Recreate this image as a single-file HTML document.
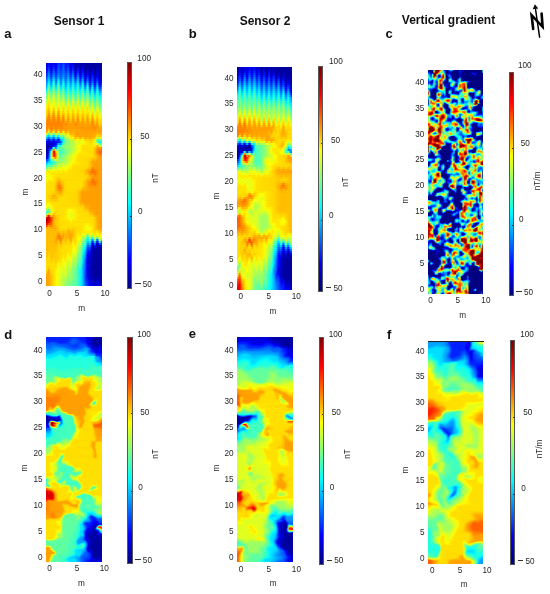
<!DOCTYPE html>
<html><head><meta charset="utf-8"><style>
html,body{margin:0;padding:0;background:#fff;}
body{width:550px;height:594px;position:relative;overflow:hidden;font-family:"Liberation Sans", Arial, sans-serif;}
.pn{position:absolute;overflow:hidden}
.pn i{display:block;width:100%;height:1px}
.cb{position:absolute;box-sizing:border-box;border:0.6px solid #555}
.tk{position:absolute;width:1.6px;height:1px;background:#333}
.mn{position:absolute;width:5.5px;height:1px;background:#333}
.t{position:absolute;white-space:nowrap;}
</style></head><body>
<div class="pn" style="left:46px;top:63px;width:56px;height:223px"><i style="height:2px;background:linear-gradient(90deg,#0000df,#0000e8 2px,#0011ff 3px,#0000df 4px,#0000df 6px,#0008ff 8px,#0000ec 9px,#0003ff 11px,#002bff 12px,#0037ff 13px,#0020ff 14px,#0020ff 16px,#0047ff 17px,#000aff 21px,#0030ff 22px,#0000fb 23px,#0000d0 26px,#0001ff 27px,#0000ba 28px,#0000a1 31px,#0000d7 32px,#00009f 33px,#0000ab 36px,#0000c4 37px,#00009f 38px,#00009f)"></i><i style="height:2px;background:linear-gradient(90deg,#0000df,#0000df 1px,#0002ff 2px,#002aff 3px,#0000e6 4px,#0000df 6px,#000cff 7px,#0021ff 8px,#0000ec 9px,#0003ff 11px,#0045ff 12px,#0050ff 13px,#0020ff 14px,#0020ff 16px,#0060ff 17px,#004cff 18px,#0020ff 19px,#0011ff 21px,#0044ff 22px,#0015ff 23px,#0000e7 24px,#0000e1 26px,#001aff 27px,#0000d1 28px,#0000ae 29px,#0000a3 30px,#0000ba 31px,#0000f0 32px,#0000ad 33px,#00009f 35px,#0000d9 37px,#0000a1 38px,#00009f)"></i><i style="height:2px;background:linear-gradient(90deg,#0000df,#0000df 1px,#001bff 2px,#0043ff 3px,#0000ff 4px,#0000df 5px,#0000e1 6px,#0025ff 7px,#003aff 8px,#0002ff 9px,#000fff 11px,#0053ff 12px,#005bff 13px,#002cff 14px,#0020ff 15px,#0036ff 16px,#0060ff 17px,#0060ff 18px,#0022ff 19px,#0016ff 20px,#002aff 21px,#0051ff 22px,#002eff 23px,#0000e7 24px,#0000dc 25px,#0000fa 26px,#0033ff 27px,#0000ea 28px,#0000ae 29px,#0000a3 30px,#000aff 32px,#00009f 34px,#00009f 35px,#0000dc 36px,#0000f2 37px,#0000b1 38px,#00009f 39px,#0000b5 42px,#00009f 43px,#00009f 45px,#0000b2 46px,#00009f 49px,#00009f 50px,#0000bc 51px,#0000a1 52px,#00009f)"></i><i style="height:2px;background:linear-gradient(90deg,#0000df,#0000f0 1px,#005cff 3px,#0019ff 4px,#0000df 5px,#0000fa 6px,#003eff 7px,#0052ff 8px,#001cff 9px,#0000f7 10px,#0059ff 12px,#005eff 13px,#0020ff 15px,#004fff 16px,#0060ff 18px,#0016ff 20px,#005eff 22px,#0041ff 23px,#0000f8 24px,#0000dc 25px,#0014ff 26px,#004eff 27px,#0004ff 28px,#0000b5 29px,#0000ad 30px,#0000ec 31px,#0025ff 32px,#0000df 33px,#00009f 34px,#0000b4 35px,#0000f5 36px,#000cff 37px,#0000c1 38px,#00009f 39px,#0000a7 40px,#0000c6 41px,#0000ce 42px,#00009f 43px,#00009f 45px,#0000cb 46px,#0000c4 47px,#00009f 48px,#00009f 50px,#0000d5 51px,#00009f 53px,#00009f)"></i><i style="height:2px;background:linear-gradient(90deg,#0000f9,#000aff 1px,#004dff 2px,#0075ff 3px,#0000ef 5px,#0014ff 6px,#0057ff 7px,#006bff 8px,#0000fd 10px,#0042ff 11px,#0061ff 12px,#005eff 14px,#0025ff 15px,#0060ff 16px,#006bff 17px,#0054ff 19px,#0025ff 20px,#0075ff 22px,#0053ff 23px,#0012ff 24px,#0000f5 25px,#002dff 26px,#0072ff 27px,#001dff 28px,#0000ce 29px,#0000c6 30px,#0007ff 31px,#004fff 32px,#0000f8 33px,#0000b6 34px,#0000cd 35px,#000fff 36px,#0025ff 37px,#0000d6 38px,#0000a5 39px,#0000ae 40px,#0000df 41px,#0000e7 42px,#0000a4 43px,#0000a1 45px,#0000e4 46px,#0000dd 47px,#00009f 48px,#0000ab 50px,#0000e4 51px,#0000d3 52px,#00009f 53px,#00009f 54px,#0000b5)"></i><i style="height:2px;background:linear-gradient(90deg,#0013ff,#0024ff 1px,#0066ff 2px,#008eff 3px,#0009ff 5px,#002eff 6px,#0070ff 7px,#0084ff 8px,#0017ff 10px,#007aff 12px,#007aff 13px,#003fff 15px,#0084ff 17px,#0060ff 19px,#003fff 20px,#0059ff 21px,#008eff 22px,#0066ff 23px,#002bff 24px,#0010ff 25px,#0047ff 26px,#0095ff 27px,#0036ff 28px,#0000e8 29px,#0000e0 30px,#0020ff 31px,#007aff 32px,#0012ff 33px,#0000cf 34px,#0000e6 35px,#0028ff 36px,#003eff 37px,#0000ef 38px,#0000b0 39px,#0000c1 40px,#0000f8 41px,#0001ff 42px,#0000be 43px,#00009f 44px,#0000ba 45px,#0000fd 46px,#0000f6 47px,#0000b4 48px,#00009f 49px,#0000eb 51px,#0000e1 52px,#0000aa 53px,#00009f 54px,#0000ce)"></i><i style="height:2px;background:linear-gradient(90deg,#002cff,#003dff 1px,#007fff 2px,#00a8ff 3px,#0022ff 5px,#0047ff 6px,#0089ff 7px,#009dff 8px,#005cff 9px,#0030ff 10px,#0093ff 12px,#0093ff 13px,#0060ff 14px,#0060ff 16px,#009dff 17px,#0089ff 18px,#0060ff 19px,#0056ff 20px,#0065ff 21px,#00a7ff 22px,#007fff 23px,#0041ff 24px,#0029ff 25px,#0063ff 26px,#00b1ff 27px,#0002ff 29px,#0000f9 30px,#009eff 32px,#0031ff 33px,#0000e8 34px,#0000ff 35px,#0042ff 36px,#005bff 37px,#000aff 38px,#0000bb 39px,#0000db 40px,#0013ff 41px,#001aff 42px,#0000d7 43px,#00009f 44px,#0000d4 45px,#0017ff 46px,#0010ff 47px,#00009f 49px,#0000dd 50px,#0000f4 51px,#0000c3 53px,#0000a5 54px,#0000df)"></i><i style="height:2px;background:linear-gradient(90deg,#0046ff,#0056ff 1px,#0098ff 2px,#00c4ff 3px,#003cff 5px,#0060ff 6px,#00a4ff 7px,#00ccff 8px,#0074ff 9px,#0043ff 10px,#006aff 11px,#00b9ff 12px,#00b9ff 13px,#006aff 14px,#0060ff 15px,#0074ff 16px,#00beff 17px,#00a3ff 18px,#0060ff 19px,#005aff 20px,#007eff 21px,#00c0ff 22px,#0098ff 23px,#0057ff 24px,#0042ff 25px,#00caff 27px,#0084ff 28px,#001bff 29px,#0013ff 30px,#007dff 31px,#00bfff 32px,#0003ff 34px,#001aff 35px,#008dff 37px,#0023ff 38px,#0000d4 39px,#0000f4 40px,#0032ff 41px,#0045ff 42px,#0000f0 43px,#0000ae 44px,#0000ed 45px,#0033ff 46px,#0029ff 47px,#0000e5 48px,#0000b5 49px,#0000ea 50px,#001fff 51px,#0000e7 52px,#0000bf 54px,#0000df)"></i><i style="height:2px;background:linear-gradient(90deg,#005fff,#006fff 1px,#00b1ff 2px,#00e0ff 3px,#0055ff 5px,#0079ff 6px,#00d2ff 7px,#00feff 8px,#008dff 9px,#0053ff 10px,#0083ff 11px,#00ebff 12px,#00ebff 13px,#0083ff 14px,#0060ff 15px,#008dff 16px,#00e1ff 17px,#00c1ff 18px,#0079ff 19px,#005eff 20px,#00d9ff 22px,#00b1ff 23px,#006fff 24px,#005cff 25px,#00e3ff 27px,#00a7ff 28px,#0039ff 29px,#0035ff 30px,#00a4ff 31px,#00dfff 32px,#001cff 34px,#0036ff 35px,#0089ff 36px,#00bfff 37px,#003cff 38px,#0000ee 39px,#000eff 40px,#0064ff 41px,#0074ff 42px,#000aff 43px,#0000c7 44px,#0007ff 45px,#0051ff 46px,#0043ff 47px,#0000fa 48px,#0000ce 49px,#0000f7 50px,#004aff 51px,#0016ff 52px,#0000df 53px,#0000df)"></i><i style="height:2px;background:linear-gradient(90deg,#0078ff,#0089ff 1px,#0bfff4 3px,#006eff 5px,#0093ff 6px,#01fffe 7px,#29ffd6 8px,#00adff 9px,#0065ff 10px,#009cff 11px,#1effe1 12px,#1effe1 13px,#009cff 14px,#0065ff 15px,#01fffe 17px,#00dfff 18px,#0093ff 19px,#006eff 20px,#00f2ff 22px,#00caff 23px,#0089ff 24px,#0076ff 25px,#00fcff 27px,#00c0ff 28px,#0066ff 29px,#0066ff 30px,#00c0ff 31px,#00f8ff 32px,#003cff 34px,#0053ff 35px,#00bbff 36px,#00e5ff 37px,#0063ff 38px,#0008ff 39px,#0027ff 40px,#0096ff 41px,#00a5ff 42px,#0026ff 43px,#0000e1 44px,#0020ff 45px,#0070ff 46px,#005cff 47px,#0010ff 48px,#0000e5 49px,#000eff 50px,#0078ff 51px,#0045ff 52px,#0000df 53px,#0000df 54px,#0008ff)"></i><i style="height:2px;background:linear-gradient(90deg,#0092ff,#00a2ff 1px,#00e8ff 2px,#3affc5 3px,#00d6ff 4px,#0088ff 5px,#00b4ff 6px,#26ffd9 7px,#42ffbd 8px,#00dfff 9px,#007eff 10px,#00ccff 11px,#38ffc7 12px,#38ffc7 13px,#00caff 14px,#007eff 15px,#00d1ff 16px,#1affe5 17px,#00faff 18px,#00acff 19px,#0088ff 20px,#0cfff3 22px,#00e3ff 23px,#00a2ff 24px,#0091ff 25px,#00d3ff 26px,#15ffea 27px,#00daff 28px,#0093ff 29px,#0098ff 30px,#00ddff 31px,#12ffed 32px,#00c8ff 33px,#005eff 34px,#0075ff 35px,#00e6ff 36px,#04fffb 37px,#0021ff 39px,#0050ff 40px,#00c6ff 41px,#00d7ff 42px,#0052ff 43px,#0000fa 44px,#0043ff 45px,#00a3ff 46px,#008aff 47px,#002cff 48px,#0000f5 49px,#0034ff 50px,#00aaff 51px,#0075ff 52px,#0000f1 53px,#0000df 54px,#003aff)"></i><i style="height:2px;background:linear-gradient(90deg,#00abff,#00bbff 1px,#1bffe4 2px,#64ff9b 3px,#00f8ff 4px,#00a2ff 5px,#00deff 6px,#43ffbc 7px,#5bffa4 8px,#13ffec 9px,#0097ff 10px,#00feff 11px,#51ffae 12px,#51ffae 13px,#00faff 14px,#0097ff 15px,#00f8ff 16px,#33ffcc 17px,#14ffeb 18px,#00c6ff 19px,#00a1ff 20px,#00e2ff 21px,#25ffda 22px,#00fcff 23px,#00bbff 24px,#00abff 25px,#00ecff 26px,#2effd1 27px,#00f3ff 28px,#00b1ff 29px,#00b5ff 30px,#00f6ff 31px,#2bffd4 32px,#00e9ff 33px,#0083ff 34px,#00a3ff 35px,#00ffff 36px,#21ffde 37px,#00c7ff 38px,#003bff 39px,#0083ff 40px,#00f6ff 41px,#0afff5 42px,#007dff 43px,#0015ff 44px,#0066ff 45px,#00d5ff 46px,#00bcff 47px,#0049ff 48px,#0007ff 49px,#005bff 50px,#00dcff 51px,#00a7ff 52px,#0025ff 53px,#0000e9 54px,#006dff)"></i><i style="height:2px;background:linear-gradient(90deg,#00c4ff,#00d4ff 1px,#4dffb2 2px,#7dff82 3px,#24ffdb 4px,#00c8ff 5px,#09fff6 6px,#60ff9f 7px,#74ff8b 8px,#33ffcc 9px,#00c2ff 10px,#29ffd6 11px,#6aff95 12px,#6aff95 13px,#23ffdc 14px,#00bdff 15px,#16ffe9 16px,#4cffb3 17px,#2dffd2 18px,#00dfff 19px,#00baff 20px,#00fcff 21px,#3effc1 22px,#17ffe8 23px,#00d4ff 24px,#00c4ff 25px,#06fff9 26px,#47ffb8 27px,#0dfff2 28px,#00cbff 29px,#00ceff 30px,#10ffef 31px,#44ffbb 32px,#03fffc 33px,#00adff 34px,#00d2ff 35px,#1affe5 36px,#3affc5 37px,#00eaff 38px,#006cff 39px,#00b5ff 40px,#24ffdb 41px,#2bffd4 42px,#00adff 43px,#0036ff 44px,#00f9ff 46px,#00e7ff 47px,#006bff 48px,#0026ff 49px,#00f6ff 51px,#00d9ff 52px,#0057ff 53px,#001dff 54px,#009fff)"></i><i style="height:2px;background:linear-gradient(90deg,#00deff,#00fcff 1px,#6fff90 2px,#96ff69 3px,#00edff 5px,#2bffd4 6px,#79ff86 7px,#8dff72 8px,#00f5ff 10px,#83ff7c 12px,#83ff7c 13px,#3cffc3 14px,#00e9ff 15px,#2fffd0 16px,#65ff9a 17px,#46ffb9 18px,#00f9ff 19px,#00d4ff 20px,#16ffe9 21px,#57ffa8 22px,#00eeff 24px,#00deff 25px,#1fffe0 26px,#60ff9f 27px,#26ffd9 28px,#00e4ff 29px,#00e7ff 30px,#29ffd6 31px,#5dffa2 32px,#1cffe3 33px,#00d7ff 34px,#00f1ff 35px,#33ffcc 36px,#53ffac 37px,#0dfff2 38px,#009fff 39px,#00e0ff 40px,#3dffc2 41px,#44ffbb 42px,#00dfff 43px,#005dff 44px,#00c2ff 45px,#13ffec 46px,#01fffe 47px,#0048ff 49px,#00beff 50px,#10ffef 51px,#00f5ff 52px,#008aff 53px,#004fff 54px,#00d1ff)"></i><i style="height:2px;background:linear-gradient(90deg,#10ffef,#30ffcf 1px,#88ff77 2px,#afff50 3px,#6fff90 4px,#14ffeb 5px,#92ff6d 7px,#a6ff59 8px,#24ffdb 10px,#9cff63 12px,#9cff63 13px,#13ffec 15px,#7eff81 17px,#5fffa0 18px,#13ffec 19px,#00edff 20px,#70ff8f 22px,#49ffb6 23px,#08fff7 24px,#00f7ff 25px,#79ff86 27px,#00fdff 29px,#02fffd 30px,#76ff89 32px,#00f4ff 34px,#0bfff4 35px,#4cffb3 36px,#6cff93 37px,#2cffd3 38px,#00cdff 39px,#0dfff2 40px,#56ffa9 41px,#5dffa2 42px,#11ffee 43px,#0085ff 44px,#00f5ff 45px,#2cffd3 46px,#1affe5 47px,#00d0ff 48px,#006fff 49px,#00e8ff 50px,#29ffd6 51px,#0ffff0 52px,#0082ff 54px,#00f1ff)"></i><i style="height:2px;background:linear-gradient(90deg,#42ffbd,#61ff9e 1px,#a2ff5d 2px,#c8ff37 3px,#3bffc4 5px,#abff54 7px,#bfff40 8px,#3effc1 10px,#b5ff4a 12px,#b5ff4a 13px,#2cffd3 15px,#97ff68 17px,#78ff87 18px,#2cffd3 19px,#07fff8 20px,#88ff77 22px,#62ff9d 23px,#21ffde 24px,#11ffee 25px,#92ff6d 27px,#18ffe7 29px,#1bffe4 30px,#8fff70 32px,#0efff1 34px,#25ffda 35px,#65ff9a 36px,#85ff7a 37px,#00f4ff 39px,#2effd1 40px,#6fff90 41px,#76ff89 42px,#2affd5 43px,#00b8ff 44px,#10ffef 45px,#45ffba 46px,#33ffcc 47px,#00f1ff 48px,#00a1ff 49px,#02fffd 50px,#42ffbd 51px,#28ffd7 52px,#00e7ff 53px,#00b5ff 54px,#0bfff4)"></i><i style="height:2px;background:linear-gradient(90deg,#6aff95,#7aff85 1px,#bbff44 2px,#e1ff1e 3px,#61ff9e 5px,#84ff7b 6px,#c4ff3b 7px,#d8ff27 8px,#57ffa8 10px,#ceff31 12px,#ceff31 13px,#46ffb9 15px,#b0ff4f 17px,#91ff6e 18px,#45ffba 19px,#21ffde 20px,#a1ff5e 22px,#7bff84 23px,#3bffc4 24px,#2affd5 25px,#abff54 27px,#31ffce 29px,#34ffcb 30px,#a8ff57 32px,#27ffd8 34px,#3effc1 35px,#7eff81 36px,#9eff61 37px,#1cffe3 39px,#47ffb8 40px,#88ff77 41px,#8fff70 42px,#43ffbc 43px,#00ebff 44px,#29ffd6 45px,#5effa1 46px,#4cffb3 47px,#0bfff4 48px,#00d4ff 49px,#1bffe4 50px,#5bffa4 51px,#42ffbd 52px,#01fffe 53px,#00e3ff 54px,#25ffda)"></i><i style="height:2px;background:linear-gradient(90deg,#84ff7b,#94ff6b 1px,#d4ff2b 2px,#f7ff08 3px,#7aff85 5px,#9dff62 6px,#ddff22 7px,#dfff20 8px,#70ff8f 10px,#dfff20 12px,#dfff20 13px,#5fffa0 15px,#c2ff3d 17px,#aaff55 18px,#5fffa0 19px,#3affc5 20px,#baff45 22px,#94ff6b 23px,#54ffab 24px,#44ffbb 25px,#c4ff3b 27px,#4affb5 29px,#4dffb2 30px,#c1ff3e 32px,#41ffbe 34px,#57ffa8 35px,#97ff68 36px,#b7ff48 37px,#37ffc8 39px,#61ff9e 40px,#a1ff5e 41px,#a8ff57 42px,#11ffee 44px,#77ff88 46px,#65ff9a 47px,#24ffdb 48px,#00f3ff 49px,#74ff8b 51px,#5bffa4 52px,#1affe5 53px,#00fdff 54px,#3effc1)"></i><i style="height:2px;background:linear-gradient(90deg,#9dff62,#adff52 1px,#edff12 2px,#fff100 3px,#d3ff2c 4px,#93ff6c 5px,#e3ff1c 7px,#caff35 9px,#8aff75 10px,#c0ff3f 11px,#dfff20 12px,#dfff20 13px,#baff45 14px,#79ff86 15px,#d2ff2d 17px,#bfff40 18px,#78ff87 19px,#54ffab 20px,#d3ff2c 22px,#adff52 23px,#6dff92 24px,#5dffa2 25px,#ddff22 27px,#63ff9c 29px,#67ff98 30px,#daff25 32px,#5affa5 34px,#70ff8f 35px,#b0ff4f 36px,#d0ff2f 37px,#50ffaf 39px,#7aff85 40px,#baff45 41px,#c1ff3e 42px,#2affd5 44px,#90ff6f 46px,#7eff81 47px,#0dfff2 49px,#8dff72 51px,#74ff8b 52px,#34ffcb 53px,#17ffe8 54px,#57ffa8)"></i><i style="height:2px;background:linear-gradient(90deg,#b6ff49,#c6ff39 1px,#fff800 2px,#ffe500 3px,#e8ff17 4px,#adff52 5px,#e7ff18 7px,#dfff20 9px,#a3ff5c 10px,#d9ff26 11px,#dfff20 13px,#d4ff2b 14px,#92ff6d 15px,#c4ff3b 16px,#e3ff1c 17px,#d3ff2c 18px,#91ff6e 19px,#6dff92 20px,#ecff13 22px,#c6ff39 23px,#86ff79 24px,#76ff89 25px,#f6ff09 27px,#7dff82 29px,#80ff7f 30px,#f3ff0c 32px,#73ff8c 34px,#8aff75 35px,#c9ff36 36px,#e9ff16 37px,#6aff95 39px,#93ff6c 40px,#d3ff2c 41px,#daff25 42px,#44ffbb 44px,#a9ff56 46px,#97ff68 47px,#27ffd8 49px,#a6ff59 51px,#8dff72 52px,#4dffb2 53px,#30ffcf 54px,#70ff8f)"></i><i style="height:2px;background:linear-gradient(90deg,#cfff30,#dfff20 1px,#ffdf00 2px,#ffe200 3px,#faff05 4px,#c6ff39 5px,#f1ff0e 7px,#fcff03 8px,#bcff43 10px,#f2ff0d 12px,#f2ff0d 13px,#dbff24 14px,#abff54 15px,#fcff03 17px,#e9ff16 18px,#aaff55 19px,#86ff79 20px,#fff900 22px,#dfff20 23px,#a0ff5f 24px,#90ff6f 25px,#ffef00 27px,#d6ff29 28px,#96ff69 29px,#99ff66 30px,#d9ff26 31px,#fff200 32px,#8dff72 34px,#a3ff5c 35px,#e2ff1d 36px,#fffc00 37px,#83ff7c 39px,#acff53 40px,#ecff13 41px,#f3ff0c 42px,#5dffa2 44px,#c2ff3d 46px,#b0ff4f 47px,#40ffbf 49px,#bfff40 51px,#a6ff59 52px,#66ff99 53px,#4affb5 54px,#89ff76)"></i><i style="height:2px;background:linear-gradient(90deg,#e9ff16,#f9ff06 1px,#ffdf00 2px,#ffdf00 3px,#fff300 4px,#dfff20 5px,#fff800 7px,#ffe900 8px,#dfff20 9px,#dfff20 11px,#fff300 12px,#fff300 13px,#c5ff3a 15px,#dbff24 16px,#ffe900 17px,#fffc00 18px,#c3ff3c 19px,#a0ff5f 20px,#dfff20 21px,#ffe000 22px,#f8ff07 23px,#b9ff46 24px,#a9ff56 25px,#e8ff17 26px,#ffdf00 27px,#efff10 28px,#afff50 29px,#b3ff4c 30px,#f2ff0d 31px,#ffdf00 32px,#e5ff1a 33px,#a6ff59 34px,#bcff43 35px,#fbff04 36px,#ffe300 37px,#dcff23 38px,#9cff63 39px,#fff900 41px,#fff200 42px,#76ff89 44px,#dbff24 46px,#c9ff36 47px,#59ffa6 49px,#d8ff27 51px,#bfff40 52px,#7fff80 53px,#63ff9c 54px,#a2ff5d)"></i><i style="height:2px;background:linear-gradient(90deg,#fffc00,#ffc700 3px,#ffeb00 4px,#ecff13 5px,#f4ff0b 6px,#ffd000 8px,#efff10 9px,#dfff20 10px,#e5ff1a 11px,#ffda00 12px,#ffda00 13px,#e5ff1a 14px,#d2ff2d 15px,#efff10 16px,#ffda00 17px,#ffe300 18px,#dcff23 19px,#b9ff46 20px,#f8ff07 21px,#ffdf00 22px,#ffed00 23px,#d2ff2d 24px,#c2ff3d 25px,#fffc00 26px,#ffdf00 27px,#fff600 28px,#c9ff36 29px,#ccff33 30px,#fff300 31px,#ffdf00 32px,#feff01 33px,#bfff40 34px,#d5ff2a 35px,#ffe900 36px,#ffdf00 37px,#f5ff0a 38px,#b6ff49 39px,#dfff20 40px,#ffe000 41px,#ffe400 42px,#daff25 43px,#90ff6f 44px,#f3ff0c 46px,#e2ff1d 47px,#73ff8c 49px,#f1ff0e 51px,#d8ff27 52px,#99ff66 53px,#7cff83 54px,#bbff44)"></i><i style="height:2px;background:linear-gradient(90deg,#ffe300,#ffd400 2px,#ffae00 3px,#ffe300 4px,#f9ff06 5px,#fffb00 6px,#ffca00 7px,#ffb700 8px,#fff600 9px,#dfff20 10px,#feff01 11px,#ffc100 12px,#ffc100 13px,#feff01 14px,#d9ff26 15px,#fff600 16px,#ffd000 17px,#ffdb00 18px,#f5ff0a 19px,#d2ff2d 20px,#ffed00 21px,#ffdf00 23px,#ebff14 24px,#dcff23 25px,#ffe300 26px,#ffdf00 28px,#e2ff1d 29px,#e5ff1a 30px,#ffdf00 31px,#ffe600 33px,#d9ff26 34px,#efff10 35px,#ffdf00 36px,#fff000 38px,#cfff30 39px,#f8ff07 40px,#ffdf00 41px,#ffe200 42px,#f4ff0b 43px,#a9ff56 44px,#fff700 46px,#fbff04 47px,#8cff73 49px,#fff400 51px,#f1ff0e 52px,#b2ff4d 53px,#96ff69 54px,#d5ff2a)"></i><i style="height:2px;background:linear-gradient(90deg,#ffdf00,#ffdf00 1px,#ff9a00 3px,#ffd400 4px,#fff800 5px,#ffea00 6px,#ffb100 7px,#ff9f00 8px,#ffdd00 9px,#e2ff1d 10px,#ffe600 11px,#ffa800 12px,#ffa800 13px,#ffe600 14px,#e2ff1d 15px,#ffde00 16px,#ffc600 17px,#fff000 19px,#ecff13 20px,#ffdf00 21px,#ffd200 22px,#f5ff0a 25px,#ffc700 27px,#fbff04 29px,#feff01 30px,#ffc800 32px,#f2ff0d 34px,#ffd800 37px,#ffdf00 38px,#e8ff17 39px,#ffed00 40px,#ffdf00 42px,#fff100 43px,#c3ff3c 44px,#f3ff0c 45px,#ffe300 46px,#ffea00 47px,#d5ff2a 48px,#a6ff59 49px,#e4ff1b 50px,#ffde00 51px,#fff400 52px,#cbff34 53px,#afff50 54px,#eeff11)"></i><i style="height:2px;background:linear-gradient(90deg,#ffdf00,#ffdf00 1px,#ffa100 2px,#ff8e00 3px,#ffec00 5px,#ffd700 6px,#ff9c00 7px,#ff9200 8px,#fcff03 10px,#ff9700 12px,#ff9700 13px,#fcff03 15px,#ffaa00 17px,#fff900 20px,#ffb300 22px,#ffdf00 23px,#fff000 25px,#ffdf00 26px,#ffa900 27px,#ffdf00 28px,#ffe600 30px,#ffdf00 31px,#ffa700 32px,#ffdf00 33px,#fff300 34px,#ffdf00 35px,#ffde00 36px,#ffbf00 37px,#fffc00 39px,#ffdf00 40px,#ffc800 42px,#ffea00 43px,#dcff23 44px,#fffa00 45px,#ffcb00 46px,#ffd200 47px,#eeff11 48px,#bfff40 49px,#feff01 50px,#ffd600 51px,#ffdf00 52px,#e4ff1b 53px,#c8ff37 54px,#fff700)"></i><i style="height:2px;background:linear-gradient(90deg,#ffd600,#ffc700 1px,#ff9400 2px,#ff8100 3px,#ffa100 4px,#ffdf00 5px,#ff8f00 7px,#ff8600 8px,#ffab00 9px,#ffe900 10px,#ff8a00 12px,#ff8a00 13px,#ffe900 15px,#ff8e00 17px,#ffa800 18px,#ffdf00 19px,#ffdf00 21px,#ff9400 22px,#ffc500 23px,#ffdf00 24px,#ffd700 26px,#ff9400 27px,#ffcd00 28px,#ffdf00 30px,#ffc700 31px,#ff8a00 32px,#ffda00 33px,#ffdf00 35px,#ffa600 37px,#ffdf00 38px,#ffdf00 40px,#ffbc00 41px,#ffaf00 42px,#ffe300 43px,#f5ff0a 44px,#ffea00 45px,#ffb200 46px,#ffb800 47px,#fff700 48px,#d8ff27 49px,#ffe700 50px,#ffcf00 51px,#ffdb00 52px,#feff01 53px,#e2ff1d 54px,#ffdf00)"></i><i style="height:2px;background:linear-gradient(90deg,#ffbd00,#ffae00 1px,#ff8700 2px,#ff8000 3px,#ff9400 4px,#ffc600 5px,#ff8300 7px,#ff8000 8px,#ff9800 9px,#ffd000 10px,#ff9d00 11px,#ff7f00 12px,#ff8000 13px,#ffd400 15px,#ff8300 17px,#ff8800 18px,#ffde00 19px,#ffdf00 20px,#ff9500 22px,#ffa800 23px,#ffdf00 24px,#ffdf00 25px,#ff9900 27px,#ffad00 28px,#ffdf00 29px,#ffdf00 30px,#ffa300 31px,#ff9300 32px,#ffdf00 34px,#ffdf00 35px,#ffac00 36px,#ff9f00 37px,#ffcb00 38px,#ffdf00 39px,#ffdf00 40px,#ffa300 41px,#ff9f00 42px,#ffd400 43px,#fff600 44px,#ffd700 45px,#ff9d00 46px,#ff9f00 47px,#ffde00 48px,#f2ff0d 49px,#ffbf00 51px,#fbff04 54px,#ffdf00)"></i><i style="height:2px;background:linear-gradient(90deg,#ff9f00,#ff8000 2px,#ff8700 4px,#ffa800 5px,#ff8000 7px,#ff8b00 9px,#ffb000 10px,#ff8000 12px,#ff8000 13px,#ff9300 14px,#ffbd00 15px,#ff9600 16px,#ff8600 18px,#ffbc00 19px,#ffdf00 20px,#ff9f00 21px,#ff9700 23px,#ffd000 24px,#ffdf00 25px,#ffa000 26px,#ff8e00 28px,#ffd700 29px,#ffd200 30px,#ff8400 31px,#ff9a00 32px,#ff9b00 33px,#ffdf00 34px,#ffcd00 35px,#ff9f00 36px,#ff9f00 37px,#ffb200 38px,#ffdf00 39px,#ff9f00 41px,#ff9e00 42px,#ffe800 44px,#ff9400 46px,#ff9500 47px,#ffed00 49px,#ffae00 51px,#ffdf00 53px,#ffdf00)"></i><i style="height:2px;background:linear-gradient(90deg,#ff9000,#ff8000 4px,#ff9400 5px,#ff8000 8px,#ff7f00 9px,#ff9800 10px,#ff8200 11px,#ff8300 14px,#ffa500 15px,#ff8000 16px,#ff8f00 18px,#ff9300 19px,#ffc000 20px,#ff8e00 21px,#ff9f00 22px,#ff9a00 23px,#ffc100 25px,#ff9a00 26px,#ff9300 28px,#ffaf00 29px,#ffa800 30px,#ff8e00 31px,#ff9f00 32px,#ff9300 33px,#ffbf00 34px,#ff9f00 36px,#ff9f00 38px,#ffcc00 39px,#ffaa00 40px,#ffa000 43px,#ffd300 44px,#ffa300 45px,#ff8c00 46px,#ff8a00 47px,#ffd400 49px,#ff9c00 51px,#ffdf00 53px,#ffd300)"></i><i style="height:2px;background:linear-gradient(90deg,#ff8200,#ff8000 14px,#ff8d00 15px,#ff8600 16px,#ff9800 18px,#ff8600 19px,#ff9e00 23px,#ff9a00 28px,#ff8200 30px,#ff9f00 32px,#ff9f00 38px,#ffad00 39px,#ff9d00 42px,#ff9c00 43px,#ffb400 44px,#ff8800 46px,#ff8000 47px,#ffbf00 49px,#ff9800 51px,#ffa100 52px,#ffd300 53px,#ffdf00 54px,#ffba00)"></i><i style="height:2px;background:linear-gradient(90deg,#ff8000,#ff9200 3px,#ff8000 5px,#ff8f00 8px,#ff8000 10px,#ff8c00 13px,#ff8100 15px,#ff9b00 18px,#ff8d00 20px,#ff9f00 22px,#ff9f00 28px,#ff9000 30px,#ff9f00 32px,#ff9d00 44px,#ff8b00 47px,#ff8f00 48px,#ffab00 49px,#ff9600 50px,#ff9c00 52px,#ffca00 54px,#ffa100)"></i><i style="height:2px;background:linear-gradient(90deg,#ff8000,#ff9b00 3px,#ff8000 5px,#ff9900 8px,#ff8000 10px,#ff9600 13px,#ff8600 15px,#ff9d00 18px,#ff9600 44px,#ff9600 47px,#ff8800 48px,#ff9e00 52px,#ffab00 54px,#ff9f00)"></i><i style="height:2px;background:linear-gradient(90deg,#ff8a00,#ff9c00 2px,#ffe600 3px,#ff9700 4px,#ff8800 5px,#ff9f00 7px,#ffcc00 8px,#ff9400 9px,#ff8600 10px,#ffaf00 12px,#ffaf00 13px,#ff9300 14px,#ff9900 16px,#ffbb00 17px,#ff9f00 18px,#ff9f00 21px,#ffb700 22px,#ff9f00 23px,#ffa900 27px,#ff9f00 37px,#ff9800 45px,#ff9f00 47px,#ff8f00 49px,#ffa600 51px,#ff9f00)"></i><i style="height:2px;background:linear-gradient(90deg,#ff9900,#ff9c00 1px,#f8ff07 2px,#a2ff5d 3px,#ffcd00 4px,#ff9700 5px,#ff9e00 6px,#e3ff1c 7px,#b8ff47 8px,#ffb700 9px,#ff9500 10px,#ffa200 11px,#dfff20 12px,#e3ff1c 13px,#ffa200 14px,#ff9800 15px,#ffb000 16px,#f6ff09 17px,#ffe600 18px,#ff9f00 19px,#ffb100 21px,#ffdd00 22px,#ff9f00 24px,#ffb400 27px,#ff9f00 30px,#ffa200 50px,#ffb400 51px,#ff9f00 54px,#ffa800)"></i><i style="height:2px;background:linear-gradient(90deg,#f8ff07,#dcff23 1px,#6fff90 2px,#2dffd2 3px,#fff600 5px,#ccff33 6px,#5effa1 7px,#3effc1 8px,#b1ff4e 9px,#ffe100 10px,#cbff34 11px,#6fff90 12px,#77ff88 13px,#dcff23 14px,#ffd300 15px,#e4ff1b 16px,#aaff55 17px,#ceff31 18px,#ffea00 19px,#ffc600 20px,#faff05 22px,#ffba00 24px,#ffb000 25px,#ffbf00 27px,#ffa000 30px,#ffa400 49px,#ffc400 52px,#ffaf00 54px,#ffc100)"></i><i style="height:2px;background:linear-gradient(90deg,#53ffac,#3cffc3 1px,#00deff 2px,#00b9ff 3px,#04fffb 4px,#61ff9e 5px,#2effd1 6px,#00d5ff 7px,#00c3ff 8px,#1dffe2 9px,#7eff81 10px,#00f6ff 12px,#02fffd 13px,#acff53 15px,#7bff84 16px,#5dffa2 17px,#82ff7d 18px,#c4ff3b 19px,#edff12 20px,#d3ff2c 22px,#f8ff07 23px,#ffca00 25px,#ffdd00 27px,#ffb900 28px,#ff9f00 31px,#ffb600 32px,#ff9f00 33px,#ffa100 36px,#ffaf00 37px,#ff9f00 39px,#ffad00 49px,#ffbd00 50px,#ffea00 51px,#ffca00 54px,#ffda00)"></i><i style="height:2px;background:linear-gradient(90deg,#00c7ff,#00b8ff 1px,#0079ff 2px,#0054ff 3px,#00d1ff 5px,#00aeff 6px,#0070ff 7px,#005eff 8px,#00f1ff 10px,#007fff 12px,#0085ff 13px,#00e7ff 14px,#3dffc2 15px,#23ffdc 16px,#1effe1 17px,#90ff6f 19px,#b0ff4f 20px,#adff52 22px,#fcff03 24px,#ffe800 25px,#efff10 27px,#ffe800 28px,#ffbd00 29px,#ffb300 30px,#ffe800 32px,#ffaa00 34px,#ffb500 35px,#ffd300 36px,#ffdd00 37px,#ffa400 39px,#ffbf00 42px,#ffa000 44px,#ffbe00 46px,#ffba00 49px,#fff700 50px,#b5ff4a 51px,#adff52 52px,#e6ff19 53px,#fff500 54px,#bbff44)"></i><i style="height:2px;background:linear-gradient(90deg,#0063ff,#0053ff 1px,#0015ff 2px,#0000ee 3px,#006cff 5px,#004aff 6px,#000bff 7px,#0000f8 8px,#0083ff 10px,#0008ff 12px,#000aff 13px,#00d9ff 15px,#00d1ff 16px,#00dfff 17px,#28ffd7 18px,#75ff8a 19px,#92ff6d 20px,#86ff79 22px,#e4ff1b 25px,#bdff42 27px,#fff000 29px,#ffe600 30px,#fdff02 31px,#e4ff1b 32px,#fffb00 33px,#ffdc00 34px,#f9ff06 36px,#f4ff0b 37px,#ffc800 39px,#ffd800 42px,#ffb900 44px,#ffd700 46px,#ffd600 47px,#fff500 49px,#baff45 50px,#55ffaa 51px,#3cffc3 52px,#8bff74 54px,#3dffc2)"></i><i style="height:2px;background:linear-gradient(90deg,#0000fd,#0000d3 2px,#0000cc 3px,#0000db 4px,#0007ff 5px,#0000e4 6px,#0000e3 9px,#0015ff 10px,#0000e3 11px,#0029ff 12px,#003bff 13px,#0008ff 14px,#0076ff 15px,#0098ff 16px,#07fff8 17px,#5affa5 19px,#75ff8a 20px,#9eff61 24px,#b2ff4d 25px,#baff45 27px,#e6ff19 30px,#e3ff1c 33px,#f0ff0f 34px,#e5ff1a 35px,#faff05 38px,#ffec00 39px,#ffdf00 43px,#ffd200 44px,#ffdf00 47px,#ecff13 48px,#cdff32 49px,#87ff78 50px,#94ff6b 51px,#4fffb0 52px,#00e9ff 53px,#0dfff2 54px,#07fff8)"></i><i style="height:2px;background:linear-gradient(90deg,#0000cd,#0000b6 3px,#0000d7 5px,#0000e4 8px,#0002ff 9px,#0000fc 10px,#0037ff 11px,#0098ff 12px,#00c5ff 13px,#0094ff 14px,#0083ff 15px,#00f7ff 16px,#4fffb0 17px,#73ff8c 19px,#97ff68 23px,#efff10 33px,#f2ff0d 35px,#ffee00 37px,#fff500 39px,#ffdf00 43px,#ffdf00 47px,#fffa00 48px,#cfff30 49px,#d5ff2a 50px,#fdff02 51px,#d3ff2c 52px,#6bff94 53px,#41ffbe 54px,#9eff61)"></i><i style="height:2px;background:linear-gradient(90deg,#0000b4,#0000a1 2px,#0000df 7px,#0033ff 8px,#001fff 9px,#0036ff 10px,#008bff 11px,#03fffc 12px,#3fffc0 13px,#00f9ff 15px,#56ffa9 16px,#82ff7d 17px,#92ff6d 18px,#8cff73 20px,#9fff60 23px,#aeff51 26px,#fbff04 33px,#fff700 35px,#ffe000 36px,#ffe300 40px,#ffe200 48px,#fffc00 49px,#ffae00 51px,#ffa700 52px,#fffc00 53px,#d8ff27 54px,#ffc900)"></i><i style="height:2px;background:linear-gradient(90deg,#00009f,#00009f 2px,#0000e1 3px,#0000fd 4px,#0000cb 5px,#002cff 6px,#09fff6 7px,#8eff71 8px,#00d3ff 9px,#006fff 10px,#00fdff 11px,#4fffb0 12px,#47ffb8 13px,#6fff90 15px,#69ff96 17px,#9eff61 20px,#8fff70 22px,#dcff23 30px,#fff500 34px,#ffdf00 37px,#ffdf00 47px,#ffb600 50px,#ff9100 52px,#ff9d00 54px,#ff8d00)"></i><i style="height:2px;background:linear-gradient(90deg,#00009f,#00009f 2px,#000eff 3px,#0069ff 4px,#0076ff 5px,#15ffea 6px,#ffcd00 7px,#ff1700 8px,#eaff15 9px,#40ffbf 10px,#8dff72 11px,#9bff64 12px,#50ffaf 13px,#3fffc0 14px,#58ffa7 15px,#50ffaf 17px,#89ff76 20px,#83ff7c 22px,#feff01 33px,#ffdf00 37px,#ffdf00 47px,#ffa900 50px,#ff7b00 52px,#ff8400 54px,#ff7400)"></i><i style="height:2px;background:linear-gradient(90deg,#00009f,#0000aa 2px,#0027ff 3px,#00c4ff 4px,#21ffde 5px,#feff01 6px,#ff4300 7px,#ba0000 8px,#ff1200 9px,#ffeb00 10px,#ffe100 11px,#c0ff3f 12px,#5fffa0 13px,#26ffd9 14px,#3fffc0 15px,#3effc1 16px,#59ffa6 17px,#61ff9e 19px,#79ff86 21px,#94ff6b 22px,#a3ff5c 25px,#d0ff2f 27px,#dcff23 30px,#fffd00 32px,#ffdf00 37px,#ffdf00 47px,#ff6300 53px,#ff6400)"></i><i style="height:2px;background:linear-gradient(90deg,#0000af,#0000c3 2px,#0039ff 3px,#00ceff 4px,#6fff90 5px,#ffec00 6px,#ff5400 7px,#d30000 8px,#ff2100 9px,#ffdb00 11px,#ccff33 12px,#74ff8b 13px,#3effc1 14px,#3cffc3 15px,#72ff8d 17px,#78ff87 20px,#adff52 22px,#b3ff4c 25px,#e9ff16 27px,#e2ff1d 29px,#fff900 31px,#ffeb00 32px,#ffe600 35px,#ffdf00 47px,#ffab00 50px,#ff9000 52px,#ff7500 53px,#ff6e00 54px,#ff7e00)"></i><i style="height:2px;background:linear-gradient(90deg,#0000c9,#0000dc 2px,#0052ff 3px,#00d8ff 4px,#70ff8f 5px,#fff400 6px,#ff6500 7px,#ff0600 8px,#ff3100 9px,#ffd900 11px,#d5ff2a 12px,#88ff77 13px,#57ffa8 14px,#55ffaa 15px,#89ff76 17px,#91ff6e 20px,#c0ff3f 22px,#ccff33 25px,#f9ff06 27px,#fff700 30px,#ffdf00 32px,#ffde00 47px,#ffa600 52px,#ff8700 54px,#ff9700)"></i><i style="height:2px;background:linear-gradient(90deg,#0000e7,#0000f2 1px,#0022ff 2px,#00d6ff 4px,#70ff8f 5px,#dfff20 6px,#fffd00 7px,#ff8c00 9px,#ff8700 10px,#fff900 11px,#b2ff4d 12px,#6fff90 14px,#6fff90 15px,#98ff67 18px,#fff900 28px,#ffdf00 32px,#ffd800 45px,#ffc600 47px,#ffc900 49px,#ffa400 52px,#ff9f00)"></i><i style="height:2px;background:linear-gradient(90deg,#0033ff,#003fff 1px,#00ceff 4px,#36ffc9 5px,#74ff8b 6px,#64ff9b 7px,#6dff92 8px,#d6ff29 9px,#fff200 10px,#b9ff46 11px,#8eff71 12px,#82ff7d 15px,#9dff62 18px,#fff900 28px,#ffdf00 32px,#ffd500 44px,#ffad00 47px,#ffba00 49px,#ffa100 52px,#ff9f00)"></i><i style="height:2px;background:linear-gradient(90deg,#007fff,#008aff 1px,#00e3ff 3px,#00ccff 4px,#00fbff 5px,#23ffdc 7px,#41ffbe 8px,#39ffc6 9px,#98ff67 10px,#6dff92 11px,#a2ff5d 13px,#94ff6b 15px,#afff50 17px,#9fff60 19px,#b7ff48 21px,#d2ff2d 22px,#e3ff1c 25px,#fff900 27px,#ffdf00 33px,#ffd900 42px,#ffa100 47px,#ffa900 49px,#ff9f00)"></i><i style="height:2px;background:linear-gradient(90deg,#00caff,#00d6ff 1px,#06fff9 2px,#2cffd3 3px,#00fbff 5px,#59ffa6 7px,#73ff8c 8px,#5fffa0 10px,#aeff51 12px,#beff41 13px,#a9ff56 15px,#c8ff37 17px,#b6ff49 20px,#ebff14 22px,#f0ff0f 25px,#ffea00 27px,#ffd900 42px,#ff9f00 48px,#ff9f00)"></i><i style="height:2px;background:linear-gradient(90deg,#17ffe8,#22ffdd 1px,#74ff8b 3px,#3bffc4 5px,#90ff6f 7px,#a5ff5a 8px,#88ff77 10px,#ceff31 12px,#d9ff26 13px,#c2ff3d 15px,#e1ff1e 17px,#cfff30 20px,#fffc00 22px,#fff600 25px,#ffdf00 27px,#ffd800 42px,#ff9f00 48px,#ff9f00)"></i><i style="height:2px;background:linear-gradient(90deg,#62ff9d,#6eff91 1px,#bdff42 3px,#7bff84 5px,#c6ff39 7px,#d7ff28 8px,#b1ff4e 10px,#eeff11 12px,#f5ff0a 13px,#dbff24 15px,#faff05 17px,#e8ff17 20px,#feff01 21px,#ffdf00 26px,#ffd900 40px,#ffbf00 42px,#ffc300 44px,#ff9200 46px,#ff8800 47px,#ff9f00 49px,#ff9f00)"></i><i style="height:2px;background:linear-gradient(90deg,#aeff51,#b9ff46 1px,#e8ff17 2px,#fff900 3px,#baff45 5px,#fcff03 7px,#fff600 8px,#daff25 10px,#fff000 12px,#f4ff0b 15px,#ffea00 17px,#fdff02 20px,#ffe300 22px,#ffd500 37px,#ffc700 40px,#ffa600 42px,#ffae00 44px,#ff7900 46px,#ff6f00 47px,#ff9100 49px,#ff9f00)"></i><i style="height:2px;background:linear-gradient(90deg,#f9ff06,#ffe600 2px,#ffed00 3px,#ffe000 4px,#f9ff06 5px,#ffdf00 8px,#ffe200 9px,#fffb00 10px,#ffdf00 12px,#fff000 15px,#ffdf00 17px,#ffec00 20px,#ffdf00 23px,#ffd600 37px,#ffa700 42px,#ff9100 43px,#ff9500 44px,#ff7b00 45px,#ff6e00 48px,#ff9f00 53px,#ff9f00)"></i><i style="height:2px;background:linear-gradient(90deg,#ffec00,#fbff04 3px,#ffe400 5px,#ffdb00 37px,#ffbf00 40px,#ffc000 42px,#ff8a00 44px,#ff9200 46px,#ff7b00 49px,#ff9c00 52px,#ff9f00)"></i><i style="height:2px;background:linear-gradient(90deg,#f9ff06,#e9ff16 3px,#fff100 5px,#ffdf00 11px,#ffda00 38px,#ffd100 40px,#ffd900 42px,#ffa300 44px,#ffab00 46px,#ff8c00 49px,#ff9f00 52px,#ff9f00)"></i><i style="height:2px;background:linear-gradient(90deg,#e0ff1f,#fffe00 3px,#fff300 6px,#ffdd00 9px,#ffca00 13px,#ffdf00 15px,#ffdf00 28px,#ffdb00 40px,#ffc100 42px,#ffbc00 44px,#ff8a00 47px,#ff9c00 49px,#ff9f00)"></i><i style="height:2px;background:linear-gradient(90deg,#f7ff08,#ffe800 3px,#fff500 5px,#ffcd00 11px,#ffb300 13px,#ffd100 15px,#ffd600 18px,#ffde00 36px,#ffc800 40px,#ffa700 42px,#ffb000 44px,#ff7b00 46px,#ff7100 47px,#ff9200 49px,#ff9f00)"></i><i style="height:2px;background:linear-gradient(90deg,#ffed00,#ffe000 4px,#ffde00 8px,#ffbf00 11px,#ff9c00 13px,#ffbe00 15px,#ffd100 18px,#ffdf00 21px,#ffde00 36px,#ffb600 40px,#ff9300 43px,#ff9700 44px,#ff7500 46px,#ff6f00 48px,#ff9f00 53px,#ff9f00)"></i><i style="height:2px;background:linear-gradient(90deg,#ffdf00,#ffdd00 8px,#ffb100 11px,#ff8500 13px,#ffac00 15px,#ffcc00 18px,#ffdf00 20px,#ffde00 36px,#ff8400 45px,#ff7a00 49px,#ff9b00 52px,#ff9f00)"></i><i style="height:2px;background:linear-gradient(90deg,#ffdf00,#ffdd00 8px,#ffa300 11px,#ff6e00 13px,#ff9a00 15px,#ffc700 18px,#ffdd00 19px,#ffde00 36px,#ff9f00 42px,#ff9400 45px,#ff9b00 47px,#ff8a00 49px,#ff9f00 52px,#ff9f00)"></i><i style="height:2px;background:linear-gradient(90deg,#ffdf00,#ffdd00 8px,#ff7f00 13px,#ff7000 14px,#ffdd00 19px,#ffdd00 35px,#ffbe00 37px,#ffaf00 40px,#ff9c00 44px,#ff9f00)"></i><i style="height:2px;background:linear-gradient(90deg,#ffdf00,#ffde00 8px,#ffaa00 11px,#ff8700 14px,#ff8f00 15px,#ffcf00 18px,#ffdf00 21px,#ffda00 31px,#ffc800 35px,#ffaa00 37px,#ffb300 39px,#ff9f00 43px,#ff9f00)"></i><i style="height:2px;background:linear-gradient(90deg,#ffdf00,#ffd200 9px,#ffb800 11px,#ffa100 15px,#ffd400 18px,#ffdf00 29px,#ffb300 35px,#ff9f00 36px,#ff9f00)"></i><i style="height:2px;background:linear-gradient(90deg,#ffdf00,#ffd500 6px,#ffbc00 8px,#ffc600 10px,#ffb400 15px,#ffd900 18px,#ffd700 31px,#ff9f00 36px,#ff9f00)"></i><i style="height:2px;background:linear-gradient(90deg,#ffdf00,#ffc400 6px,#ffa300 8px,#ffc000 10px,#ffd500 13px,#ffc600 15px,#ffde00 18px,#ffd700 31px,#ff9f00 36px,#ff9f00)"></i><i style="height:2px;background:linear-gradient(90deg,#ffdf00,#ffce00 4px,#ffb600 6px,#ffba00 10px,#ffdf00 14px,#ffd700 31px,#ff9f00 36px,#ff9f00)"></i><i style="height:2px;background:linear-gradient(90deg,#ffdf00,#ffd600 4px,#ffc700 6px,#ffcf00 8px,#ffc100 10px,#ffdd00 13px,#ffd700 31px,#ff9f00 36px,#ff9f00)"></i><i style="height:2px;background:linear-gradient(90deg,#ffdf00,#ffe900 3px,#ffd800 6px,#ffda00 9px,#ffd100 10px,#ffdf00 15px,#ffd700 31px,#ffa200 36px,#ff9f00)"></i><i style="height:2px;background:linear-gradient(90deg,#ffe700,#ffff00 3px,#ffe200 5px,#ffd700 32px,#ffb400 35px,#ffbc00 37px,#ffa100 39px,#ff9f00)"></i><i style="height:2px;background:linear-gradient(90deg,#feff01,#e9ff16 3px,#ffff00 4px,#ffdf00 8px,#ffd700 33px,#ffc900 35px,#ffd000 37px,#ffad00 39px,#ff9f00 47px,#ff9f00)"></i><i style="height:2px;background:linear-gradient(90deg,#e5ff1a,#e1ff1e 1px,#b7ff48 2px,#abff54 3px,#e3ff1c 4px,#fffc00 5px,#ffdf00 9px,#ffe200 21px,#ffe800 23px,#ffe600 26px,#ffe400 28px,#ffd700 37px,#ffb100 40px,#ffb100 42px,#ff9f00 44px,#ff9f00)"></i><i style="height:2px;background:linear-gradient(90deg,#a6ff59,#9aff65 1px,#6bff94 2px,#69ff96 3px,#e4ff1b 5px,#fffd00 7px,#ffdf00 8px,#ffe200 20px,#fffa00 23px,#fffa00 26px,#ffee00 28px,#ffdf00 34px,#ffd300 38px,#ffc400 40px,#ffc800 42px,#ffa700 44px,#ff9f00)"></i><i style="height:2px;background:linear-gradient(90deg,#5affa5,#4fffb0 1px,#20ffdf 2px,#8aff75 3px,#7aff85 4px,#bdff42 5px,#fbff04 7px,#ffd800 8px,#ffe600 20px,#f2ff0d 23px,#fff800 28px,#ffdf00 31px,#ffd600 40px,#ffda00 42px,#ffb500 44px,#ff9f00 50px,#ff9f00)"></i><i style="height:2px;background:linear-gradient(90deg,#53ffac,#76ff89 1px,#fffc00 2px,#ffaa00 3px,#eaff15 4px,#acff53 5px,#f5ff0a 6px,#ffc900 7px,#ffc000 8px,#ffde00 10px,#ffdf00 19px,#f2ff0d 23px,#e3ff1c 25px,#ffee00 29px,#ffdf00 34px,#ffdc00 42px,#ffc100 45px,#ffbd00 47px,#ffa100 49px,#ff9f00)"></i><i style="height:2px;background:linear-gradient(90deg,#ffc800,#ffa500 1px,#ff1900 2px,#e00000 3px,#ff6f00 4px,#ffd100 5px,#ff9000 7px,#ffcf00 10px,#ffe900 20px,#f2ff0d 23px,#e3ff1c 25px,#ffee00 29px,#ffdf00 34px,#ffd900 43px,#ffd000 45px,#ffd600 47px,#ffb100 49px,#ff9f00)"></i><i style="height:2px;background:linear-gradient(90deg,#e50000,#ab0000 2px,#f10000 4px,#ff4f00 5px,#ff4f00 6px,#ffaa00 8px,#ffdf00 14px,#ffe900 20px,#fbff04 23px,#e3ff1c 25px,#fff700 27px,#ffdf00 33px,#ffdf00 47px,#ff9f00 53px,#ff9f00)"></i><i style="height:2px;background:linear-gradient(90deg,#b10000,#c40000 2px,#eb0000 3px,#ff0800 4px,#ff2700 5px,#ffb600 8px,#ffc800 11px,#ffdf00 15px,#ffe800 22px,#f3ff0c 25px,#ffe800 27px,#ffdf00 47px,#ff9f00 53px,#ff9f00)"></i><i style="height:2px;background:linear-gradient(90deg,#ca0000,#dd0000 2px,#ff1300 3px,#ff1d00 4px,#ff3a00 5px,#ff9b00 7px,#ffbd00 8px,#ffdf00 15px,#ffe000 23px,#fff300 25px,#ffdf00 27px,#ffdf00 47px,#ff9f00 53px,#ff9f00)"></i><i style="height:2px;background:linear-gradient(90deg,#ed0000,#fb0000 1px,#ff5e00 3px,#ff4b00 4px,#ff4e00 5px,#ff9f00 7px,#ffcb00 10px,#ffdf00 17px,#ffe700 40px,#fffa00 42px,#ffdf00 44px,#ffe000 47px,#ff9f00 53px,#ff9f00)"></i><i style="height:2px;background:linear-gradient(90deg,#ff4600,#ff5400 1px,#ff8a00 2px,#ffaa00 3px,#ff8500 4px,#ff7600 5px,#ffa300 7px,#ffdf00 14px,#ffe000 36px,#fffa00 40px,#edff12 42px,#ffec00 44px,#ffe000 47px,#ff9f00 53px,#ff9f00)"></i><i style="height:2px;background:linear-gradient(90deg,#ff9e00,#ffbf00 2px,#ffb600 4px,#ff9d00 5px,#ffac00 9px,#ffdf00 15px,#ffdd00 21px,#ffd000 22px,#ffdf00 25px,#ffd200 27px,#ffdf00 33px,#ffe800 37px,#f1ff0e 41px,#f1ff0e 43px,#fff700 45px,#ffbf00 50px,#ffb100 52px,#ff9f00 54px,#ffa400)"></i><i style="height:2px;background:linear-gradient(90deg,#ffbf00,#ffb400 9px,#ffdb00 15px,#ffcc00 18px,#ffd900 20px,#ffbb00 22px,#ffd200 25px,#ffc200 27px,#ffde00 30px,#ffe300 37px,#fffe00 40px,#fff200 42px,#fffe00 44px,#ffcd00 49px,#ffc900 52px,#ffab00 54px,#ffbd00)"></i><i style="height:2px;background:linear-gradient(90deg,#ffbf00,#ffb900 13px,#ffd000 15px,#ffbb00 17px,#ffcc00 20px,#ffaa00 23px,#ffbd00 25px,#ffba00 27px,#ffdd00 30px,#ffdf00 36px,#ffef00 37px,#ffe300 38px,#fff100 39px,#ffea00 41px,#fffa00 42px,#ffe900 43px,#fff200 44px,#ffe500 45px,#ffe700 47px,#ffd400 49px,#ffeb00 51px,#ffc200 54px,#ffd700)"></i><i style="height:2px;background:linear-gradient(90deg,#ffbf00,#ffb800 11px,#ff9c00 12px,#ff9400 13px,#ffc500 15px,#ffab00 17px,#ffbf00 20px,#ffa700 25px,#ffec00 32px,#ffe100 35px,#fffb00 36px,#e3ff1c 37px,#fffe00 38px,#ffe400 39px,#fff300 40px,#b0ff4f 41px,#9cff63 42px,#f9ff06 43px,#ffe600 44px,#fffa00 45px,#d0ff2f 46px,#ffed00 48px,#ffdc00 49px,#efff10 51px,#fffe00 52px,#ffd900 54px,#fff000)"></i><i style="height:2px;background:linear-gradient(90deg,#ffbf00,#ffb900 10px,#ff6f00 13px,#ffb300 15px,#ff9c00 17px,#ffbe00 19px,#ffa300 25px,#fff400 32px,#ffeb00 34px,#fff500 35px,#e8ff17 36px,#b8ff47 37px,#cbff34 38px,#fbff04 39px,#beff41 40px,#4dffb2 41px,#34ffcb 42px,#a4ff5b 43px,#fffd00 44px,#8fff70 46px,#aaff55 47px,#e5ff1a 48px,#fff300 49px,#c9ff36 51px,#fffb00 53px,#ffef00 54px,#f5ff0a)"></i><i style="height:2px;background:linear-gradient(90deg,#ffbf00,#ffbe00 8px,#ffad00 10px,#ff9000 11px,#ff8600 13px,#ff7100 14px,#ff9b00 15px,#ff8c00 16px,#ffb300 17px,#ffba00 20px,#ffb600 21px,#ffc600 22px,#ffa300 24px,#ffb300 26px,#ffce00 27px,#ffd000 29px,#fffd00 32px,#f5ff0a 35px,#9cff63 37px,#97ff68 38px,#bfff40 39px,#1effe1 41px,#07fff8 42px,#4effb1 43px,#bcff43 44px,#7dff82 45px,#10ffef 46px,#22ffdd 47px,#b8ff47 48px,#e5ff1a 49px,#c1ff3e 50px,#00fdff 51px,#57ffa8 52px,#ebff14 53px,#f8ff07 54px,#c2ff3d)"></i><i style="height:2px;background:linear-gradient(90deg,#ffbf00,#ffbf00 8px,#ff9900 11px,#ffaf00 12px,#ffab00 13px,#ff8200 14px,#ff8200 15px,#ffcb00 17px,#ffba00 20px,#ffdb00 22px,#ffac00 24px,#ffa400 25px,#ffdf00 27px,#ffd100 29px,#f9ff06 32px,#f5ff0a 34px,#e1ff1e 35px,#81ff7e 37px,#83ff7c 39px,#03fffc 41px,#00dfff 42px,#10ffef 43px,#78ff87 44px,#1fffe0 45px,#0087ff 46px,#0083ff 47px,#41ffbe 48px,#c0ff3f 49px,#15ffea 50px,#0031ff 51px,#0089ff 52px,#80ff7f 53px,#e1ff1e 54px,#00f6ff)"></i><i style="height:2px;background:linear-gradient(90deg,#ffbf00,#ffba00 9px,#ffa300 10px,#ffc400 12px,#ffc500 13px,#ff8a00 15px,#ffbc00 16px,#ffd600 17px,#ffd100 19px,#ffc500 20px,#ffdf00 22px,#ffdf00 23px,#ffc200 24px,#ffb900 25px,#ffea00 27px,#ffd700 29px,#ffef00 31px,#deff21 32px,#e6ff19 34px,#cdff32 35px,#61ff9e 37px,#64ff9b 39px,#2cffd3 40px,#00dfff 41px,#00aeff 42px,#00d6ff 43px,#32ffcd 44px,#00b8ff 45px,#0029ff 46px,#000eff 47px,#00a7ff 48px,#4dffb2 49px,#0065ff 50px,#0000d9 51px,#0000e1 52px,#00c0ff 53px,#3bffc4 54px,#002cff)"></i><i style="height:2px;background:linear-gradient(90deg,#ffbf00,#ffc000 9px,#ffb000 10px,#ffd100 13px,#ffa600 15px,#ffd000 16px,#ffdd00 19px,#ffd200 20px,#ffdf00 23px,#ffcf00 25px,#fff600 27px,#ffdc00 29px,#ffdf00 30px,#f6ff09 31px,#c2ff3d 32px,#d7ff28 34px,#b9ff46 35px,#40ffbf 37px,#4effb1 39px,#14ffeb 40px,#00acff 41px,#0078ff 42px,#009eff 43px,#00e9ff 44px,#005eff 45px,#0000f2 46px,#0000d7 47px,#0013ff 48px,#00b7ff 49px,#0000ee 50px,#0000b6 51px,#0000c3 52px,#0001ff 53px,#0084ff 54px,#0000cf)"></i><i style="height:2px;background:linear-gradient(90deg,#ffbf00,#ffbc00 10px,#ffdc00 13px,#ffc100 15px,#ffdf00 17px,#ffdf00 25px,#fffc00 28px,#ffe700 29px,#ffea00 30px,#dcff23 31px,#b8ff47 32px,#c6ff39 34px,#a2ff5d 35px,#2bffd4 37px,#24ffdb 38px,#37ffc8 39px,#00e9ff 40px,#0079ff 41px,#0049ff 42px,#00a2ff 44px,#002dff 45px,#0000c4 46px,#0000a3 47px,#0000e6 48px,#0022ff 49px,#0000c9 50px,#00009f 51px,#0000a5 52px,#0000cb 53px,#0000dd 54px,#0000b6)"></i><i style="height:2px;background:linear-gradient(90deg,#ffbf00,#ffc200 10px,#ffda00 14px,#ffce00 15px,#ffdf00 17px,#ffe100 25px,#f9ff06 28px,#fdff02 30px,#cfff30 31px,#a2ff5d 33px,#b0ff4f 34px,#02fffd 38px,#15ffea 39px,#00c0ff 40px,#005fff 41px,#0030ff 42px,#003cff 43px,#006dff 44px,#0000fb 45px,#0000bf 46px,#0000a2 47px,#0000b9 48px,#0000ea 49px,#0000a5 50px,#00009f 52px,#0000c6 54px,#00009f)"></i><i style="height:2px;background:linear-gradient(90deg,#ffbf00,#ffc700 10px,#ffdf00 14px,#ffe200 25px,#fbff04 27px,#e6ff19 30px,#a2ff5d 33px,#96ff69 34px,#5affa5 36px,#20ffdf 37px,#00f6ff 38px,#00edff 39px,#0048ff 41px,#0019ff 42px,#0020ff 43px,#003aff 44px,#0000e1 45px,#0000a2 47px,#00009f 48px,#0000c0 49px,#00009f 50px,#00009f 53px,#0000ad 54px,#00009f)"></i><i style="height:2px;background:linear-gradient(90deg,#ffbf00,#ffcc00 3px,#ffbf00 6px,#ffdf00 17px,#ffdf00 21px,#ffee00 22px,#ffe300 25px,#ffee00 26px,#e2ff1d 27px,#f9ff06 28px,#cfff30 31px,#98ff67 32px,#a2ff5d 33px,#54ffab 36px,#06fff9 37px,#00cdff 39px,#008bff 40px,#0030ff 41px,#0002ff 42px,#000aff 44px,#0000b5 46px,#00009f 48px,#00009f)"></i><i style="height:2px;background:linear-gradient(90deg,#ffbf00,#ffd700 3px,#ffbf00 5px,#ffd100 11px,#ffdf00 19px,#ffe300 21px,#fffb00 22px,#ffdf00 24px,#ffe300 25px,#fdff02 26px,#c9ff36 27px,#eeff11 29px,#e3ff1c 30px,#7eff81 32px,#91ff6e 33px,#74ff8b 35px,#3bffc4 36px,#00ecff 37px,#00bfff 39px,#0078ff 40px,#0017ff 41px,#0000ea 42px,#0000fb 44px,#0000b0 46px,#00009f 48px,#00009f)"></i><i style="height:2px;background:linear-gradient(90deg,#ffc000,#ffdc00 3px,#ffbf00 5px,#ffe500 17px,#ffdf00 20px,#f6ff09 22px,#f9ff06 23px,#ffe500 25px,#e4ff1b 26px,#c5ff3a 27px,#c9ff36 28px,#e8ff17 29px,#daff25 30px,#9dff62 31px,#79ff86 32px,#78ff87 33px,#8bff74 34px,#65ff9a 35px,#22ffdd 36px,#00e0ff 37px,#00b2ff 39px,#0000fd 41px,#0000d9 42px,#0000ed 44px,#0000ac 46px,#00009f 52px,#00009f)"></i><i style="height:2px;background:linear-gradient(90deg,#ffcd00,#ffde00 3px,#ffc500 5px,#ffd100 8px,#ffcb00 10px,#ffdf00 16px,#fff500 17px,#ffdf00 19px,#fff400 21px,#eaff15 22px,#fffe00 25px,#d0ff2f 26px,#baff45 28px,#ceff31 29px,#c1ff3e 30px,#8fff70 31px,#62ff9d 33px,#72ff8d 34px,#1affe5 36px,#00e0ff 37px,#00aaff 38px,#009bff 39px,#0000fc 41px,#0000d9 42px,#0000df 44px,#0000bc 45px,#00009f 48px,#00009f)"></i><i style="height:2px;background:linear-gradient(90deg,#ffda00,#ffd900 4px,#ffcc00 6px,#ffdd00 8px,#ffcb00 10px,#ffe000 14px,#ffe700 16px,#faff05 17px,#f9ff06 18px,#ffe400 19px,#ffe700 20px,#f9ff06 21px,#deff21 22px,#e7ff18 25px,#bdff42 27px,#a8ff57 30px,#62ff9d 33px,#58ffa7 34px,#1affe5 36px,#00e0ff 37px,#00a7ff 38px,#0082ff 39px,#0036ff 40px,#0000fc 41px,#0000d9 42px,#0000d1 44px,#0000ac 46px,#00009f 52px,#00009f)"></i><i style="height:2px;background:linear-gradient(90deg,#ffdf00,#ffd400 6px,#ffdf00 8px,#ffcc00 10px,#ffec00 13px,#ffe000 15px,#efff10 17px,#eaff15 18px,#fffd00 19px,#fff000 20px,#d1ff2e 22px,#e4ff1b 24px,#d0ff2f 26px,#a4ff5b 27px,#baff45 28px,#8fff70 31px,#5affa5 32px,#62ff9d 33px,#16ffe9 36px,#00ccff 37px,#00a7ff 38px,#0000fb 41px,#0000d9 42px,#00009f 48px,#00009f)"></i><i style="height:2px;background:linear-gradient(90deg,#ffdf00,#ffe000 9px,#ffd400 10px,#fffc00 12px,#fbff04 13px,#ffe500 14px,#ffe600 15px,#fffe00 16px,#e6ff19 17px,#e8ff17 19px,#f9ff06 20px,#c4ff3b 22px,#e1ff1e 24px,#dcff23 25px,#bfff40 26px,#8bff74 27px,#aeff51 29px,#a3ff5c 30px,#40ffbf 32px,#53ffac 33px,#34ffcb 35px,#00fcff 36px,#00b8ff 37px,#00a2ff 38px,#0000f8 41px,#0000d9 42px,#00009f 48px,#00009f)"></i><i style="height:2px;background:linear-gradient(90deg,#ffdf00,#ffd300 3px,#ffdf00 7px,#ffdb00 10px,#f0ff0f 12px,#e5ff1a 13px,#fffa00 14px,#ffed00 15px,#dfff20 17px,#e4ff1b 20px,#beff41 22px,#bbff44 23px,#d6ff29 24px,#dbff24 25px,#a6ff59 26px,#85ff7a 27px,#8bff74 28px,#a9ff56 29px,#9cff63 30px,#5fffa0 31px,#39ffc6 32px,#4bffb4 34px,#27ffd8 35px,#00e4ff 36px,#00adff 37px,#006eff 39px,#0000f6 41px,#0000ce 43px,#00009f 48px,#00009f)"></i><i style="height:2px;background:linear-gradient(90deg,#ffdf00,#ffd100 2px,#ffbd00 3px,#ffdf00 4px,#ffe000 8px,#ffe400 10px,#f0ff0f 12px,#e5ff1a 13px,#fffa00 15px,#e4ff1b 16px,#dcff23 20px,#b3ff4c 23px,#c2ff3d 25px,#91ff6e 26px,#7aff85 28px,#90ff6f 29px,#83ff7c 30px,#50ffaf 31px,#22ffdd 33px,#33ffcc 34px,#0efff1 35px,#00adff 37px,#0067ff 39px,#002aff 40px,#0000f6 41px,#0000ce 43px,#00009f 48px,#00009f)"></i><i style="height:2px;background:linear-gradient(90deg,#ffdf00,#ffdf00 1px,#ffb800 2px,#ffa700 3px,#ffd000 4px,#ffde00 6px,#ffe000 8px,#f0ff0f 12px,#dfff20 14px,#f2ff0d 15px,#dfff20 16px,#d8ff27 20px,#a9ff56 25px,#7aff85 28px,#6aff95 30px,#22ffdd 33px,#00f4ff 35px,#00dbff 36px,#005bff 39px,#0024ff 40px,#0000f6 41px,#0000ce 43px,#00009f 48px,#00009f)"></i><i style="height:2px;background:linear-gradient(90deg,#ffd300,#ffc800 1px,#ff9f00 2px,#ffbe00 4px,#ffdc00 5px,#ffd500 7px,#fcff03 11px,#dfff20 15px,#daff25 18px,#d5ff2a 20px,#b2ff4d 22px,#9cff63 25px,#50ffaf 31px,#00f4ff 35px,#00dbff 36px,#0000f6 41px,#0000ce 43px,#00009f 48px,#00009f)"></i><i style="height:2px;background:linear-gradient(90deg,#ffba00,#ff9f00 2px,#ffb300 4px,#ffcf00 5px,#ffe000 8px,#f0ff0f 12px,#deff21 16px,#c3ff3c 17px,#c6ff39 18px,#dfff20 19px,#c4ff3b 21px,#a6ff59 22px,#9cff63 25px,#50ffaf 31px,#00f4ff 35px,#00dbff 36px,#0000f6 41px,#0000ce 43px,#00009f 48px,#00009f)"></i><i style="height:2px;background:linear-gradient(90deg,#ffa100,#ffa700 3px,#fcff03 11px,#ddff22 14px,#d3ff2c 16px,#b7ff48 17px,#b1ff4e 18px,#d0ff2f 19px,#d5ff2a 20px,#99ff66 22px,#a6ff59 24px,#7bff84 27px,#63ff9c 30px,#00f4ff 35px,#00dbff 36px,#0000f6 41px,#0000c3 44px,#00009f 48px,#00009f)"></i><i style="height:2px;background:linear-gradient(90deg,#ff9f00,#ffa700 3px,#fcff03 11px,#dcff23 15px,#acff53 18px,#c6ff39 20px,#8cff73 22px,#a3ff5c 24px,#8fff70 26px,#6cff93 27px,#77ff88 28px,#50ffaf 31px,#00f4ff 35px,#00b4ff 37px,#0024ff 40px,#0000f6 42px,#0000ce 43px,#0000b7 45px,#0000c7 46px,#00009f 48px,#00009f 50px,#0000c0 51px,#00009f 53px,#00009f)"></i><i style="height:2px;background:linear-gradient(90deg,#ff9f00,#ffa700 3px,#fcff03 11px,#a1ff5e 19px,#b1ff4e 20px,#7fff80 22px,#85ff7a 23px,#a0ff5f 24px,#9cff63 25px,#60ff9f 27px,#6eff91 29px,#22ffdd 33px,#00f4ff 35px,#00b9ff 37px,#0027ff 40px,#0010ff 42px,#0000c3 44px,#0000c2 45px,#0000e0 46px,#0000d0 47px,#0000a6 48px,#00009f 49px,#0000b0 50px,#0000d9 51px,#0000c9 52px,#00009f 53px,#00009f 54px,#0000b6)"></i><i style="height:2px;background:linear-gradient(90deg,#ff9f00,#ffa700 3px,#fcff03 11px,#90ff6f 21px,#74ff8b 23px,#8dff72 24px,#92ff6d 25px,#69ff96 26px,#63ff9c 28px,#62ff9d 30px,#00f4ff 35px,#00baff 37px,#0090ff 38px,#0053ff 39px,#0000f4 43px,#0000c3 44px,#0000ec 46px,#0000e0 47px,#0000a0 49px,#0000c9 50px,#0000df 51px,#0000df 52px,#0000b8 53px,#0000a6 54px,#0000cf)"></i><i style="height:2px;background:linear-gradient(90deg,#ff9f00,#ffa700 3px,#fcff03 11px,#73ff8c 23px,#7aff85 25px,#60ff9f 26px,#61ff9e 30px,#00f4ff 35px,#0097ff 38px,#0061ff 39px,#000eff 43px,#0000d8 44px,#0000f4 45px,#0000d8 48px,#0000b9 49px,#0000df 50px,#0000d2 53px,#0000bf 54px,#0000df)"></i><i style="background:linear-gradient(90deg,#ff9f00,#ffa700 3px,#fcff03 11px,#68ff97 24px,#60ff9f 30px,#00f4ff 35px,#0097ff 38px,#0031ff 41px,#000fff 43px,#0000eb 44px,#0000f7 45px,#0000cc 49px,#0000df 50px,#0000df 53px,#0000d2 54px,#0000df)"></i></div>
<div class="pn" style="left:237px;top:67px;width:55px;height:223px"><i style="height:2px;background:linear-gradient(90deg,#00009f,#0000a8 2px,#0000d2 3px,#0000b4 4px,#0000e1 8px,#0000df 11px,#0000fb 13px,#0000df 14px,#0000df 16px,#0007ff 17px,#0000c5 21px,#0000ea 22px,#0000b6 23px,#00009f 25px,#00009f 26px,#0000da 27px,#00009f 28px,#0000a1 31px,#0000d7 32px,#00009f 33px,#0000aa 36px,#0000be 37px,#00009f 38px,#00009f)"></i><i style="height:2px;background:linear-gradient(90deg,#00009f,#00009f 1px,#0000eb 3px,#0000b8 4px,#0000e2 8px,#0000df 11px,#000aff 12px,#0013ff 13px,#0000df 14px,#0000df 16px,#0020ff 17px,#000cff 18px,#0000dc 19px,#0000cc 21px,#0004ff 22px,#0000a2 24px,#00009f 25px,#0000b0 26px,#0000f3 27px,#0000b7 28px,#00009f 29px,#00009f 30px,#0000ba 31px,#0000f0 32px,#0000ad 33px,#00009f 35px,#0000d2 37px,#0000a1 38px,#00009f)"></i><i style="height:2px;background:linear-gradient(90deg,#00009f,#00009f 1px,#0000da 2px,#0008ff 3px,#0000c9 4px,#0000bf 5px,#0000e8 7px,#0014ff 8px,#0000e4 9px,#0000e6 11px,#0024ff 12px,#002dff 13px,#0000eb 14px,#0000df 15px,#0000f5 16px,#0039ff 17px,#0025ff 18px,#0000de 19px,#0000d1 20px,#0000e5 21px,#001dff 22px,#0000e9 23px,#0000a2 24px,#00009f 25px,#000dff 27px,#00009f 29px,#00009f 30px,#000aff 32px,#00009f 34px,#00009f 35px,#0000d5 36px,#0000eb 37px,#0000ae 38px,#0000a0 40px,#0000b5 42px,#00009f 43px,#00009f 45px,#0000b2 46px,#00009f 49px,#00009f)"></i><i style="height:2px;background:linear-gradient(90deg,#0000a0,#0000b0 1px,#0000f3 2px,#0024ff 3px,#0000db 4px,#0000bf 5px,#0000d3 6px,#0018ff 7px,#0045ff 8px,#0000ea 9px,#0000df 10px,#0000f5 11px,#0042ff 12px,#0047ff 13px,#0005ff 14px,#0000df 15px,#000fff 16px,#0052ff 17px,#003eff 18px,#0000f7 19px,#0000d1 20px,#0000fe 21px,#0036ff 22px,#0003ff 23px,#0000b3 24px,#0000a0 25px,#0000e2 26px,#0026ff 27px,#0000e9 28px,#0000a6 29px,#0000aa 30px,#0000ec 31px,#0023ff 32px,#0000df 33px,#00009f 34px,#0000b4 35px,#0000ee 36px,#0005ff 37px,#0000ba 38px,#00009f 39px,#0000a4 40px,#0000ce 42px,#00009f 43px,#00009f 45px,#0000cb 46px,#0000bf 47px,#00009f 48px,#00009f)"></i><i style="height:2px;background:linear-gradient(90deg,#0000b9,#0000ca 1px,#000dff 2px,#003eff 3px,#0000f7 4px,#0000c7 5px,#0000db 6px,#0047ff 7px,#006bff 8px,#0000fd 9px,#0000e1 10px,#0005ff 11px,#0061ff 12px,#0061ff 13px,#001eff 14px,#0000e5 15px,#0028ff 16px,#006bff 17px,#0057ff 18px,#0011ff 19px,#0000e0 20px,#0018ff 21px,#004fff 22px,#001cff 23px,#0000cc 24px,#0000b9 25px,#0000fc 26px,#003fff 27px,#0003ff 28px,#0000c0 29px,#0000c3 30px,#0007ff 31px,#003cff 32px,#0000f8 33px,#0000b6 34px,#0000cd 35px,#0008ff 36px,#0023ff 37px,#0000ce 38px,#0000a3 39px,#0000a7 40px,#0000da 41px,#0000ed 42px,#0000a4 43px,#0000a1 45px,#0000e4 46px,#0000d5 47px,#00009f 48px,#0000a3 50px,#0000b7 51px,#00009f 52px,#00009f)"></i><i style="height:2px;background:linear-gradient(90deg,#0000d2,#0000e3 1px,#0026ff 2px,#0057ff 3px,#001aff 4px,#0000d4 5px,#0000f6 6px,#0067ff 7px,#0084ff 8px,#002aff 9px,#0000ec 10px,#0027ff 11px,#007aff 12px,#007aff 13px,#0000fe 15px,#0084ff 17px,#0070ff 18px,#002bff 19px,#0000fa 20px,#0068ff 22px,#0035ff 23px,#0000e6 24px,#0000d2 25px,#0016ff 26px,#0058ff 27px,#001cff 28px,#0000d9 29px,#0000dc 30px,#0020ff 31px,#0055ff 32px,#0012ff 33px,#0000cf 34px,#0000e6 35px,#0022ff 36px,#0044ff 37px,#0000e7 38px,#0000ab 39px,#0000b9 40px,#0007ff 41px,#001bff 42px,#0000be 43px,#00009f 44px,#0000ba 45px,#0000fe 46px,#0000ed 47px,#0000ad 48px,#00009f 49px,#0000ab 50px,#0000d0 51px,#0000ac 52px,#00009f)"></i><i style="height:2px;background:linear-gradient(90deg,#0000ec,#0000fc 1px,#0076ff 3px,#0039ff 4px,#0000e3 5px,#0022ff 6px,#0080ff 7px,#009dff 8px,#0000f6 10px,#0093ff 12px,#0093ff 13px,#0018ff 15px,#009dff 17px,#0089ff 18px,#0044ff 19px,#0014ff 20px,#0081ff 22px,#004eff 23px,#0000ff 24px,#0000ec 25px,#002fff 26px,#0071ff 27px,#0000f2 29px,#0000f6 30px,#006eff 32px,#002bff 33px,#0000e8 34px,#0000ff 35px,#003fff 36px,#0064ff 37px,#0002ff 38px,#0000b3 39px,#0000d2 40px,#0037ff 41px,#0047ff 42px,#0000d7 43px,#00009f 44px,#0000d4 45px,#0019ff 46px,#0007ff 47px,#0000be 48px,#00009f 49px,#0000b3 50px,#0000e9 51px,#00009f 53px,#00009f)"></i><i style="height:2px;background:linear-gradient(90deg,#0006ff,#0016ff 1px,#00a5ff 3px,#000aff 5px,#009aff 7px,#00b6ff 8px,#0074ff 9px,#0017ff 10px,#00acff 12px,#00acff 13px,#0032ff 15px,#00b6ff 17px,#00a2ff 18px,#005dff 19px,#002dff 20px,#009aff 22px,#0067ff 23px,#0019ff 24px,#0006ff 25px,#008aff 27px,#000cff 29px,#0010ff 30px,#0087ff 32px,#0003ff 34px,#001aff 35px,#005bff 36px,#007dff 37px,#0028ff 38px,#0000cc 39px,#0000ef 40px,#0063ff 41px,#0064ff 42px,#0000fa 43px,#0000ae 44px,#0000f0 45px,#0033ff 46px,#0020ff 47px,#0000d2 48px,#0000aa 49px,#0000cb 50px,#0003ff 51px,#0000df 52px,#00009f 53px,#00009f)"></i><i style="height:2px;background:linear-gradient(90deg,#001fff,#0030ff 1px,#00d3ff 3px,#006bff 4px,#0030ff 5px,#0065ff 6px,#00b6ff 7px,#00cfff 8px,#003fff 10px,#00c5ff 12px,#00c5ff 13px,#004bff 15px,#00cfff 17px,#00bbff 18px,#0076ff 19px,#0047ff 20px,#00b3ff 22px,#0080ff 23px,#0033ff 24px,#001fff 25px,#00a3ff 27px,#0026ff 29px,#0029ff 30px,#00a0ff 32px,#001cff 34px,#0033ff 35px,#0075ff 36px,#0096ff 37px,#004eff 38px,#0000e6 39px,#001fff 40px,#007cff 41px,#007dff 42px,#0023ff 43px,#0000c7 44px,#0010ff 45px,#004cff 46px,#003aff 47px,#0000eb 48px,#0000b7 49px,#0000e4 50px,#001cff 51px,#0000f8 52px,#0000b6 53px,#00009f)"></i><i style="height:2px;background:linear-gradient(90deg,#0039ff,#0049ff 1px,#00b6ff 2px,#00f2ff 3px,#0090ff 4px,#004fff 5px,#007eff 6px,#00d3ff 7px,#00e8ff 8px,#0065ff 10px,#00deff 12px,#00deff 13px,#0065ff 15px,#00e8ff 17px,#00d4ff 18px,#0090ff 19px,#0060ff 20px,#00ccff 22px,#0099ff 23px,#004cff 24px,#0039ff 25px,#00bcff 27px,#003fff 29px,#0042ff 30px,#00b9ff 32px,#0035ff 34px,#004cff 35px,#008eff 36px,#00afff 37px,#006dff 38px,#0008ff 39px,#0095ff 41px,#0098ff 42px,#0049ff 43px,#0000e1 44px,#002fff 45px,#0067ff 46px,#0053ff 47px,#0005ff 48px,#0000c7 49px,#0000fe 50px,#0041ff 51px,#0012ff 52px,#0000b1)"></i><i style="height:2px;background:linear-gradient(90deg,#0052ff,#0065ff 1px,#00e3ff 2px,#0cfff3 3px,#0068ff 5px,#009bff 6px,#00edff 7px,#02fffd 8px,#007eff 10px,#00f7ff 12px,#00f7ff 13px,#007eff 15px,#02fffd 17px,#00edff 18px,#00a9ff 19px,#0079ff 20px,#00e5ff 22px,#00b2ff 23px,#0065ff 24px,#0052ff 25px,#00d5ff 27px,#0058ff 29px,#005cff 30px,#00d1ff 32px,#004fff 34px,#0065ff 35px,#00a7ff 36px,#00c8ff 37px,#0032ff 39px,#00afff 41px,#00b6ff 42px,#0006ff 44px,#0098ff 46px,#0080ff 47px,#001fff 48px,#0000e1 49px,#0018ff 50px,#0073ff 51px,#0036ff 52px,#0000e8 53px,#0000cb)"></i><i style="height:2px;background:linear-gradient(90deg,#0077ff,#0097ff 1px,#00fcff 2px,#25ffda 3px,#00e2ff 4px,#0082ff 5px,#07fff8 7px,#1bffe4 8px,#00d9ff 9px,#0097ff 10px,#11ffee 12px,#11ffee 13px,#0097ff 15px,#00d9ff 16px,#1bffe4 17px,#07fff8 18px,#0093ff 20px,#00feff 22px,#00cbff 23px,#007eff 24px,#006bff 25px,#00eeff 27px,#0072ff 29px,#0075ff 30px,#00eaff 32px,#0068ff 34px,#007fff 35px,#00c0ff 36px,#00e1ff 37px,#005dff 39px,#0089ff 40px,#00c9ff 41px,#00d5ff 42px,#002aff 44px,#0061ff 45px,#00c9ff 46px,#00b2ff 47px,#0038ff 48px,#0000fa 49px,#0031ff 50px,#00a5ff 51px,#0068ff 52px,#0002ff 53px,#0000e4)"></i><i style="height:2px;background:linear-gradient(90deg,#00a9ff,#00caff 1px,#17ffe8 2px,#3effc1 3px,#00fcff 4px,#00a8ff 5px,#00deff 6px,#20ffdf 7px,#34ffcb 8px,#00f2ff 9px,#00b1ff 10px,#00e8ff 11px,#2affd5 12px,#2affd5 13px,#00e8ff 14px,#00b1ff 15px,#00f2ff 16px,#34ffcb 17px,#20ffdf 18px,#00dbff 19px,#00acff 20px,#00e1ff 21px,#18ffe7 22px,#00e4ff 23px,#0098ff 24px,#0084ff 25px,#08fff7 27px,#008bff 29px,#008eff 30px,#04fffb 32px,#0081ff 34px,#0098ff 35px,#00d9ff 36px,#00faff 37px,#0077ff 39px,#00a2ff 40px,#00e3ff 41px,#00f0ff 42px,#0048ff 44px,#0084ff 45px,#00edff 46px,#00ddff 47px,#0057ff 48px,#0015ff 49px,#0060ff 50px,#00bfff 51px,#009aff 52px,#001cff 53px,#0000fd)"></i><i style="height:2px;background:linear-gradient(90deg,#00dcff,#00eeff 1px,#57ffa8 3px,#16ffe9 4px,#00ceff 5px,#00f7ff 6px,#39ffc6 7px,#4dffb2 8px,#0cfff3 9px,#00caff 10px,#02fffd 11px,#43ffbc 12px,#43ffbc 13px,#02fffd 14px,#00caff 15px,#0cfff3 16px,#4dffb2 17px,#39ffc6 18px,#00f5ff 19px,#00c5ff 20px,#00fbff 21px,#31ffce 22px,#00fdff 23px,#00b1ff 24px,#009eff 25px,#00dfff 26px,#21ffde 27px,#00e5ff 28px,#00a4ff 29px,#00a8ff 30px,#00e8ff 31px,#1dffe2 32px,#00dbff 33px,#009bff 34px,#00b1ff 35px,#00f2ff 36px,#14ffeb 37px,#00d2ff 38px,#0091ff 39px,#00bbff 40px,#00fcff 41px,#0afff5 42px,#00beff 43px,#0061ff 44px,#07fff8 46px,#00f6ff 47px,#002eff 49px,#0092ff 50px,#00d8ff 51px,#00b6ff 52px,#004aff 53px,#0018ff)"></i><i style="height:2px;background:linear-gradient(90deg,#00f7ff,#08fff7 1px,#49ffb6 2px,#60ff9f 3px,#00edff 5px,#12ffed 6px,#52ffad 7px,#60ff9f 8px,#25ffda 9px,#00e3ff 10px,#1bffe4 11px,#5cffa3 12px,#5cffa3 13px,#1bffe4 14px,#00e3ff 15px,#25ffda 16px,#60ff9f 17px,#52ffad 18px,#0ffff0 19px,#00dfff 20px,#15ffea 21px,#43ffbc 22px,#17ffe8 23px,#00caff 24px,#00b7ff 25px,#00f8ff 26px,#39ffc6 27px,#00feff 28px,#00beff 29px,#00c1ff 30px,#02fffd 31px,#36ffc9 32px,#00f5ff 33px,#00b4ff 34px,#00cbff 35px,#0cfff3 36px,#2dffd2 37px,#00ebff 38px,#00aaff 39px,#00d4ff 40px,#16ffe9 41px,#23ffdc 42px,#00e1ff 43px,#007bff 44px,#00ddff 45px,#20ffdf 46px,#10ffef 47px,#00bbff 48px,#004fff 49px,#00bcff 50px,#00f1ff 51px,#00cfff 52px,#007dff 53px,#0042ff)"></i><i style="height:2px;background:linear-gradient(90deg,#11ffee,#21ffde 1px,#60ff9f 2px,#60ff9f 3px,#48ffb7 4px,#07fff8 5px,#60ff9f 7px,#60ff9f 8px,#3effc1 9px,#00fdff 10px,#60ff9f 12px,#60ff9f 13px,#00fdff 15px,#3effc1 16px,#60ff9f 17px,#60ff9f 18px,#00f8ff 20px,#52ffad 22px,#30ffcf 23px,#00e3ff 24px,#00d0ff 25px,#12ffed 26px,#52ffad 27px,#18ffe7 28px,#00d7ff 29px,#00daff 30px,#1cffe3 31px,#4fffb0 32px,#0ffff0 33px,#00cdff 34px,#00e4ff 35px,#25ffda 36px,#46ffb9 37px,#05fffa 38px,#00c4ff 39px,#00edff 40px,#2fffd0 41px,#3cffc3 42px,#00faff 43px,#00a4ff 44px,#00f7ff 45px,#39ffc6 46px,#29ffd6 47px,#00dcff 48px,#0082ff 49px,#00d5ff 50px,#0bfff4 51px,#00e8ff 52px,#0075ff)"></i><i style="height:2px;background:linear-gradient(90deg,#2affd5,#3bffc4 1px,#60ff9f 2px,#60ff9f 4px,#21ffde 5px,#60ff9f 7px,#57ffa8 9px,#17ffe8 10px,#4effb1 11px,#60ff9f 13px,#4effb1 14px,#17ffe8 15px,#57ffa8 16px,#60ff9f 18px,#12ffed 20px,#46ffb9 21px,#62ff9d 22px,#43ffbc 23px,#00fdff 24px,#00eaff 25px,#2bffd4 26px,#6bff94 27px,#00f0ff 29px,#00f3ff 30px,#68ff97 32px,#28ffd7 33px,#00e7ff 34px,#00fdff 35px,#3effc1 36px,#5effa1 37px,#1effe1 38px,#00ddff 39px,#08fff7 40px,#48ffb7 41px,#55ffaa 42px,#15ffea 43px,#00ccff 44px,#11ffee 45px,#52ffad 46px,#43ffbc 47px,#00f6ff 48px,#00b4ff 49px,#00eeff 50px,#24ffdb 51px,#02fffd 52px,#00c0ff 53px,#00a4ff)"></i><i style="height:2px;background:linear-gradient(90deg,#44ffbb,#7bff84 3px,#3affc5 5px,#5dffa2 6px,#71ff8e 8px,#60ff9f 9px,#31ffce 10px,#60ff9f 11px,#60ff9f 14px,#31ffce 15px,#60ff9f 16px,#71ff8e 17px,#5bffa4 19px,#2cffd3 20px,#7bff84 22px,#57ffa8 23px,#17ffe8 24px,#04fffb 25px,#84ff7b 27px,#0afff5 29px,#0efff1 30px,#81ff7e 32px,#01fffe 34px,#17ffe8 35px,#57ffa8 36px,#77ff88 37px,#00f6ff 39px,#21ffde 40px,#61ff9e 41px,#6eff91 42px,#00edff 44px,#2bffd4 45px,#6bff94 46px,#5cffa3 47px,#10ffef 48px,#00d3ff 49px,#09fff6 50px,#3dffc2 51px,#1bffe4 52px,#00daff 53px,#00bdff)"></i><i style="height:2px;background:linear-gradient(90deg,#5dffa2,#6dff92 2px,#94ff6b 3px,#60ff9f 4px,#54ffab 5px,#8aff75 8px,#60ff9f 9px,#4affb5 10px,#80ff7f 12px,#80ff7f 13px,#4affb5 15px,#60ff9f 16px,#8aff75 17px,#45ffba 20px,#5bffa4 21px,#94ff6b 22px,#6dff92 23px,#30ffcf 24px,#1dffe2 25px,#9dff62 27px,#24ffdb 29px,#27ffd8 30px,#9aff65 32px,#1affe5 34px,#31ffce 35px,#70ff8f 36px,#90ff6f 37px,#11ffee 39px,#3affc5 40px,#7aff85 41px,#87ff78 42px,#07fff8 44px,#84ff7b 46px,#75ff8a 47px,#29ffd6 48px,#00ecff 49px,#22ffdd 50px,#56ffa9 51px,#00f3ff 53px,#00d6ff)"></i><i style="height:2px;background:linear-gradient(90deg,#60ff9f,#60ff9f 1px,#adff52 3px,#6dff92 4px,#60ff9f 6px,#90ff6f 7px,#a3ff5c 8px,#63ff9c 9px,#60ff9f 11px,#99ff66 12px,#99ff66 13px,#60ff9f 14px,#63ff9c 16px,#a3ff5c 17px,#90ff6f 18px,#5fffa0 19px,#54ffab 20px,#6dff92 21px,#a5ff5a 22px,#86ff79 23px,#48ffb7 24px,#37ffc8 25px,#76ff89 26px,#9fff60 27px,#7dff82 28px,#3dffc2 29px,#40ffbf 30px,#80ff7f 31px,#9fff60 32px,#73ff8c 33px,#33ffcc 34px,#4affb5 35px,#8aff75 36px,#9fff60 37px,#2affd5 39px,#53ffac 40px,#93ff6c 41px,#9fff60 42px,#20ffdf 44px,#9dff62 46px,#8eff71 47px,#07fff8 49px,#6eff91 51px,#4dffb2 52px,#0dfff2 53px,#00f0ff)"></i><i style="height:2px;background:linear-gradient(90deg,#60ff9f,#60ff9f 1px,#9fff60 2px,#c6ff39 3px,#86ff79 4px,#60ff9f 5px,#69ff96 6px,#a9ff56 7px,#bcff43 8px,#7cff83 9px,#60ff9f 10px,#73ff8c 11px,#b3ff4c 12px,#b3ff4c 13px,#73ff8c 14px,#60ff9f 15px,#7cff83 16px,#bcff43 17px,#a9ff56 18px,#69ff96 19px,#5affa5 20px,#afff50 22px,#9fff60 23px,#60ff9f 24px,#50ffaf 25px,#90ff6f 26px,#9fff60 27px,#96ff69 28px,#56ffa9 29px,#5affa5 30px,#99ff66 31px,#9fff60 32px,#8cff73 33px,#4dffb2 34px,#63ff9c 35px,#9fff60 36px,#9fff60 37px,#83ff7c 38px,#43ffbc 39px,#9fff60 41px,#9fff60 42px,#79ff86 43px,#3affc5 44px,#76ff89 45px,#9fff60 46px,#99ff66 47px,#20ffdf 49px,#84ff7b 51px,#66ff99 52px,#26ffd9 53px,#0afff5)"></i><i style="height:2px;background:linear-gradient(90deg,#69ff96,#79ff86 1px,#b9ff46 2px,#dfff20 3px,#60ff9f 5px,#83ff7c 6px,#c2ff3d 7px,#d5ff2a 8px,#60ff9f 10px,#8cff73 11px,#ccff33 12px,#ccff33 13px,#8cff73 14px,#60ff9f 15px,#d5ff2a 17px,#c2ff3d 18px,#83ff7c 19px,#60ff9f 20px,#9fff60 21px,#b9ff46 22px,#a5ff5a 23px,#79ff86 24px,#69ff96 25px,#9fff60 26px,#9fff60 28px,#70ff8f 29px,#73ff8c 30px,#9fff60 31px,#9fff60 33px,#66ff99 34px,#9fff60 36px,#9cff63 38px,#5dffa2 39px,#9fff60 41px,#92ff6d 43px,#53ffac 44px,#8fff70 45px,#9fff60 46px,#9cff63 47px,#75ff8a 48px,#3affc5 49px,#99ff66 51px,#7fff80 52px,#40ffbf 53px,#23ffdc)"></i><i style="height:2px;background:linear-gradient(90deg,#83ff7c,#92ff6d 1px,#d2ff2d 2px,#f8ff07 3px,#79ff86 5px,#9cff63 6px,#dbff24 7px,#eeff11 8px,#70ff8f 10px,#e5ff1a 12px,#e5ff1a 13px,#70ff8f 15px,#eeff11 17px,#dbff24 18px,#9cff63 19px,#79ff86 20px,#d2ff2d 22px,#92ff6d 24px,#83ff7c 25px,#c1ff3e 27px,#89ff76 29px,#9fff60 31px,#beff41 32px,#7fff80 34px,#b5ff4a 37px,#9fff60 38px,#76ff89 39px,#9fff60 40px,#abff54 42px,#9fff60 43px,#6cff93 44px,#9fff60 45px,#a2ff5d 47px,#8cff73 48px,#53ffac 49px,#b1ff4e 51px,#98ff67 52px,#59ffa6 53px,#3dffc2)"></i><i style="height:2px;background:linear-gradient(90deg,#9cff63,#acff53 1px,#ebff14 2px,#ffee00 3px,#92ff6d 5px,#b5ff4a 6px,#f4ff0b 7px,#fff700 8px,#89ff76 10px,#feff01 12px,#feff01 13px,#89ff76 15px,#fff700 17px,#f4ff0b 18px,#b4ff4b 19px,#92ff6d 20px,#ebff14 22px,#b9ff46 23px,#a0ff5f 24px,#9fff60 26px,#daff25 27px,#a1ff5e 28px,#a5ff5a 31px,#d7ff28 32px,#9fff60 33px,#9fff60 35px,#ceff31 37px,#9fff60 38px,#8fff70 39px,#c4ff3b 42px,#86ff79 44px,#c1ff3e 46px,#bbff44 47px,#6cff93 49px,#caff35 51px,#b1ff4e 52px,#72ff8d 53px,#56ffa9)"></i><i style="height:2px;background:linear-gradient(90deg,#b5ff4a,#c5ff3a 1px,#fffa00 2px,#ffcf00 3px,#ebff14 4px,#acff53 5px,#fff100 7px,#ffdd00 8px,#e1ff1e 9px,#a2ff5d 10px,#d8ff27 11px,#ffe700 12px,#ffe700 13px,#d8ff27 14px,#a2ff5d 15px,#e1ff1e 16px,#ffde00 17px,#fff100 18px,#a9ff56 20px,#fff400 22px,#a1ff5e 24px,#9fff60 25px,#b4ff4b 26px,#fff700 27px,#bbff44 28px,#9fff60 29px,#9fff60 30px,#beff41 31px,#fffd00 32px,#b1ff4e 33px,#9fff60 35px,#ecff13 37px,#a8ff57 38px,#9fff60 40px,#d1ff2e 41px,#ddff22 42px,#9fff60 43px,#9fff60 45px,#daff25 46px,#d4ff2b 47px,#9cff63 48px,#83ff7c 49px,#a5ff5a 50px,#e3ff1c 51px,#caff35 52px,#8bff74 53px,#6fff90)"></i><i style="height:2px;background:linear-gradient(90deg,#cfff30,#deff21 1px,#ffe100 2px,#ffaa00 3px,#fffa00 4px,#c5ff3a 5px,#e8ff17 6px,#ffd400 7px,#ffb900 8px,#faff05 9px,#bcff43 10px,#f1ff0e 11px,#ffcc00 12px,#ffce00 13px,#f1ff0e 14px,#bcff43 15px,#faff05 16px,#ffc500 17px,#ffd800 18px,#e5ff1a 19px,#bdff42 20px,#eaff15 21px,#ffcc00 22px,#ecff13 23px,#a2ff5d 24px,#9fff60 25px,#cdff32 26px,#ffc500 27px,#d4ff2b 28px,#9fff60 29px,#9fff60 30px,#d7ff28 31px,#ffcb00 32px,#caff35 33px,#9fff60 34px,#a2ff5d 35px,#e1ff1e 36px,#ffe800 37px,#c1ff3e 38px,#9fff60 39px,#abff54 40px,#eaff15 41px,#f6ff09 42px,#b8ff47 43px,#9fff60 44px,#b4ff4b 45px,#f3ff0c 46px,#edff12 47px,#aeff51 48px,#8fff70 49px,#fcff03 51px,#e3ff1c 52px,#a5ff5a 53px,#89ff76)"></i><i style="height:2px;background:linear-gradient(90deg,#e8ff17,#f7ff08 1px,#ff8400 3px,#ffe100 4px,#dfff20 5px,#fffd00 6px,#ffaf00 7px,#ff9400 8px,#ffea00 9px,#d5ff2a 10px,#fff400 11px,#ffb100 12px,#ffb400 13px,#fff400 14px,#d5ff2a 15px,#ffea00 16px,#ffac00 17px,#ffbf00 18px,#feff01 19px,#d0ff2f 20px,#fffb00 21px,#ffa500 22px,#ffe800 23px,#bbff44 24px,#a8ff57 25px,#eeff11 26px,#ff9f00 27px,#faff05 28px,#aeff51 29px,#b1ff4e 30px,#fffd00 31px,#ff9f00 32px,#e8ff17 33px,#a5ff5a 34px,#bbff44 35px,#ffee00 36px,#ffbe00 37px,#daff25 38px,#9fff60 39px,#c4ff3b 40px,#fffb00 41px,#ffef00 42px,#9fff60 44px,#fff200 46px,#fff800 47px,#9cff63 49px,#d7ff28 50px,#ffe900 51px,#fcff03 52px,#beff41 53px,#a2ff5d)"></i><i style="height:2px;background:linear-gradient(90deg,#fffd00,#ffed00 1px,#ff9700 2px,#ff8000 3px,#f8ff07 5px,#ffe400 6px,#ff8900 7px,#ff8100 8px,#ffcc00 9px,#efff10 10px,#ffda00 11px,#ff9800 12px,#ff9e00 13px,#ffdb00 14px,#efff10 15px,#ff9f00 17px,#ffa600 18px,#ffe700 19px,#e9ff16 20px,#ffd800 21px,#ff9f00 22px,#ffbb00 23px,#d4ff2b 24px,#c1ff3e 25px,#ffde00 26px,#ff9f00 27px,#ffd100 28px,#c8ff37 29px,#cbff34 30px,#ffcb00 31px,#ff9f00 32px,#ffe400 33px,#beff41 34px,#d4ff2b 35px,#ffbf00 36px,#ffb400 37px,#fdff02 38px,#b5ff4a 39px,#ddff22 40px,#ffe200 41px,#ffdd00 42px,#eaff15 43px,#acff53 44px,#e7ff18 45px,#ffd900 46px,#ffdf00 47px,#e1ff1e 48px,#b2ff4d 49px,#f0ff0f 50px,#ffdd00 51px,#ffe900 52px,#d7ff28 53px,#bbff44)"></i><i style="height:2px;background:linear-gradient(90deg,#ffdf00,#ffca00 1px,#ff8000 2px,#ff8000 3px,#ff9700 4px,#ffe800 5px,#ff8000 7px,#ff8100 8px,#ffa800 9px,#fff000 10px,#ffb900 11px,#ff9800 12px,#ff9e00 13px,#fff000 15px,#ffb700 16px,#ff9f00 17px,#ff9f00 18px,#fff600 20px,#ffb500 21px,#ff9f00 22px,#ff9f00 23px,#feff01 24px,#dfff20 25px,#ffad00 26px,#ffa200 28px,#ebff14 29px,#f0ff0f 30px,#ff9f00 31px,#ff9f00 32px,#ffb300 33px,#dcff23 34px,#fffd00 35px,#ffa800 36px,#ffb400 37px,#ffdb00 38px,#d4ff2b 39px,#fcff03 40px,#ffde00 41px,#ffd800 42px,#fffa00 43px,#cbff34 44px,#fffd00 45px,#ffc500 46px,#ffcd00 47px,#fcff03 48px,#d1ff2e 49px,#fff400 50px,#ffda00 51px,#ffdf00 52px,#f3ff0c 53px,#daff25)"></i><i style="height:2px;background:linear-gradient(90deg,#ffb200,#ff8000 2px,#ff8000 4px,#ffbe00 5px,#ff9400 6px,#ff8000 7px,#ff8700 9px,#ffcc00 10px,#ff9900 11px,#ffa500 14px,#ffd100 15px,#ff9f00 16px,#ff9f00 18px,#ffad00 19px,#ffd200 20px,#ff9f00 21px,#ff9f00 23px,#ffe300 25px,#ff9f00 26px,#ff9f00 28px,#ffd900 29px,#ffd400 30px,#ff9f00 31px,#ff9f00 33px,#ffe800 34px,#ffa800 36px,#ffbf00 38px,#f9ff06 39px,#ffe300 40px,#ffd400 42px,#ffe000 43px,#ebff14 44px,#ffe200 45px,#ffb100 46px,#ffba00 47px,#ffe700 48px,#f0ff0f 49px,#ffde00 50px,#ffdf00 52px,#f8ff07)"></i><i style="height:2px;background:linear-gradient(90deg,#ff8600,#ff8000 4px,#ff9000 5px,#ff8000 7px,#ff8700 9px,#ffa400 10px,#ff9200 11px,#ff9f00 14px,#ffb100 15px,#ff9f00 17px,#ff9f00 19px,#ffad00 20px,#ff9f00 22px,#ff9f00 33px,#ffac00 34px,#ff9f00 35px,#ffbe00 37px,#ffbf00 38px,#ffdc00 39px,#ffd500 43px,#fff300 44px,#ffa200 46px,#ffa800 47px,#ffef00 49px,#ffd600 50px,#ffe800)"></i><i style="height:2px;background:linear-gradient(90deg,#ff8000,#ff8700 7px,#ff9f00 17px,#ffa100 31px,#ffb000 32px,#ff9f00 34px,#ff9f00 35px,#ffcb00 37px,#ffbf00 38px,#ffdc00 41px,#ffca00 43px,#ffd800 44px,#ffa200 46px,#ffc000 48px,#ffd700 49px,#ffcd00 50px,#ffdf00)"></i><i style="height:2px;background:linear-gradient(90deg,#ff8000,#ff8100 6px,#ff9900 8px,#ff8d00 10px,#ff9f00 15px,#ffa700 31px,#ffb800 32px,#ff9f00 34px,#ffa100 35px,#ffc800 36px,#ffd900 37px,#ffcb00 39px,#ffdc00 41px,#ffc600 44px,#ffa200 46px,#ffdf00 52px,#ffdf00)"></i><i style="height:2px;background:linear-gradient(90deg,#ff8000,#ff8000 2px,#ffc100 3px,#ff8700 4px,#ff8b00 6px,#ffb500 8px,#ff9700 9px,#ff9a00 11px,#ffa600 13px,#ff9f00 16px,#ffa900 17px,#ff9f00 21px,#ffab00 22px,#ff9f00 26px,#ffac00 31px,#ffbc00 33px,#ffaf00 34px,#ffdb00 36px,#ffd000 39px,#ffdc00 41px,#ffa700 46px,#ffdf00 53px,#ffdf00)"></i><i style="height:2px;background:linear-gradient(90deg,#ff8000,#ff8000 1px,#ffde00 2px,#d8ff27 3px,#ffad00 4px,#ff8b00 5px,#ff9400 6px,#ffe000 7px,#fff200 8px,#ffab00 9px,#ff9a00 10px,#ffa000 11px,#ffd500 12px,#ffd100 13px,#ffa000 14px,#ffa500 16px,#ffc400 17px,#ff9f00 19px,#ffa700 21px,#ffbf00 22px,#ff9f00 24px,#ffb100 27px,#ffa200 30px,#ffac00 32px,#ffd700 35px,#ffcb00 37px,#ffdc00 38px,#ffd700 42px,#ffaf00 45px,#ffbc00 47px,#ffb400 48px,#ffdf00 52px,#ffdf00)"></i><i style="height:2px;background:linear-gradient(90deg,#ffde00,#fff700 1px,#a3ff5c 2px,#73ff8c 3px,#dbff24 4px,#ffcd00 5px,#fff200 6px,#d4ff2b 7px,#d0ff2f 8px,#fff200 9px,#ffbd00 10px,#f9ff06 12px,#fffc00 13px,#ffb300 15px,#ffdf00 17px,#ffae00 20px,#ffd200 22px,#ffae00 25px,#ffba00 27px,#ffa100 30px,#ffb100 33px,#ffc700 35px,#ffbd00 37px,#ffdb00 39px,#ffd100 43px,#ffc000 44px,#ffcf00 47px,#ffc600 49px,#ffdf00 52px,#ffdf00)"></i><i style="height:2px;background:linear-gradient(90deg,#89ff76,#74ff8b 1px,#1fffe0 2px,#00fcff 3px,#bbff44 5px,#a8ff57 6px,#7aff85 7px,#68ff97 8px,#c5ff3a 9px,#f7ff08 10px,#dfff20 11px,#a5ff5a 12px,#b0ff4f 13px,#fcff03 14px,#ffe200 15px,#fff300 16px,#e4ff1b 17px,#fff300 18px,#ffd200 19px,#ffca00 20px,#ffd900 21px,#fffe00 22px,#ffd000 24px,#ffc800 26px,#ffe300 27px,#ffb300 28px,#ffa000 31px,#ffbc00 32px,#ffa200 33px,#ffad00 35px,#ffaa00 36px,#ffc000 37px,#ffde00 42px,#ffd800 45px,#ffdd00 50px,#fff300 51px,#ffdf00)"></i><i style="height:2px;background:linear-gradient(90deg,#02fffd,#00eeff 1px,#00a0ff 2px,#0074ff 3px,#00d5ff 4px,#48ffb7 5px,#21ffde 6px,#00baff 7px,#009cff 8px,#23ffdc 9px,#aeff51 10px,#48ffb7 11px,#00c8ff 12px,#00ceff 13px,#70ff8f 14px,#eaff15 15px,#96ff69 16px,#60ff9f 17px,#a0ff5f 18px,#f4ff0b 19px,#ffeb00 20px,#e0ff1f 21px,#afff50 22px,#fffd00 24px,#ffe800 25px,#f3ff0c 26px,#cfff30 27px,#fff900 28px,#ffbf00 29px,#ffb800 30px,#fffd00 32px,#ffab00 34px,#ffb500 35px,#ffd500 36px,#ffe200 37px,#ffcd00 39px,#ffde00 41px,#ffdf00 44px,#ffc200 46px,#ffe300 48px,#ffe100 49px,#fffe00 50px,#cdff32 51px,#ceff31 52px,#fdff02 53px,#ffec00)"></i><i style="height:2px;background:linear-gradient(90deg,#0083ff,#0070ff 1px,#0022ff 2px,#0000eb 3px,#003fff 4px,#00a3ff 5px,#006fff 6px,#0000fa 7px,#0000d1 8px,#0053ff 9px,#00daff 10px,#006fff 11px,#0000ea 12px,#0000eb 13px,#009fff 14px,#34ffcb 15px,#00f7ff 16px,#00dbff 17px,#35ffca 18px,#9dff62 19px,#bdff42 20px,#5fffa0 22px,#b5ff4a 24px,#caff35 25px,#84ff7b 27px,#f4ff0b 29px,#fcff03 30px,#bfff40 32px,#f0ff0f 33px,#ffe300 34px,#fdff02 36px,#faff05 37px,#ffdd00 39px,#ffd000 44px,#ffaa00 46px,#ffea00 48px,#fffa00 49px,#d5ff2a 50px,#90ff6f 51px,#82ff7d 52px,#b1ff4e 53px,#c6ff39)"></i><i style="height:2px;background:linear-gradient(90deg,#0005ff,#0000c4 3px,#0000c7 4px,#0000ff 5px,#0000bc 6px,#00009f 8px,#00009f 9px,#0006ff 10px,#00009f 11px,#00009f 13px,#0000d8 14px,#007cff 15px,#0070ff 16px,#07fff8 18px,#45ffba 19px,#68ff97 20px,#4dffb2 21px,#69ff96 24px,#7fff80 25px,#74ff8b 26px,#8bff74 28px,#a8ff57 29px,#b0ff4f 31px,#e3ff1c 34px,#f3ff0c 36px,#fffd00 38px,#ffb100 45px,#ffe600 47px,#fff100 48px,#eaff15 49px,#a3ff5c 50px,#39ffc6 51px,#29ffd6 52px,#66ff99 53px,#7bff84)"></i><i style="height:2px;background:linear-gradient(90deg,#0000cd,#0000ae 3px,#0000b8 5px,#00009f 9px,#00009f 13px,#0000d8 14px,#0024ff 15px,#07fff8 18px,#41ffbe 19px,#74ff8b 26px,#b6ff49 31px,#d8ff27 33px,#fff500 36px,#ffdc00 43px,#ffc800 44px,#fff400 46px,#b6ff49 49px,#4effb1 50px,#00daff 51px,#00c4ff 52px,#03fffc 53px,#1fffe0)"></i><i style="height:2px;background:linear-gradient(90deg,#0000b4,#0000a1 2px,#0000b0 3px,#0000a4 6px,#0000ab 7px,#0000f2 8px,#00009f 9px,#00009f 11px,#0000c6 12px,#0000c3 13px,#0000d8 14px,#0024ff 15px,#00ceff 17px,#09fff6 18px,#41ffbe 19px,#74ff8b 26px,#a4ff5b 30px,#e7ff18 33px,#fff400 35px,#ffe000 36px,#ffed00 42px,#ffe600 44px,#ffff00 45px,#e6ff19 46px,#88ff77 48px,#6aff95 49px,#00f8ff 50px,#00c0ff 51px,#0061ff 52px,#009dff 53px,#00b9ff)"></i><i style="height:2px;background:linear-gradient(90deg,#00009f,#00009f 2px,#0000e3 3px,#0000f3 4px,#0000ae 5px,#000cff 6px,#00f2ff 7px,#69ff96 8px,#0076ff 9px,#00009f 10px,#0042ff 11px,#00f2ff 12px,#00deff 13px,#0053ff 14px,#0024ff 15px,#00c3ff 16px,#27ffd8 17px,#53ffac 22px,#97ff68 29px,#dfff20 33px,#ffff00 34px,#ffed00 35px,#fff500 37px,#ffe100 40px,#f8ff07 45px,#feff01 46px,#e1ff1e 47px,#8cff73 48px,#22ffdd 49px,#36ffc9 50px,#73ff8c 51px,#2bffd4 52px,#00adff 53px,#0075ff)"></i><i style="height:2px;background:linear-gradient(90deg,#00009f,#00009f 2px,#0017ff 3px,#006cff 4px,#006cff 5px,#0efff1 6px,#ffc500 7px,#ff2100 8px,#d9ff26 9px,#00ebff 10px,#81ff7e 11px,#ffdf00 12px,#f8ff07 13px,#43ffbc 14px,#00deff 15px,#4effb1 16px,#7fff80 17px,#54ffab 18px,#41ffbe 19px,#74ff8b 26px,#d1ff2e 33px,#f9ff06 35px,#fff400 38px,#ffe100 42px,#fff700 44px,#ffec00 47px,#ddff22 48px,#93ff6c 49px,#c8ff37 50px,#ffda00 51px,#f4ff0b 52px,#78ff87 53px,#40ffbf)"></i><i style="height:2px;background:linear-gradient(90deg,#00009f,#00009f 1px,#0000be 2px,#0053ff 3px,#00d8ff 4px,#29ffd6 5px,#ffef00 6px,#ff2900 7px,#bd0000 8px,#db0000 9px,#ffc200 10px,#ff3f00 11px,#ffb100 13px,#ffcc00 14px,#9cff63 15px,#cdff32 16px,#63ff9c 18px,#41ffbe 19px,#68ff97 25px,#95ff6a 27px,#a3ff5c 30px,#d2ff2d 32px,#caff35 33px,#ffff00 38px,#ffdf00 42px,#ffdf00 46px,#ffcf00 48px,#fffa00 49px,#ffb400 50px,#ff9f00 52px,#ffbd00 53px,#fff500)"></i><i style="height:2px;background:linear-gradient(90deg,#0000cf,#0000db 1px,#000bff 2px,#0091ff 3px,#04fffb 4px,#8dff72 5px,#ffcb00 6px,#ff3400 7px,#d70000 8px,#fa0000 9px,#ff1900 10px,#ffad00 12px,#ffe200 13px,#f4ff0b 15px,#80ff7f 17px,#41ffbe 19px,#6dff92 25px,#afff50 27px,#c5ff3a 30px,#f0ff0f 32px,#d8ff27 34px,#ffff00 38px,#ffdf00 42px,#ffd600 47px,#ff9f00 52px,#ff9f00)"></i><i style="height:2px;background:linear-gradient(90deg,#001cff,#0027ff 1px,#0056ff 2px,#00c4ff 3px,#30ffcf 4px,#a6ff59 5px,#ffc400 6px,#ff3f00 7px,#ff0800 8px,#ff3c00 10px,#ffda00 12px,#ecff13 13px,#d2ff2d 15px,#73ff8c 17px,#41ffbe 19px,#5effa1 24px,#bbff44 27px,#dbff24 28px,#fffb00 32px,#e0ff1f 35px,#fff300 39px,#ffdf00 42px,#ffd700 47px,#ff9f00 52px,#ff9f00)"></i><i style="height:2px;background:linear-gradient(90deg,#0065ff,#006dff 1px,#008cff 2px,#00d7ff 3px,#32ffcd 4px,#bfff40 5px,#ffe400 6px,#ffb200 8px,#ff7400 9px,#ff6000 10px,#ffc300 11px,#e9ff16 12px,#c1ff3e 14px,#45ffba 19px,#5effa1 24px,#aeff51 27px,#fffd00 29px,#ffe600 30px,#ffff00 32px,#e9ff16 35px,#fff600 37px,#ffdf00 43px,#ffda00 47px,#ffbd00 50px,#ffb700 52px,#ffa000)"></i><i style="height:2px;background:linear-gradient(90deg,#0097ff,#009fff 1px,#00ebff 3px,#1cffe3 4px,#80ff7f 5px,#b2ff4d 6px,#a1ff5e 7px,#a3ff5c 8px,#fcff03 9px,#ffcb00 10px,#e4ff1b 11px,#adff52 12px,#a0ff5f 15px,#51ffae 19px,#5fffa0 24px,#c3ff3c 28px,#ecff13 29px,#fffd00 30px,#ffff00 35px,#ffe500 37px,#ffe300 40px,#ffd600 48px,#ffcf00 50px,#ffd000 52px,#ffba00)"></i><i style="height:2px;background:linear-gradient(90deg,#00c9ff,#00d1ff 1px,#02fffd 2px,#32ffcd 3px,#10ffef 4px,#41ffbe 5px,#72ff8d 8px,#6eff91 9px,#c0ff3f 10px,#8dff72 11px,#aaff55 13px,#80ff7f 16px,#8eff71 17px,#5dffa2 19px,#63ff9c 21px,#79ff86 22px,#5fffa0 24px,#eaff15 30px,#fff400 34px,#ffda00 37px,#ffe000 40px,#ffd000 42px,#ffdf00 44px,#ffd300 47px,#ffde00 50px,#ffcf00 51px,#ffd300)"></i><i style="height:2px;background:linear-gradient(90deg,#19ffe6,#29ffd6 1px,#67ff98 2px,#8cff73 3px,#3effc1 5px,#81ff7e 7px,#87ff78 9px,#83ff7c 10px,#b7ff48 12px,#c3ff3c 13px,#98ff67 15px,#b8ff47 17px,#acff53 18px,#75ff8a 20px,#9cff63 22px,#73ff8c 24px,#7dff82 25px,#b6ff49 27px,#fff900 33px,#ffd200 38px,#ffcd00 40px,#ffb700 42px,#ffd600 44px,#ffb800 46px,#ffd500 49px,#ffb600 51px,#ffd200)"></i><i style="height:2px;background:linear-gradient(90deg,#7eff81,#8dff72 1px,#ccff33 2px,#dcff23 3px,#7dff82 5px,#a4ff5b 7px,#9cff63 10px,#d0ff2f 12px,#dcff23 13px,#b9ff46 15px,#e1ff1e 17px,#daff25 18px,#a1ff5e 20px,#c1ff3e 22px,#8dff72 24px,#93ff6c 25px,#c9ff36 27px,#e2ff1d 30px,#fff900 33px,#ffc500 38px,#ffb700 40px,#ffa100 41px,#ffae00 43px,#ffbd00 44px,#ffa000 46px,#ffb000 48px,#ffbc00 49px,#ffa100 51px,#ffb900)"></i><i style="height:2px;background:linear-gradient(90deg,#e0ff1f,#f8ff07 3px,#bbff44 5px,#d8ff27 8px,#b6ff49 10px,#efff10 12px,#f6ff09 13px,#daff25 15px,#faff05 17px,#e4ff1b 19px,#ceff31 20px,#e9ff16 22px,#acff53 24px,#aaff55 25px,#efff10 27px,#d9ff26 29px,#fcff03 31px,#ffc300 38px,#ffab00 41px,#ffa600 50px,#ffa000)"></i><i style="height:2px;background:linear-gradient(90deg,#f9ff06,#ffe900 3px,#ffff00 4px,#e3ff1c 5px,#fffd00 7px,#efff10 9px,#dbff24 10px,#fff000 12px,#f4ff0b 15px,#ffea00 17px,#feff01 19px,#eeff11 20px,#ffed00 22px,#feff01 23px,#ddff22 24px,#d9ff26 25px,#faff05 26px,#ffe900 27px,#f6ff09 29px,#ffe400 32px,#ffda00 36px,#ffb600 40px,#ffb100 45px,#ffb000 48px,#ffb200 50px,#ffaf00 53px,#ffac00)"></i><i style="height:2px;background:linear-gradient(90deg,#ffec00,#ffef00 3px,#ffe000 4px,#fff600 5px,#ffe800 7px,#ffe200 9px,#fffb00 10px,#ffe500 11px,#ffe300 14px,#fff000 15px,#ffe400 17px,#fff100 20px,#ffdf00 22px,#fff700 25px,#ffdf00 26px,#ffe900 30px,#ffcf00 38px,#ffb600 44px,#ffc400 47px,#ffb700 49px,#ffb800)"></i><i style="height:2px;background:linear-gradient(90deg,#ffec00,#f6ff09 3px,#ffe900 5px,#f8ff07 8px,#ffe700 10px,#faff05 13px,#ffe500 15px,#ffe400 18px,#ffd500 37px,#ffc400 42px,#ffc800 45px,#ffcf00 47px,#ffbf00 53px,#ffbf00)"></i><i style="height:2px;background:linear-gradient(90deg,#f9ff06,#e2ff1d 3px,#fbff04 5px,#e0ff1f 8px,#feff01 10px,#e1ff1e 12px,#e1ff1e 13px,#fff600 15px,#ffdf00 21px,#ffd500 37px,#ffc600 42px,#ffda00 47px,#ffbf00 53px,#ffbf00)"></i><i style="height:2px;background:linear-gradient(90deg,#e0ff1f,#fbff04 3px,#e2ff1d 5px,#f8ff07 8px,#e5ff1a 10px,#e8ff17 14px,#fff300 17px,#ffdf00 20px,#ffd500 37px,#ffbb00 42px,#ffd000 44px,#ffcb00 45px,#ffb000 46px,#ffb400 47px,#ffcc00 48px,#ffbf00 53px,#ffbf00)"></i><i style="height:2px;background:linear-gradient(90deg,#f7ff08,#ffea00 3px,#f5ff0a 5px,#ffee00 8px,#ebff14 10px,#e8ff17 14px,#fff300 17px,#ffdf00 20px,#ffd500 37px,#ffb000 43px,#ffbc00 44px,#ff8000 46px,#ff8900 47px,#ffbb00 49px,#ffb600 51px,#ffbf00)"></i><i style="height:2px;background:linear-gradient(90deg,#ffed00,#ffe000 4px,#fff000 5px,#ffe200 8px,#faff05 10px,#e2ff1d 13px,#fff300 17px,#ffdf00 20px,#ffd500 37px,#ffad00 42px,#ff9c00 43px,#ff9e00 44px,#ff7d00 45px,#ff7800 47px,#ffa200 49px,#ffbf00 53px,#ffbf00)"></i><i style="height:2px;background:linear-gradient(90deg,#ffdf00,#ffe200 8px,#eeff11 12px,#e8ff17 14px,#fff300 17px,#ffdf00 20px,#ffd500 37px,#ffa500 43px,#ff8c00 44px,#ff9900 47px,#ff9500 49px,#ffbf00 52px,#ffbf00)"></i><i style="height:2px;background:linear-gradient(90deg,#ffdf00,#ffe200 8px,#eeff11 12px,#e8ff17 14px,#fff300 17px,#ffdf00 20px,#ffd500 37px,#ffb400 43px,#ffa200 44px,#ffba00 47px,#ffa800 49px,#ffbf00 52px,#ffbf00)"></i><i style="height:2px;background:linear-gradient(90deg,#ffdf00,#ffe800 9px,#fffa00 11px,#ffde00 12px,#ffde00 13px,#f7ff08 14px,#fff300 16px,#ffdd00 17px,#ffec00 23px,#ffdf00 25px,#ffed00 27px,#ffdf00 32px,#ffcf00 38px,#ffb800 44px,#ffbf00)"></i><i style="height:2px;background:linear-gradient(90deg,#ffdf00,#ffd700 9px,#ffe300 10px,#ffce00 11px,#ffa400 12px,#ff9600 13px,#ffe600 15px,#ffc500 17px,#feff01 23px,#fff900 26px,#ffdf00 31px,#ffd500 37px,#ffbf00 43px,#ffbf00)"></i><i style="height:2px;background:linear-gradient(90deg,#ffdf00,#ffd100 3px,#ffdf00 5px,#ffc400 10px,#ff8500 12px,#ff7400 13px,#ff8400 14px,#ffb300 15px,#ffa700 16px,#ffd400 18px,#f4ff0b 22px,#f4ff0b 26px,#ffdf00 31px,#ffd500 37px,#ffbf00 43px,#ffbf00)"></i><i style="height:2px;background:linear-gradient(90deg,#ffd600,#ffb400 3px,#ffd500 5px,#ff9900 8px,#ffac00 9px,#ff9a00 11px,#ffa200 13px,#ff9000 15px,#ffe500 17px,#f8ff07 21px,#e1ff1e 24px,#fff300 28px,#ffdf00 31px,#ffd500 37px,#ffbf00 43px,#ffbf00)"></i><i style="height:2px;background:linear-gradient(90deg,#ffbd00,#ff9700 3px,#ffaf00 5px,#ff7700 7px,#ff6b00 8px,#ff9100 9px,#ffa300 11px,#ffd000 13px,#ffba00 15px,#f7ff08 17px,#f8ff07 20px,#dfff20 22px,#f3ff0c 26px,#ffdf00 30px,#ffd500 37px,#ffbf00 43px,#ffbf00)"></i><i style="height:2px;background:linear-gradient(90deg,#ffa400,#ff8900 5px,#ff7500 6px,#ff8200 9px,#ffe800 14px,#ffe400 15px,#fcff03 16px,#d9ff26 18px,#e4ff1b 20px,#d5ff2a 22px,#ffff00 27px,#ffdf00 31px,#ffd500 37px,#ffbf00 43px,#ffbf00)"></i><i style="height:2px;background:linear-gradient(90deg,#ff9f00,#ff9600 4px,#ff8600 6px,#ff9d00 10px,#ffec00 14px,#efff10 16px,#c3ff3c 18px,#cbff34 21px,#ffff00 27px,#ffdf00 31px,#ffd500 37px,#ffbf00 43px,#ffbf00)"></i><i style="height:2px;background:linear-gradient(90deg,#ff9f00,#ffa400 2px,#ffbd00 3px,#ff9e00 4px,#ff9800 6px,#ffac00 10px,#ffe900 13px,#fdff02 15px,#b3ff4c 18px,#adff52 19px,#f8ff07 27px,#ffdf00 31px,#ffdb00 36px,#ffbf00 43px,#ffbf00)"></i><i style="height:2px;background:linear-gradient(90deg,#ffb600,#ffc100 1px,#fff000 2px,#fcff03 3px,#ffaa00 5px,#ffc600 8px,#ffbd00 10px,#f5ff0a 12px,#e4ff1b 13px,#f3ff0c 15px,#c9ff36 17px,#afff50 19px,#c6ff39 21px,#faff05 28px,#ffe800 30px,#fff500 32px,#ffbf00 41px,#ffbf00)"></i><i style="height:2px;background:linear-gradient(90deg,#fdff02,#f1ff0e 1px,#c3ff3c 2px,#b7ff48 3px,#f2ff0d 4px,#ffdc00 5px,#ffe100 10px,#f8ff07 11px,#c9ff36 12px,#b3ff4c 13px,#d9ff26 15px,#cbff34 17px,#c5ff3a 20px,#deff21 22px,#e9ff16 28px,#feff01 30px,#fff200 33px,#ffbf00 42px,#ffbf00)"></i><i style="height:2px;background:linear-gradient(90deg,#b1ff4e,#a6ff59 1px,#ffff00 3px,#dcff23 4px,#f7ff08 6px,#ffe800 7px,#ffe400 8px,#fffb00 9px,#faff05 10px,#d5ff2a 11px,#aaff55 14px,#d1ff2e 17px,#dcff23 21px,#d5ff2a 23px,#e0ff1f 25px,#c6ff39 27px,#e6ff19 30px,#ebff14 32px,#fffd00 33px,#ffd800 37px,#ffc800 41px,#ffc100 45px,#ffbf00)"></i><i style="height:2px;background:linear-gradient(90deg,#ecff13,#fbff04 1px,#ffc400 2px,#ffa800 3px,#ffde00 4px,#fffd00 5px,#ffda00 7px,#fff500 9px,#beff41 15px,#dcff23 18px,#d2ff2d 21px,#c1ff3e 23px,#ccff33 25px,#adff52 27px,#ceff31 30px,#dcff23 32px,#f7ff08 33px,#ffdd00 36px,#ffd400 41px,#ffcd00 45px,#ffd200 47px,#ffbf00 53px,#ffbf00)"></i><i style="height:2px;background:linear-gradient(90deg,#ffad00,#ff9e00 1px,#ff6000 2px,#ff7100 3px,#ffcb00 5px,#ffce00 7px,#fbff04 10px,#cfff30 15px,#ddff22 19px,#aeff51 23px,#b3ff4c 25px,#9fff60 27px,#beff41 31px,#fff800 34px,#ffdf00 36px,#ffda00 43px,#ffda00 45px,#ffde00 47px,#ffbf00 52px,#ffbf00)"></i><i style="height:2px;background:linear-gradient(90deg,#ff6000,#ff6000 2px,#ffee00 9px,#e2ff1d 13px,#dcff23 19px,#9fff60 25px,#a5ff5a 30px,#fffc00 34px,#ffdf00 36px,#ffdf00 44px,#fffc00 46px,#ffd000 49px,#ffbf00)"></i><i style="height:2px;background:linear-gradient(90deg,#ff6000,#ff6000 2px,#ffee00 9px,#e2ff1d 13px,#dcff23 19px,#9fff60 25px,#a5ff5a 30px,#fffc00 34px,#ffdf00 36px,#ffec00 42px,#ffee00 44px,#fffe00 45px,#eaff15 46px,#ffef00 48px,#ffbf00 52px,#ffbf00)"></i><i style="height:2px;background:linear-gradient(90deg,#ff6000,#ff6000 2px,#ffc200 7px,#fff900 10px,#f2ff0d 13px,#dfff20 15px,#dcff23 19px,#9fff60 25px,#a5ff5a 30px,#fffc00 34px,#ffe500 35px,#ffed00 37px,#ffe100 41px,#fffd00 44px,#efff10 45px,#feff01 48px,#ffbf00 52px,#ffbf00)"></i><i style="height:2px;background:linear-gradient(90deg,#ff6000,#ff6b00 3px,#ffa600 6px,#ffb600 8px,#ffec00 10px,#fff200 13px,#e8ff17 15px,#e4ff1b 18px,#9fff60 25px,#a4ff5b 30px,#d8ff27 33px,#f5ff0a 34px,#fffe00 37px,#ffe200 40px,#ffee00 43px,#fffc00 45px,#ffe800 49px,#ffbf00 52px,#ffbf00)"></i><i style="height:2px;background:linear-gradient(90deg,#ff6000,#ff6000 2px,#ff9500 6px,#ffa200 8px,#ffd300 10px,#ffdc00 13px,#f9ff06 15px,#f7ff08 17px,#9fff60 25px,#a3ff5c 30px,#c9ff36 33px,#ecff13 35px,#f6ff09 37px,#ffe300 42px,#ffe800 45px,#ffdc00 49px,#ffbf00 52px,#ffbf00)"></i><i style="height:2px;background:linear-gradient(90deg,#ff6400,#ff8500 3px,#ff8000 5px,#fff800 16px,#feff01 18px,#d2ff2d 20px,#c7ff38 22px,#a3ff5c 24px,#aeff51 28px,#a9ff56 30px,#dcff23 32px,#d4ff2b 34px,#ffff00 37px,#fff000 40px,#fff600 42px,#ffe200 45px,#ffbf00)"></i><i style="height:2px;background:linear-gradient(90deg,#ff7d00,#ff9a00 3px,#ff8d00 5px,#ffec00 15px,#ffea00 18px,#feff01 19px,#deff21 21px,#a4ff5b 24px,#aeff51 26px,#bfff40 28px,#c2ff3d 30px,#f5ff0a 32px,#edff12 34px,#fff200 36px,#fcff03 40px,#eeff11 41px,#ffe800 45px,#ffbf00 53px,#ffbf00)"></i><i style="height:2px;background:linear-gradient(90deg,#ff9600,#ffb300 3px,#ff9900 5px,#ffc500 11px,#ffe400 15px,#ffd400 18px,#f9ff06 20px,#f2ff0d 21px,#feff01 22px,#a5ff5a 24px,#a7ff58 25px,#c4ff3b 26px,#f5ff0a 27px,#d0ff2f 29px,#dbff24 30px,#fbff04 31px,#ffec00 32px,#fff800 34px,#ffe700 35px,#f8ff07 39px,#d6ff29 41px,#fff300 44px,#ffcc00 50px,#ffdb00 51px,#ffbf00 53px,#ffbf00)"></i><i style="height:2px;background:linear-gradient(90deg,#ffad00,#ffce00 3px,#ffaa00 5px,#ffcd00 8px,#ffbe00 10px,#ffde00 13px,#ffd200 16px,#ffbd00 18px,#ffec00 20px,#ffc400 22px,#ffe500 23px,#daff25 24px,#cfff30 25px,#fff500 26px,#ffc200 27px,#f7ff08 29px,#fffd00 30px,#ffcb00 32px,#ffe800 34px,#ffe000 35px,#fcff03 37px,#edff12 39px,#bcff43 41px,#fffc00 44px,#ffe300 47px,#ffd600 49px,#fffe00 51px,#fff800 52px,#ffd100)"></i><i style="height:2px;background:linear-gradient(90deg,#ffc400,#ffde00 3px,#ffc100 5px,#ffde00 7px,#ffcb00 10px,#ffd900 11px,#ffd500 15px,#ffac00 17px,#ffb400 19px,#ffcc00 20px,#ffa600 22px,#ffa300 23px,#ffe000 24px,#ffed00 25px,#ffb100 26px,#ffaa00 28px,#ffd500 29px,#ffd000 30px,#ffb300 31px,#ffdd00 34px,#fff000 36px,#e6ff19 37px,#ddff22 39px,#9dff62 41px,#a7ff58 42px,#dcff23 43px,#f9ff06 44px,#ffe700 49px,#ffff00 50px,#dcff23 51px,#deff21 52px,#fdff02 53px,#fff300)"></i><i style="height:2px;background:linear-gradient(90deg,#ffdb00,#ffdc00 6px,#ffb800 8px,#ffd800 10px,#ffcc00 11px,#ff8e00 12px,#ff8200 13px,#ffc000 14px,#ffce00 15px,#ff9200 17px,#ffab00 20px,#ffa600 21px,#ffb600 22px,#ffa100 24px,#ffb200 26px,#ffca00 27px,#ffa300 29px,#ffa400 30px,#ffe300 32px,#ffd300 34px,#ffdf00 35px,#ecff13 36px,#b9ff46 37px,#ceff31 39px,#a0ff5f 40px,#4cffb3 41px,#56ffa9 42px,#b3ff4c 43px,#f0ff0f 44px,#e5ff1a 45px,#b6ff49 46px,#c2ff3d 47px,#f9ff06 48px,#fff700 49px,#b9ff46 51px,#e9ff16)"></i><i style="height:2px;background:linear-gradient(90deg,#ffdf00,#ffd800 5px,#ff9b00 8px,#ffa900 9px,#ffcb00 10px,#ff9700 11px,#ff4900 12px,#ff3400 13px,#ff8100 14px,#ffb400 15px,#ff8800 16px,#ff7800 17px,#ffa100 19px,#ffb000 21px,#ffc600 22px,#ffb200 25px,#ffe300 27px,#ffb500 29px,#ffb900 30px,#ffff00 32px,#ffe200 34px,#fff700 35px,#8cff73 37px,#90ff6f 38px,#a8ff57 39px,#5effa1 40px,#00fbff 41px,#04fffb 42px,#ceff31 44px,#64ff9b 46px,#79ff86 47px,#c0ff3f 48px,#e7ff18 49px,#95ff6a 51px,#cfff30)"></i><i style="height:2px;background:linear-gradient(90deg,#ffdf00,#ffdb00 3px,#ffb800 7px,#ffb600 8px,#ff8500 9px,#ffa300 10px,#ff6200 11px,#ff7500 12px,#ff6600 13px,#ff4200 14px,#ff8700 15px,#ff6300 16px,#ffa200 17px,#ffa800 20px,#ffd200 22px,#ffc900 25px,#fff100 27px,#ffcc00 29px,#ffd000 30px,#fff800 31px,#e3ff1c 32px,#fff900 34px,#efff10 35px,#71ff8e 37px,#5fffa0 38px,#73ff8c 39px,#1cffe3 40px,#00ceff 41px,#00ccff 42px,#1fffe0 43px,#8cff73 44px,#51ffae 45px,#00e7ff 46px,#03fffc 47px,#86ff79 48px,#baff45 49px,#8cff73 50px,#23ffdc 51px,#5dffa2 52px,#abff54 53px,#b8ff47)"></i><i style="height:2px;background:linear-gradient(90deg,#ffdf00,#ffd400 4px,#ffbd00 6px,#ffd400 8px,#ff7a00 10px,#ff7b00 11px,#ffba00 12px,#ffb500 13px,#ff6300 14px,#ff5a00 15px,#ffcf00 17px,#ffaf00 19px,#ffad00 20px,#ffdd00 22px,#ffe900 26px,#ffff00 27px,#ffe300 29px,#ffe800 30px,#ecff13 31px,#c7ff38 32px,#eeff11 34px,#d8ff27 35px,#55ffaa 37px,#3effc1 39px,#00f3ff 40px,#00aeff 41px,#0098ff 42px,#00dbff 43px,#49ffb6 44px,#00f1ff 45px,#0064ff 46px,#0080ff 47px,#27ffd8 48px,#8dff72 49px,#22ffdd 50px,#00b0ff 51px,#00f3ff 52px,#70ff8f 53px,#a2ff5d)"></i><i style="height:2px;background:linear-gradient(90deg,#ffdf00,#ffdc00 4px,#ffc900 5px,#ffd900 7px,#ffc800 9px,#ff8400 10px,#ffdc00 12px,#ffdf00 13px,#ff6900 15px,#ffbf00 16px,#ffdf00 17px,#ffdf00 18px,#ffbc00 20px,#ffd900 21px,#ffe200 25px,#ffff00 27px,#f5ff0a 28px,#ffff00 30px,#d2ff2d 31px,#baff45 32px,#d7ff28 34px,#c0ff3f 35px,#39ffc6 37px,#20ffdf 39px,#00dbff 40px,#0091ff 41px,#0073ff 42px,#009aff 43px,#03fffc 44px,#0018ff 46px,#0024ff 47px,#00b4ff 48px,#3affc5 49px,#00b6ff 50px,#005aff 51px,#008eff 52px,#10ffef 53px,#4dffb2)"></i><i style="height:2px;background:linear-gradient(90deg,#ffdf00,#ffd400 5px,#ffde00 6px,#ffb400 8px,#ffd800 9px,#ffad00 10px,#ffde00 11px,#ffdf00 14px,#ff9e00 15px,#ffdf00 16px,#ffdd00 19px,#ffce00 20px,#ffdf00 22px,#ffe600 25px,#f3ff0c 28px,#e8ff17 30px,#afff50 32px,#c1ff3e 34px,#a8ff57 35px,#1effe1 37px,#0afff5 39px,#0076ff 41px,#0057ff 42px,#0064ff 43px,#00b7ff 44px,#0038ff 45px,#0000fb 46px,#0001ff 47px,#0046ff 48px,#00d4ff 49px,#005eff 50px,#000fff 51px,#003fff 52px,#00b0ff 53px,#00f1ff)"></i><i style="height:2px;background:linear-gradient(90deg,#ffdf00,#ffd300 4px,#ffdf00 5px,#ffd000 6px,#ffab00 7px,#ffaa00 8px,#ffd500 10px,#ffcf00 12px,#ffdf00 14px,#ffd200 15px,#ffdf00 18px,#ffe800 25px,#f3ff0c 28px,#c5ff3a 31px,#a0ff5f 33px,#abff54 34px,#91ff6e 35px,#44ffbb 36px,#0bfff4 37px,#00f2ff 39px,#005bff 41px,#003cff 42px,#006dff 44px,#001fff 45px,#0000e0 46px,#0000de 47px,#001fff 48px,#0070ff 49px,#0023ff 50px,#0000d5 51px,#0000ee 52px,#0064ff 53px,#0099ff)"></i><i style="height:2px;background:linear-gradient(90deg,#ffdf00,#ffdc00 3px,#ffcb00 4px,#ffd400 5px,#ffbc00 7px,#ffc300 8px,#ffb200 9px,#ffd500 10px,#ffc100 13px,#ffdf00 14px,#ffdc00 18px,#ffe800 25px,#f3ff0c 28px,#c2ff3d 31px,#94ff6b 33px,#99ff66 34px,#7bff84 35px,#02fffd 37px,#00e1ff 38px,#00dcff 39px,#0040ff 41px,#0021ff 42px,#0045ff 44px,#0007ff 45px,#0000c5 46px,#0000c3 47px,#0000f6 48px,#003aff 49px,#0000e7 50px,#0000b9 51px,#0000ca 52px,#001cff 53px,#0054ff)"></i><i style="height:2px;background:linear-gradient(90deg,#ffdf00,#ffe200 3px,#ffb900 6px,#ffda00 8px,#ffb900 9px,#ffc300 11px,#ffaa00 13px,#ffd400 14px,#ffdf00 15px,#ffcc00 17px,#ffdf00 20px,#ffe800 25px,#f3ff0c 28px,#c2ff3d 31px,#94ff6b 33px,#86ff79 34px,#37ffc8 36px,#00f8ff 37px,#00d3ff 38px,#00c3ff 39px,#0027ff 41px,#0008ff 42px,#002cff 44px,#0000ed 45px,#0000ac 46px,#0000aa 47px,#0008ff 49px,#0000a0 51px,#0000b1 52px,#0009ff)"></i><i style="height:2px;background:linear-gradient(90deg,#ffdf00,#ffe300 2px,#fff800 3px,#ffc400 5px,#ffe000 7px,#ffde00 8px,#ffba00 10px,#ffc100 13px,#ffbe00 14px,#ffdd00 15px,#ffc900 16px,#ffe800 17px,#ffdf00 21px,#fffc00 22px,#ffe300 23px,#ffe800 25px,#fff300 26px,#dcff23 27px,#f3ff0c 28px,#c2ff3d 31px,#8aff75 32px,#94ff6b 33px,#65ff9a 35px,#2fffd0 36px,#00e7ff 37px,#00acff 39px,#001aff 41px,#0003ff 42px,#0001ff 43px,#0013ff 44px,#0000d4 45px,#0000a5 46px,#00009f 47px,#0000da 49px,#0000b0 50px,#00009f 52px,#0000d4)"></i><i style="height:2px;background:linear-gradient(90deg,#ffdf00,#ffdf00 1px,#fffc00 2px,#f0ff0f 3px,#ffd100 5px,#ffe100 8px,#ffb900 11px,#ffee00 12px,#fff100 13px,#ffa800 14px,#ffcc00 15px,#ffc800 16px,#f4ff0b 17px,#fffe00 18px,#ffdf00 19px,#ffec00 21px,#e9ff16 22px,#fffc00 23px,#ffdf00 24px,#f8ff07 26px,#c3ff3c 27px,#e8ff17 29px,#d9ff26 30px,#71ff8e 32px,#83ff7c 33px,#65ff9a 35px,#19ffe6 36px,#00d6ff 37px,#009bff 39px,#004fff 40px,#001aff 41px,#0003ff 42px,#0000eb 43px,#0000f9 44px,#0000bc 45px,#00009f 47px,#0000a2 48px,#0000c1 49px,#00009f 50px,#0000a8 53px,#0000ba)"></i><i style="height:2px;background:linear-gradient(90deg,#ffe100,#ffec00 1px,#e9ff16 2px,#cdff32 3px,#fff900 4px,#ffdd00 5px,#ffdf00 9px,#ffc300 10px,#ffd700 11px,#eeff11 12px,#e2ff1d 13px,#ffd700 14px,#ffbb00 15px,#ffee00 16px,#dfff20 17px,#e3ff1c 18px,#fff200 19px,#ffdf00 20px,#f9ff06 21px,#dfff20 22px,#e9ff16 23px,#ffec00 24px,#ffea00 25px,#dfff20 26px,#bfff40 27px,#c3ff3c 28px,#e1ff1e 29px,#d1ff2e 30px,#90ff6f 31px,#6bff94 32px,#6aff95 33px,#7cff83 34px,#57ffa8 35px,#04fffb 36px,#00aeff 38px,#0089ff 39px,#0048ff 40px,#001aff 41px,#0003ff 42px,#0000e0 44px,#0000a5 46px,#0000a1)"></i><i style="height:2px;background:linear-gradient(90deg,#fffb00,#f9ff06 1px,#c0ff3f 2px,#a2ff5d 3px,#f4ff0b 4px,#ffea00 5px,#ffee00 7px,#ffe200 8px,#ffea00 9px,#ffd100 10px,#fff500 11px,#e2ff1d 13px,#f8ff07 14px,#ffcd00 15px,#eaff15 16px,#dfff20 18px,#fff400 20px,#e0ff1f 21px,#dfff20 23px,#f9ff06 24px,#fbff04 25px,#cbff34 26px,#b4ff4b 28px,#c8ff37 29px,#b8ff47 30px,#82ff7d 31px,#54ffab 33px,#63ff9c 34px,#3effc1 35px,#00fcff 36px,#007fff 39px,#001aff 41px,#0003ff 42px,#0000a5 46px,#00009f)"></i><i style="height:2px;background:linear-gradient(90deg,#eaff15,#e0ff1f 1px,#8eff71 2px,#7dff82 3px,#d3ff2c 4px,#fff600 5px,#fff500 7px,#ffe200 8px,#ffee00 9px,#ffe600 10px,#f9ff06 11px,#dfff20 14px,#fff700 15px,#dfff20 16px,#dfff20 19px,#f1ff0e 20px,#ddff22 22px,#e2ff1d 25px,#b7ff48 27px,#9fff60 30px,#54ffab 33px,#4affb5 34px,#00fcff 36px,#001aff 41px,#0003ff 42px,#0000a5 46px,#00009f)"></i><i style="height:2px;background:linear-gradient(90deg,#c3ff3c,#aeff51 1px,#64ff9b 2px,#a5ff5a 3px,#b0ff4f 4px,#f7ff08 5px,#ffee00 9px,#e1ff1e 13px,#dfff20 16px,#d1ff2e 17px,#dfff20 21px,#c4ff3b 22px,#ddff22 23px,#cbff34 26px,#9eff61 27px,#b4ff4b 28px,#82ff7d 31px,#4cffb3 32px,#54ffab 33px,#26ffd9 35px,#00f8ff 36px,#00b5ff 37px,#009fff 38px,#0010ff 41px,#0000eb 43px,#0000a4 46px,#00009f)"></i><i style="height:2px;background:linear-gradient(90deg,#91ff6e,#7cff83 1px,#96ff69 2px,#cdff32 3px,#a8ff57 4px,#deff21 5px,#f0ff0f 8px,#fff100 9px,#f9ff06 11px,#e0ff1f 13px,#ddff22 16px,#c0ff3f 17px,#c2ff3d 18px,#dfff20 19px,#d4ff2b 21px,#abff54 22px,#dfff20 24px,#d6ff29 25px,#baff45 26px,#85ff7a 27px,#a8ff57 29px,#9aff65 30px,#33ffcc 32px,#45ffba 33px,#26ffd9 35px,#00dfff 36px,#009cff 37px,#0097ff 38px,#0043ff 40px,#0000f7 41px,#0000e0 42px,#0000e9 43px,#0000a3 46px,#00009f)"></i><i style="height:2px;background:linear-gradient(90deg,#61ff9e,#75ff8a 1px,#c8ff37 2px,#fffc00 3px,#c2ff3d 4px,#c5ff3a 5px,#e1ff1e 6px,#dfff20 8px,#faff05 9px,#fff900 10px,#dfff20 12px,#dfff20 15px,#acff53 18px,#dfff20 20px,#9fff60 22px,#abff54 23px,#d4ff2b 24px,#d6ff29 25px,#a1ff5e 26px,#80ff80 27px,#85ff7a 28px,#a3ff5c 29px,#93ff6c 30px,#52ffad 31px,#2bffd4 32px,#3dffc2 34px,#19ffe6 35px,#00c6ff 36px,#0092ff 37px,#0071ff 39px,#002fff 40px,#0000df 41px,#0000d4 44px,#0000a2 46px,#00009f)"></i><i style="height:2px;background:linear-gradient(90deg,#93ff6c,#a8ff57 1px,#fff500 2px,#ffbb00 3px,#dcff23 4px,#c9ff36 5px,#e7ff18 7px,#e6ff19 9px,#fdff02 10px,#dfff20 12px,#dbff24 15px,#a8ff57 18px,#ccff33 20px,#a2ff5d 21px,#9fff60 23px,#bbff44 24px,#bdff42 25px,#8bff74 26px,#74ff8b 28px,#8aff75 29px,#7aff85 30px,#43ffbc 31px,#14ffeb 33px,#25ffda 34px,#00ffff 35px,#00bfff 36px,#0064ff 38px,#0060ff 39px,#0016ff 40px,#0000f1 41px,#0000e8 42px,#0000cc 43px,#0000cf 44px,#0000a4 46px,#00009f)"></i><i style="height:2px;background:linear-gradient(90deg,#c5ff3a,#daff25 1px,#ffaa00 2px,#ff7a00 3px,#fff100 4px,#d6ff29 5px,#f2ff0d 7px,#dfff20 8px,#eeff11 10px,#dfff20 12px,#d3ff2c 15px,#9fff60 19px,#b2ff4d 20px,#9fff60 21px,#a4ff5b 25px,#74ff8b 28px,#60ff9f 30px,#14ffeb 33px,#0cfff3 34px,#00a2ff 37px,#006aff 38px,#0046ff 39px,#0008ff 40px,#0000fc 42px,#0000cd 43px,#00009f 47px,#00009f)"></i><i style="height:2px;background:linear-gradient(90deg,#fffa00,#ffdb00 1px,#ff5f00 2px,#ff6000 3px,#ffbe00 4px,#e8ff17 5px,#fffe00 7px,#dfff20 9px,#d6ff29 14px,#a2ff5d 18px,#95ff6a 22px,#9fff60 24px,#5affa5 30px,#00fcff 34px,#00aaff 37px,#0034ff 39px,#001eff 40px,#0023ff 41px,#0014ff 42px,#0000dc 43px,#0000ba 44px,#00009f 50px,#00009f)"></i><i style="height:2px;background:linear-gradient(90deg,#ffaf00,#ff8f00 1px,#ff4600 2px,#ff4700 3px,#fff000 5px,#ffe500 7px,#fff500 8px,#e1ff1e 9px,#e1ff1e 13px,#beff41 16px,#96ff69 17px,#8dff72 18px,#9fff60 20px,#8bff74 22px,#9fff60 24px,#5affa5 30px,#00fcff 34px,#00b2ff 37px,#0045ff 39px,#0033ff 40px,#003cff 41px,#002dff 42px,#0000eb 43px,#0000c3 44px,#0000bc 45px,#0000cd 46px,#00009f 48px,#00009f)"></i><i style="height:2px;background:linear-gradient(90deg,#ff6300,#ff5600 1px,#ff2d00 2px,#ff3000 3px,#ffca00 5px,#ffcc00 7px,#f5ff0a 9px,#dfff20 10px,#edff12 12px,#cbff34 15px,#88ff77 17px,#77ff88 18px,#9fff60 20px,#7eff81 22px,#9fff60 24px,#8bff74 26px,#6dff92 27px,#74ff8b 28px,#43ffbc 31px,#22ffdd 32px,#00fcff 34px,#00b7ff 37px,#0090ff 38px,#0056ff 39px,#0049ff 40px,#0055ff 41px,#0043ff 42px,#0006ff 43px,#0000cd 44px,#0000e6 46px,#0000d4 47px,#0000ad 48px,#00009f 49px,#0000b0 51px,#00009f 53px,#00009f)"></i><i style="height:2px;background:linear-gradient(90deg,#ff4800,#ff3d00 1px,#ff1400 2px,#ff1a00 3px,#ffad00 5px,#ffc300 7px,#fff600 9px,#e6ff19 10px,#eeff11 12px,#c7ff38 15px,#71ff8e 18px,#92ff6d 20px,#6fff90 22px,#9eff61 24px,#89ff76 26px,#54ffab 27px,#6eff91 28px,#5affa5 30px,#13ffec 32px,#14ffeb 33px,#00fcff 34px,#009cff 38px,#0067ff 39px,#0049ff 42px,#001fff 43px,#0000dd 44px,#0000fe 46px,#0000ed 47px,#0000be 48px,#0000a6 49px,#0000c9 51px,#00009f 53px,#00009f)"></i><i style="height:2px;background:linear-gradient(90deg,#ff2e00,#ff2400 1px,#fa0000 2px,#ff0400 3px,#ff9400 5px,#ffbf00 7px,#ffe200 8px,#f5ff0a 10px,#eeff11 12px,#bfff40 15px,#62ff9d 19px,#7eff81 20px,#61ff9e 22px,#74ff8b 23px,#9dff62 24px,#97ff68 25px,#40ffbf 27px,#68ff97 29px,#5affa5 30px,#06fff9 32px,#00fcff 34px,#009fff 38px,#0079ff 39px,#004fff 42px,#0031ff 43px,#0000f6 44px,#0017ff 46px,#0007ff 47px,#0000b3 49px,#0000e2 51px,#00009f 53px,#00009f)"></i><i style="height:2px;background:linear-gradient(90deg,#ff1500,#ff0b00 1px,#e00000 2px,#ff0300 3px,#ff7d00 5px,#ffe200 8px,#f9ff06 11px,#ceff31 14px,#61ff9e 19px,#67ff98 21px,#61ff9e 23px,#88ff77 24px,#8cff73 25px,#57ffa8 26px,#40ffbf 27px,#3cffc3 28px,#5affa5 29px,#4affb5 30px,#16ffe9 31px,#00faff 34px,#005dff 41px,#003bff 43px,#0010ff 44px,#0023ff 46px,#0017ff 47px,#0000ea 48px,#0000bf 49px,#0000dd 50px,#0000e8 51px,#0000df 52px,#0000b8 53px,#0000a6)"></i><i style="height:2px;background:linear-gradient(90deg,#fb0000,#df0000 2px,#ff0300 3px,#ff7100 5px,#ffe200 8px,#eeff11 12px,#88ff77 17px,#60ff9f 19px,#60ff9f 23px,#73ff8c 25px,#4bffb4 26px,#34ffcb 28px,#40ffbf 29px,#32ffcd 30px,#11ffee 31px,#00f4ff 34px,#0051ff 42px,#0045ff 43px,#0021ff 44px,#002cff 45px,#0004ff 48px,#0000d9 49px,#0000f3 50px,#0000bf)"></i><i style="background:linear-gradient(90deg,#e80000,#df0000 2px,#ff0300 3px,#ffbc00 7px,#ffe200 8px,#eeff11 12px,#88ff77 17px,#60ff9f 19px,#60ff9f 25px,#00f9ff 33px,#00ceff 36px,#005dff 41px,#0046ff 43px,#002cff 44px,#0017ff 47px,#000cff 48px,#0000eb 49px,#0000f3 50px,#0000d2)"></i></div>
<div class="pn" style="left:428px;top:70px;width:55px;height:224px"><i style="background:linear-gradient(90deg,#000080,#0000df,#000080,#000080,#86ff79,#800000,#800000,#800000,#ff4000,#fdff02,#00cbff,#001dff,#000080,#000085,#0072ff,#00caff,#0078ff,#0000b2,#000080,#000080,#000080,#0008ff,#0000fd,#000080,#000080,#000080,#000080,#000080,#000080,#000080,#000080,#000080,#000080,#000080,#000080,#000080,#00fdff)"></i><i style="background:linear-gradient(90deg,#00009a,#0000bf,#000080,#000080,#caff35,#800000,#800000,#a40000,#ffe800,#71ff8e,#06fff9,#0052ff,#000080,#000080,#0000f5,#004bff,#000089,#000080,#000080,#000080,#000080,#0032ff,#0000bd,#000080,#000080,#000080,#000080,#000080,#000080,#000080,#000080,#000080,#000080,#000080,#000080,#000080,#54ffab)"></i><i style="background:linear-gradient(90deg,#001dff,#0009ff,#000080,#000080,#ff7600,#800000,#800000,#ff4300,#89ff76,#56ffa9,#73ff8c,#0081ff,#000080,#000080,#0000b5,#0000e5,#000080,#000080,#000080,#000080,#000080,#001aff,#000080,#000080,#000080,#000080,#000080,#000080,#000080,#0000e7,#000080,#000080,#000080,#000080,#000080,#000080,#00c0ff)"></i><i style="background:linear-gradient(90deg,#009cff,#0058ff,#000080,#0032ff,#820000,#800000,#ce0000,#c5ff3a,#20ffdf,#a0ff5f,#ffe900,#00bbff,#000080,#000090,#0000d9,#0000b1,#000080,#000080,#000080,#000080,#000080,#0008ff,#000080,#000080,#000080,#000080,#000080,#000080,#000080,#0018ff,#0006ff,#0000e9,#0000c0,#000080,#000080,#000080,#0000af)"></i><i style="background:linear-gradient(90deg,#00e4ff,#008aff,#0000b4,#2cffd3,#800000,#800000,#fffc00,#0090ff,#0093ff,#eaff15,#ff5400,#00fbff,#000080,#0013ff,#004cff,#0000c2,#000080,#000080,#000080,#000080,#000080,#0000e3,#000080,#000080,#000080,#000080,#000080,#000080,#000080,#000080,#0005ff,#0020ff,#000085,#000080,#000080,#000080,#000080)"></i><i style="background:linear-gradient(90deg,#2fffd0,#00bcff,#0000ff,#74ff8b,#800000,#be0000,#3bffc4,#0000ac,#001fff,#ffbc00,#cd0000,#5affa5,#000080,#0000f4,#00a0ff,#0010ff,#000080,#000080,#000080,#000080,#000080,#0000d6,#000080,#000080,#000080,#000080,#000097,#000080,#000080,#000080,#000080,#0000a4,#000080,#000080,#000080,#000080,#000080)"></i><i style="background:linear-gradient(90deg,#88ff77,#00f0ff,#002aff,#57ffa8,#9f0000,#ff4b00,#00fbff,#000080,#0014ff,#ff6600,#800000,#beff41,#000080,#000080,#0083ff,#0058ff,#000080,#000080,#000080,#000080,#000080,#0003ff,#000080,#000080,#000080,#000080,#00008f,#000080,#000080,#000080,#000080,#000080,#000080,#000080,#000080,#000080,#000080)"></i><i style="background:linear-gradient(90deg,#6fff90,#00fbff,#0078ff,#42ffbd,#ff3800,#ffca00,#00f1ff,#0002ff,#0087ff,#ff4900,#a30000,#c5ff3a,#000080,#000080,#003bff,#008dff,#000080,#000080,#000080,#000080,#000080,#0060ff,#000080,#000080,#000080,#000080,#000080,#000080,#000080,#000080,#000080,#000080,#000080,#000080,#000080,#000080,#000080)"></i><i style="background:linear-gradient(90deg,#00e1ff,#06fff9,#00edff,#1effe1,#ffdf00,#a3ff5c,#00cfff,#00cfff,#5dffa2,#ff5900,#ff4200,#53ffac,#000080,#000080,#0062ff,#00e5ff,#0000ab,#000080,#000080,#000080,#002aff,#00dbff,#00009a,#000080,#000080,#000080,#000080,#000080,#000080,#000080,#000080,#000080,#000080,#000080,#000080,#000080,#000080)"></i><i style="background:linear-gradient(90deg,#003eff,#00f4ff,#03fffc,#00a6ff,#7cff83,#25ffda,#00a8ff,#9eff61,#ff8f00,#ff3700,#fff400,#00b4ff,#000080,#000080,#00edff,#52ffad,#002dff,#000080,#000080,#000089,#009aff,#3affc5,#0000cc,#000080,#000080,#000080,#000080,#000080,#000080,#000080,#000080,#000080,#000080,#000080,#000080,#000080,#000080)"></i><i style="background:linear-gradient(90deg,#0010ff,#00c5ff,#007cff,#000bff,#11ffee,#00b1ff,#0068ff,#fcff03,#f70000,#ff3c00,#47ffb8,#001aff,#000080,#000080,#3cffc3,#5effa1,#009bff,#002cff,#000080,#0000b4,#00aaff,#52ffad,#0010ff,#000080,#000080,#000080,#0000a6,#0000a6,#000080,#000080,#000080,#000080,#000080,#000080,#000080,#000080,#000080)"></i><i style="background:linear-gradient(90deg,#002dff,#006aff,#0000aa,#0000be,#0ffff0,#006cff,#0028ff,#deff21,#ff1d00,#ff9700,#0083ff,#00008a,#000080,#00008f,#00e7ff,#00f2ff,#00dcff,#00faff,#0023ff,#0000e9,#0099ff,#4dffb2,#0091ff,#0066ff,#00d9ff,#0072ff,#002dff,#0000f3,#000080,#000080,#000080,#000080,#000080,#000080,#000080,#000080,#000080)"></i><i style="background:linear-gradient(90deg,#002fff,#002bff,#000080,#0000df,#4dffb2,#0076ff,#0011ff,#adff52,#ff5a00,#ffc900,#0027ff,#000080,#000080,#000097,#0037ff,#0090ff,#20ffdf,#6fff90,#00a0ff,#0014ff,#00afff,#8eff71,#58ffa7,#daff25,#ffe900,#44ffbb,#003aff,#000098,#000080,#000080,#000080,#000080,#000080,#000080,#000080,#000080,#000080)"></i><i style="background:linear-gradient(90deg,#0015ff,#0057ff,#000080,#0027ff,#6dff92,#009aff,#0012ff,#b2ff4d,#ff2000,#ff7700,#0054ff,#000080,#0000a3,#00009e,#0000b1,#00a8ff,#8bff74,#6dff92,#006fff,#0000d1,#00e3ff,#ffe900,#fff400,#ff4400,#ff5e00,#7eff81,#0000ed,#000080,#000080,#000080,#000080,#000080,#000080,#000080,#000080,#000080,#000080)"></i><i style="background:linear-gradient(90deg,#004aff,#00f3ff,#0000db,#0067ff,#5effa1,#008dff,#0000fa,#d3ff2c,#a40000,#f00000,#00baff,#000080,#0000d8,#0000b7,#000088,#06fff9,#cbff34,#16ffe9,#0000ea,#000080,#2affd5,#ff6800,#ff9d00,#ff2300,#ff3500,#92ff6d,#0000a1,#000080,#000080,#000080,#000080,#000080,#000080,#000080,#000080,#000080,#000080)"></i><i style="background:linear-gradient(90deg,#00cdff,#98ff67,#0079ff,#00a8ff,#44ffbb,#004aff,#0000e6,#fff500,#800000,#800000,#38ffc7,#0000ab,#0000fd,#000099,#000080,#13ffec,#82ff7d,#009cff,#0000a5,#000080,#73ff8c,#ff3300,#ff8900,#ff4d00,#ff0600,#d8ff27,#000088,#000080,#000080,#000080,#000080,#000080,#000080,#000080,#000080,#000080,#000080)"></i><i style="background:linear-gradient(90deg,#26ffd9,#d3ff2c,#00f1ff,#00ddff,#11ffee,#0000eb,#0001ff,#ffa800,#800000,#800000,#d0ff2f,#0049ff,#0008ff,#000080,#000080,#0094ff,#00d5ff,#003eff,#0000d5,#0000f5,#ccff33,#ff3600,#ff8300,#ff4a00,#bd0000,#ffe400,#0000a4,#000080,#000080,#000080,#000080,#000080,#000080,#000080,#000080,#000080,#000080)"></i><i style="background:linear-gradient(90deg,#05fffa,#66ff99,#00fcff,#00ccff,#00a1ff,#00008c,#0028ff,#ff9300,#800000,#800000,#ffb700,#00f1ff,#0000e8,#000080,#000080,#0004ff,#003fff,#0018ff,#0043ff,#00c7ff,#ffde00,#ff7200,#ffbd00,#ff2600,#800000,#ffd200,#0000ff,#000080,#0000d2,#00008c,#000080,#000080,#000080,#000080,#000080,#000080,#000080)"></i><i style="background:linear-gradient(90deg,#00b6ff,#00a3ff,#0096ff,#0065ff,#000dff,#000080,#0031ff,#fdff02,#c80000,#8a0000,#ffb300,#36ffc9,#000083,#000080,#000080,#0000f1,#0000f2,#0007ff,#0095ff,#52ffad,#ffd400,#e3ff1c,#83ff7c,#ff3c00,#800000,#ffca00,#009cff,#003aff,#0cfff3,#18ffe7,#0000e0,#000080,#000080,#000080,#000080,#000080,#000080)"></i><i style="background:linear-gradient(90deg,#00ddff,#0042ff,#0027ff,#0000e0,#000080,#000080,#0014ff,#33ffcc,#ffee00,#ff8700,#e6ff19,#13ffec,#000080,#000080,#000080,#004aff,#0000ca,#0000ea,#00a8ff,#4cffb3,#b9ff46,#00faff,#00a4ff,#ff8400,#800000,#ffa600,#57ffa8,#44ffbb,#e2ff1d,#ffe600,#00fbff,#0000b0,#000080,#000080,#000082,#000080,#000080)"></i><i style="background:linear-gradient(90deg,#a4ff5b,#006dff,#0000d2,#000080,#000080,#000080,#0000ed,#0095ff,#1dffe2,#7dff82,#66ff99,#00e9ff,#000080,#000080,#005cff,#00a3ff,#00009f,#0000d3,#0085ff,#00c4ff,#00eeff,#0051ff,#004bff,#ffb800,#8e0000,#ff9800,#deff21,#acff53,#fdff02,#ffc700,#4effb1,#0056ff,#0000f4,#00a7ff,#00dbff,#00009c,#000080)"></i><i style="background:linear-gradient(90deg,#ff7200,#00bcff,#000080,#000080,#000080,#000080,#0004ff,#00a6ff,#00edff,#00ecff,#00fcff,#00ebff,#000080,#000080,#1bffe4,#00c8ff,#000080,#0000c4,#0028ff,#0000fe,#0022ff,#0033ff,#009cff,#ffcc00,#ff2500,#ffcb00,#fffa00,#59ffa6,#5dffa2,#97ff68,#00ddff,#0085ff,#0085ff,#88ff77,#7dff82,#0000a0,#000080)"></i><i style="background:linear-gradient(90deg,#f50000,#00f3ff,#000080,#000080,#000080,#000080,#0092ff,#7dff82,#82ff7d,#00cdff,#00b2ff,#05fffa,#000080,#000080,#47ffb8,#00c2ff,#000080,#0000c9,#0000c3,#000080,#0000b1,#007cff,#21ffde,#fff600,#ffd600,#e5ff1a,#e5ff1a,#008aff,#003fff,#0093ff,#001eff,#0078ff,#00f3ff,#dbff24,#70ff8f,#00008f,#000080)"></i><i style="background:linear-gradient(90deg,#eb0000,#34ffcb,#000086,#000080,#000080,#000080,#56ffa9,#ff6800,#ffb500,#00d5ff,#0072ff,#06fff9,#000080,#000080,#00cdff,#00bfff,#0000e0,#0019ff,#0000cf,#00008b,#0000c9,#00d7ff,#49ffb6,#9eff61,#9eff61,#acff53,#a8ff57,#0000c4,#000080,#000086,#00008f,#007aff,#31ffce,#b6ff49,#03fffc,#000080,#0000da)"></i><i style="background:linear-gradient(90deg,#ff3200,#56ffa9,#0000c5,#000080,#000080,#000080,#b9ff46,#d10000,#ff7000,#00b5ff,#0022ff,#00cdff,#000093,#000080,#000dff,#00edff,#00cfff,#00c5ff,#0081ff,#0051ff,#0048ff,#2bffd4,#29ffd6,#46ffb9,#9bff64,#b0ff4f,#7bff84,#0000a1,#000080,#000080,#000080,#0097ff,#2dffd2,#57ffa8,#008aff,#000080,#002cff)"></i><i style="background:linear-gradient(90deg,#ffc300,#0dfff2,#000098,#000080,#000080,#000080,#7bff84,#ff1c00,#ffeb00,#0064ff,#0000d6,#0074ff,#0000d2,#000080,#000082,#3fffc0,#c8ff37,#73ff8c,#75ff8a,#44ffbb,#00d0ff,#72ff8d,#2affd5,#4fffb0,#ffea00,#fcff03,#78ff87,#0032ff,#000080,#000080,#00008b,#0099ff,#00d9ff,#00cbff,#0030ff,#0000aa,#0084ff)"></i><i style="background:linear-gradient(90deg,#92ff6d,#0092ff,#000080,#000080,#000080,#000080,#00f6ff,#ffeb00,#41ffbe,#002bff,#0000cb,#0039ff,#0014ff,#000080,#000080,#75ff8a,#ffda00,#acff53,#ffee00,#e0ff1f,#1dffe2,#88ff77,#39ffc6,#60ff9f,#ff9c00,#ffbf00,#7cff83,#00e4ff,#0000d9,#000080,#0000ac,#006bff,#0046ff,#000bff,#0000e6,#002bff,#00ecff)"></i><i style="background:linear-gradient(90deg,#1affe5,#0082ff,#000097,#000080,#000080,#000080,#00c9ff,#7eff81,#00b5ff,#003bff,#0012ff,#005bff,#007aff,#001cff,#0013ff,#77ff88,#b8ff47,#5fffa0,#fff600,#edff12,#30ffcf,#5bffa4,#00eeff,#00f1ff,#ffed00,#ffc900,#71ff8e,#42ffbd,#0091ff,#000080,#0000d2,#0052ff,#0000df,#000080,#0000a7,#0080ff,#00fbff)"></i><i style="background:linear-gradient(90deg,#00c5ff,#00f4ff,#008eff,#0000f4,#000080,#000080,#53ffac,#b2ff4d,#00bfff,#0079ff,#0086ff,#00e2ff,#42ffbd,#5effa1,#2dffd2,#75ff8a,#00f0ff,#00b4ff,#53ffac,#75ff8a,#43ffbc,#2cffd3,#0066ff,#002fff,#84ff7b,#ffef00,#69ff96,#58ffa7,#00cbff,#0000d3,#0031ff,#00a9ff,#004cff,#000080,#000090,#0052ff,#0085ff)"></i><i style="background:linear-gradient(90deg,#004aff,#5dffa2,#b1ff4e,#00d0ff,#000080,#0021ff,#ff9d00,#ff6a00,#49ffb6,#00c7ff,#00fdff,#94ff6b,#ffc400,#ff5100,#ffa200,#8fff70,#0049ff,#0000f5,#003fff,#00aaff,#63ff9c,#34ffcb,#0014ff,#0000a9,#2cffd3,#d4ff2b,#46ffb9,#50ffaf,#00bcff,#0031ff,#00aaff,#7bff84,#a9ff56,#0088ff,#0000b3,#0000b1,#0000ce)"></i><i style="background:linear-gradient(90deg,#00009b,#5effa1,#ff8900,#76ff89,#0067ff,#7bff84,#d90000,#a90000,#eeff11,#2dffd2,#4cffb3,#e7ff18,#ff4700,#b70000,#ff1400,#73ff8c,#0000de,#000094,#00008b,#0000f2,#63ff9c,#5bffa4,#001fff,#000084,#00e7ff,#49ffb6,#00e0ff,#3dffc2,#00a3ff,#004dff,#00ffff,#ff6500,#b00000,#d6ff29,#0000e3,#000080,#000080)"></i><i style="background:linear-gradient(90deg,#000080,#29ffd6,#ff3c00,#f9ff06,#73ff8c,#ffa700,#ff1b00,#e50000,#ffb700,#afff50,#52ffad,#77ff88,#ffa900,#ff1b00,#ff7400,#00edff,#0000b4,#0000dc,#0000c6,#0000b5,#3effc1,#60ff9f,#004dff,#00009f,#00a7ff,#00b0ff,#0092ff,#4cffb3,#00aeff,#0043ff,#4effb1,#800000,#800000,#ff8600,#0000f2,#000080,#000080)"></i><i style="background:linear-gradient(90deg,#000080,#09fff6,#ff3d00,#ff8400,#ffb900,#ff8700,#d1ff2e,#fbff04,#ffb700,#ffd200,#20ffdf,#0091ff,#72ff8d,#ffe500,#e6ff19,#008dff,#0000f6,#008fff,#0088ff,#0000f5,#1affe5,#28ffd7,#0061ff,#0000e3,#0099ff,#0094ff,#00c1ff,#8aff75,#00e5ff,#006aff,#daff25,#800000,#800000,#fff500,#0000c7,#000080,#000080)"></i><i style="background:linear-gradient(90deg,#000080,#00fbff,#ff8600,#ff4800,#ff5e00,#ffbe00,#00c4ff,#00ceff,#ffdc00,#ffa500,#00daff,#0000d0,#0085ff,#57ffa8,#a3ff5c,#00e7ff,#00b3ff,#2dffd2,#00f6ff,#004aff,#26ffd9,#04fffb,#009fff,#0072ff,#00caff,#00d9ff,#20ffdf,#abff54,#26ffd9,#00dcff,#ff9900,#800000,#800000,#00d7ff,#000080,#000080,#000080)"></i><i style="background:linear-gradient(90deg,#0000ee,#00faff,#ecff13,#ff9400,#ff9400,#fff000,#0041ff,#0019ff,#fcff03,#ffe100,#0086ff,#000080,#00008a,#0066ff,#8dff72,#abff54,#92ff6d,#83ff7c,#00e4ff,#0085ff,#79ff86,#5fffa0,#59ffa6,#42ffbd,#0efff1,#00e7ff,#1fffe0,#98ff67,#69ff96,#4cffb3,#ffa300,#800000,#ffb200,#000087,#000080,#000080,#000080)"></i><i style="background:linear-gradient(90deg,#0081ff,#2bffd4,#60ff9f,#e1ff1e,#fffc00,#f5ff0a,#0044ff,#0000f8,#f2ff0d,#ceff31,#003aff,#000080,#000080,#000080,#4cffb3,#ffdb00,#ffe200,#b7ff48,#00dcff,#00eeff,#fff200,#fff000,#ffde00,#bdff42,#12ffed,#0090ff,#00caff,#a9ff56,#d4ff2b,#64ff9b,#94ff6b,#c9ff36,#0057ff,#000080,#000080,#000080,#0000b0)"></i><i style="background:linear-gradient(90deg,#2cffd3,#84ff7b,#0bfff4,#b3ff4c,#fff600,#f6ff09,#00b4ff,#0076ff,#ffd400,#e8ff17,#0040ff,#000080,#000080,#000080,#00ffff,#ffd000,#ffbb00,#fff300,#5dffa2,#acff53,#ff7b00,#ff8f00,#ffd900,#47ffb8,#00a2ff,#0019ff,#007aff,#d3ff2c,#ffbb00,#10ffef,#0075ff,#0000f7,#000080,#000080,#000080,#0000cd,#005cff)"></i><i style="background:linear-gradient(90deg,#afff50,#bdff42,#00eeff,#ffe400,#ff5400,#ffdd00,#57ffa8,#47ffb8,#ff6a00,#ff7c00,#00bdff,#000080,#000080,#000080,#00a7ff,#e4ff1b,#ffd400,#ff7d00,#ffcc00,#ffb300,#ff9500,#ffe700,#48ffb7,#0022ff,#0001ff,#0000db,#0053ff,#c4ff3b,#ff8d00,#009bff,#000095,#000080,#000080,#000080,#000080,#0000af,#00d4ff)"></i><i style="background:linear-gradient(90deg,#d7ff28,#baff45,#05fffa,#ff5d00,#a50000,#ffbb00,#c6ff39,#e9ff16,#ff1700,#c60000,#79ff86,#0025ff,#000080,#000080,#000bff,#4fffb0,#f1ff0e,#ff2800,#ff3000,#ff7800,#f4ff0b,#74ff8b,#006dff,#000080,#0000e3,#0010ff,#004cff,#4dffb2,#ffce00,#0050ff,#000080,#000080,#000080,#000080,#000080,#000080,#1cffe3)"></i><i style="background:linear-gradient(90deg,#cdff32,#b8ff47,#47ffb8,#ff4000,#980000,#eeff11,#93ff6c,#fffc00,#ff3200,#8f0000,#faff05,#00c3ff,#000080,#000080,#000080,#00b1ff,#c6ff39,#ff1d00,#ff0200,#ff5f00,#cbff34,#41ffbe,#0076ff,#001aff,#0097ff,#009fff,#005aff,#009dff,#9aff65,#0039ff,#000080,#000080,#000080,#000080,#000080,#000084,#3bffc4)"></i><i style="background:linear-gradient(90deg,#f1ff0e,#f6ff09,#c9ff36,#ff5b00,#ff1c00,#00fbff,#00a3ff,#8bff74,#ffcd00,#ff1000,#fdff02,#00fdff,#000080,#000080,#000080,#0090ff,#fffd00,#ff1800,#f10000,#ff2200,#ffdd00,#afff50,#5effa1,#81ff7e,#b0ff4f,#32ffcd,#0041ff,#0000dd,#00dcff,#003aff,#00008b,#0000aa,#000095,#000080,#000080,#0000ab,#0ffff0)"></i><i style="background:linear-gradient(90deg,#ffbd00,#ff9a00,#ff7100,#ff3c00,#ffca00,#0000ed,#000080,#00c3ff,#68ff97,#ffd700,#c8ff37,#00faff,#000080,#000080,#000080,#00e9ff,#ff8800,#ff0900,#f90000,#ff1c00,#ffa400,#ffea00,#ffd300,#ff7200,#ff8300,#87ff78,#001fff,#000098,#007aff,#0080ff,#004eff,#0068ff,#002eff,#0000ba,#000080,#000090,#00aeff)"></i><i style="background:linear-gradient(90deg,#ff7a00,#ff2d00,#aa0000,#f80000,#aeff51,#0000a7,#000080,#0049ff,#00f9ff,#bbff44,#d8ff27,#3dffc2,#00008b,#000080,#000080,#3affc5,#ff6800,#ff2b00,#ff4800,#ff9200,#fffa00,#caff35,#fff200,#ff6d00,#ff5400,#bfff40,#006aff,#002fff,#00bfff,#00fcff,#27ffd8,#2affd5,#007bff,#0000c7,#000080,#000080,#006cff)"></i><i style="background:linear-gradient(90deg,#ff4f00,#e00000,#800000,#ff0400,#6bff94,#008aff,#006dff,#00a1ff,#29ffd6,#e9ff16,#ffb900,#d4ff2b,#0071ff,#000080,#000fff,#24ffdb,#ffed00,#ffad00,#ffbe00,#f1ff0e,#73ff8c,#00f1ff,#30ffcf,#e1ff1e,#ff9200,#fff200,#39ffc6,#4affb5,#81ff7e,#74ff8b,#78ff87,#5effa1,#006fff,#0000ca,#000080,#0000a1,#006eff)"></i><i style="background:linear-gradient(90deg,#ff4f00,#e90000,#9b0000,#ff7f00,#5fffa0,#f3ff0c,#ffbc00,#94ff6b,#c2ff3d,#ff7700,#ff2900,#ffa300,#54ffab,#0067ff,#007fff,#00e9ff,#36ffc9,#92ff6d,#f5ff0a,#ffe500,#4fffb0,#0053ff,#009aff,#57ffa8,#fff400,#ffc200,#e3ff1c,#f9ff06,#ffd400,#c4ff3b,#27ffd8,#00efff,#0036ff,#0004ff,#0000eb,#001fff,#0078ff)"></i><i style="background:linear-gradient(90deg,#ffaa00,#ff6600,#ff7d00,#baff45,#47ffb8,#ff4500,#b00000,#ffbe00,#ffae00,#c70000,#b10000,#ff6000,#d1ff2e,#00c2ff,#00a8ff,#00c8ff,#0060ff,#00cdff,#c6ff39,#ff7200,#62ff9d,#0036ff,#00e5ff,#7bff84,#bdff42,#ffd300,#f5ff0a,#baff45,#ffaa00,#ffeb00,#00e8ff,#00b2ff,#005dff,#0078ff,#00bbff,#008aff,#0075ff)"></i><i style="background:linear-gradient(90deg,#baff45,#ebff14,#70ff8f,#00e4ff,#09fff6,#ff6c00,#e50000,#ffb500,#ff6600,#800000,#800000,#ff3f00,#f9ff06,#00acff,#0098ff,#00b9ff,#0000cf,#0048ff,#88ff77,#ff7600,#23ffdc,#002aff,#7aff85,#e1ff1e,#98ff67,#ffe400,#b9ff46,#00feff,#ffea00,#ff9500,#34ffcb,#20ffdf,#0dfff2,#08fff7,#46ffb9,#00d1ff,#0084ff)"></i><i style="background:linear-gradient(90deg,#56ffa9,#83ff7c,#0090ff,#0026ff,#00a9ff,#efff10,#ffb800,#ffe500,#ff3400,#800000,#800000,#ff4600,#cfff30,#0057ff,#005cff,#008cff,#000093,#0009ff,#0afff5,#b1ff4e,#006cff,#0000d0,#6dff92,#d0ff2f,#a5ff5a,#ff9900,#b5ff4a,#0088ff,#d4ff2b,#ff4500,#daff25,#f7ff08,#ffe500,#d5ff2a,#c4ff3b,#3effc1,#00beff)"></i><i style="background:linear-gradient(90deg,#64ff9b,#8fff70,#002bff,#0000b6,#004dff,#36ffc9,#6aff95,#f4ff0b,#fa0000,#800000,#e20000,#ff9000,#52ffad,#0000e4,#000aff,#0030ff,#00009f,#0007ff,#006dff,#007eff,#0000bc,#000080,#009cff,#20ffdf,#d1ff2e,#ff1600,#deff21,#0084ff,#c0ff3f,#ff2c00,#ff9e00,#ff4e00,#d20000,#ff0b00,#ff6600,#fff300,#31ffce)"></i><i style="background:linear-gradient(90deg,#9eff61,#d3ff2c,#0058ff,#0000d3,#0039ff,#009cff,#0092ff,#b0ff4f,#e50000,#c40000,#ff6700,#ffec00,#00ceff,#00009c,#0000db,#0000db,#0000ed,#005cff,#001eff,#0000a0,#000080,#000080,#0000cd,#0096ff,#ffd700,#b40000,#e0ff1f,#0097ff,#b8ff47,#ff7400,#ffa300,#ff1900,#800000,#800000,#a30000,#ff2100,#c1ff3e)"></i><i style="background:linear-gradient(90deg,#abff54,#e3ff1c,#00d1ff,#005aff,#006bff,#002cff,#0000d4,#52ffad,#fc0000,#ff3a00,#fff500,#b8ff47,#0080ff,#0000aa,#0000f9,#0000c3,#0068ff,#00f8ff,#006bff,#000083,#000080,#000080,#00008b,#0094ff,#ff9700,#9a0000,#d0ff2f,#00b5ff,#c6ff39,#f8ff07,#b3ff4c,#ff9f00,#e50000,#890000,#ad0000,#e60000,#ffce00)"></i><i style="background:linear-gradient(90deg,#b6ff49,#c6ff39,#4effb1,#00fcff,#00d2ff,#0024ff,#0000ab,#64ff9b,#eb0000,#ff9100,#7aff85,#56ffa9,#0082ff,#002aff,#0067ff,#0003ff,#0cfff3,#a5ff5a,#40ffbf,#003dff,#0000a5,#000080,#0000c5,#00ebff,#ff7100,#800000,#ffe700,#00feff,#d7ff28,#64ff9b,#00d1ff,#6dff92,#abff54,#ffd000,#ff9f00,#ffa300,#fff000)"></i><i style="background:linear-gradient(90deg,#ffd200,#f3ff0c,#a8ff57,#75ff8a,#57ffa8,#009eff,#003eff,#fffe00,#a80000,#ffbe00,#00fbff,#00f9ff,#00d1ff,#00d8ff,#00c9ff,#0075ff,#c4ff3b,#ffd600,#ffcf00,#7dff82,#003bff,#0000ab,#0000ef,#20ffdf,#ff7700,#800000,#ff5200,#45ffba,#96ff69,#00d9ff,#001dff,#008cff,#005eff,#00f9ff,#45ffba,#2bffd4,#6fff90)"></i><i style="background:linear-gradient(90deg,#ff1d00,#ff8900,#d5ff2a,#95ff6a,#d3ff2c,#74ff8b,#27ffd8,#ff6000,#840000,#ffd400,#00cdff,#03fffc,#68ff97,#59ffa6,#00ddff,#00edff,#ffa000,#ff8a00,#ff3400,#ff7500,#00efff,#0000e2,#0000cf,#00f6ff,#ffb200,#800000,#d50000,#60ff9f,#00f8ff,#0046ff,#000094,#0000f2,#0000cf,#007bff,#009bff,#0055ff,#00ddff)"></i><i style="background:linear-gradient(90deg,#df0000,#ff3e00,#eaff15,#77ff88,#fff700,#ffe400,#c6ff39,#ff4900,#b40000,#ffce00,#23ffdc,#94ff6b,#ffe400,#90ff6f,#00d3ff,#38ffc7,#ff9b00,#ff9400,#ff1600,#ff2400,#7cff83,#004bff,#00009f,#0081ff,#d8ff27,#800000,#ce0000,#5affa5,#0071ff,#0000af,#000080,#000080,#0000bc,#006fff,#005cff,#002cff,#00b8ff)"></i><i style="background:linear-gradient(90deg,#ff3800,#ff4000,#ffa900,#b9ff46,#ffe500,#ffbe00,#cfff30,#ff9700,#fe0000,#ff9600,#c7ff38,#ffde00,#ff9600,#87ff78,#00fcff,#56ffa9,#d6ff29,#ffdf00,#ff4300,#ff8a00,#afff50,#0efff1,#0000d1,#0012ff,#66ff99,#db0000,#ff2b00,#58ffa7,#0079ff,#000080,#000080,#000080,#0000b0,#0067ff,#0040ff,#0041ff,#00a2ff)"></i><i style="background:linear-gradient(90deg,#ffc200,#ff3000,#b70000,#ff6100,#ffbe00,#f1ff0e,#81ff7e,#ffbe00,#ff0b00,#ff5100,#ffd100,#ffe200,#fffc00,#29ffd6,#18ffe7,#36ffc9,#0bfff4,#a7ff58,#ffba00,#75ff8a,#60ff9f,#efff10,#008dff,#0000f3,#19ffe6,#ff5000,#ffcf00,#24ffdb,#00b8ff,#0000a4,#000080,#000080,#000080,#0038ff,#0026ff,#0032ff,#003bff)"></i><i style="background:linear-gradient(90deg,#d0ff2f,#e20000,#800000,#800000,#ff6c00,#acff53,#75ff8a,#ff5c00,#b90000,#ff3a00,#ffef00,#9eff61,#11ffee,#006bff,#00daff,#00f4ff,#009eff,#4fffb0,#95ff6a,#0028ff,#00a6ff,#ff7b00,#92ff6d,#0059ff,#09fff6,#ff8a00,#c8ff37,#00dbff,#00bdff,#0000ec,#000080,#000080,#000080,#0000c7,#0000db,#0000f4,#00008e)"></i><i style="background:linear-gradient(90deg,#94ff6b,#a60000,#800000,#800000,#ff0400,#c1ff3e,#cfff30,#bb0000,#800000,#ff5400,#c0ff3f,#3effc1,#002fff,#0000af,#007aff,#00b6ff,#00b3ff,#46ffb9,#03fffc,#000080,#0004ff,#ff7c00,#ffc000,#13ffec,#31ffce,#ff7500,#ffef00,#00cfff,#0073ff,#0000ee,#000080,#000080,#000080,#000080,#000080,#0000b4,#000080)"></i><i style="background:linear-gradient(90deg,#eaff15,#800000,#800000,#800000,#a20000,#ffe600,#ffbb00,#800000,#800000,#ff7c00,#91ff6e,#39ffc6,#0000c5,#000080,#0058ff,#0092ff,#07fff8,#7dff82,#00daff,#000080,#0000d1,#e9ff16,#ffe500,#b5ff4a,#7bff84,#ff4100,#ff3a00,#3dffc2,#0045ff,#0000cb,#000080,#000080,#000080,#000080,#000080,#00008a,#000080)"></i><i style="background:linear-gradient(90deg,#ff9500,#800000,#800000,#800000,#f30000,#fff400,#ff9a00,#800000,#800000,#ff8700,#7fff80,#67ff98,#0015ff,#0000f7,#00baff,#00abff,#23ffdc,#9bff64,#04fffb,#000080,#0021ff,#2cffd3,#65ff9a,#fbff04,#c0ff3f,#ff5300,#d70000,#c1ff3e,#0060ff,#0000bd,#000080,#000080,#000080,#000080,#000080,#0000c3,#000080)"></i><i style="background:linear-gradient(90deg,#ff1200,#800000,#800000,#d30000,#fbff04,#6dff92,#ffdd00,#950000,#800000,#ff7600,#54ffab,#76ff89,#00c0ff,#00c4ff,#67ff98,#2dffd2,#25ffda,#8eff71,#43ffbc,#003eff,#0098ff,#00b6ff,#00bdff,#d6ff29,#cbff34,#ffb700,#e80000,#ffce00,#00d5ff,#0000ef,#000080,#000080,#000094,#0000c6,#0049ff,#0067ff,#000080)"></i><i style="background:linear-gradient(90deg,#c00000,#970000,#ff3a00,#ecff13,#00e1ff,#00abff,#99ff66,#ff1f00,#800000,#ff8400,#1bffe4,#69ff96,#44ffbb,#37ffc8,#f2ff0d,#eeff11,#4bffb4,#78ff87,#6dff92,#00ccff,#00d1ff,#0088ff,#0070ff,#72ff8d,#93ff6c,#d2ff2d,#ff3600,#ff9f00,#47ffb8,#001aff,#000080,#000080,#00c9ff,#00e7ff,#32ffcd,#0cfff3,#000080)"></i><i style="background:linear-gradient(90deg,#eb0000,#ff1300,#fffe00,#25ffda,#006aff,#0063ff,#43ffbc,#ff9300,#c30000,#ffcc00,#19ffe6,#7dff82,#76ff89,#47ffb8,#ffd500,#ff8500,#98ff67,#73ff8c,#78ff87,#0afff5,#00bdff,#0068ff,#005bff,#09fff6,#4cffb3,#75ff8a,#ffc600,#feff01,#34ffcb,#0000e6,#000080,#000080,#a0ff5f,#dcff23,#a5ff5a,#2bffd4,#000080)"></i><i style="background:linear-gradient(90deg,#ff6100,#ff7500,#fffc00,#4dffb2,#00e5ff,#14ffeb,#c6ff39,#ff6400,#ff1b00,#c3ff3c,#5effa1,#c3ff3c,#7eff81,#4cffb3,#ffef00,#ff9e00,#aaff55,#58ffa7,#63ff9c,#1effe1,#00b3ff,#0064ff,#0056ff,#00a5ff,#04fffb,#10ffef,#45ffba,#04fffb,#008fff,#000083,#000080,#000080,#e1ff1e,#ffe000,#69ff96,#00baff,#000080)"></i><i style="background:linear-gradient(90deg,#ffc400,#ff7a00,#ff4e00,#fffc00,#b8ff47,#ffd600,#ff2f00,#bc0000,#ff5c00,#6fff90,#c0ff3f,#ffd700,#a9ff56,#69ff96,#9aff65,#6bff94,#00f7ff,#00c7ff,#16ffe9,#24ffdb,#00e3ff,#00a0ff,#006eff,#003fff,#00a8ff,#009dff,#0039ff,#0003ff,#0000f1,#000080,#000080,#000080,#49ffb6,#3effc1,#007cff,#0000e5,#000080)"></i><i style="background:linear-gradient(90deg,#ffce00,#ff3000,#800000,#ff5900,#ffaa00,#ff1400,#800000,#800000,#ffb200,#45ffba,#f4ff0b,#ff8f00,#e5ff1a,#6aff95,#00c7ff,#0000d5,#000080,#0000be,#0088ff,#08fff7,#1affe5,#00f6ff,#00a6ff,#0000fe,#0079ff,#0081ff,#0000ba,#0000b5,#0016ff,#0000b6,#000080,#000080,#003aff,#0000ba,#000080,#000080,#000080)"></i><i style="background:linear-gradient(90deg,#ff9b00,#e40000,#800000,#ff1800,#ff5400,#c00000,#800000,#900000,#f7ff08,#57ffa8,#f5ff0a,#ff8500,#f3ff0c,#36ffc9,#0008ff,#000080,#000080,#000080,#0000e8,#00afff,#16ffe9,#1affe5,#00c8ff,#0015ff,#00d6ff,#25ffda,#0057ff,#008bff,#2dffd2,#00bbff,#000080,#0000a9,#000080,#000080,#000080,#000080,#000080)"></i><i style="background:linear-gradient(90deg,#ff6200,#ad0000,#800000,#ff0200,#e00000,#800000,#800000,#b90000,#fbff04,#9aff65,#e2ff1d,#ffbd00,#c7ff38,#0afff5,#0000e9,#000080,#000080,#000080,#000092,#0053ff,#00ffff,#1bffe4,#00beff,#0058ff,#81ff7e,#ffc400,#dcff23,#ffc100,#ff5900,#d9ff26,#0047ff,#0000dd,#000080,#000080,#000080,#000080,#000080)"></i><i style="background:linear-gradient(90deg,#ff7500,#ad0000,#800000,#ff1000,#800000,#800000,#800000,#910000,#ff9f00,#e6ff19,#cbff34,#d4ff2b,#87ff78,#1effe1,#0066ff,#000080,#000080,#000080,#000091,#003fff,#38ffc7,#67ff98,#00d5ff,#0078ff,#b2ff4d,#ff2000,#aa0000,#800000,#800000,#ffa600,#05fffa,#001cff,#000080,#000080,#000aff,#000080,#000080)"></i><i style="background:linear-gradient(90deg,#ffa800,#bd0000,#800000,#ff3400,#800000,#800000,#800000,#800000,#ff2200,#ffdc00,#beff41,#49ffb6,#2fffd0,#50ffaf,#14ffeb,#0036ff,#0000c6,#0000cd,#0000e4,#008bff,#c3ff3c,#ffe600,#45ffba,#006bff,#20ffdf,#ff6200,#800000,#800000,#8e0000,#d3ff2c,#16ffe9,#0059ff,#0000e7,#0099ff,#1cffe3,#0000d4,#000080)"></i><i style="background:linear-gradient(90deg,#ffa700,#bf0000,#a90000,#ff6900,#ec0000,#800000,#920000,#8f0000,#dc0000,#ff8500,#ebff14,#00d7ff,#00aaff,#2effd1,#53ffac,#00f3ff,#00c0ff,#0092ff,#0068ff,#00d8ff,#ffdb00,#ff4a00,#d8ff27,#007aff,#0070ff,#f9ff06,#800000,#800000,#ff6d00,#00caff,#00a4ff,#006fff,#0095ff,#7aff85,#9bff64,#0040ff,#0000a5)"></i><i style="background:linear-gradient(90deg,#ff3700,#a40000,#c00000,#ff6800,#ff3700,#ff1700,#ff8c00,#ff2300,#ed0000,#ff2a00,#ff9500,#00d6ff,#0033ff,#0092ff,#00e9ff,#00bfff,#14ffeb,#4dffb2,#00e9ff,#00beff,#f3ff0c,#ff1b00,#ff9f00,#00ffff,#0075ff,#b0ff4f,#bb0000,#8f0000,#f4ff0b,#0035ff,#0048ff,#0075ff,#00ebff,#dbff24,#8dff72,#0036ff,#002dff)"></i><i style="background:linear-gradient(90deg,#840000,#a70000,#d50000,#ff0d00,#b90000,#ff1900,#ffc900,#ff6800,#ff4100,#ff3000,#ff2000,#3dffc2,#0000f6,#0000be,#001dff,#0027ff,#28ffd7,#f9ff06,#4cffb3,#0059ff,#6cff93,#ff2100,#ff1f00,#faff05,#54ffab,#ebff14,#ff3a00,#ff4400,#f8ff07,#0085ff,#0070ff,#00b3ff,#39ffc6,#ffe500,#5dffa2,#002dff,#00edff)"></i><i style="background:linear-gradient(90deg,#800000,#ff3d00,#ff6400,#e80000,#800000,#800000,#d80000,#e90000,#ff8300,#ffc300,#ff6500,#55ffaa,#0000a5,#000080,#000080,#0000f7,#a9ff56,#ff4a00,#b3ff4c,#002eff,#21ffde,#ff0500,#a70000,#ff0300,#ff8400,#ffab00,#ffd800,#f6ff09,#ffd000,#57ffa8,#00ebff,#00e5ff,#5affa5,#ffdc00,#1cffe3,#0034ff,#99ff66)"></i><i style="background:linear-gradient(90deg,#800000,#caff35,#98ff67,#ff6100,#800000,#800000,#800000,#800000,#ff5f00,#69ff96,#55ffaa,#0076ff,#000080,#000080,#000080,#001fff,#ffa700,#9c0000,#ffc400,#0086ff,#53ffac,#c50000,#800000,#800000,#d30000,#ff6c00,#a4ff5b,#66ff99,#ffa500,#ffd400,#5bffa4,#00d5ff,#2dffd2,#d5ff2a,#00d4ff,#0046ff,#d0ff2f)"></i><i style="background:linear-gradient(90deg,#800000,#18ffe7,#00c9ff,#d6ff29,#ff8a00,#9b0000,#800000,#800000,#f80000,#00beff,#0000a5,#000080,#000080,#000080,#000080,#0027ff,#ff7300,#800000,#ff5700,#01fffe,#aaff55,#b10000,#800000,#b90000,#f30000,#ff5f00,#97ff68,#59ffa6,#ff7a00,#ff5800,#64ff9b,#007aff,#00ceff,#5affa5,#00b5ff,#006eff,#90ff6f)"></i><i style="background:linear-gradient(90deg,#800000,#08fff7,#00c2ff,#7cff83,#33ffcc,#ffb600,#800000,#800000,#ee0000,#0037ff,#000080,#000080,#000080,#000080,#000080,#0011ff,#ffe700,#a10000,#ff5c00,#12ffed,#b3ff4c,#ff0c00,#ff0400,#ffa700,#ff8c00,#ff5600,#e9ff16,#8aff75,#ff7d00,#ff7700,#00c4ff,#0000d1,#0082ff,#0dfff2,#00cdff,#00abff,#1dffe2)"></i><i style="background:linear-gradient(90deg,#800000,#5fffa0,#38ffc7,#c6ff39,#00e3ff,#d1ff2e,#800000,#800000,#ffb800,#000080,#000080,#000080,#000080,#000080,#000080,#000cff,#4affb5,#ff7600,#ffe900,#00a8ff,#64ff9b,#ffa600,#fff400,#69ff96,#fff500,#ff4c00,#ffeb00,#62ff9d,#f2ff0d,#a1ff5e,#000082,#000080,#0074ff,#2dffd2,#0cfff3,#00f3ff,#00bcff)"></i><i style="background:linear-gradient(90deg,#800000,#7eff81,#2fffd0,#f7ff08,#43ffbc,#fcff03,#e20000,#ff9e00,#00e1ff,#000080,#000080,#000080,#000080,#000080,#000080,#000aff,#0094ff,#aaff55,#48ffb7,#0006ff,#02fffd,#eaff15,#7cff83,#1dffe2,#ffeb00,#ff5d00,#ccff33,#00bfff,#00ecff,#0044ff,#000080,#000080,#00c7ff,#c3ff3c,#84ff7b,#5effa1,#0098ff)"></i><i style="background:linear-gradient(90deg,#800000,#35ffca,#006dff,#86ff79,#84ff7b,#ffc000,#ffce00,#00c7ff,#000098,#000080,#000080,#000080,#000080,#000080,#00008f,#0000ca,#0020ff,#10ffef,#0069ff,#000080,#00bbff,#c5ff3a,#72ff8d,#5bffa4,#ff9b00,#ff6600,#64ff9b,#000fff,#0005ff,#000080,#000080,#000080,#4fffb0,#ff9c00,#ffd900,#faff05,#00d5ff)"></i><i style="background:linear-gradient(90deg,#aa0000,#00e9ff,#0000b6,#00bfff,#63ff9c,#ff9e00,#abff54,#0000f6,#000080,#000080,#000080,#000080,#000080,#000080,#000080,#000080,#000cff,#00d6ff,#0000c4,#000080,#00cfff,#f5ff0a,#b3ff4c,#b9ff46,#ff2500,#ff1200,#5affa5,#0000d9,#0000d2,#000080,#000080,#000080,#b7ff48,#ff9400,#ff8e00,#ff7e00,#73ff8c)"></i><i style="background:linear-gradient(90deg,#ff6900,#00acff,#000080,#0000eb,#0efff1,#ff7800,#a8ff57,#0015ff,#000080,#000080,#000080,#000080,#000080,#000080,#000080,#000080,#004aff,#00d6ff,#000091,#000080,#58ffa7,#ff7d00,#ffd000,#ffe200,#a00000,#800000,#c2ff3d,#0040ff,#0068ff,#0000a7,#000080,#0056ff,#bdff42,#b6ff49,#f6ff09,#ff9000,#fff400)"></i><i style="background:linear-gradient(90deg,#5fffa0,#003bff,#000080,#000080,#0076ff,#ffa800,#a7ff58,#0069ff,#000096,#000080,#000080,#000080,#000080,#000080,#000080,#00009a,#0084ff,#00b3ff,#000080,#000080,#d7ff28,#ff0100,#ff4c00,#ff9000,#800000,#800000,#ffdb00,#00d6ff,#34ffcb,#00cfff,#00dbff,#49ffb6,#57ffa8,#00e3ff,#28ffd7,#d3ff2c,#ffc700)"></i><i style="background:linear-gradient(90deg,#007fff,#0000c8,#000080,#000080,#0000f4,#dbff24,#64ff9b,#0091ff,#0000f2,#000080,#000080,#000080,#000080,#000080,#000080,#0000dc,#0090ff,#0057ff,#000080,#000080,#a8ff57,#ff1300,#ff1800,#ff7400,#b80000,#a50000,#f8ff07,#19ffe6,#91ff6e,#b4ff4b,#ffe800,#8fff70,#00e8ff,#00c2ff,#00e8ff,#57ffa8,#fffb00)"></i><i style="background:linear-gradient(90deg,#0024ff,#000080,#000080,#000080,#00008e,#06fff9,#00d7ff,#0072ff,#0038ff,#000080,#000080,#000080,#000080,#000080,#000080,#0004ff,#00a7ff,#002dff,#000080,#000080,#00d2ff,#ff9500,#ff2900,#ff6d00,#ff3500,#ff9e00,#46ffb9,#00e8ff,#5bffa4,#ffef00,#ff3900,#87ff78,#00e6ff,#65ff9a,#5bffa4,#51ffae,#b5ff4a)"></i><i style="background:linear-gradient(90deg,#0000fc,#000080,#000080,#000080,#000080,#000bff,#0049ff,#003bff,#0036ff,#000080,#000080,#000080,#000080,#000080,#000080,#0006ff,#00f0ff,#0068ff,#000080,#000080,#0015ff,#ffde00,#ff1200,#ff3400,#ff7900,#7aff85,#0083ff,#009eff,#00f9ff,#fff500,#ff0000,#8eff71,#49ffb6,#ffea00,#d1ff2e,#78ff87,#8aff75)"></i><i style="background:linear-gradient(90deg,#004cff,#000080,#000080,#000080,#000080,#0000db,#0066ff,#008dff,#003aff,#000080,#000080,#000080,#000080,#000080,#000080,#0000fb,#40ffbf,#00a5ff,#000080,#000080,#0000f4,#ff8900,#9f0000,#d30000,#ff9e00,#00c6ff,#000bff,#008eff,#00e4ff,#f5ff0a,#ff2300,#a9ff56,#b9ff46,#ffaf00,#d3ff2c,#7aff85,#99ff66)"></i><i style="background:linear-gradient(90deg,#00efff,#003fff,#006bff,#002cff,#0000bc,#0082ff,#10ffef,#4dffb2,#0086ff,#000080,#000080,#000080,#000080,#000080,#000080,#001fff,#6fff90,#009aff,#000080,#000080,#0030ff,#ff0900,#800000,#aa0000,#fff600,#0029ff,#0000f0,#00c6ff,#1affe5,#daff25,#ffad00,#a6ff59,#ffdc00,#ff9a00,#9cff63,#5bffa4,#cdff32)"></i><i style="background:linear-gradient(90deg,#5cffa3,#11ffee,#0cfff3,#0074ff,#0004ff,#24ffdb,#97ff68,#b8ff47,#00b5ff,#000080,#000080,#000080,#000080,#000094,#000080,#005aff,#7aff85,#0079ff,#000080,#000080,#003aff,#ff4200,#800000,#dd0000,#9aff65,#0000cf,#003bff,#19ffe6,#2bffd4,#77ff88,#59ffa6,#51ffae,#ff6f00,#ff4200,#95ff6a,#56ffa9,#ffe800)"></i><i style="background:linear-gradient(90deg,#27ffd8,#00feff,#00e0ff,#0036ff,#0000f0,#4dffb2,#b9ff46,#58ffa7,#002fff,#000080,#000080,#000080,#000080,#00a6ff,#0000c8,#0055ff,#6fff90,#00a4ff,#000080,#000080,#0007ff,#aaff55,#ff4c00,#ff1d00,#8fff70,#0004ff,#00c7ff,#48ffb7,#00e8ff,#00e2ff,#0049ff,#00b5ff,#ff3200,#de0000,#d6ff29,#bcff43,#ff6d00)"></i><i style="background:linear-gradient(90deg,#0062ff,#0035ff,#004dff,#0000f6,#0000f5,#52ffad,#cdff32,#00a4ff,#000080,#000080,#000080,#000080,#000080,#0094ff,#0004ff,#000aff,#77ff88,#3fffc0,#000080,#000080,#000cff,#00b1ff,#e2ff1d,#ff0b00,#ffe100,#00caff,#52ffad,#3bffc4,#00acff,#00a5ff,#0000c4,#003fff,#ff5500,#f50000,#ffdb00,#ff6f00,#bd0000)"></i><i style="background:linear-gradient(90deg,#000083,#00008e,#002aff,#0054ff,#007fff,#86ff79,#fcff03,#0044ff,#000080,#000080,#000080,#000080,#000080,#000084,#0000a6,#0000ea,#c4ff3b,#ffdd00,#0046ff,#0009ff,#008aff,#00a7ff,#ceff31,#a80000,#ff0f00,#bbff44,#98ff67,#0afff5,#00c7ff,#02fffd,#0029ff,#0074ff,#ffa900,#ff8500,#ffb700,#9f0000,#800000)"></i><i style="background:linear-gradient(90deg,#000080,#000081,#00adff,#3dffc2,#7bff84,#ffe400,#ffa600,#007fff,#000080,#000080,#0000b8,#000080,#000080,#000080,#000080,#0014ff,#ffe500,#ff1e00,#53ffac,#00eaff,#3cffc3,#53ffac,#ffb400,#800000,#980000,#ffc700,#79ff86,#00d2ff,#0cfff3,#99ff66,#35ffca,#5fffa0,#ffd200,#f2ff0d,#ffb600,#800000,#800000)"></i><i style="background:linear-gradient(90deg,#000080,#0000d1,#33ffcc,#e6ff19,#ffc300,#ff4e00,#ff5400,#00f6ff,#00008a,#0000ee,#007cff,#00009b,#000080,#000080,#000080,#0065ff,#ffcf00,#ce0000,#ffb600,#9cff63,#a5ff5a,#deff21,#ff6400,#a60000,#ff0800,#cfff30,#00ebff,#0091ff,#1effe1,#dbff24,#ffd800,#ff8e00,#ffc000,#b5ff4a,#ffdf00,#df0000,#800000)"></i><i style="background:linear-gradient(90deg,#000080,#0039ff,#54ffab,#e9ff16,#ffc100,#ff4d00,#ff6e00,#04fffb,#0000f1,#0068ff,#1effe1,#000dff,#000080,#000080,#000080,#00cdff,#ffec00,#e70000,#ff2900,#ddff22,#9bff64,#eeff11,#ff9800,#ff9700,#bfff40,#00acff,#0003ff,#0047ff,#0bfff4,#a4ff5b,#ff9b00,#ff0100,#ffad00,#88ff77,#a4ff5b,#ffff00,#ff7700)"></i><i style="background:linear-gradient(90deg,#0000c6,#00bdff,#57ffa8,#bfff40,#dfff20,#ffb500,#ffe100,#0095ff,#0000f0,#00a0ff,#7fff80,#0042ff,#000080,#000080,#00009b,#33ffcc,#ebff14,#ff3400,#ed0000,#f2ff0d,#6bff94,#d3ff2c,#fff300,#81ff7e,#009fff,#000081,#000080,#002bff,#2cffd3,#4dffb2,#f7ff08,#ff3100,#ffdb00,#27ffd8,#00e2ff,#00e3ff,#8cff73)"></i><i style="background:linear-gradient(90deg,#00edff,#6bff94,#7fff80,#b4ff4b,#8eff71,#efff10,#8eff71,#0000e2,#0000af,#00b3ff,#8dff72,#0029ff,#000080,#000080,#004dff,#54ffab,#9bff64,#ff8c00,#c70000,#ffa900,#8bff74,#dfff20,#ebff14,#54ffab,#0066ff,#000080,#000080,#006dff,#96ff69,#36ffc9,#8eff71,#ff9500,#d4ff2b,#00c7ff,#005fff,#0056ff,#00fcff)"></i><i style="background:linear-gradient(90deg,#cdff32,#e2ff1d,#a0ff5f,#94ff6b,#52ffad,#b3ff4c,#24ffdb,#000080,#000080,#00abff,#4dffb2,#0000d8,#000080,#0000ae,#00ffff,#2dffd2,#1effe1,#ffce00,#bd0000,#ff2400,#fffa00,#fffa00,#fdff02,#d0ff2f,#22ffdd,#000089,#000080,#00e0ff,#e6ff19,#51ffae,#9dff62,#ff9900,#98ff67,#0092ff,#0052ff,#0058ff,#00b4ff)"></i><i style="background:linear-gradient(90deg,#d9ff26,#ccff33,#8fff70,#35ffca,#00f7ff,#71ff8e,#07fff8,#000080,#000080,#0096ff,#00d0ff,#000088,#000080,#006cff,#adff52,#17ffe8,#00cbff,#ffdc00,#fe0000,#ff1500,#ff9500,#ffdb00,#ffd900,#ff9d00,#ffc400,#00eaff,#001eff,#2dffd2,#d3ff2c,#69ff96,#fdff02,#ff5800,#74ff8b,#0066ff,#006bff,#008cff,#0066ff)"></i><i style="background:linear-gradient(90deg,#3affc5,#5affa5,#70ff8f,#00eaff,#00c6ff,#58ffa7,#5bffa4,#0017ff,#000dff,#0069ff,#0017ff,#000080,#00008b,#10ffef,#ffcf00,#4effb1,#00f1ff,#ffcc00,#ff9800,#ffb600,#ffa400,#ffcc00,#ffad00,#ff6500,#ff0300,#ffbc00,#0cfff3,#2fffd0,#9aff65,#92ff6d,#ffb500,#ff4800,#64ff9b,#004cff,#008dff,#00d9ff,#000aff)"></i><i style="background:linear-gradient(90deg,#0082ff,#00f1ff,#64ff9b,#00deff,#00c7ff,#49ffb6,#c0ff3f,#35ffca,#00b6ff,#0000e6,#000080,#000080,#000aff,#6cff93,#ffc200,#7dff82,#4effb1,#ffd700,#b3ff4c,#73ff8c,#e7ff18,#ffd300,#ff8600,#ff7200,#ea0000,#ff4900,#45ffba,#00d0ff,#7bff84,#f3ff0c,#ffb000,#ff9f00,#62ff9d,#0075ff,#00e3ff,#3dffc2,#0000ad)"></i><i style="background:linear-gradient(90deg,#002dff,#00c7ff,#70ff8f,#30ffcf,#2affd5,#8cff73,#ffa700,#ffa200,#3bffc4,#000080,#000080,#000080,#004dff,#50ffaf,#b2ff4d,#40ffbf,#57ffa8,#cfff30,#1cffe3,#00cbff,#35ffca,#e2ff1d,#ff7300,#ff7900,#ff3f00,#ff8b00,#1dffe2,#004fff,#60ff9f,#ffb100,#ffef00,#d5ff2a,#6fff90,#11ffee,#9fff60,#b4ff4b,#000091)"></i><i style="background:linear-gradient(90deg,#005cff,#00d2ff,#6eff91,#a3ff5c,#b3ff4c,#ffec00,#ef0000,#b90000,#a3ff5c,#000080,#000080,#000080,#000bff,#00bfff,#00d2ff,#00b6ff,#00eeff,#37ffc8,#00b4ff,#006aff,#008bff,#68ff97,#ff7e00,#ff6100,#ff8e00,#ffaa00,#57ffa8,#0031ff,#35ffca,#ffbf00,#a9ff56,#67ff98,#92ff6d,#efff10,#ff9b00,#caff35,#000080)"></i><i style="background:linear-gradient(90deg,#00e8ff,#00f2ff,#29ffd6,#cdff32,#feff01,#ff8800,#800000,#800000,#fffe00,#000080,#000080,#000080,#000080,#0000fc,#001aff,#007bff,#0096ff,#00b2ff,#0096ff,#0065ff,#0057ff,#18ffe7,#ffbf00,#ff6700,#ffac00,#ff5600,#ffee00,#00acff,#3bffc4,#dbff24,#4dffb2,#58ffa7,#cdff32,#ff4300,#ff1200,#6dff92,#000080)"></i><i style="background:linear-gradient(90deg,#53ffac,#00efff,#00a2ff,#82ff7d,#edff12,#ff9900,#920000,#800000,#ffc700,#000080,#000080,#000080,#000080,#000080,#0000dc,#00deff,#00d1ff,#009fff,#00d7ff,#00e3ff,#00d3ff,#2fffd0,#ddff22,#ff7b00,#ff7100,#da0000,#ff4600,#4fffb0,#77ff88,#5cffa3,#07fff8,#9dff62,#ffed00,#e30000,#df0000,#05fffa,#000080)"></i><i style="background:linear-gradient(90deg,#61ff9e,#00dbff,#0042ff,#20ffdf,#d5ff2a,#ffd800,#ff1900,#f70000,#ffc500,#000aff,#000080,#000080,#000080,#000080,#0010ff,#8cff73,#8aff75,#05fffa,#51ffae,#adff52,#90ff6f,#3fffc0,#49ffb6,#ffa000,#ff0600,#a10000,#ff3600,#7fff80,#83ff7c,#00e1ff,#00c7ff,#d5ff2a,#ffcf00,#ff0200,#e40000,#0afff5,#000080)"></i><i style="background:linear-gradient(90deg,#25ffda,#00c8ff,#002aff,#00ecff,#fffb00,#ffc200,#ff8a00,#ff8300,#ffe500,#00d5ff,#000086,#000080,#000080,#000097,#005cff,#cdff32,#fff400,#7aff85,#acff53,#ffdc00,#c1ff3e,#00d5ff,#00abff,#ffd300,#aa0000,#bc0000,#ffc400,#09fff6,#0afff5,#0081ff,#0097ff,#a0ff5f,#dcff23,#ff9200,#ff3000,#59ffa6,#000080)"></i><i style="background:linear-gradient(90deg,#00e4ff,#00bbff,#0035ff,#00f1ff,#ff8600,#ff3d00,#ffa600,#ffe200,#d2ff2d,#65ff9a,#00acff,#0000c4,#000080,#0000d8,#0073ff,#56ffa9,#e7ff18,#c1ff3e,#d5ff2a,#e1ff1e,#21ffde,#0021ff,#0053ff,#e7ff18,#a00000,#ff0900,#75ff8a,#0049ff,#0071ff,#0096ff,#00c5ff,#31ffce,#2effd1,#a8ff57,#ffce00,#81ff7e,#002eff)"></i><i style="background:linear-gradient(90deg,#00b2ff,#008dff,#0036ff,#20ffdf,#f20000,#990000,#ff9800,#cfff30,#55ffaa,#73ff8c,#68ff97,#006aff,#000080,#0000f4,#0052ff,#0080ff,#70ff8f,#fffb00,#fcff03,#42ffbd,#0052ff,#0000ca,#0071ff,#a7ff58,#e40000,#ff6100,#00d9ff,#0000b5,#0055ff,#65ff9a,#90ff6f,#28ffd7,#00a6ff,#00fdff,#6bff94,#53ffac,#00e8ff)"></i><i style="background:linear-gradient(90deg,#0093ff,#002bff,#001fff,#70ff8f,#800000,#800000,#ffab00,#61ff9e,#00c8ff,#3bffc4,#b1ff4e,#00c7ff,#000080,#0000f9,#0017ff,#0000cb,#18ffe7,#ffbb00,#ffdd00,#00cbff,#0007ff,#0017ff,#00c7ff,#75ff8a,#ff4500,#ffc100,#0076ff,#000086,#00cdff,#ff6700,#ff4800,#c0ff3f,#00a0ff,#0093ff,#00d0ff,#00f3ff,#2cffd3)"></i><i style="background:linear-gradient(90deg,#00aeff,#0000ea,#0024ff,#e7ff18,#800000,#800000,#ffe800,#1cffe3,#00cfff,#5affa5,#cfff30,#00f0ff,#000092,#002cff,#0015ff,#0000ad,#23ffdc,#ff9200,#ffc300,#00bbff,#005eff,#00d5ff,#28ffd7,#6fff90,#ff6e00,#edff12,#0015ff,#000080,#4fffb0,#9f0000,#840000,#ff9000,#00f4ff,#0074ff,#00a2ff,#00b6ff,#00e9ff)"></i><i style="background:linear-gradient(90deg,#00f5ff,#000fff,#0069ff,#ffb800,#8f0000,#fb0000,#9fff60,#06fff9,#46ffb9,#98ff67,#84ff7b,#0099ff,#000087,#003fff,#003cff,#001dff,#5effa1,#ffb100,#ffd500,#00c1ff,#00b8ff,#61ff9e,#59ffa6,#94ff6b,#ff4e00,#dcff23,#0000ea,#000080,#9cff63,#920000,#8d0000,#ff6900,#2bffd4,#0064ff,#00acff,#00aeff,#0071ff)"></i><i style="background:linear-gradient(90deg,#2affd5,#007cff,#00ebff,#ffa600,#ff8b00,#ddff22,#34ffcb,#1cffe3,#b1ff4e,#91ff6e,#00daff,#0000d5,#000080,#0000ed,#0075ff,#00f1ff,#caff35,#ffe100,#fbff04,#00b4ff,#00beff,#60ff9f,#3affc5,#bdff42,#ff2400,#fff000,#0048ff,#0000f8,#a6ff59,#ff0a00,#ff0f00,#ffb900,#16ffe9,#002dff,#00acff,#00e8ff,#004eff)"></i><i style="background:linear-gradient(90deg,#3affc5,#00edff,#7cff83,#ffcc00,#86ff79,#16ffe9,#17ffe8,#4effb1,#dbff24,#4effb1,#003bff,#000080,#000080,#000080,#00b2ff,#fffe00,#ff7700,#ffd600,#c1ff3e,#0094ff,#0086ff,#00f0ff,#00ccff,#a9ff56,#ff5300,#ffbd00,#00f1ff,#0078ff,#3fffc0,#ffbc00,#ff6a00,#ffe000,#09fff6,#0000fd,#00b8ff,#6aff95,#00afff)"></i><i style="background:linear-gradient(90deg,#4affb5,#21ffde,#b6ff49,#f1ff0e,#19ffe6,#00e4ff,#15ffea,#52ffad,#cdff32,#25ffda,#0000f1,#000080,#000080,#000080,#00f6ff,#ff0100,#800000,#ff6e00,#99ff66,#0058ff,#000bff,#0050ff,#004cff,#51ffae,#fff900,#ffec00,#30ffcf,#003eff,#0026ff,#5cffa3,#ff7b00,#ffa000,#51ffae,#004cff,#3affc5,#ffdb00,#52ffad)"></i><i style="background:linear-gradient(90deg,#84ff7b,#20ffdf,#92ff6d,#d8ff27,#4dffb2,#1effe1,#00eaff,#00eeff,#70ff8f,#00f7ff,#0000c5,#000080,#000080,#000080,#00d2ff,#f00000,#800000,#ff2100,#67ff98,#0000cc,#000080,#000080,#0000de,#00c6ff,#00e1ff,#3bffc4,#00bfff,#000080,#000080,#0077ff,#ff8900,#ff5a00,#ccff33,#23ffdc,#ffd800,#ff3c00,#bcff43)"></i><i style="background:linear-gradient(90deg,#c3ff3c,#0ffff0,#54ffab,#eaff15,#acff53,#3dffc2,#007cff,#0030ff,#00acff,#0080ff,#0000af,#000080,#000080,#000080,#003aff,#fffc00,#ec0000,#ff3a00,#29ffd6,#000080,#000080,#000080,#0000ce,#006fff,#0000a3,#0003ff,#000fff,#000080,#000080,#0008ff,#ffdb00,#ff8f00,#ffd900,#ffe300,#f30000,#ff1100,#a8ff57)"></i><i style="background:linear-gradient(90deg,#e3ff1c,#14ffeb,#4affb5,#f2ff0d,#a2ff5d,#00caff,#0000ab,#000080,#0000a7,#0000bf,#0000c0,#0000a9,#000080,#000080,#000094,#009bff,#d4ff2b,#ffd700,#00d5ff,#000080,#000080,#000080,#0048ff,#00abff,#000080,#000080,#0000b6,#000080,#000080,#008aff,#ebff14,#ffef00,#ff9300,#ff2c00,#840000,#ff8600,#0efff1)"></i><i style="background:linear-gradient(90deg,#c6ff39,#22ffdd,#82ff7d,#cdff32,#18ffe7,#0000e3,#000080,#000080,#000080,#000080,#0000e3,#006dff,#0002ff,#000080,#000080,#0000ab,#00b9ff,#46ffb9,#0093ff,#000080,#000080,#000080,#00f0ff,#5dffa2,#000080,#000080,#0000cb,#000080,#0000a6,#c7ff38,#ffd200,#f7ff08,#ff5500,#ff0400,#a80000,#b5ff4a,#0043ff)"></i><i style="background:linear-gradient(90deg,#5dffa2,#0afff5,#c8ff37,#83ff7c,#006eff,#000080,#000080,#000080,#000080,#000081,#0018ff,#00e8ff,#00c7ff,#0045ff,#000080,#000080,#0000e8,#0087ff,#008eff,#0000ae,#000080,#000080,#32ffcd,#fffc00,#0096ff,#0024ff,#0000e1,#000082,#006fff,#ff2e00,#ff4500,#ffd700,#ff5e00,#ff6400,#fd0000,#5bffa4,#0000ec)"></i><i style="background:linear-gradient(90deg,#00ebff,#00c6ff,#e2ff1d,#08fff7,#0000ae,#000080,#000080,#000080,#0000da,#0047ff,#005bff,#00feff,#3affc5,#00f9ff,#000081,#000080,#000080,#0000e6,#0079ff,#0000a5,#000080,#000080,#00caff,#ffd600,#7aff85,#009dff,#0000be,#000080,#0066ff,#ff1d00,#ff0700,#ffe900,#ffe600,#fffb00,#fe0000,#ecff13,#0079ff)"></i><i style="background:linear-gradient(90deg,#00c4ff,#0078ff,#b0ff4f,#0075ff,#000080,#000080,#001fff,#0074ff,#00b5ff,#12ffed,#00e4ff,#2fffd0,#5dffa2,#1dffe2,#000080,#000080,#000080,#000080,#0022ff,#000080,#000080,#000080,#0044ff,#e4ff1b,#bbff44,#0095ff,#0000a1,#000080,#000eff,#ffd800,#ff4900,#d6ff29,#8aff75,#a4ff5b,#a30000,#e60000,#97ff68)"></i><i style="background:linear-gradient(90deg,#00d9ff,#002fff,#2effd1,#0008ff,#000080,#00009e,#17ffe8,#67ff98,#39ffc6,#aeff51,#b5ff4a,#a8ff57,#68ff97,#00bbff,#000080,#000080,#000080,#000080,#0000a7,#000080,#000080,#000080,#0011ff,#68ff97,#6aff95,#0069ff,#0000f3,#0000f8,#0038ff,#8dff72,#ff9700,#dcff23,#5cffa3,#6eff91,#8e0000,#800000,#ffb400)"></i><i style="background:linear-gradient(90deg,#00c5ff,#0000d9,#0070ff,#0000cd,#000080,#0032ff,#98ff67,#87ff78,#44ffbb,#f3ff0c,#ffae00,#f7ff08,#73ff8c,#0067ff,#000080,#000080,#000080,#000080,#000080,#000080,#000080,#0000a3,#0001ff,#00c4ff,#00e0ff,#0088ff,#00c7ff,#10ffef,#13ffec,#abff54,#ff8b00,#ffd100,#63ff9c,#41ffbe,#ec0000,#800000,#ffef00)"></i><i style="background:linear-gradient(90deg,#0058ff,#000080,#0000b5,#0000a5,#000080,#0094ff,#61ff9e,#00ccff,#008fff,#5affa5,#fff400,#a3ff5c,#45ffba,#004cff,#000080,#000080,#000080,#000080,#000080,#000080,#000080,#000080,#000091,#0000ef,#0059ff,#00d8ff,#92ff6d,#e1ff1e,#d3ff2c,#f0ff0f,#ff8e00,#ffc000,#3fffc0,#4bffb4,#ff2700,#ff1600,#75ff8a)"></i><i style="background:linear-gradient(90deg,#000097,#000080,#000080,#000080,#000080,#0016ff,#0070ff,#0000a9,#000080,#0013ff,#2fffd0,#28ffd7,#04fffb,#004eff,#0000e3,#0061ff,#0025ff,#000080,#000080,#000080,#000080,#000080,#000080,#000080,#0003ff,#00e6ff,#c5ff3a,#fcff03,#b7ff48,#8bff74,#e3ff1c,#b9ff46,#00bfff,#84ff7b,#f80000,#ff8500,#3bffc4)"></i><i style="background:linear-gradient(90deg,#000080,#000080,#000080,#000080,#000080,#000080,#000080,#000080,#000080,#000080,#004fff,#00f1ff,#00c6ff,#002cff,#00b5ff,#84ff7b,#00aeff,#000080,#000080,#000080,#000080,#000080,#000080,#000080,#0000f7,#008dff,#5cffa3,#b1ff4e,#05fffa,#00b1ff,#1affe5,#00ebff,#0001ff,#89ff76,#c20000,#ffb500,#7dff82)"></i><i style="background:linear-gradient(90deg,#000080,#000080,#000080,#000080,#000080,#000080,#000080,#000080,#000080,#000080,#000096,#00cbff,#007aff,#0000e2,#0bfff4,#d2ff2d,#0095ff,#000080,#000080,#000080,#000080,#000080,#000080,#000080,#0046ff,#0029ff,#00dbff,#94ff6b,#00a9ff,#004cff,#00ccff,#0067ff,#000080,#32ffcd,#bb0000,#ffc400,#caff35)"></i><i style="background:linear-gradient(90deg,#0000cb,#000080,#000082,#000080,#000080,#000080,#0000c7,#0000ff,#000080,#000080,#000080,#0086ff,#0037ff,#00009c,#00cbff,#56ffa9,#0024ff,#000080,#000080,#000080,#000080,#000080,#000080,#0006ff,#00c3ff,#0032ff,#00afff,#b6ff49,#0efff1,#00c4ff,#39ffc6,#0081ff,#000080,#00d3ff,#c00000,#ffb400,#e1ff1e)"></i><i style="background:linear-gradient(90deg,#00feff,#00d5ff,#0097ff,#0000bf,#000080,#0000af,#0061ff,#00bdff,#000080,#000080,#000080,#005fff,#0033ff,#000080,#0019ff,#00a6ff,#0000f4,#000080,#000080,#000080,#000080,#0000ba,#005dff,#00e3ff,#60ff9f,#00d3ff,#00faff,#dcff23,#eeff11,#b2ff4d,#fffb00,#13ffec,#000081,#00d3ff,#d20000,#ffa800,#d6ff29)"></i><i style="background:linear-gradient(90deg,#f5ff0a,#ffeb00,#55ffaa,#00a4ff,#006cff,#0060ff,#00b1ff,#00e7ff,#00009d,#000080,#000080,#0061ff,#0053ff,#000080,#000080,#004eff,#002fff,#000080,#000080,#000080,#000080,#0002ff,#00e5ff,#83ff7c,#fff500,#bcff43,#8eff71,#e8ff17,#ff6200,#ffbe00,#ff8c00,#84ff7b,#0015ff,#25ffda,#ff0800,#ffda00,#b3ff4c)"></i><i style="background:linear-gradient(90deg,#ffc200,#ff7800,#98ff67,#28ffd7,#17ffe8,#00bcff,#00deff,#00ceff,#0000b1,#000080,#0000a0,#002dff,#0026ff,#000080,#000080,#0097ff,#00aeff,#000080,#000080,#000080,#000080,#000094,#0096ff,#beff41,#ff7200,#ff8300,#ffba00,#ffe200,#ff1c00,#ffed00,#fffb00,#31ffce,#0023ff,#32ffcd,#ff8700,#91ff6e,#3fffc0)"></i><i style="background:linear-gradient(90deg,#fbff04,#ffc400,#70ff8f,#35ffca,#1cffe3,#00d5ff,#1affe5,#06fff9,#001cff,#00009f,#0000af,#000097,#000091,#000080,#00008e,#58ffa7,#4fffb0,#0000ac,#000080,#000080,#000080,#000080,#0000f0,#9aff65,#ff4f00,#ff2600,#ff2700,#ff7d00,#f60000,#9aff65,#0ffff0,#0046ff,#000080,#0097ff,#b9ff46,#00e3ff,#0090ff)"></i><i style="background:linear-gradient(90deg,#97ff68,#99ff66,#00f3ff,#00cfff,#00aaff,#00bcff,#58ffa7,#97ff68,#00ddff,#0011ff,#000080,#000080,#000080,#000080,#003bff,#fffd00,#edff12,#001fff,#000080,#000080,#000080,#000080,#000080,#62ff9d,#ff5b00,#ff1b00,#ff1f00,#ff4a00,#c90000,#71ff8e,#0064ff,#000098,#000080,#0000d2,#32ffcd,#00a1ff,#001fff)"></i><i style="background:linear-gradient(90deg,#18ffe7,#00ecff,#0063ff,#0055ff,#0038ff,#008cff,#6eff91,#f7ff08,#58ffa7,#0043ff,#000080,#000080,#000080,#0000a0,#00daff,#ffb600,#ff9300,#00a8ff,#000080,#000080,#000080,#000080,#000080,#90ff6f,#ff0f00,#ff1e00,#ffad00,#ff9200,#c60000,#95ff6a,#0042ff,#0000ab,#000080,#0000a9,#3effc1,#00ecff,#0024ff)"></i><i style="background:linear-gradient(90deg,#0056ff,#003eff,#0000fb,#0045ff,#0043ff,#00a7ff,#74ff8b,#c1ff3e,#19ffe6,#0033ff,#000080,#000080,#000092,#008fff,#80ff7f,#ff9300,#ff1e00,#64ff9b,#0000bc,#000080,#000080,#000080,#000080,#ffcf00,#800000,#ff1a00,#78ff87,#b1ff4e,#ff4300,#70ff8f,#0021ff,#0010ff,#0000ba,#0008ff,#7bff84,#41ffbe,#0048ff)"></i><i style="background:linear-gradient(90deg,#0000a4,#0000bb,#0000d0,#009eff,#00d4ff,#41ffbe,#9aff65,#19ffe6,#0046ff,#000fff,#000080,#000080,#0032ff,#6dff92,#fff200,#ff6e00,#a90000,#ffee00,#0048ff,#0000e7,#000080,#000080,#000080,#ff3400,#800000,#ff1100,#00e2ff,#02fffd,#f2ff0d,#00d3ff,#0000b3,#003bff,#007fff,#0057ff,#64ff9b,#3bffc4,#004aff)"></i><i style="background:linear-gradient(90deg,#0000c0,#0000ca,#0000d8,#00f8ff,#77ff88,#fff400,#e4ff1b,#006eff,#000080,#0010ff,#0031ff,#0052ff,#00aaff,#bdff42,#ffe800,#ffa000,#930000,#ffca00,#0041ff,#0013ff,#000088,#000080,#00008a,#ff0100,#800000,#ff0900,#00f0ff,#00dcff,#4affb5,#001cff,#000080,#0036ff,#00e0ff,#0066ff,#09fff6,#0dfff2,#004fff)"></i><i style="background:linear-gradient(90deg,#00deff,#0076ff,#0000fc,#10ffef,#dbff24,#ff7300,#ffea00,#0000fd,#000080,#003bff,#64ff9b,#67ff98,#00c0ff,#47ffb8,#6cff93,#87ff78,#ff4700,#9cff63,#0000b9,#0000fc,#0000b4,#000080,#0002ff,#ff1900,#800000,#ff1a00,#63ff9c,#22ffdd,#00d8ff,#0000a4,#000080,#0040ff,#00f1ff,#004cff,#00c3ff,#20ffdf,#0085ff)"></i><i style="background:linear-gradient(90deg,#f0ff0f,#00f3ff,#0000e2,#00c0ff,#edff12,#ff7500,#e3ff1c,#0000b0,#000080,#0056ff,#ffeb00,#ccff33,#0045ff,#0043ff,#0047ff,#0033ff,#4fffb0,#009bff,#000080,#0000f7,#0000ec,#0025ff,#00deff,#ff2c00,#800000,#ff7900,#b2ff4d,#8dff72,#00b8ff,#0000ac,#0000b4,#0063ff,#00ceff,#000dff,#00afff,#91ff6e,#00dcff)"></i><i style="background:linear-gradient(90deg,#c5ff3a,#0081ff,#000080,#0028ff,#adff52,#ffda00,#5cffa3,#000080,#000080,#0024ff,#c2ff3d,#1effe1,#000080,#000080,#000080,#000080,#0006ff,#0000e8,#00008c,#003bff,#001bff,#00edff,#ddff22,#ff3300,#ca0000,#dbff24,#a6ff59,#e3ff1c,#00f7ff,#0048ff,#0054ff,#00a8ff,#00b0ff,#0000bc,#00b3ff,#ffe800,#07fff8)"></i><i style="background:linear-gradient(90deg,#008cff,#000080,#000080,#0000b7,#2dffd2,#99ff66,#00daff,#000080,#000080,#0000ce,#00d1ff,#0000f1,#000080,#000080,#000080,#000080,#0000a7,#0000fa,#002dff,#008bff,#0024ff,#73ff8c,#ff6e00,#ff5b00,#ff8300,#3cffc3,#70ff8f,#eeff11,#30ffcf,#00f0ff,#00eeff,#1affe5,#00ceff,#000093,#00b6ff,#ffbe00,#00c4ff)"></i><i style="background:linear-gradient(90deg,#000080,#000080,#000080,#0000cc,#00a6ff,#15ffea,#00afff,#000080,#000080,#0000b0,#0008ff,#000080,#000080,#000080,#000080,#000080,#0007ff,#0084ff,#008dff,#0077ff,#0000f0,#90ff6f,#ff3e00,#ff9800,#f1ff0e,#00f0ff,#4effb1,#97ff68,#00e4ff,#00f0ff,#36ffc9,#8cff73,#03fffc,#0000a3,#00b5ff,#f5ff0a,#004aff)"></i><i style="background:linear-gradient(90deg,#000080,#000080,#000080,#0067ff,#005bff,#00baff,#00deff,#0000f3,#00009c,#0000d0,#000086,#000080,#000080,#000080,#000080,#000080,#005bff,#00d9ff,#005fff,#0000ee,#0000a4,#78ff87,#ff4800,#ff9900,#bdff42,#00f8ff,#58ffa7,#3effc1,#0063ff,#007eff,#3effc1,#d1ff2e,#00f9ff,#0000b6,#00a0ff,#79ff86,#0014ff)"></i><i style="background:linear-gradient(90deg,#0000a0,#000080,#0009ff,#11ffee,#004cff,#0092ff,#24ffdb,#0087ff,#006aff,#0008ff,#000080,#000080,#000080,#000080,#000080,#000080,#0037ff,#0097ff,#0000e1,#000080,#000083,#6fff90,#ff4000,#ff4900,#e8ff17,#27ffd8,#73ff8c,#31ffce,#0058ff,#0077ff,#70ff8f,#fff900,#00baff,#000089,#0044ff,#15ffea,#0065ff)"></i><i style="background:linear-gradient(90deg,#009bff,#007dff,#00b6ff,#39ffc6,#004aff,#008eff,#31ffce,#00d9ff,#00fdff,#001dff,#000080,#000080,#000080,#000080,#000080,#000080,#0000bb,#0000e7,#000084,#000080,#000098,#59ffa6,#ff5b00,#ff0600,#ffae00,#73ff8c,#94ff6b,#63ff9c,#00ddff,#2bffd4,#f8ff07,#ff9f00,#009fff,#000080,#0000b2,#00f8ff,#23ffdc)"></i><i style="background:linear-gradient(90deg,#2fffd0,#2affd5,#00b1ff,#00b3ff,#0038ff,#00a0ff,#06fff9,#00e0ff,#15ffea,#0000ca,#000080,#000080,#000080,#000080,#000080,#000080,#000080,#000080,#000093,#00009c,#0000c8,#14ffeb,#ffdb00,#ff4800,#ff6300,#d9ff26,#bcff43,#96ff69,#85ff7a,#ffeb00,#ff7400,#ff3100,#00f2ff,#000080,#000080,#1affe5,#d4ff2b)"></i><i style="background:linear-gradient(90deg,#6aff95,#36ffc9,#005dff,#000dff,#0025ff,#00acff,#00cfff,#00d3ff,#00aaff,#000080,#000080,#000080,#000080,#000080,#000080,#000080,#000080,#000080,#0009ff,#0059ff,#001fff,#00d3ff,#62ff9d,#daff25,#ff9900,#fffb00,#94ff6b,#69ff96,#deff21,#ff5200,#ff3c00,#f30000,#aaff55,#0000df,#0000a9,#2dffd2,#eeff11)"></i><i style="background:linear-gradient(90deg,#8eff71,#00fbff,#0041ff,#0000d0,#0022ff,#0097ff,#00aeff,#00cdff,#0005ff,#000080,#000080,#000080,#000080,#000080,#000080,#000080,#000080,#000080,#0081ff,#0efff1,#0094ff,#00caff,#00adff,#00bfff,#aeff51,#a6ff59,#00d5ff,#00d4ff,#f2ff0d,#ff0d00,#ff4f00,#ff0b00,#ffaa00,#00dfff,#0045ff,#03fffc,#67ff98)"></i><i style="background:linear-gradient(90deg,#cbff34,#00dfff,#0083ff,#001aff,#004fff,#009cff,#00cfff,#00c4ff,#000081,#000080,#000080,#000080,#000080,#000080,#000080,#000080,#000080,#000093,#00b9ff,#69ff96,#00e3ff,#00e6ff,#0042ff,#0000ef,#00e5ff,#00feff,#0000f9,#005fff,#f1ff0e,#ff0800,#ff6600,#ff6300,#ffa100,#52ffad,#00aeff,#00c5ff,#00d6ff)"></i><i style="background:linear-gradient(90deg,#ffb200,#2effd1,#00fcff,#00a6ff,#00b5ff,#0cfff3,#4effb1,#00c6ff,#000080,#000080,#000080,#000080,#000080,#000080,#000080,#000087,#000080,#000093,#00afff,#40ffbf,#00c2ff,#00f8ff,#0046ff,#0000d6,#0083ff,#0086ff,#0000b6,#008aff,#fffc00,#ff5600,#ffa600,#e8ff17,#89ff76,#00eeff,#00ccff,#00d3ff,#00e0ff)"></i><i style="background:linear-gradient(90deg,#e50000,#d3ff2c,#56ffa9,#03fffc,#04fffb,#85ff7a,#b3ff4c,#00c2ff,#0000c1,#000080,#000080,#000096,#000080,#000080,#0000d6,#0085ff,#000080,#000080,#0062ff,#00afff,#003eff,#00e3ff,#00beff,#0082ff,#0099ff,#0069ff,#0020ff,#33ffcc,#ffd300,#fffd00,#7dff82,#00b6ff,#0035ff,#0044ff,#02fffd,#65ff9a,#99ff66)"></i><i style="background:linear-gradient(90deg,#800000,#ff4b00,#98ff67,#1fffe0,#0bfff4,#88ff77,#77ff88,#008eff,#004cff,#0021ff,#0000fe,#0089ff,#0000f3,#000080,#00b8ff,#76ff89,#000080,#000080,#0000d2,#0000f4,#000082,#008fff,#52ffad,#63ff9c,#00d1ff,#0097ff,#00faff,#fff400,#ff8300,#51ffae,#0028ff,#000080,#000080,#000cff,#7bff84,#ffe100,#ffb100)"></i><i style="background:linear-gradient(90deg,#800000,#800000,#ffd600,#4dffb2,#00e3ff,#00ffff,#009cff,#0030ff,#00b6ff,#00c2ff,#00aeff,#78ff87,#00f7ff,#004cff,#c4ff3b,#ffb200,#000080,#000080,#000080,#000080,#000080,#0002ff,#66ff99,#8fff70,#00b9ff,#00deff,#ddff22,#ff5700,#ff6100,#00b3ff,#000080,#000080,#000080,#0089ff,#f8ff07,#ff8b00,#ffb700)"></i><i style="background:linear-gradient(90deg,#800000,#800000,#e40000,#e7ff18,#00e4ff,#0060ff,#0000b5,#0000ee,#00efff,#00e3ff,#09fff6,#ffc900,#ecff13,#74ff8b,#ff5500,#ff4f00,#00009c,#000080,#000080,#000080,#000080,#000099,#00ddff,#00bfff,#004aff,#20ffdf,#ff8f00,#ff4000,#ffbc00,#0031ff,#000080,#000080,#0050ff,#53ffac,#ffd600,#ffa600,#a0ff5f)"></i><i style="background:linear-gradient(90deg,#800000,#800000,#800000,#ff6700,#1affe5,#0014ff,#000080,#000eff,#25ffda,#00dbff,#2effd1,#ff6000,#ff7800,#ffdd00,#ff5200,#ffc000,#000080,#000080,#000080,#0000a6,#000080,#0000c1,#0066ff,#0000b7,#0000f5,#5bffa4,#ff7500,#ff8e00,#c1ff3e,#000cff,#000080,#002bff,#b6ff49,#d5ff2a,#fff500,#ffbf00,#0efff1)"></i><i style="background:linear-gradient(90deg,#e60000,#800000,#800000,#ff3a00,#19ffe6,#0001ff,#00008d,#0082ff,#54ffab,#00f6ff,#67ff98,#ff6500,#ffa700,#9fff60,#73ff8c,#12ffed,#000080,#000080,#00008f,#0051ff,#000092,#0068ff,#0091ff,#000080,#0030ff,#95ff6a,#ffab00,#ffc900,#a6ff59,#007cff,#002aff,#fffd00,#f60000,#f2ff0d,#bfff40,#ffb400,#00ddff)"></i><i style="background:linear-gradient(90deg,#ff2e00,#e40000,#cd0000,#ffa700,#00a2ff,#0000db,#0002ff,#03fffc,#6dff92,#42ffbd,#ddff22,#ff8a00,#acff53,#006bff,#0000e4,#0000f5,#000080,#000080,#0029ff,#00c7ff,#0000f0,#34ffcb,#37ffc8,#0000e3,#04fffb,#e4ff1b,#ffdd00,#ffb500,#faff05,#44ffbb,#dbff24,#800000,#800000,#f1ff0e,#6bff94,#ffd400,#00e6ff)"></i><i style="background:linear-gradient(90deg,#ff0300,#e20000,#ff2500,#dcff23,#0017ff,#00008f,#002fff,#34ffcb,#7aff85,#92ff6d,#ffae00,#ff8600,#4affb5,#0000b7,#000080,#000083,#000080,#000080,#0076ff,#00c5ff,#0001ff,#b0ff4f,#aeff51,#00adff,#ffeb00,#ffb900,#ffe000,#ff7b00,#ffa000,#e8ff17,#e00000,#800000,#800000,#fdff02,#3fffc0,#cbff34,#2bffd4)"></i><i style="background:linear-gradient(90deg,#af0000,#c50000,#ff6d00,#97ff68,#0000d2,#000080,#0000c0,#10ffef,#beff41,#d6ff29,#ff9100,#ff7b00,#81ff7e,#0019ff,#000080,#0000b7,#000080,#000080,#0073ff,#0080ff,#0000e1,#96ff69,#90ff6f,#2bffd4,#ff4f00,#ff8f00,#ffde00,#ff7d00,#ff9100,#ffdf00,#950000,#800000,#830000,#ffe100,#93ff6c,#a5ff5a,#dbff24)"></i><i style="background:linear-gradient(90deg,#800000,#ea0000,#ffdd00,#6eff91,#0000be,#000080,#000080,#00d8ff,#ffe500,#e6ff19,#fff200,#ffca00,#f0ff0f,#35ffca,#0060ff,#0049ff,#000080,#000080,#00aaff,#0099ff,#0000f5,#22ffdd,#00f5ff,#00fcff,#ffb500,#ffeb00,#f5ff0a,#ffde00,#fff400,#deff21,#ff4400,#f70000,#ffca00,#ffa200,#ff9c00,#fffd00,#ff3600)"></i><i style="background:linear-gradient(90deg,#800000,#ff0a00,#f6ff09,#85ff7a,#0000c0,#000080,#000080,#00e7ff,#ffd200,#b0ff4f,#7aff85,#adff52,#ffbd00,#ff9500,#78ff87,#00e4ff,#0051ff,#0073ff,#70ff8f,#68ff97,#0092ff,#00deff,#0042ff,#0030ff,#15ffea,#60ff9f,#d2ff2d,#d1ff2e,#8fff70,#60ff9f,#a1ff5e,#7cff83,#38ffc7,#ff6a00,#e60000,#ff8500,#a50000)"></i><i style="background:linear-gradient(90deg,#800000,#e30000,#ff9c00,#fff500,#0000e6,#000080,#000080,#51ffae,#caff35,#22ffdd,#00e2ff,#30ffcf,#ff9e00,#bd0000,#ffa700,#5dffa2,#00e5ff,#26ffd9,#ffcc00,#ffa800,#59ffa6,#00edff,#0000dd,#000080,#0012ff,#00f5ff,#e2ff1d,#ddff22,#58ffa7,#01fffe,#00cbff,#0094ff,#00daff,#ff7f00,#d20000,#ff6100,#b90000)"></i><i style="background:linear-gradient(90deg,#800000,#d70000,#ff0e00,#ff3f00,#0047ff,#000080,#000bff,#fffd00,#5bffa4,#0089ff,#0066ff,#00dfff,#ff9400,#800000,#ff4900,#99ff66,#00e5ff,#0efff1,#ffd000,#ff6100,#b6ff49,#00fbff,#0000e8,#000080,#0004ff,#21ffde,#ddff22,#e9ff16,#6cff93,#00fbff,#0085ff,#006fff,#00e9ff,#f5ff0a,#ff8300,#ffb300,#ff3700)"></i><i style="background:linear-gradient(90deg,#a20000,#ff1a00,#f10000,#d70000,#00c2ff,#000080,#72ff8d,#ff5400,#15ffea,#0026ff,#0023ff,#00b6ff,#ff9c00,#960000,#ff9200,#83ff7c,#0097ff,#0078ff,#82ff7d,#ffb300,#92ff6d,#00caff,#0046ff,#0000fb,#00bfff,#8dff72,#75ff8a,#a8ff57,#b0ff4f,#4dffb2,#00adff,#00ceff,#31ffce,#3affc5,#6cff93,#cbff34,#ff9c00)"></i><i style="background:linear-gradient(90deg,#800000,#ff4a00,#ff3500,#f70000,#1affe5,#002dff,#ff5d00,#ff0e00,#00adff,#0000d7,#0019ff,#00bdff,#ffb300,#ff3f00,#92ff6d,#0bfff4,#0052ff,#0024ff,#00eaff,#e5ff1a,#40ffbf,#009dff,#00f4ff,#17ffe8,#b0ff4f,#e5ff1a,#00edff,#5dffa2,#ffe100,#c2ff3d,#13ffec,#84ff7b,#aaff55,#00c8ff,#0096ff,#6eff91,#ffb400)"></i><i style="background:linear-gradient(90deg,#800000,#ff7c00,#ffaf00,#ff6e00,#65ff9a,#31ffce,#800000,#f90000,#0026ff,#000080,#000eff,#00c3ff,#fff800,#c7ff38,#008cff,#006cff,#0059ff,#0086ff,#00deff,#8aff75,#00f3ff,#00cdff,#f5ff0a,#ffbb00,#ff8600,#ffca00,#00ceff,#66ff99,#ff5b00,#ffd200,#a4ff5b,#ff7900,#ff9600,#00dfff,#003cff,#33ffcc,#ffb300)"></i><i style="background:linear-gradient(90deg,#c30000,#e9ff16,#93ff6c,#e0ff1f,#9eff61,#fdff02,#800000,#cd0000,#0000ff,#000080,#0007ff,#00a5ff,#8cff73,#00dcff,#0000be,#0000d9,#0071ff,#29ffd6,#0afff5,#01fffe,#0098ff,#4effb1,#ef0000,#ac0000,#da0000,#ff4d00,#2fffd0,#b7ff48,#d10000,#ff6900,#ffa500,#800000,#a60000,#60ff9f,#0050ff,#00feff,#ffdf00)"></i><i style="background:linear-gradient(90deg,#ffd500,#00e8ff,#00a5ff,#00ecff,#6cff93,#ffaf00,#800000,#a90000,#0063ff,#0000a0,#0024ff,#004eff,#00e0ff,#0041ff,#000080,#000080,#0050ff,#61ff9e,#1dffe2,#0066ff,#0016ff,#a8ff57,#800000,#800000,#800000,#a40000,#a4ff5b,#edff12,#800000,#eb0000,#ff0c00,#800000,#800000,#fcff03,#00cbff,#00f6ff,#d9ff26)"></i><i style="background:linear-gradient(90deg,#00f8ff,#0006ff,#0000ed,#0000e2,#0096ff,#fffc00,#860000,#ff0500,#00caff,#0026ff,#0046ff,#0000dc,#004eff,#0016ff,#000080,#000080,#0000f7,#23ffdc,#35ffca,#001fff,#00009c,#8cff73,#800000,#800000,#800000,#800000,#ccff33,#bfff40,#800000,#9d0000,#ff0d00,#800000,#800000,#ffb700,#76ff89,#35ffca,#baff45)"></i><i style="background:linear-gradient(90deg,#001cff,#0000a7,#0000bb,#000080,#000086,#5cffa3,#ff6200,#ffe700,#00d1ff,#005eff,#002fff,#0000ae,#004bff,#0058ff,#000080,#000080,#0000b2,#00deff,#76ff89,#0047ff,#000080,#14ffeb,#fe0000,#800000,#800000,#800000,#b8ff47,#60ff9f,#e60000,#db0000,#ffc500,#be0000,#ed0000,#fff800,#e8ff17,#8eff71,#dfff20)"></i><i style="background:linear-gradient(90deg,#0000d2,#0000dd,#000cff,#000080,#000080,#0073ff,#7dff82,#16ffe9,#00a0ff,#003cff,#0000fa,#0027ff,#14ffeb,#18ffe7,#0030ff,#000089,#0000e0,#00f6ff,#e9ff16,#00e0ff,#0000c6,#00a0ff,#b6ff49,#ff6400,#800000,#800000,#d2ff2d,#67ff98,#ffb500,#ff9400,#61ff9e,#e9ff16,#eeff11,#77ff88,#caff35,#93ff6c,#fff700)"></i><i style="background:linear-gradient(90deg,#0000df,#003bff,#006eff,#000080,#000080,#000086,#0068ff,#0076ff,#008aff,#0000ef,#0000bb,#00dbff,#f8ff07,#edff12,#69ff96,#00b8ff,#0081ff,#55ffaa,#ffa000,#a8ff57,#0091ff,#0088ff,#008cff,#67ff98,#ee0000,#e70000,#ff9a00,#ffdb00,#b5ff4a,#8aff75,#00edff,#7eff81,#a8ff57,#33ffcc,#50ffaf,#57ffa8,#ffcb00)"></i><i style="background:linear-gradient(90deg,#0000f5,#0073ff,#00b3ff,#000080,#000080,#000080,#000093,#0025ff,#006cff,#00008b,#000080,#13ffec,#ffe300,#ffc900,#ffbd00,#efff10,#5effa1,#c9ff36,#ff5500,#ffbb00,#7aff85,#00eaff,#000dff,#00b1ff,#ff7f00,#f30000,#bb0000,#c40000,#7fff80,#00c0ff,#00e4ff,#f8ff07,#ffb300,#61ff9e,#00cfff,#41ffbe,#ff5b00)"></i><i style="background:linear-gradient(90deg,#000aff,#00b5ff,#15ffea,#0000f5,#000080,#000080,#000080,#0000be,#0000eb,#000080,#000080,#00bbff,#65ff9a,#abff54,#ffbb00,#ff5f00,#ffeb00,#ffdc00,#ff4f00,#ff9200,#ffd400,#7fff80,#0040ff,#00b3ff,#ff9400,#bb0000,#800000,#800000,#61ff9e,#003fff,#10ffef,#ff7d00,#ff0f00,#95ff6a,#0068ff,#73ff8c,#a20000)"></i><i style="background:linear-gradient(90deg,#0031ff,#33ffcc,#95ff6a,#00aaff,#0000d6,#000080,#000080,#000080,#000080,#000080,#000080,#004cff,#0061ff,#00b3ff,#a1ff5e,#ff8900,#ffd700,#ffde00,#ffa300,#ffec00,#ff9700,#e5ff1a,#00d0ff,#37ffc8,#ff6600,#960000,#800000,#800000,#2dffd2,#0033ff,#62ff9d,#ff6500,#fe0000,#b8ff47,#005eff,#dbff24,#800000)"></i><i style="background:linear-gradient(90deg,#004eff,#9aff65,#cfff30,#1effe1,#00acff,#000080,#000080,#000080,#000080,#000080,#00009a,#0009ff,#0000a8,#0000f6,#00c6ff,#80ff7f,#8bff74,#b8ff47,#b8ff47,#68ff97,#ffcf00,#ffff00,#66ff99,#d9ff26,#ff4600,#b80000,#800000,#8b0000,#00f2ff,#0076ff,#9dff62,#ffdc00,#ff7e00,#ecff13,#00d8ff,#ffb500,#800000)"></i><i style="background:linear-gradient(90deg,#0002ff,#4bffb4,#69ff96,#31ffce,#3effc1,#0008ff,#000080,#000080,#000080,#000080,#0000e9,#000bff,#0000a6,#0000d1,#0000fe,#0045ff,#00b7ff,#23ffdc,#16ffe9,#00e8ff,#c2ff3d,#d3ff2c,#bdff42,#ffa000,#ff3a00,#fd0000,#890000,#fc0000,#28ffd7,#27ffd8,#f2ff0d,#c3ff3c,#fff700,#ffcf00,#91ff6e,#ff6300,#800000)"></i><i style="background:linear-gradient(90deg,#000080,#002eff,#007fff,#00d3ff,#07fff8,#0027ff,#0000a0,#000080,#000080,#000080,#0000ef,#0047ff,#0045ff,#001bff,#00008f,#000080,#003bff,#00dbff,#00f0ff,#00f4ff,#5effa1,#67ff98,#b1ff4e,#ff5900,#ff2400,#ff2400,#ff0400,#ff4700,#feff01,#ff9200,#ff6200,#efff10,#ceff31,#ffe400,#faff05,#ff4600,#800000)"></i><i style="background:linear-gradient(90deg,#000080,#000080,#000080,#000aff,#0000f0,#0000a3,#0000da,#0000bb,#000080,#000080,#0000c7,#0077ff,#00faff,#0089ff,#000099,#000080,#004dff,#46ffb9,#7eff81,#74ff8b,#1fffe0,#00d1ff,#38ffc7,#ff8400,#ff2b00,#ff2400,#ff6e00,#ff7800,#f40000,#800000,#a80000,#ffb400,#9cff63,#97ff68,#fdff02,#ff3900,#800000)"></i><i style="background:linear-gradient(90deg,#000080,#000080,#000080,#000080,#000080,#000080,#0000e6,#0000fa,#000080,#000080,#0000a1,#0069ff,#67ff98,#08fff7,#0000f5,#0000a4,#00d6ff,#ffc700,#ffac00,#fffa00,#10ffef,#002aff,#0059ff,#c4ff3b,#ff9300,#ff4000,#ff9a00,#ff6d00,#800000,#800000,#800000,#ffbd00,#47ffb8,#11ffee,#fff700,#ef0000,#800000)"></i><i style="background:linear-gradient(90deg,#000080,#000080,#000080,#000080,#000080,#000080,#0000d8,#0000a5,#000080,#000080,#000080,#002bff,#a2ff5d,#a2ff5d,#0060ff,#0004ff,#96ff69,#f20000,#ff4600,#ffa900,#22ffdd,#000083,#000080,#00cbff,#c5ff3a,#ffa700,#ffb400,#ff2600,#800000,#800000,#800000,#cdff32,#00f9ff,#00f6ff,#ffaa00,#800000,#800000)"></i><i style="background:linear-gradient(90deg,#000080,#000080,#000080,#000080,#000080,#000080,#0000cf,#000080,#000080,#000080,#000080,#0000e8,#d1ff2e,#ffcb00,#00adff,#0069ff,#ffbf00,#a90000,#ff7a00,#ffae00,#36ffc9,#000080,#000080,#0016ff,#5bffa4,#cdff32,#ebff14,#ff1000,#800000,#800000,#dd0000,#78ff87,#16ffe9,#77ff88,#ff1700,#800000,#800000)"></i><i style="background:linear-gradient(90deg,#000080,#000080,#000080,#000095,#000080,#000080,#0000cc,#000080,#000080,#000080,#000080,#0000e1,#eeff11,#ff6d00,#00e6ff,#00c6ff,#ff6a00,#ed0000,#fbff04,#ebff14,#27ffd8,#000080,#000080,#0022ff,#81ff7e,#80ff7f,#72ff8d,#ff5f00,#800000,#800000,#ff3c00,#8eff71,#caff35,#ff7200,#800000,#800000,#800000)"></i><i style="background:linear-gradient(90deg,#000080,#000080,#000080,#000080,#000080,#000080,#0000b8,#000080,#000080,#000091,#0000d1,#0024ff,#d6ff29,#ff6500,#0cfff3,#0dfff2,#ff6f00,#ff9400,#5affa5,#3cffc3,#00d5ff,#000dff,#0000d7,#00e6ff,#f9ff06,#7bff84,#2bffd4,#ffd500,#eb0000,#800000,#ff5300,#ffe800,#ff0000,#800000,#800000,#800000,#800000)"></i><i style="background:linear-gradient(90deg,#000080,#000080,#000080,#000080,#000080,#000080,#000085,#000080,#000080,#0076ff,#008cff,#007cff,#74ff8b,#ffe600,#00dfff,#20ffdf,#ffae00,#9aff65,#00d6ff,#00c0ff,#0085ff,#0093ff,#00d9ff,#95ff6a,#ffe400,#56ffa9,#00f0ff,#bbff44,#ff7000,#880000,#fd0000,#fd0000,#800000,#800000,#800000,#800000,#800000)"></i><i style="background:linear-gradient(90deg,#000080,#000080,#000080,#000080,#000080,#000080,#000080,#0000bc,#0013ff,#03fffc,#39ffc6,#00cfff,#05fffa,#2dffd2,#004aff,#00f7ff,#f8ff07,#00e3ff,#0093ff,#00e3ff,#00b0ff,#00c6ff,#18ffe7,#7eff81,#adff52,#00fdff,#00b1ff,#6eff91,#ffae00,#800000,#800000,#800000,#800000,#800000,#d90000,#c70000,#800000)"></i><i style="background:linear-gradient(90deg,#000080,#000080,#000080,#000080,#000080,#000080,#000080,#0004ff,#008cff,#2cffd3,#b6ff49,#2dffd2,#00c4ff,#0039ff,#00009e,#00b5ff,#afff50,#008cff,#0072ff,#3effc1,#43ffbc,#00d9ff,#00bcff,#00f4ff,#33ffcc,#00e0ff,#00b9ff,#49ffb6,#ffe800,#800000,#800000,#800000,#800000,#800000,#b70000,#b60000,#ab0000)"></i><i style="background:linear-gradient(90deg,#0000ea,#000080,#000080,#000080,#000080,#000080,#000080,#00008a,#007bff,#33ffcc,#ffdb00,#a1ff5e,#00a8ff,#000080,#000080,#0092ff,#b4ff4b,#00cbff,#0056ff,#26ffd9,#acff53,#11ffee,#00a0ff,#00d0ff,#2effd1,#39ffc6,#1dffe2,#2cffd3,#b6ff49,#e90000,#800000,#800000,#800000,#800000,#800000,#800000,#800000)"></i><i style="background:linear-gradient(90deg,#17ffe8,#000080,#000080,#000080,#000080,#000080,#000080,#000080,#0000f5,#37ffc8,#ff5f00,#ffbf00,#00aeff,#000080,#000080,#0092ff,#fff900,#74ff8b,#0046ff,#0098ff,#a2ff5d,#78ff87,#3dffc2,#58ffa7,#82ff7d,#98ff67,#62ff9d,#02fffd,#5effa1,#ffb300,#ffb100,#800000,#800000,#800000,#800000,#800000,#800000)"></i><i style="background:linear-gradient(90deg,#15ffea,#000080,#0000c8,#000081,#000080,#000080,#000080,#000080,#000080,#16ffe9,#fb0000,#ff1300,#00edff,#000080,#000080,#0096ff,#ffa600,#ffdd00,#005cff,#000eff,#42ffbd,#e3ff1c,#ffb600,#ffe500,#b7ff48,#79ff86,#1effe1,#00e1ff,#4bffb4,#6bff94,#00e2ff,#ffed00,#800000,#800000,#800000,#800000,#800000)"></i><i style="background:linear-gradient(90deg,#004aff,#000081,#00acff,#0021ff,#000080,#000080,#000080,#000080,#000080,#00dfff,#fb0000,#d60000,#21ffde,#0000bf,#000080,#006eff,#ffab00,#ff7900,#00a5ff,#0000d9,#00d2ff,#fff200,#e90000,#ff5c00,#a9ff56,#00f1ff,#0088ff,#00e9ff,#83ff7c,#00adff,#0000e0,#2affd5,#a00000,#800000,#800000,#800000,#800000)"></i><i style="background:linear-gradient(90deg,#000099,#000080,#00feff,#006aff,#000080,#000080,#000080,#00009a,#000080,#00ebff,#ff6d00,#ff6a00,#00dbff,#0009ff,#000080,#0002ff,#e8ff17,#ff7500,#0cfff3,#0013ff,#009aff,#cfff30,#c80000,#ff2600,#76ff89,#0063ff,#0000fc,#00d4ff,#90ff6f,#000aff,#000080,#22ffdd,#cc0000,#800000,#b30000,#800000,#800000)"></i><i style="background:linear-gradient(90deg,#000080,#000080,#0088ff,#0017ff,#000080,#000080,#000080,#0000b1,#0024ff,#6aff95,#fff900,#70ff8f,#002dff,#0000de,#000080,#000080,#59ffa6,#ffbb00,#4fffb0,#0092ff,#00b8ff,#45ffba,#ff5b00,#ff5900,#23ffdc,#000bff,#0000b9,#0080ff,#0ffff0,#000080,#000080,#3effc1,#ff3300,#b60000,#f50000,#8b0000,#800000)"></i><i style="background:linear-gradient(90deg,#000080,#000080,#0000a5,#000080,#000080,#000080,#000080,#00008f,#00c5ff,#ffa900,#d7ff28,#0052ff,#000082,#000080,#000080,#000080,#00eaff,#e8ff17,#4bffb4,#17ffe8,#1cffe3,#00baff,#99ff66,#ddff22,#00adff,#0000fb,#0000c1,#0013ff,#0045ff,#000080,#000080,#0073ff,#88ff77,#ffda00,#ff1400,#800000,#800000)"></i><i style="background:linear-gradient(90deg,#000080,#000080,#000080,#000080,#000080,#000080,#000080,#0000c7,#59ffa6,#840000,#ffcc00,#0000b6,#000080,#000080,#000080,#000080,#00ceff,#acff53,#1affe5,#73ff8c,#99ff66,#0082ff,#007aff,#00acff,#0049ff,#0044ff,#0016ff,#0000ca,#0000a0,#000080,#000080,#000080,#0000d5,#00d8ff,#ff1f00,#800000,#800000)"></i><i style="background:linear-gradient(90deg,#000080,#000080,#000080,#000080,#000080,#000080,#00009e,#0095ff,#faff05,#800000,#ff3e00,#0000d0,#0000c8,#0000d7,#000080,#0000b8,#30ffcf,#9bff64,#00edff,#a7ff58,#ffee00,#00c5ff,#0000d0,#0000ad,#0021ff,#00b3ff,#006aff,#00009b,#000080,#000080,#000080,#000080,#000080,#0015ff,#ec0000,#800000,#800000)"></i><i style="background:linear-gradient(90deg,#000080,#000080,#000080,#000080,#000080,#000080,#001fff,#9eff61,#ff8b00,#800000,#ff0400,#0075ff,#00a9ff,#00caff,#0027ff,#07fff8,#fffd00,#b7ff48,#05fffa,#edff12,#ff8500,#66ff99,#0000f1,#000080,#002fff,#00f5ff,#0080ff,#000080,#000080,#000080,#000080,#000080,#000080,#0000c0,#ae0000,#800000,#800000)"></i><i style="background:linear-gradient(90deg,#000080,#000080,#000080,#0000b7,#0000c7,#000080,#0089ff,#ff9d00,#ff6e00,#8f0000,#ff6a00,#1bffe4,#5dffa2,#81ff7e,#00f5ff,#fffc00,#ff2c00,#fff600,#9bff64,#ff8f00,#ff3900,#fff800,#00a8ff,#0000fe,#0069ff,#00faff,#007aff,#000080,#000080,#000080,#000080,#000080,#000080,#000080,#ff3b00,#800000,#ffbd00)"></i><i style="background:linear-gradient(90deg,#000080,#000080,#000080,#0017ff,#004dff,#0000f8,#05fffa,#ff5f00,#ffa500,#ffa100,#afff50,#42ffbd,#6fff90,#73ff8c,#00fdff,#ffeb00,#db0000,#ff7000,#ff5c00,#ff0d00,#ff4c00,#ffbb00,#66ff99,#00e1ff,#00c5ff,#00daff,#006aff,#000080,#000080,#000080,#000080,#000080,#000080,#000080,#27ffd8,#ffa300,#0066ff)"></i><i style="background:linear-gradient(90deg,#000080,#000080,#000080,#0000be,#006cff,#00c3ff,#99ff66,#ffc400,#c5ff3a,#94ff6b,#00ccff,#00f9ff,#06fff9,#00b3ff,#0053ff,#62ff9d,#ff1a00,#df0000,#800000,#ff1200,#fff100,#fff800,#cdff32,#91ff6e,#00fbff,#0081ff,#0024ff,#000080,#000080,#000080,#000080,#000080,#000080,#000080,#000080,#00b8ff,#000080)"></i><i style="background:linear-gradient(90deg,#000080,#000080,#000080,#000080,#0037ff,#5fffa0,#e1ff1e,#40ffbf,#00c7ff,#03fffc,#0054ff,#00adff,#00a3ff,#0000df,#0000b0,#00cdff,#ff6f00,#8c0000,#800000,#ffb000,#2fffd0,#a6ff59,#deff21,#b6ff49,#00b2ff,#0000cf,#000094,#000080,#000080,#000080,#000080,#000080,#000080,#000080,#000080,#0000ed,#000080)"></i><i style="background:linear-gradient(90deg,#000080,#000080,#000080,#000080,#0000d5,#52ffad,#79ff86,#000dff,#0000b2,#0075ff,#0036ff,#008fff,#0091ff,#00008a,#0000c8,#13ffec,#ff7b00,#b70000,#800000,#82ff7d,#00acff,#8aff75,#bfff40,#4effb1,#0000fb,#000080,#000080,#000080,#000080,#000080,#000080,#000080,#000080,#000080,#000080,#000080,#000080)"></i><i style="background:linear-gradient(90deg,#0000cc,#000080,#000080,#000080,#000080,#0095ff,#008eff,#000080,#000080,#0006ff,#002aff,#0077ff,#00a7ff,#0000ac,#005dff,#c7ff38,#ff8900,#ff6a00,#ff6700,#00c9ff,#009cff,#a5ff5a,#79ff86,#00a4ff,#000080,#000080,#000080,#000080,#000080,#000080,#000080,#000080,#000080,#000080,#000080,#000080,#000080)"></i><i style="background:linear-gradient(90deg,#007eff,#000080,#000080,#000080,#000080,#0000ab,#0000c4,#000080,#000080,#0009ff,#003dff,#0074ff,#00e0ff,#0019ff,#00bfff,#f8ff07,#fffa00,#ccff33,#a6ff59,#002cff,#00b3ff,#a4ff5b,#00ebff,#0000f3,#000080,#000080,#0013ff,#000080,#000080,#000080,#000080,#000080,#000080,#000080,#000080,#000080,#000080)"></i><i style="background:linear-gradient(90deg,#00b0ff,#000080,#000080,#0005ff,#0000d7,#000080,#000097,#000080,#000080,#0095ff,#0098ff,#00b2ff,#79ff86,#04fffb,#00efff,#99ff66,#76ff89,#6cff93,#1bffe4,#0000ef,#12ffed,#8dff72,#000dff,#000080,#000080,#000080,#006fff,#000080,#000080,#000080,#000080,#000080,#000080,#000080,#000080,#000080,#000080)"></i><i style="background:linear-gradient(90deg,#00c9ff,#000080,#0016ff,#59ffa6,#05fffa,#0005ff,#000dff,#000080,#00009f,#4bffb4,#0ffff0,#00ffff,#ffa500,#ff7f00,#75ff8a,#74ff8b,#6fff90,#82ff7d,#00efff,#003cff,#dcff23,#a5ff5a,#000080,#000080,#000080,#000080,#006aff,#000080,#000080,#000080,#000080,#000080,#000080,#000080,#000080,#000080,#000080)"></i><i style="background:linear-gradient(90deg,#05fffa,#00009c,#00e0ff,#ffbc00,#fff300,#00faff,#00b5ff,#0005ff,#002bff,#8cff73,#36ffc9,#00ecff,#ff2500,#800000,#ffd300,#adff52,#f7ff08,#c7ff38,#00eeff,#00b1ff,#ff7600,#e9ff16,#000080,#000080,#000080,#00008c,#0056ff,#000080,#000080,#000080,#000080,#000080,#000080,#000080,#000080,#000080,#000080)"></i><i style="background:linear-gradient(90deg,#2bffd4,#0011ff,#00e6ff,#fff000,#ffd400,#7bff84,#3bffc4,#00a7ff,#0073ff,#14ffeb,#00d1ff,#006cff,#ff3a00,#800000,#ff7700,#b9ff46,#ff8f00,#fff000,#34ffcb,#00fbff,#ff7500,#ffdb00,#000080,#000080,#0000aa,#0000ee,#0069ff,#0000dd,#000080,#000080,#000080,#000080,#000080,#000080,#000080,#000080,#000080)"></i><i style="background:linear-gradient(90deg,#0ffff0,#0043ff,#0039ff,#00e3ff,#80ff7f,#65ff9a,#82ff7d,#4effb1,#0081ff,#0023ff,#0000f2,#0000b6,#ffb600,#800000,#ffcf00,#34ffcb,#ffb100,#ffbd00,#d5ff2a,#4affb5,#ffd700,#ffb700,#0082ff,#0000e4,#005fff,#008dff,#00aeff,#0040ff,#000080,#000080,#000080,#000080,#000080,#000080,#000080,#000080,#000080)"></i><i style="background:linear-gradient(90deg,#00ecff,#006bff,#000080,#0000c0,#00ccff,#1dffe2,#acff53,#e5ff1a,#0085ff,#000080,#000080,#000080,#a1ff5e,#bc0000,#4effb1,#0047ff,#a7ff58,#ff9e00,#ff6d00,#d0ff2f,#ffff00,#ff9300,#82ff7d,#00bbff,#00e7ff,#21ffde,#06fff9,#006aff,#000080,#000080,#000080,#000080,#000080,#000080,#000080,#000080,#000080)"></i><i style="background:linear-gradient(90deg,#00f1ff,#0098ff,#000080,#000080,#004eff,#00d3ff,#e7ff18,#ff8f00,#00c2ff,#000080,#000080,#000080,#1fffe0,#ffe100,#0061ff,#000080,#06fff9,#ff7b00,#f80000,#ff9c00,#ffd200,#ff7500,#ffcf00,#4bffb4,#29ffd6,#7dff82,#2cffd3,#0020ff,#000080,#000080,#000080,#000080,#000080,#000080,#000080,#000080,#000080)"></i><i style="background:linear-gradient(90deg,#00fcff,#00a3ff,#000080,#000080,#0000c9,#008cff,#ffa600,#ff0100,#6aff95,#0000d8,#0000b2,#0026ff,#30ffcf,#6cff93,#0000d9,#000080,#00b0ff,#ff7400,#ff0d00,#ff5400,#ff8900,#ff5900,#ff8200,#88ff77,#43ffbc,#abff54,#13ffec,#000080,#000080,#000080,#000080,#000080,#000080,#000080,#000080,#000080,#000080)"></i><i style="background:linear-gradient(90deg,#00b7ff,#0050ff,#0000b8,#0000bd,#000080,#005cff,#ff3100,#b40000,#ffc500,#16ffe9,#00e8ff,#65ff9a,#bcff43,#21ffde,#0000a5,#000080,#006dff,#ffe400,#ffc100,#ff9800,#ff6500,#ff3700,#ff7b00,#94ff6b,#55ffaa,#caff35,#0afff5,#000080,#000080,#000080,#000080,#000080,#000080,#000080,#000080,#000080,#000080)"></i><i style="background:linear-gradient(90deg,#007fff,#000dff,#002fff,#0011ff,#000080,#0074ff,#ff0e00,#ff1700,#ff7400,#fbff04,#9cff63,#ffd900,#fff700,#0095ff,#000080,#000080,#000eff,#3effc1,#3affc5,#c1ff3e,#ff7f00,#ff2400,#ff9f00,#86ff79,#63ff9c,#ecff13,#44ffbb,#000080,#000080,#000080,#000080,#000080,#000080,#000080,#000080,#000080,#000080)"></i><i style="background:linear-gradient(90deg,#00d4ff,#0058ff,#00cdff,#0090ff,#000080,#00c9ff,#ff4f00,#fff400,#ffd200,#ffe300,#8aff75,#ffdf00,#90ff6f,#000085,#000080,#000080,#0000db,#0077ff,#007bff,#4fffb0,#ff9b00,#ff2c00,#ffe200,#46ffb9,#5bffa4,#ffe800,#9bff64,#000080,#000080,#000080,#000080,#000080,#000080,#000080,#000080,#000080,#000080)"></i><i style="background:linear-gradient(90deg,#8eff71,#0cfff3,#57ffa8,#00deff,#0000d8,#14ffeb,#ffaf00,#8dff72,#bcff43,#aeff51,#16ffe9,#c6ff39,#00ccff,#000080,#000080,#00009a,#0046ff,#0028ff,#0059ff,#8eff71,#ff5900,#ff2800,#d4ff2b,#00edff,#4effb1,#ffbf00,#d6ff29,#000080,#000080,#000080,#000080,#000080,#000080,#000080,#000080,#000080,#000080)"></i><i style="background:linear-gradient(90deg,#f6ff09,#78ff87,#68ff97,#0094ff,#0000f5,#00f2ff,#f1ff0e,#c8ff37,#b6ff49,#28ffd7,#00c5ff,#b8ff47,#00a2ff,#000080,#000080,#009bff,#02fffd,#0010ff,#0096ff,#ffa400,#c80000,#ff0b00,#acff53,#00d6ff,#77ff88,#ff9e00,#ddff22,#000080,#000080,#000080,#000080,#001dff,#000080,#000080,#000080,#000080,#000080)"></i><i style="background:linear-gradient(90deg,#ffff00,#77ff88,#3dffc2,#0021ff,#0000a6,#0074ff,#8dff72,#ffe300,#d4ff2b,#00d3ff,#00c3ff,#fcff03,#33ffcc,#000080,#0001ff,#a8ff57,#a1ff5e,#0018ff,#13ffec,#d20000,#800000,#e40000,#cbff34,#2affd5,#f9ff06,#ff6100,#d5ff2a,#000080,#000080,#000080,#0003ff,#00ffff,#00008c,#000080,#000080,#000080,#000080)"></i><i style="background:linear-gradient(90deg,#ebff14,#41ffbe,#12ffed,#0004ff,#000080,#0000fd,#33ffcc,#f5ff0a,#beff41,#00ccff,#00daff,#ffdf00,#e8ff17,#00c4ff,#2fffd0,#ffcd00,#e6ff19,#005fff,#b6ff49,#800000,#980000,#c60000,#ffd400,#97ff68,#ff8000,#f60000,#fffc00,#000080,#000080,#000080,#003cff,#00c3ff,#000080,#000080,#000080,#000080,#000080)"></i><i style="background:linear-gradient(90deg,#ccff33,#30ffcf,#15ffea,#0033ff,#000080,#0000e9,#27ffd8,#a7ff58,#9aff65,#00ebff,#00b9ff,#e1ff1e,#ffba00,#c7ff38,#fffa00,#ffb500,#f0ff0f,#00d6ff,#ffc700,#a70000,#ff2b00,#cb0000,#ff7d00,#c2ff3d,#ff6200,#9a0000,#ff8b00,#000080,#000080,#000080,#0000f3,#0000a7,#000080,#000080,#000080,#0000b6,#000084)"></i><i style="background:linear-gradient(90deg,#5fffa0,#5fffa0,#51ffae,#003aff,#000080,#002aff,#85ff7a,#aaff55,#81ff7e,#00c6ff,#0057ff,#7dff82,#ffa900,#ff8f00,#ff5500,#ff9900,#ccff33,#15ffea,#ffb800,#ff3300,#ffbc00,#ff2c00,#ff8200,#c6ff39,#ff9e00,#a90000,#ff4c00,#000080,#000080,#000080,#000080,#000080,#000080,#000080,#000080,#002eff,#000080)"></i><i style="background:linear-gradient(90deg,#008eff,#bcff43,#c7ff38,#0002ff,#000080,#0096ff,#ffc900,#efff10,#1dffe2,#0016ff,#0000e9,#3fffc0,#ffa600,#f80000,#800000,#ff1200,#b0ff4f,#04fffb,#fff600,#ff9000,#fffc00,#ffed00,#ffe200,#f9ff06,#ffc800,#ff2700,#ff9800,#000080,#000080,#000080,#000080,#000080,#000080,#000080,#000080,#004dff,#000080)"></i></div>
<div class="pn" style="left:46px;top:337px;width:56px;height:225px"><i style="background:linear-gradient(90deg,#0020ff,#0023ff 25px,#0030ff 29px,#0020ff 33px,#001cff 39px,#0000ff 40px,#0000df 42px,#0000de 45px,#00009f 48px,#00009f)"></i><i style="background:linear-gradient(90deg,#0020ff,#0020ff 23px,#0047ff 27px,#0042ff 30px,#0020ff 33px,#001fff 39px,#0005ff 40px,#0000e0 42px,#0000dc 45px,#00009f 48px,#00009f)"></i><i style="background:linear-gradient(90deg,#0029ff,#0020ff 9px,#0020ff 22px,#0058ff 27px,#0050ff 30px,#0020ff 34px,#0020ff 39px,#0000f6 41px,#0000df 43px,#0000d9 45px,#0000a7 47px,#00009f)"></i><i style="background:linear-gradient(90deg,#0034ff,#0020ff 3px,#0025ff 22px,#0060ff 27px,#0055ff 30px,#0020ff 36px,#0020ff 39px,#0000fd 41px,#0000df 43px,#0000d6 45px,#0000a2 47px,#00009f)"></i><i style="background:linear-gradient(90deg,#003bff,#0029ff 3px,#0035ff 8px,#0020ff 12px,#0020ff 21px,#005fff 26px,#0054ff 30px,#0020ff 38px,#0018ff 40px,#0003ff 41px,#0000df 43px,#0000d1 45px,#00009f 47px,#00009f)"></i><i style="background:linear-gradient(90deg,#0042ff,#0036ff 3px,#0053ff 7px,#0020ff 13px,#0024ff 20px,#005fff 26px,#0056ff 29px,#0042ff 34px,#0031ff 37px,#001dff 40px,#0006ff 41px,#0000df 43px,#0000df 44px,#00009f 47px,#00009f)"></i><i style="background:linear-gradient(90deg,#004eff,#0047ff 3px,#005fff 5px,#0060ff 9px,#0032ff 14px,#003cff 22px,#005aff 27px,#003fff 32px,#004cff 36px,#0028ff 40px,#0005ff 41px,#0000df 43px,#0000db 44px,#0000a3 46px,#00009f)"></i><i style="background:linear-gradient(90deg,#005eff,#0054ff 2px,#0064ff 8px,#0058ff 12px,#004cff 18px,#0044ff 23px,#004eff 27px,#0037ff 31px,#005dff 37px,#0049ff 40px,#0000ff 42px,#0000e7 44px,#0000b4 46px,#00009f 53px,#00009f)"></i><i style="background:linear-gradient(90deg,#0060ff,#0064ff 5px,#0078ff 8px,#0060ff 12px,#005aff 20px,#0046ff 24px,#003dff 28px,#0034ff 31px,#0060ff 35px,#005bff 40px,#001eff 42px,#0018ff 43px,#0000fc 44px,#0000ce 46px,#00009f 50px,#0000ad)"></i><i style="background:linear-gradient(90deg,#0066ff,#0061ff 4px,#0086ff 8px,#0068ff 15px,#0057ff 22px,#0035ff 30px,#0060ff 35px,#006fff 39px,#0064ff 40px,#0023ff 42px,#001dff 43px,#0005ff 44px,#0000d3 47px,#0000a7 49px,#0000a4 50px,#0000ca 53px,#0000cb)"></i><i style="background:linear-gradient(90deg,#0078ff,#0063ff 3px,#0091ff 9px,#0080ff 18px,#0060ff 21px,#0056ff 24px,#0041ff 29px,#0060ff 34px,#0062ff 36px,#008bff 39px,#0079ff 41px,#0047ff 43px,#001bff 44px,#0000f4 45px,#0000b6 49px,#0000dc 52px,#0000df)"></i><i style="background:linear-gradient(90deg,#0088ff,#006dff 3px,#009eff 9px,#009eff 18px,#0060ff 23px,#0057ff 29px,#0069ff 35px,#009fff 39px,#009fff 42px,#0018ff 45px,#0000f8 46px,#0000f0 47px,#0000cd 49px,#0000df 52px,#0000e6)"></i><i style="background:linear-gradient(90deg,#0094ff,#007aff 3px,#009fff 8px,#00a9ff 14px,#0097ff 21px,#0060ff 26px,#0060ff 30px,#0080ff 34px,#009fff 38px,#00a5ff 41px,#0078ff 43px,#0038ff 45px,#000eff 46px,#0000f1 48px,#0000df 50px,#0000e4 52px,#0000f9 54px,#0000f8)"></i><i style="background:linear-gradient(90deg,#009eff,#008dff 3px,#009fff 7px,#00b0ff 11px,#00c6ff 15px,#009fff 21px,#009eff 24px,#0072ff 28px,#008fff 31px,#009fff 33px,#009fff 37px,#00bdff 40px,#00baff 41px,#0070ff 43px,#0021ff 46px,#001eff 47px,#0000f1 49px,#0000df 50px,#0000df 51px,#0001ff 54px,#0001ff)"></i><i style="background:linear-gradient(90deg,#009fff,#00a6ff 7px,#00daff 14px,#00ccff 17px,#00acff 21px,#0097ff 29px,#00b1ff 34px,#00b7ff 37px,#00ceff 40px,#00bfff 41px,#003fff 45px,#0026ff 46px,#0013ff 48px,#0000f4 49px,#0000df 50px,#0003ff 54px,#0003ff)"></i><i style="background:linear-gradient(90deg,#009fff,#00a5ff 4px,#00dfff 12px,#00d7ff 17px,#00bcff 20px,#00c8ff 24px,#009fff 28px,#00a5ff 30px,#00d7ff 33px,#00daff 40px,#006eff 44px,#003aff 47px,#0033ff 48px,#0011ff 49px,#0000f2 50px,#0005ff)"></i><i style="background:linear-gradient(90deg,#00a9ff,#00dfff 10px,#00dfff 17px,#00c8ff 20px,#00dfff 24px,#00d8ff 26px,#00bdff 28px,#00c5ff 30px,#00dfff 32px,#00dfff 40px,#008aff 44px,#0070ff 47px,#0074ff 48px,#000dff 50px,#000dff)"></i><i style="background:linear-gradient(90deg,#00c1ff,#00dfff 8px,#00dfff 11px,#00f7ff 14px,#00dfff 17px,#00d4ff 20px,#00e8ff 25px,#00deff 29px,#00e8ff 32px,#00f9ff 34px,#00dfff 38px,#00dfff 40px,#00b4ff 44px,#009fff 48px,#006aff 49px,#0025ff 50px,#001dff)"></i><i style="background:linear-gradient(90deg,#00ddff,#00e5ff 10px,#01fffe 12px,#11ffee 14px,#00faff 16px,#00dfff 18px,#00e0ff 22px,#06fff9 24px,#04fffb 26px,#00e0ff 29px,#02fffd 32px,#0ffff0 34px,#00f7ff 36px,#00dfff 39px,#00b5ff 47px,#00beff 48px,#008bff 49px,#0046ff 50px,#0022ff 53px,#0020ff)"></i><i style="background:linear-gradient(90deg,#00dfff,#00e8ff 8px,#07fff8 11px,#20ffdf 13px,#17ffe8 16px,#03fffc 17px,#00e1ff 19px,#00e3ff 21px,#0cfff3 23px,#1fffe0 24px,#20ffdf 26px,#00ffff 29px,#20ffdf 34px,#00f8ff 37px,#00f4ff 40px,#08fff7 48px,#008aff 50px,#0073ff 52px,#0020ff)"></i><i style="background:linear-gradient(90deg,#00f5ff,#00e4ff 4px,#02fffd 9px,#20ffdf 12px,#20ffdf 17px,#00fcff 19px,#00f7ff 21px,#08fff7 22px,#1fffe0 23px,#20ffdf 35px,#06fff9 38px,#20ffdf 43px,#20ffdf 47px,#14ffeb 48px,#00ceff 49px,#009fff 50px,#009fff 52px,#0035ff)"></i><i style="background:linear-gradient(90deg,#10ffef,#00fbff 3px,#20ffdf 13px,#20ffdf 18px,#0afff5 20px,#17ffe8 22px,#20ffdf 26px,#20ffdf 47px,#0bfff4 48px,#00ccff 49px,#00a9ff 50px,#009bff 53px,#0046ff)"></i><i style="background:linear-gradient(90deg,#20ffdf,#15ffea 4px,#20ffdf 9px,#19ffe6 20px,#20ffdf 47px,#0afff5 48px,#00b6ff 50px,#009fff 52px,#009fff 53px,#0059ff)"></i><i style="background:linear-gradient(90deg,#20ffdf,#20ffdf 47px,#0dfff2 48px,#00bfff 50px,#009fff 52px,#0091ff 54px,#0078ff)"></i><i style="background:linear-gradient(90deg,#20ffdf,#20ffdf 47px,#00f7ff 49px,#00b2ff 51px,#00a1ff 52px,#009fff)"></i><i style="background:linear-gradient(90deg,#20ffdf,#24ffdb 43px,#2cffd3 46px,#18ffe7 48px,#00f1ff 50px,#00b9ff 53px,#00a6ff)"></i><i style="background:linear-gradient(90deg,#20ffdf,#26ffd9 43px,#31ffce 46px,#24ffdb 48px,#07fff8 50px,#00ceff)"></i><i style="background:linear-gradient(90deg,#20ffdf,#27ffd8 43px,#35ffca 46px,#2cffd3 48px,#06fff9 51px,#00e0ff)"></i><i style="background:linear-gradient(90deg,#20ffdf,#20ffdf 42px,#39ffc6 46px,#27ffd8 49px,#00fbff 52px,#00f7ff 54px,#0afff5)"></i><i style="background:linear-gradient(90deg,#20ffdf,#25ffda 7px,#26ffd9 24px,#22ffdd 42px,#3dffc2 46px,#2bffd4 50px,#22ffdd 53px,#40ffbf)"></i><i style="background:linear-gradient(90deg,#20ffdf,#35ffca 6px,#20ffdf 12px,#2bffd4 27px,#27ffd8 36px,#27ffd8 42px,#40ffbf 46px,#40ffbf)"></i><i style="background:linear-gradient(90deg,#26ffd9,#40ffbf 6px,#20ffdf 13px,#2affd5 20px,#3effc1 34px,#26ffd9 40px,#40ffbf 45px,#40ffbf)"></i><i style="background:linear-gradient(90deg,#33ffcc,#40ffbf 6px,#38ffc7 10px,#24ffdb 14px,#2fffd0 20px,#39ffc6 26px,#3bffc4 37px,#32ffcd 41px,#40ffbf 45px,#40ffbf)"></i><i style="background:linear-gradient(90deg,#40ffbf,#38ffc7 12px,#31ffce 23px,#40ffbf 30px,#40ffbf)"></i><i style="background:linear-gradient(90deg,#40ffbf,#36ffc9 19px,#40ffbf 42px,#40ffbf)"></i><i style="background:linear-gradient(90deg,#40ffbf,#3dffc2 24px,#40ffbf)"></i><i style="background:linear-gradient(90deg,#48ffb7,#40ffbf 24px,#40ffbf)"></i><i style="background:linear-gradient(90deg,#59ffa6,#40ffbf 8px,#40ffbf 31px,#81ff7e 36px,#7cff83 37px,#40ffbf 39px,#43ffbc 45px,#6fff90 47px,#6fff90 49px,#43ffbc 52px,#40ffbf)"></i><i style="background:linear-gradient(90deg,#60ff9f,#4bffb4 7px,#4cffb3 10px,#40ffbf 13px,#40ffbf 30px,#8aff75 34px,#cdff32 36px,#d9ff26 37px,#b9ff46 38px,#5affa5 40px,#40ffbf 41px,#46ffb9 43px,#9cff63 46px,#a7ff58 47px,#8cff73 50px,#4affb5 53px,#40ffbf)"></i><i style="background:linear-gradient(90deg,#60ff9f,#52ffad 6px,#8cff73 10px,#72ff8d 12px,#45ffba 14px,#40ffbf 28px,#48ffb7 29px,#7eff81 32px,#a4ff5b 34px,#fffb00 36px,#ffe000 37px,#fff800 38px,#90ff6f 41px,#88ff77 42px,#aeff51 44px,#e3ff1c 46px,#a6ff59 51px,#6fff90 53px,#5affa5)"></i><i style="background:linear-gradient(90deg,#60ff9f,#59ffa6 6px,#68ff97 7px,#a7ff58 9px,#beff41 11px,#6bff94 16px,#4effb1 17px,#40ffbf 19px,#40ffbf 20px,#52ffad 21px,#9bff64 23px,#a3ff5c 24px,#5fffa0 26px,#49ffb6 27px,#4affb5 28px,#87ff78 31px,#9cff63 33px,#fffa00 36px,#ffdf00 37px,#ffe200 39px,#f7ff08 40px,#deff21 41px,#d9ff26 42px,#fffe00 44px,#ffe200 45px,#ffe300 46px,#eeff11 47px,#d4ff2b 48px,#c5ff3a 52px,#91ff6e 54px,#8dff72)"></i><i style="background:linear-gradient(90deg,#60ff9f,#60ff9f 6px,#6cff93 7px,#9cff63 8px,#c8ff37 10px,#d5ff2a 15px,#a8ff57 18px,#a3ff5c 19px,#b5ff4a 20px,#fbff04 22px,#ffef00 23px,#fff200 24px,#80ff7f 26px,#55ffaa 27px,#56ffa9 28px,#96ff69 31px,#a8ff57 33px,#d9ff26 35px,#fcff03 36px,#ffdf00 37px,#ffe300 46px,#edff12 47px,#d4ff2b 48px,#cfff30 52px,#9fff60 54px,#9fff60)"></i><i style="background:linear-gradient(90deg,#60ff9f,#60ff9f 7px,#91ff6e 8px,#c9ff36 10px,#d5ff2a 12px,#e9ff16 13px,#ffee00 14px,#ffdf00 15px,#ffdf00 17px,#ffec00 19px,#ffdf00 21px,#ffdf00 24px,#d9ff26 25px,#91ff6e 26px,#60ff9f 27px,#60ff9f 28px,#8cff73 31px,#a2ff5d 33px,#f4ff0b 36px,#ffe500 37px,#ffdf00 46px,#f7ff08 47px,#dfff20 48px,#d6ff29 52px,#9fff60 54px,#9fff60)"></i><i style="background:linear-gradient(90deg,#60ff9f,#69ff96 5px,#60ff9f 7px,#abff54 9px,#d1ff2e 11px,#e8ff17 13px,#fff900 14px,#ffdf00 15px,#ffdf00 24px,#d9ff26 25px,#8fff70 26px,#60ff9f 27px,#60ff9f 28px,#6fff90 29px,#93ff6c 30px,#b1ff4e 32px,#d9ff26 35px,#f4ff0b 36px,#ffd600 38px,#ffd100 44px,#ffdf00 46px,#f3ff0c 48px,#e6ff19 51px,#d8ff27 52px,#9fff60 54px,#9fff60)"></i><i style="background:linear-gradient(90deg,#60ff9f,#66ff99 1px,#9aff65 4px,#94ff6b 6px,#80ff7f 7px,#82ff7d 8px,#cfff30 10px,#fffe00 13px,#ffdf00 14px,#ffdf00 24px,#dbff24 25px,#8dff72 26px,#64ff9b 27px,#74ff8b 28px,#c2ff3d 30px,#dfff20 32px,#e9ff16 35px,#fbff04 36px,#ffcb00 38px,#ffbb00 43px,#ffdf00 46px,#ffdf00 47px,#fdff02 49px,#ebff14 51px,#d7ff28 52px,#b2ff4d 53px,#aaff55 54px,#b6ff49)"></i><i style="background:linear-gradient(90deg,#71ff8e,#98ff67 2px,#c7ff38 4px,#ceff31 5px,#c5ff3a 6px,#9fff60 8px,#baff45 9px,#eaff15 10px,#fff200 11px,#ffdf00 12px,#ffdf00 24px,#deff21 25px,#94ff6b 26px,#7eff81 27px,#91ff6e 28px,#c8ff37 29px,#efff10 30px,#fffa00 31px,#fffa00 36px,#ffbf00 38px,#ffb000 43px,#ffdf00 46px,#ffdf00 48px,#fffe00 50px,#c0ff3f 53px,#dcff23)"></i><i style="background:linear-gradient(90deg,#8fff70,#99ff66 1px,#f2ff0d 4px,#feff01 5px,#f6ff09 6px,#c5ff3a 8px,#fff400 10px,#ffdf00 11px,#ffdf00 24px,#dcff23 25px,#9aff65 26px,#97ff68 27px,#b7ff48 28px,#edff12 29px,#ffeb00 30px,#ffe200 33px,#fff200 35px,#ffeb00 36px,#ffb500 38px,#ffa800 43px,#ffde00 46px,#ffe300 49px,#f1ff0e 51px,#c8ff37 53px,#efff10)"></i><i style="background:linear-gradient(90deg,#b0ff4f,#b7ff48 1px,#fbff04 3px,#ffe300 4px,#ffdf00 6px,#f4ff0b 8px,#fcff03 9px,#ffdf00 10px,#ffdf00 23px,#ffe800 24px,#dcff23 25px,#aaff55 26px,#b1ff4e 27px,#fff200 29px,#ffda00 31px,#ffd400 36px,#ffab00 38px,#ffa100 43px,#ffdb00 46px,#ffdf00 49px,#f2ff0d 51px,#c7ff38 53px,#f3ff0c)"></i><i style="background:linear-gradient(90deg,#d6ff29,#daff25 1px,#f6ff09 2px,#ffe000 3px,#ffdf00 23px,#ffea00 24px,#eaff15 25px,#ccff33 26px,#cfff30 27px,#fdff02 28px,#ffd600 31px,#ffc400 35px,#ffa200 37px,#ffa400 43px,#ffdd00 46px,#ffdf00 49px,#fff300 50px,#edff12 51px,#ccff33 52px,#beff41 53px,#eeff11)"></i><i style="background:linear-gradient(90deg,#fff400,#fff800 1px,#ffe200 2px,#ffd600 17px,#ffd200 21px,#ffea00 24px,#f3ff0c 25px,#dfff20 26px,#dfff20 27px,#f9ff06 28px,#ffc100 33px,#ff9f00 36px,#ff9f00 42px,#ffdf00 46px,#ffe100 49px,#fff800 50px,#bdff42 52px,#b3ff4c 53px,#e5ff1a)"></i><i style="background:linear-gradient(90deg,#ffdf00,#ffd800 11px,#ffb000 19px,#ffdf00 24px,#faff05 25px,#dfff20 26px,#e2ff1d 28px,#faff05 29px,#ffa700 34px,#ff9f00 42px,#ffdf00 46px,#ffdf00 48px,#fcff03 50px,#afff50 52px,#afff50 53px,#e0ff1f)"></i><i style="background:linear-gradient(90deg,#ffcf00,#ffdd00 3px,#ffcd00 10px,#ff9f00 18px,#ffab00 21px,#ffcc00 24px,#f7ff08 26px,#e3ff1c 27px,#fffd00 30px,#ff9f00 34px,#ffa300 42px,#ffdb00 45px,#ffe800 48px,#fff700 49px,#efff10 50px,#adff52 52px,#cbff34 54px,#e4ff1b)"></i><i style="background:linear-gradient(90deg,#ffab00,#ffd400 4px,#ffd500 8px,#ff9f00 15px,#ffa000 21px,#ffc600 25px,#fff500 27px,#f8ff07 29px,#ffea00 31px,#ffac00 33px,#ff9f00 35px,#ff9f00 41px,#ffdf00 45px,#ffec00 48px,#fffc00 49px,#ceff31 51px,#c7ff38 52px,#f6ff09)"></i><i style="background:linear-gradient(90deg,#ff9f00,#ff9f00 1px,#ffd400 5px,#ffd400 8px,#ff9f00 13px,#ffa400 23px,#ffba00 26px,#fff200 30px,#ffe700 31px,#ffa900 33px,#ff9f00 36px,#ffa000 41px,#ffd800 44px,#ffe000 48px,#fcff03 50px,#eeff11 51px,#fdff02 53px,#ffe500)"></i><i style="background:linear-gradient(90deg,#ff9600,#ff9f00 2px,#ffcc00 5px,#ffcd00 8px,#ff9f00 12px,#ffa100 26px,#ffdb00 30px,#ffdf00 31px,#ffa600 33px,#ffa100 41px,#ffdf00 44px,#ffdf00)"></i><i style="background:linear-gradient(90deg,#ff8e00,#ffa200 3px,#ffc400 6px,#ffb400 9px,#ff9f00 12px,#ffa100 28px,#ffd400 30px,#ffdf00 31px,#ffa000 33px,#ff9f00 41px,#ffdf00 44px,#ffdf00)"></i><i style="background:linear-gradient(90deg,#ff8b00,#ff9f00 3px,#ffae00 7px,#ff9f00 10px,#ff9800 15px,#ffa700 28px,#ffde00 30px,#ffda00 31px,#ffb500 32px,#ff9f00 33px,#ff9f00 41px,#ffdf00 44px,#ffdf00)"></i><i style="background:linear-gradient(90deg,#ff8a00,#ff9f00 3px,#ff9600 12px,#ffa100 27px,#ffca00 30px,#ffa600 32px,#ff9f00 41px,#ffbf00 43px,#ffdf00 45px,#ffdf00)"></i><i style="background:linear-gradient(90deg,#ff8900,#ff9f00 4px,#ff8d00 13px,#ff9f00 16px,#ff9f00 28px,#ffaf00 30px,#ff9f00 33px,#ff9f00 42px,#ffd900 46px,#ffdf00)"></i><i style="background:linear-gradient(90deg,#ff8400,#ff9900 4px,#ff8900 12px,#ff9f00 16px,#ffa200 43px,#ffdf00 48px,#ffdf00)"></i><i style="background:linear-gradient(90deg,#ff8000,#ff8b00 5px,#ff8000 11px,#ff9100 14px,#ff9f00 16px,#ff9f00 44px,#ffc700 47px,#ffde00 48px,#ffdf00)"></i><i style="background:linear-gradient(90deg,#ff8000,#ff8700 13px,#ff9f00 16px,#ff9f00 45px,#ffc000 47px,#ffda00 48px,#ffdf00 53px,#ffdf00)"></i><i style="background:linear-gradient(90deg,#ff8000,#ff8400 12px,#ff9f00 16px,#ff9f00 45px,#ffc000 47px,#ffda00 48px,#ffdf00 49px,#fdff02 50px,#ffdf00 52px,#ffdf00)"></i><i style="background:linear-gradient(90deg,#ff8000,#ff8200 11px,#ff9f00 16px,#ff9f00 45px,#ffac00 46px,#ffc800 47px,#fffe00 48px,#d3ff2c 49px,#c9ff36 50px,#f6ff09 51px,#ffdf00 52px,#ffdf00)"></i><i style="background:linear-gradient(90deg,#ff8000,#ff8400 11px,#ff9f00 15px,#ffa200 45px,#f2ff0d 47px,#a3ff5c 48px,#7eff81 49px,#94ff6b 50px,#e8ff17 51px,#ffdf00 52px,#ffdf00)"></i><i style="background:linear-gradient(90deg,#ff8000,#ff8500 9px,#ff9f00 15px,#ff9f00 44px,#ffc800 45px,#f0ff0f 46px,#44ffbb 48px,#42ffbd 49px,#efff10 51px,#ffdf00 52px,#ffdf00)"></i><i style="background:linear-gradient(90deg,#ff8000,#ff8100 8px,#ff9e00 11px,#ffa000 43px,#ffbe00 44px,#fff200 45px,#beff41 46px,#60ff9f 47px,#40ffbf 48px,#5bffa4 49px,#c0ff3f 50px,#fff500 51px,#ffdf00 52px,#ffdf00)"></i><i style="background:linear-gradient(90deg,#ff8000,#ff8000 8px,#ff9d00 10px,#ff9f00 42px,#ffac00 43px,#ffcb00 44px,#fffa00 45px,#7aff85 47px,#84ff7b 48px,#f4ff0b 50px,#ffe300 51px,#ffdf00)"></i><i style="background:linear-gradient(90deg,#ff8000,#ff8000 8px,#ff9900 10px,#ffce00 12px,#ff9f00 14px,#ff9f00 42px,#ffaa00 43px,#ffe700 45px,#edff12 46px,#cdff32 47px,#d7ff28 48px,#f8ff07 49px,#ffdf00 51px,#ffdf00)"></i><i style="background:linear-gradient(90deg,#ff8000,#ff8300 3px,#ff9700 4px,#ff8000 6px,#ff8900 9px,#fff800 11px,#f3ff0c 12px,#fff100 13px,#ffae00 14px,#ff9e00 16px,#ff9f00 42px,#ffc900 45px,#ffe300 47px,#ffdf00)"></i><i style="background:linear-gradient(90deg,#ff8000,#ff8000 2px,#ffb200 4px,#ff8700 7px,#ff9400 8px,#faff05 10px,#c7ff38 11px,#b9ff46 12px,#d8ff27 13px,#ffde00 14px,#ff9f00 15px,#ff9f00 38px,#ffaf00 40px,#ffa100 42px,#ffdd00 46px,#ffdf00)"></i><i style="background:linear-gradient(90deg,#ff8000,#ff8000 2px,#ffac00 3px,#ffc300 4px,#ffa200 7px,#ffc000 8px,#fffa00 9px,#8fff70 11px,#82ff7d 12px,#a2ff5d 13px,#ecff13 14px,#ffb200 15px,#ff9f00 16px,#ff9f00 38px,#ffbd00 40px,#ffb600 42px,#ffdf00 46px,#ffdf00)"></i><i style="background:linear-gradient(90deg,#ff8000,#ff8000 1px,#ff9500 2px,#ffc500 3px,#ffd800 4px,#ffc000 6px,#ffc400 7px,#ffe700 8px,#dbff24 9px,#97ff68 10px,#64ff9b 11px,#55ffaa 12px,#72ff8d 13px,#b9ff46 14px,#ffe600 15px,#ff9f00 16px,#ff9f00 38px,#ffcd00 40px,#ffdf00 48px,#ffdf00)"></i><i style="background:linear-gradient(90deg,#ff8000,#ff9f00 1px,#fff600 3px,#fffa00 5px,#fff200 7px,#f1ff0e 8px,#4fffb0 11px,#40ffbf 12px,#51ffae 13px,#8cff73 14px,#e1ff1e 15px,#ffc600 16px,#ff9f00 17px,#ff9f00 38px,#ffdf00 41px,#ffdf00)"></i><i style="background:linear-gradient(90deg,#fff000,#f7ff08 1px,#b9ff46 3px,#b3ff4c 4px,#d3ff2c 7px,#c8ff37 8px,#7bff84 10px,#50ffaf 11px,#40ffbf 12px,#40ffbf 13px,#60ff9f 14px,#efff10 16px,#ffd100 17px,#ffaa00 18px,#ff9f00 20px,#ff9f00 38px,#ffdf00 41px,#ffe400 52px,#feff01 54px,#f9ff06)"></i><i style="background:linear-gradient(90deg,#7dff82,#54ffab 3px,#66ff99 5px,#92ff6d 7px,#9bff64 8px,#93ff6c 9px,#40ffbf 12px,#44ffbb 14px,#54ffab 15px,#bcff43 17px,#fffb00 19px,#ffa300 22px,#ff9f00 38px,#ffa900 39px,#ffdf00 41px,#ffe300 45px,#ffe900 47px,#ffe700 51px,#fbff04 53px,#ccff33)"></i><i style="background:linear-gradient(90deg,#40ffbf,#40ffbf 6px,#6dff92 9px,#64ff9b 10px,#48ffb7 11px,#41ffbe 13px,#60ff9f 17px,#60ff9f 18px,#84ff7b 19px,#fdff02 21px,#ffb900 22px,#ff9f00 23px,#ff9f00 38px,#ffa800 39px,#ffde00 41px,#ffdf00 45px,#ffed00 47px,#ffe800 50px,#fffa00 52px,#ecff13 53px,#9fff60)"></i><i style="background:linear-gradient(90deg,#00c7ff,#00f5ff 2px,#40ffbf 5px,#40ffbf 12px,#14ffeb 14px,#50ffaf 16px,#53ffac 18px,#60ff9f 19px,#a4ff5b 21px,#fffd00 23px,#ffd400 25px,#ffd000 27px,#ff9f00 29px,#ffa000 38px,#ffde00 41px,#ffe300 46px,#ffec00 48px,#fff600 51px,#f8ff07 52px,#9fff60)"></i><i style="background:linear-gradient(90deg,#000cff,#0058ff 2px,#00b7ff 4px,#00faff 6px,#34ffcb 8px,#40ffbf 10px,#2cffd3 11px,#00edff 12px,#00a5ff 13px,#00b0ff 14px,#03fffc 15px,#40ffbf 16px,#40ffbf 22px,#4bffb4 23px,#dbff24 27px,#ffe700 28px,#ff9f00 29px,#ffa100 37px,#ffdf00 41px,#ffdf00 46px,#fff300 48px,#fcff03 51px,#b9ff46 54px,#ceff31)"></i><i style="background:linear-gradient(90deg,#00009f,#0000aa 2px,#0000e9 3px,#0025ff 4px,#006fff 7px,#008cff 10px,#0079ff 11px,#003fff 12px,#0000df 13px,#0055ff 14px,#00e6ff 15px,#40ffbf 16px,#40ffbf 25px,#55ffaa 26px,#f2ff0d 28px,#ffc600 29px,#ffaa00 32px,#ff9f00 36px,#ffda00 40px,#ffdf00 46px,#ffff00 48px,#ebff14 51px,#c6ff39 53px,#d0ff2f 54px,#fffa00)"></i><i style="background:linear-gradient(90deg,#00009f,#00009f 2px,#0000b0 3px,#0000d5 4px,#0000df 7px,#0000e1 13px,#0009ff 14px,#00afff 15px,#29ffd6 16px,#40ffbf 17px,#40ffbf 26px,#76ff89 27px,#c9ff36 28px,#ffeb00 29px,#ffc700 30px,#ffa200 34px,#ff9f00 36px,#ffdf00 40px,#ffdf00 45px,#fcff03 47px,#e7ff18 49px,#c1ff3e 53px,#ecff13 54px,#ffce00)"></i><i style="background:linear-gradient(90deg,#00009f,#0000a1 3px,#0000c4 5px,#0000d7 9px,#0000d9 12px,#0000eb 13px,#0015ff 14px,#006aff 15px,#00f3ff 16px,#40ffbf 17px,#40ffbf 26px,#59ffa6 27px,#feff01 29px,#ffd200 30px,#ffa400 34px,#ffa600 37px,#ffd600 39px,#ffdf00 43px,#ffe000 45px,#fffb00 46px,#dcff23 49px,#d1ff2e 52px,#dbff24 53px,#ffed00 54px,#ffa600)"></i><i style="background:linear-gradient(90deg,#00009f,#00009f 6px,#0000b4 8px,#0000af 12px,#0000cc 13px,#0010ff 14px,#0022ff 15px,#00c0ff 16px,#30ffcf 17px,#40ffbf 18px,#40ffbf 26px,#4bffb4 27px,#faff05 29px,#ffd900 30px,#ffa900 34px,#ff9f00 37px,#ffd700 39px,#ffdf00 44px,#f4ff0b 46px,#d9ff26 48px,#ecff13 52px,#fffa00 53px,#ffbd00 54px,#ff9f00)"></i><i style="background:linear-gradient(90deg,#00009f,#0000a6 3px,#0000ed 4px,#0051ff 5px,#005fff 6px,#0038ff 7px,#0000ee 8px,#00009f 9px,#00009f 12px,#0000b2 13px,#0036ff 14px,#003bff 15px,#00a2ff 16px,#14ffeb 17px,#40ffbf 18px,#44ffbb 27px,#ffff00 29px,#ffdb00 30px,#ff9f00 36px,#ff9f00 37px,#ffd600 39px,#ffdf00 43px,#ffdf00 44px,#f8ff07 46px,#e7ff18 48px,#fff700 51px,#ffe700 52px,#ff9f00 54px,#ff9e00)"></i><i style="background:linear-gradient(90deg,#0000aa,#0000bf 3px,#00c4ff 4px,#ddff22 5px,#ffd900 6px,#ffff00 7px,#afff50 8px,#2fffd0 9px,#009dff 10px,#003eff 11px,#0056ff 12px,#00d9ff 13px,#00e3ff 14px,#0054ff 15px,#0098ff 16px,#02fffd 17px,#40ffbf 18px,#40ffbf 27px,#feff01 29px,#ffdc00 30px,#ffb100 35px,#ff9f00 36px,#ff9f00 37px,#ffd700 39px,#ffe900 48px,#ffb700 52px,#ff8600)"></i><i style="background:linear-gradient(90deg,#0000b8,#0000c5 2px,#001aff 3px,#a6ff59 4px,#d50000 5px,#a60000 6px,#c80000 7px,#ff2f00 8px,#fffe00 10px,#bbff44 11px,#dbff24 13px,#4effb1 14px,#0060ff 15px,#008aff 16px,#00efff 17px,#3dffc2 18px,#40ffbf 27px,#edff12 29px,#ffdf00 30px,#ffcb00 33px,#ff9f00 36px,#ffa600 37px,#ffda00 39px,#ffdf00 44px,#ffb000 48px,#ffb800 51px,#ffb000 52px,#ff8000 54px,#ff6f00)"></i><i style="background:linear-gradient(90deg,#0000c5,#0000d2 2px,#0092ff 3px,#ffdd00 4px,#9f0000 5px,#9f0000 6px,#b10000 7px,#ff0300 8px,#ff2300 9px,#ff7600 10px,#ffa600 11px,#ffb900 12px,#d0ff2f 13px,#00e4ff 14px,#006dff 15px,#00a5ff 16px,#00f3ff 17px,#31ffce 18px,#40ffbf 19px,#40ffbf 27px,#72ff8d 28px,#c9ff36 29px,#ffe400 30px,#ffd900 32px,#ff9f00 35px,#ff9f00 36px,#ffdf00 39px,#ffdf00 45px,#ffa400 48px,#ff9c00 51px,#ff6900 54px,#ff6000)"></i><i style="background:linear-gradient(90deg,#0000d4,#0000df 2px,#009aff 3px,#ffe200 4px,#9f0000 5px,#9f0000 6px,#c60000 7px,#ff2b00 8px,#ffe600 11px,#b9ff46 12px,#34ffcb 13px,#009bff 14px,#00aeff 15px,#0bfff4 17px,#30ffcf 18px,#40ffbf 19px,#40ffbf 27px,#48ffb7 28px,#f1ff0e 30px,#ffdf00 31px,#ffde00 32px,#ff9f00 35px,#ffa500 36px,#ffd500 38px,#ffdf00 41px,#ffdf00 45px,#ffca00 46px,#ff8400 48px,#ff6000 53px,#ff6000)"></i><i style="background:linear-gradient(90deg,#0000df,#0000df 2px,#0036ff 3px,#a3ff5c 4px,#ff2300 5px,#e80000 6px,#c80000 7px,#ff1300 8px,#ffc300 10px,#d0ff2f 11px,#56ffa9 12px,#00e2ff 13px,#00b5ff 14px,#04fffb 16px,#35ffca 18px,#40ffbf 20px,#40ffbf 28px,#72ff8d 29px,#cbff34 30px,#ffdf00 31px,#ffdf00 32px,#ffab00 34px,#ff9f00 35px,#ffdd00 38px,#ffde00 46px,#ffa000 47px,#ff7500 48px,#ff6000 49px,#ff6000)"></i><i style="background:linear-gradient(90deg,#0000df,#0001ff 2px,#0010ff 3px,#00ecff 4px,#e1ff1e 5px,#ff9500 6px,#ff5900 8px,#ff7900 9px,#ffc200 10px,#c0ff3f 11px,#3affc5 12px,#00e0ff 13px,#00e8ff 14px,#0cfff3 15px,#31ffce 17px,#40ffbf 20px,#40ffbf 28px,#53ffac 29px,#b0ff4f 30px,#ffeb00 31px,#ffc800 33px,#ffa900 34px,#ff9f00 35px,#ffdf00 38px,#ffdf00 46px,#ff8100 48px,#ff6c00 49px,#ff6200)"></i><i style="background:linear-gradient(90deg,#0011ff,#0045ff 3px,#0088ff 4px,#1bffe4 5px,#9eff61 6px,#e6ff19 8px,#fff600 9px,#ecff13 10px,#98ff67 11px,#35ffca 12px,#00fbff 13px,#31ffce 15px,#40ffbf 20px,#44ffbb 29px,#fff100 31px,#ffbd00 34px,#ffb800 35px,#ffde00 38px,#ffdf00 46px,#ffc600 47px,#ff9900 48px,#ff8300 49px,#ff7400 54px,#ff6c00)"></i><i style="background:linear-gradient(90deg,#0044ff,#005eff 1px,#0060ff 3px,#006eff 4px,#00d3ff 5px,#26ffd9 6px,#40ffbf 7px,#40ffbf 9px,#53ffac 10px,#51ffae 11px,#39ffc6 12px,#46ffb9 29px,#fff300 31px,#fff700 32px,#ffd200 34px,#ffdf00 44px,#ffdf00 46px,#ffd300 47px,#ffae00 48px,#ff9800 49px,#ff9000 53px,#ff7b00)"></i><i style="background:linear-gradient(90deg,#0060ff,#0067ff 4px,#00c6ff 5px,#15ffea 6px,#40ffbf 7px,#40ffbf 28px,#54ffab 29px,#fffe00 31px,#f4ff0b 32px,#fff800 33px,#ffdf00 34px,#ffd900 47px,#ffa400 49px,#ff9e00 54px,#ff9000)"></i><i style="background:linear-gradient(90deg,#0062ff,#0083ff 2px,#0086ff 4px,#00cfff 5px,#0dfff2 6px,#37ffc8 7px,#40ffbf 11px,#40ffbf 28px,#6bff94 29px,#baff45 30px,#eeff11 31px,#e8ff17 32px,#fff700 33px,#ffdf00 34px,#ffdc00 47px,#ffac00 49px,#ff9f00 51px,#ff9f00)"></i><i style="background:linear-gradient(90deg,#008cff,#009fff 2px,#00a2ff 4px,#00d8ff 5px,#07fff8 6px,#40ffbf 8px,#40ffbf 27px,#48ffb7 28px,#ceff31 30px,#eeff11 32px,#fff100 33px,#ffdf00 34px,#ffde00 47px,#ffa300 50px,#ff9f00)"></i><i style="background:linear-gradient(90deg,#00b1ff,#00bbff 4px,#06fff9 6px,#35ffca 8px,#40ffbf 10px,#40ffbf 27px,#aeff51 29px,#e6ff19 30px,#dfff20 31px,#f4ff0b 32px,#ffdf00 34px,#ffde00 47px,#ffa500 50px,#ff9f00)"></i><i style="background:linear-gradient(90deg,#00d0ff,#00cdff 3px,#00d7ff 4px,#05fffa 6px,#40ffbf 9px,#40ffbf 26px,#5dffa2 27px,#d0ff2f 29px,#e1ff1e 30px,#e2ff1d 31px,#fcff03 32px,#ffe400 33px,#ffdf00 47px,#ffa500 50px,#ff9f00)"></i><i style="background:linear-gradient(90deg,#00dfff,#00dfff 4px,#01fffe 6px,#40ffbf 9px,#47ffb8 26px,#e2ff1d 29px,#e9ff16 31px,#fff700 32px,#ffe100 33px,#ffdf00 47px,#ffa600 50px,#ff9f00)"></i><i style="background:linear-gradient(90deg,#00dfff,#00dfff 4px,#00f9ff 5px,#40ffbf 9px,#40ffbf 25px,#59ffa6 26px,#cbff34 28px,#dfff20 29px,#dfff20 30px,#f2ff0d 31px,#ffdf00 33px,#ffdf00 47px,#ff9f00 51px,#ff9f00)"></i><i style="background:linear-gradient(90deg,#00e4ff,#00dfff 2px,#00fbff 4px,#32ffcd 7px,#40ffbf 11px,#40ffbf 25px,#6bff94 26px,#dfff20 28px,#e8ff17 30px,#fffa00 31px,#ffe500 32px,#ffd900 48px,#ffa400 51px,#ffac00)"></i><i style="background:linear-gradient(90deg,#01fffe,#09fff6 3px,#37ffc8 6px,#47ffb8 20px,#40ffbf 25px,#80ff7f 26px,#d0ff2f 27px,#f7ff08 28px,#f1ff0e 29px,#ffe800 31px,#ffdf00 35px,#ffdf00 48px,#ffab00 51px,#ffa800 53px,#ffb600)"></i><i style="background:linear-gradient(90deg,#21ffde,#1bffe4 2px,#40ffbf 5px,#45ffba 16px,#66ff99 20px,#40ffbf 25px,#94ff6b 26px,#fdff02 27px,#ffe900 28px,#ffdf00 38px,#ffdf00 48px,#ffad00 51px,#ffa800 53px,#ffb500)"></i><i style="background:linear-gradient(90deg,#40ffbf,#40ffbf 11px,#40ffbf 14px,#7eff81 20px,#6cff93 22px,#7eff81 25px,#bdff42 26px,#ffe400 27px,#ffda00 47px,#ffdf00 48px,#ffa200 52px,#ffb200)"></i><i style="background:linear-gradient(90deg,#40ffbf,#40ffbf 14px,#6aff95 16px,#8eff71 20px,#7cff83 21px,#79ff86 22px,#88ff77 23px,#baff45 25px,#eeff11 26px,#ffdf00 27px,#ffdb00 44px,#ffcd00 47px,#ffd300 48px,#ffa600 51px,#ffb700)"></i><i style="background:linear-gradient(90deg,#40ffbf,#40ffbf 10px,#58ffa7 12px,#42ffbd 14px,#7aff85 16px,#a3ff5c 19px,#9eff61 20px,#87ff78 21px,#84ff7b 22px,#97ff68 23px,#e4ff1b 25px,#fff000 26px,#ffdf00 27px,#ffde00 44px,#ffbc00 47px,#ffc000 52px,#ffc500)"></i><i style="background:linear-gradient(90deg,#40ffbf,#40ffbf 9px,#4affb5 10px,#7aff85 11px,#9aff65 12px,#73ff8c 14px,#7dff82 16px,#c3ff3c 19px,#b7ff48 20px,#9bff64 21px,#95ff6a 22px,#a8ff57 23px,#fff700 25px,#ffdf00 26px,#ffdf00 44px,#ffa400 47px,#ffa600 48px,#ffda00 51px,#ffdd00 54px,#ffd400)"></i><i style="background:linear-gradient(90deg,#40ffbf,#40ffbf 4px,#4cffb3 6px,#40ffbf 9px,#6bff94 10px,#b6ff49 11px,#dfff20 12px,#a3ff5c 15px,#9aff65 17px,#abff54 18px,#ddff22 20px,#bdff42 21px,#b6ff49 22px,#c9ff36 23px,#f9ff06 24px,#ffdf00 25px,#ffdf00 44px,#ff9f00 47px,#ff9f00 48px,#ffdf00 51px,#ffdf00)"></i><i style="background:linear-gradient(90deg,#40ffbf,#4affb5 3px,#7fff80 5px,#9dff62 8px,#89ff76 9px,#aaff55 10px,#dcff23 11px,#e3ff1c 14px,#b9ff46 16px,#b5ff4a 18px,#c1ff3e 19px,#dfff20 20px,#eaff15 22px,#feff01 23px,#ffdf00 25px,#ffdc00 44px,#ff9f00 47px,#ff9f00 48px,#ffd200 50px,#ffdf00 52px,#ffdf00)"></i><i style="background:linear-gradient(90deg,#40ffbf,#40ffbf 1px,#4fffb0 2px,#93ff6c 4px,#9fff60 6px,#c8ff37 7px,#ffea00 8px,#fffc00 9px,#fffe00 11px,#e2ff1d 13px,#e2ff1d 15px,#c8ff37 17px,#ceff31 19px,#e3ff1c 20px,#e8ff17 22px,#feff01 23px,#ffdf00 25px,#ffdf00 43px,#ffb300 46px,#ff9f00 47px,#ffa000 48px,#ffd700 50px,#ffdf00)"></i><i style="background:linear-gradient(90deg,#43ffbc,#9fff60 4px,#a4ff5b 6px,#dbff24 7px,#ffdf00 8px,#ffe700 11px,#f5ff0a 13px,#dfff20 15px,#e7ff18 19px,#ffff00 21px,#ffea00 24px,#ffdf00 29px,#ffde00 43px,#ffb800 46px,#ff9f00 47px,#ff9f00 48px,#ffdc00 50px,#ffdf00)"></i><i style="background:linear-gradient(90deg,#66ff99,#9fff60 3px,#a2ff5d 5px,#c2ff3d 6px,#f5ff0a 7px,#ffdf00 8px,#ffe600 12px,#f4ff0b 14px,#dfff20 17px,#faff05 19px,#ffdf00 21px,#ffdb00 44px,#ffc200 46px,#ffa800 47px,#ff9f00 48px,#ffdd00 50px,#ffdf00)"></i><i style="background:linear-gradient(90deg,#83ff7c,#9dff62 2px,#a2ff5d 5px,#fffc00 7px,#ffdf00 8px,#fff200 9px,#ffdf00 11px,#ffeb00 13px,#f7ff08 15px,#ebff14 17px,#fffc00 19px,#ffdf00 21px,#ffde00 45px,#ff9f00 48px,#ffb300 49px,#ffda00 50px,#ffdf00)"></i><i style="background:linear-gradient(90deg,#99ff66,#a8ff57 5px,#fff600 7px,#ffdf00 8px,#ffef00 9px,#ffdf00 12px,#fff700 17px,#ffdf00 21px,#ffdb00 46px,#ffa000 48px,#ffa700 49px,#ffd100 50px,#ffdf00 52px,#ffdf00)"></i><i style="background:linear-gradient(90deg,#9fff60,#a0ff5f 3px,#b8ff47 5px,#fff200 7px,#ffdf00 8px,#ffdf00 46px,#ffac00 48px,#ff9f00 49px,#ffc700 50px,#ffdf00 51px,#ffdf00)"></i><i style="background:linear-gradient(90deg,#9fff60,#9fff60 2px,#cbff34 5px,#e5ff1a 6px,#ffef00 7px,#ffdf00 8px,#ffdf00 46px,#ffd200 47px,#ffa400 49px,#ffdf00 51px,#ffdf00)"></i><i style="background:linear-gradient(90deg,#9fff60,#a3ff5c 2px,#f3ff0c 6px,#ffdf00 8px,#ffdf00 46px,#ffaa00 49px,#ffbb00 50px,#ffdf00 51px,#ffdf00)"></i><i style="background:linear-gradient(90deg,#9fff60,#a1ff5e 1px,#e4ff1b 4px,#ffff00 6px,#ffdf00 8px,#ffe400 15px,#fdff02 16px,#f8ff07 17px,#ffdf00 19px,#ffdf00 46px,#ffab00 49px,#ffb800 50px,#ffdd00 51px,#ffdf00)"></i><i style="background:linear-gradient(90deg,#abff54,#ebff14 3px,#fff300 6px,#ffdf00 9px,#ffe500 14px,#f8ff07 15px,#c6ff39 16px,#beff41 17px,#f0ff0f 18px,#ffdf00 19px,#ffde00 46px,#ffa900 49px,#ffb300 50px,#ffd700 51px,#ffdf00)"></i><i style="background:linear-gradient(90deg,#e6ff19,#ffff00 1px,#ffdf00 10px,#ffdf00 13px,#fff600 14px,#ceff31 15px,#7dff82 16px,#71ff8e 17px,#c4ff3b 18px,#ffdf00 19px,#ffdb00 46px,#ffa800 49px,#ffaf00 50px,#ffd200 51px,#ffdf00 53px,#ffdf00)"></i><i style="background:linear-gradient(90deg,#ffdf00,#ffe200 13px,#e3ff1c 14px,#80ff7f 15px,#40ffbf 16px,#5dffa2 17px,#c4ff3b 18px,#ffdf00 19px,#ffda00 46px,#ffaa00 49px,#ffae00 50px,#ffce00 51px,#ffdf00 52px,#ffdf00)"></i><i style="background:linear-gradient(90deg,#ffdf00,#ffdf00 12px,#f2ff0d 13px,#4cffb3 15px,#40ffbf 16px,#82ff7d 17px,#e1ff1e 18px,#ffdf00 19px,#ffdd00 46px,#ffb300 49px,#ffb600 50px,#ffdf00 52px,#ffdf00)"></i><i style="background:linear-gradient(90deg,#ffdf00,#ffdf00 11px,#fffe00 12px,#bdff42 13px,#6bff94 14px,#40ffbf 15px,#5affa5 16px,#b4ff4b 17px,#fff000 18px,#ffdf00 19px,#ffdf00 47px,#ffc700 49px,#ffdf00 53px,#ffdf00)"></i><i style="background:linear-gradient(90deg,#ffdf00,#ffe100 10px,#ffff00 11px,#ceff31 12px,#40ffbf 14px,#40ffbf 15px,#e3ff1c 17px,#ffdf00 18px,#ffdf00)"></i><i style="background:linear-gradient(90deg,#ffdf00,#ffdf00 8px,#f4ff0b 10px,#d5ff2a 11px,#a6ff59 12px,#65ff9a 13px,#40ffbf 14px,#53ffac 15px,#fffe00 17px,#ffe400 18px,#ffdf00)"></i><i style="background:linear-gradient(90deg,#ffdf00,#ffe700 5px,#ffdf00 7px,#f4ff0b 9px,#b6ff49 11px,#8aff75 12px,#4effb1 13px,#40ffbf 14px,#60ff9f 15px,#b3ff4c 16px,#e3ff1c 17px,#e2ff1d 19px,#fdff02 21px,#ffdf00 23px,#ffdf00)"></i><i style="background:linear-gradient(90deg,#ffdf00,#ffdf00 3px,#fffa00 5px,#fff100 7px,#fffc00 8px,#a5ff5a 11px,#40ffbf 13px,#40ffbf 14px,#64ff9b 15px,#99ff66 16px,#b3ff4c 17px,#beff41 19px,#fffa00 22px,#ffdf00 23px,#ffdf00)"></i><i style="background:linear-gradient(90deg,#ffdf00,#ffdf00 3px,#f9ff06 5px,#edff12 8px,#9cff63 11px,#43ffbc 13px,#46ffb9 14px,#7cff83 16px,#8cff73 18px,#f2ff0d 22px,#ffdf00 24px,#ffdf00)"></i><i style="background:linear-gradient(90deg,#ffdf00,#ffdf00 3px,#f7ff08 5px,#e4ff1b 8px,#bcff43 10px,#6aff95 12px,#51ffae 13px,#60ff9f 15px,#4fffb0 17px,#5cffa3 18px,#ecff13 23px,#fff200 24px,#ffdf00 25px,#ffdf00)"></i><i style="background:linear-gradient(90deg,#ffdf00,#ffdf00 3px,#fdff02 5px,#d4ff2b 9px,#9bff64 11px,#6cff93 12px,#40ffbf 18px,#43ffbc 19px,#97ff68 22px,#e3ff1c 25px,#ffef00 26px,#ffdf00 27px,#ffdf00)"></i><i style="background:linear-gradient(90deg,#ffdf00,#ffe700 4px,#fffb00 5px,#daff25 9px,#c6ff39 10px,#6fff90 12px,#48ffb7 16px,#44ffbb 22px,#85ff7a 25px,#afff50 26px,#e9ff16 27px,#ffdf00 28px,#ffdf00)"></i><i style="background:linear-gradient(90deg,#ffdf00,#ffe500 4px,#fff900 5px,#dfff20 8px,#dfff20 9px,#ceff31 10px,#a9ff56 11px,#73ff8c 12px,#58ffa7 13px,#40ffbf 19px,#40ffbf 25px,#51ffae 26px,#8cff73 27px,#e1ff1e 28px,#ffe800 29px,#ffdf00 31px,#ffef00 33px,#ffdf00 36px,#ffdf00)"></i><i style="background:linear-gradient(90deg,#ffdf00,#ffe600 4px,#fffd00 5px,#e3ff1c 6px,#d6ff29 10px,#b3ff4c 11px,#77ff88 12px,#4fffb0 13px,#40ffbf 24px,#40ffbf 26px,#4dffb2 27px,#a6ff59 28px,#e8ff17 29px,#fff700 30px,#f6ff09 33px,#fff700 34px,#ffdf00 35px,#ffdf00)"></i><i style="background:linear-gradient(90deg,#ffdf00,#ffe700 4px,#fcff03 5px,#e2ff1d 6px,#e5ff1a 9px,#d5ff2a 10px,#b3ff4c 11px,#48ffb7 13px,#40ffbf 26px,#89ff76 28px,#e0ff1f 30px,#efff10 31px,#e0ff1f 33px,#fff900 35px,#ffdf00 36px,#ffdf00)"></i><i style="background:linear-gradient(90deg,#ffdf00,#ffe600 4px,#feff01 5px,#e3ff1c 6px,#e8ff17 8px,#a2ff5d 11px,#4affb5 13px,#40ffbf 16px,#40ffbf 25px,#6bff94 27px,#95ff6a 28px,#dbff24 31px,#dfff20 32px,#a5ff5a 34px,#c6ff39 35px,#ffdf00 36px,#ffdf00)"></i><i style="background:linear-gradient(90deg,#ffdf00,#ffe500 4px,#fffa00 5px,#f1ff0e 6px,#f6ff09 7px,#9bff64 10px,#59ffa6 13px,#40ffbf 17px,#42ffbd 25px,#63ff9c 27px,#b5ff4a 30px,#bdff42 31px,#a8ff57 32px,#66ff99 34px,#9eff61 35px,#f0ff0f 36px,#ffdf00 37px,#ffdf00)"></i><i style="background:linear-gradient(90deg,#ffdf00,#ffe300 4px,#fffb00 6px,#fffa00 7px,#92ff6d 9px,#63ff9c 11px,#61ff9e 13px,#7bff84 15px,#76ff89 16px,#4dffb2 17px,#40ffbf 19px,#40ffbf 26px,#7cff83 30px,#64ff9b 32px,#4affb5 33px,#59ffa6 34px,#93ff6c 35px,#ddff22 36px,#ffdf00 37px,#ffdf00)"></i><i style="background:linear-gradient(90deg,#ffdf00,#ffe500 6px,#fff900 7px,#b5ff4a 8px,#7fff80 9px,#61ff9e 10px,#55ffaa 12px,#91ff6e 15px,#91ff6e 16px,#40ffbf 18px,#44ffbb 23px,#52ffad 24px,#40ffbf 27px,#40ffbf 32px,#51ffae 33px,#a3ff5c 35px,#deff21 36px,#ffe700 37px,#ffdf00 45px,#ffdf00)"></i><i style="background:linear-gradient(90deg,#ffdf00,#ffdf00 6px,#fffd00 7px,#b9ff46 8px,#87ff78 9px,#6aff95 10px,#5bffa4 12px,#91ff6e 15px,#90ff6f 16px,#40ffbf 18px,#40ffbf 22px,#4bffb4 23px,#6fff90 24px,#7aff85 25px,#6fff90 26px,#40ffbf 28px,#40ffbf 30px,#4cffb3 31px,#f0ff0f 36px,#ffe200 37px,#ffdf00)"></i><i style="background:linear-gradient(90deg,#ffdf00,#ffeb00 6px,#fbff04 7px,#c1ff3e 8px,#82ff7d 10px,#6bff94 12px,#84ff7b 15px,#7dff82 16px,#4fffb0 17px,#40ffbf 18px,#48ffb7 23px,#86ff79 24px,#b0ff4f 25px,#b1ff4e 26px,#6bff94 28px,#5effa1 29px,#d5ff2a 33px,#f9ff06 35px,#ffdf00 37px,#ffdf00)"></i><i style="background:linear-gradient(90deg,#ffea00,#ffdf00 2px,#fffd00 4px,#f7ff08 7px,#b1ff4e 9px,#7dff82 12px,#77ff88 15px,#67ff98 16px,#40ffbf 17px,#40ffbf 23px,#bcff43 25px,#dfff20 26px,#97ff68 28px,#98ff67 29px,#cbff34 31px,#fffc00 33px,#ffdf00 36px,#ffdf00)"></i><i style="background:linear-gradient(90deg,#c8ff37,#e9ff16 1px,#f1ff0e 3px,#e5ff1a 7px,#7eff81 13px,#6eff91 15px,#40ffbf 17px,#40ffbf 23px,#60ff9f 24px,#dfff20 26px,#dfff20 27px,#c6ff39 28px,#c2ff3d 29px,#fff700 32px,#ffdf00 34px,#ffdf00)"></i><i style="background:linear-gradient(90deg,#66ff99,#98ff67 1px,#ceff31 3px,#e0ff1f 6px,#d7ff28 9px,#7fff80 13px,#54ffab 16px,#40ffbf 17px,#48ffb7 24px,#72ff8d 25px,#beff41 26px,#dfff20 27px,#e7ff18 30px,#fff500 32px,#ffe200 33px,#ffdf00)"></i><i style="background:linear-gradient(90deg,#40ffbf,#40ffbf 1px,#abff54 3px,#dfff20 6px,#dfff20 9px,#72ff8d 13px,#40ffbf 17px,#40ffbf 18px,#5bffa4 19px,#56ffa9 20px,#40ffbf 21px,#40ffbf 24px,#4dffb2 25px,#b2ff4d 27px,#d0ff2f 28px,#d4ff2b 30px,#e1ff1e 31px,#fdff02 32px,#ffe400 33px,#ffdf00)"></i><i style="background:linear-gradient(90deg,#40ffbf,#40ffbf 1px,#a1ff5e 3px,#d6ff29 5px,#f1ff0e 8px,#eeff11 9px,#ccff33 10px,#99ff66 11px,#59ffa6 13px,#40ffbf 15px,#40ffbf 17px,#60ff9f 18px,#96ff69 19px,#40ffbf 21px,#48ffb7 26px,#86ff79 28px,#91ff6e 30px,#a5ff5a 31px,#daff25 32px,#fff300 33px,#ffdf00 34px,#ffdf00)"></i><i style="background:linear-gradient(90deg,#40ffbf,#47ffb8 1px,#8dff72 2px,#b7ff48 3px,#f7ff08 6px,#fffe00 9px,#e0ff1f 10px,#a9ff56 11px,#5bffa4 12px,#40ffbf 13px,#40ffbf 16px,#5cffa3 17px,#afff50 18px,#b8ff47 19px,#63ff9c 20px,#40ffbf 21px,#46ffb9 29px,#5cffa3 31px,#e7ff18 33px,#ffe700 34px,#ffdf00 42px,#ffdf00)"></i><i style="background:linear-gradient(90deg,#40ffbf,#54ffab 1px,#a3ff5c 2px,#d0ff2f 3px,#ffff00 5px,#ffe500 8px,#ffe800 9px,#fffd00 10px,#d2ff2d 11px,#89ff76 12px,#58ffa7 13px,#40ffbf 14px,#44ffbb 15px,#70ff8f 16px,#b0ff4f 17px,#d7ff28 18px,#aaff55 19px,#50ffaf 20px,#40ffbf 21px,#40ffbf 31px,#4dffb2 32px,#a8ff57 33px,#eeff11 34px,#ffdf00 35px,#ffdf00)"></i><i style="background:linear-gradient(90deg,#40ffbf,#47ffb8 1px,#9dff62 2px,#d2ff2d 3px,#f3ff0c 4px,#ffdf00 6px,#ffdf00 10px,#ffef00 11px,#dcff23 12px,#91ff6e 14px,#92ff6d 15px,#d4ff2b 17px,#bbff44 18px,#8bff74 19px,#46ffb9 20px,#40ffbf 32px,#55ffaa 33px,#acff53 34px,#f4ff0b 35px,#ffdf00 36px,#ffdf00)"></i><i style="background:linear-gradient(90deg,#40ffbf,#40ffbf 1px,#baff45 3px,#e5ff1a 4px,#fffd00 5px,#ffe100 6px,#ffdf00 12px,#fffa00 13px,#cfff30 14px,#adff52 17px,#b4ff4b 18px,#a8ff57 19px,#7cff83 20px,#5cffa3 22px,#59ffa6 23px,#42ffbd 24px,#40ffbf 33px,#6cff93 34px,#fffa00 36px,#ffdf00 37px,#ffe600 50px,#fffd00 51px,#ffdf00 52px,#ffdf00)"></i><i style="background:linear-gradient(90deg,#49ffb6,#43ffbc 2px,#8aff75 3px,#ebff14 5px,#ffe700 6px,#ffdf00 12px,#fff000 13px,#dbff24 14px,#b9ff46 15px,#beff41 16px,#e5ff1a 18px,#e3ff1c 19px,#a2ff5d 21px,#8bff74 23px,#40ffbf 25px,#55ffaa 28px,#41ffbe 29px,#40ffbf 33px,#55ffaa 34px,#dfff20 36px,#ffdf00 37px,#ffe300 46px,#fdff02 48px,#ddff22 49px,#cfff30 50px,#e5ff1a 51px,#ffdf00 52px,#ffdf00)"></i><i style="background:linear-gradient(90deg,#bcff43,#5bffa4 2px,#5cffa3 3px,#e3ff1c 5px,#ffea00 6px,#ffdf00 8px,#ffdf00 12px,#ffea00 13px,#f0ff0f 14px,#e5ff1a 15px,#fff300 17px,#ffe000 18px,#ffdf00 19px,#f1ff0e 21px,#e6ff19 23px,#a3ff5c 24px,#41ffbe 25px,#4cffb3 26px,#92ff6d 28px,#90ff6f 29px,#40ffbf 31px,#40ffbf 33px,#58ffa7 34px,#d3ff2c 36px,#ffe800 37px,#ffdf00 41px,#ffdf00 44px,#fffc00 45px,#aaff55 47px,#8eff71 49px,#a8ff57 50px,#e3ff1c 51px,#ffdf00 52px,#ffdf00)"></i><i style="background:linear-gradient(90deg,#ffb400,#ffef00 1px,#d9ff26 2px,#b4ff4b 3px,#c9ff36 4px,#f6ff09 5px,#ffe600 6px,#ffe400 13px,#fff500 14px,#fff400 15px,#ffdf00 17px,#ffe300 23px,#c2ff3d 24px,#6bff94 25px,#59ffa6 26px,#7cff83 27px,#b4ff4b 28px,#c5ff3a 29px,#a8ff57 30px,#5fffa0 31px,#40ffbf 32px,#44ffbb 33px,#a4ff5b 35px,#e0ff1f 36px,#ffe100 37px,#ffe100 44px,#d1ff2e 45px,#7bff84 46px,#40ffbf 47px,#40ffbf 48px,#e9ff16 51px,#ffec00 52px,#ffdf00 54px,#ffdf00)"></i><i style="background:linear-gradient(90deg,#ff8000,#ff8000 1px,#ff9400 2px,#ffc400 3px,#ffd800 4px,#ffd000 6px,#ffdf00 7px,#ffe300 23px,#d3ff2c 24px,#88ff77 25px,#60ff9f 26px,#6dff92 27px,#b0ff4f 28px,#e0ff1f 29px,#ceff31 30px,#4affb5 32px,#64ff9b 33px,#ffff00 36px,#ffdf00 37px,#ffdf00 43px,#edff12 44px,#4affb5 46px,#43ffbc 47px,#6fff90 48px,#b2ff4d 49px,#e1ff1e 50px,#ffff00 51px,#ffe100 53px,#ffdf00)"></i><i style="background:linear-gradient(90deg,#ff4e00,#ff8000 2px,#ff8000 4px,#ffd800 7px,#ffdf00 22px,#fff200 23px,#d7ff28 24px,#94ff6b 25px,#60ff9f 26px,#61ff9e 27px,#eaff15 29px,#dcff23 30px,#9fff60 31px,#7dff82 32px,#91ff6e 33px,#f6ff09 35px,#ffdf00 36px,#ffdf00 42px,#fff300 43px,#baff45 44px,#84ff7b 45px,#89ff76 46px,#dfff20 48px,#fdff02 49px,#ffe000 53px,#ffdf00)"></i><i style="background:linear-gradient(90deg,#ff0100,#ff8c00 6px,#ffc600 8px,#ffdf00 12px,#ffdf00 21px,#fbff04 23px,#b4ff4b 25px,#81ff7e 27px,#a5ff5a 28px,#edff12 29px,#e3ff1c 30px,#acff53 31px,#adff52 32px,#ffff00 34px,#ffdf00 35px,#ffdf00 42px,#ecff13 43px,#c0ff3f 44px,#bbff44 45px,#eaff15 46px,#ffe800 47px,#ffdf00 51px,#ffdf00)"></i><i style="background:linear-gradient(90deg,#df0000,#df0000 2px,#ff0400 4px,#ff1100 5px,#ffa700 8px,#ffdc00 11px,#ffe200 21px,#fff800 22px,#e7ff18 25px,#a5ff5a 27px,#aeff51 28px,#fbff04 29px,#f1ff0e 30px,#c8ff37 31px,#fffa00 33px,#ffdf00 34px,#ffe500 42px,#fdff02 43px,#f6ff09 44px,#ffdf00 46px,#ffdf00)"></i><i style="background:linear-gradient(90deg,#df0000,#df0000 5px,#f60000 6px,#ff3400 7px,#ff7c00 8px,#ffa800 9px,#ffd700 11px,#ffdf00 19px,#ffe000 21px,#fff500 23px,#fff200 25px,#f6ff09 26px,#c9ff36 27px,#cfff30 28px,#ffe500 29px,#f9ff06 31px,#ffdf00 33px,#ffdf00 36px,#f9ff06 38px,#fff800 39px,#ffdf00 40px,#ffdf00)"></i><i style="background:linear-gradient(90deg,#df0000,#df0000 6px,#ff1200 7px,#ffa200 9px,#ffb100 10px,#ffd100 11px,#ffdf00 13px,#ffe300 24px,#ffdf00 25px,#fff300 26px,#e4ff1b 27px,#f4ff0b 28px,#ffdf00 29px,#ffdf00 34px,#fff800 35px,#9aff65 37px,#85ff7a 38px,#93ff6c 39px,#e3ff1c 41px,#fffc00 42px,#ffdf00 47px,#ffdf00)"></i><i style="background:linear-gradient(90deg,#df0000,#df0000 6px,#f50000 7px,#ff4500 8px,#ffa000 9px,#ffaa00 10px,#ffdf00 12px,#ffdf00 25px,#f2ff0d 27px,#ffdf00 29px,#ffe400 32px,#f8ff07 33px,#5bffa4 36px,#40ffbf 37px,#40ffbf 39px,#4dffb2 40px,#aeff51 43px,#e3ff1c 45px,#ffee00 46px,#ffdf00 47px,#ffdf00)"></i><i style="background:linear-gradient(90deg,#df0000,#df0000 7px,#ff3300 8px,#ff9700 9px,#ffa400 10px,#ffdf00 12px,#ffe300 24px,#f5ff0a 26px,#f7ff08 27px,#ffdf00 28px,#ffe900 29px,#edff12 30px,#55ffaa 34px,#40ffbf 35px,#42ffbd 43px,#5fffa0 44px,#d0ff2f 46px,#ffea00 47px,#ffe100 48px,#fff700 49px,#ffef00 51px,#ffdf00 54px,#ffdf00)"></i><i style="background:linear-gradient(90deg,#df0000,#df0000 7px,#ff2900 8px,#ff8e00 9px,#ff9f00 10px,#ffdf00 12px,#ffe000 23px,#ffe800 24px,#fbff04 25px,#e1ff1e 26px,#f8ff07 27px,#ffdf00 28px,#fff600 29px,#5fffa0 31px,#40ffbf 32px,#40ffbf 44px,#5cffa3 45px,#ceff31 47px,#ecff13 48px,#dbff24 49px,#e0ff1f 50px,#f8ff07 51px,#ffea00 53px,#ffe300)"></i><i style="background:linear-gradient(90deg,#ec0000,#df0000 4px,#df0000 7px,#ff2c00 8px,#ff8c00 9px,#ff9f00 10px,#ffdf00 12px,#ffdf00 23px,#f2ff0d 25px,#dbff24 26px,#faff05 27px,#ffdf00 28px,#ffeb00 29px,#b1ff4e 30px,#6fff90 31px,#4dffb2 32px,#45ffba 34px,#40ffbf 45px,#bdff42 48px,#cdff32 50px,#f0ff0f 51px,#fff300 52px,#fff000)"></i><i style="background:linear-gradient(90deg,#f70000,#df0000 5px,#df0000 6px,#fb0000 7px,#ff3e00 8px,#ff9200 9px,#ff9f00 10px,#ffdf00 12px,#ffdf00 24px,#fdff02 25px,#e8ff17 26px,#fffd00 27px,#ffe100 28px,#ffdf00 29px,#e6ff19 30px,#b2ff4d 31px,#96ff69 33px,#8dff72 34px,#4bffb4 36px,#40ffbf 45px,#56ffa9 46px,#a1ff5e 48px,#abff54 49px,#f4ff0b 51px,#fff300 53px,#fffb00)"></i><i style="background:linear-gradient(90deg,#ff0700,#ff0b00 1px,#ff2500 2px,#ff2900 4px,#ff1400 6px,#ff2800 7px,#ff5a00 8px,#ff9e00 9px,#ff9f00 10px,#ffda00 12px,#ffdd00 18px,#ffcd00 21px,#ffdf00 24px,#ffdf00 25px,#fffb00 26px,#ffdf00 28px,#ffdd00 30px,#fffe00 31px,#d5ff2a 34px,#aeff51 35px,#6eff91 36px,#4dffb2 37px,#40ffbf 45px,#6bff94 47px,#87ff78 48px,#94ff6b 49px,#faff05 51px,#fff900 53px,#f7ff08)"></i><i style="background:linear-gradient(90deg,#ff2600,#ff6900 2px,#ff7c00 4px,#ff6f00 7px,#ff9f00 9px,#ff9f00 10px,#ffd000 12px,#ffda00 13px,#ffb800 21px,#ffc900 23px,#ffdc00 24px,#ffdf00 29px,#ffca00 31px,#ffdf00 33px,#fffa00 34px,#d0ff2f 35px,#80ff7f 36px,#4dffb2 37px,#40ffbf 45px,#60ff9f 48px,#83ff7c 49px,#cbff34 50px,#f7ff08 51px,#f0ff0f 54px,#e7ff18)"></i><i style="background:linear-gradient(90deg,#ff5800,#ff9100 2px,#ff9f00 10px,#ffb700 13px,#ffa400 22px,#ffdf00 25px,#ffdf00 29px,#ffbf00 32px,#ffc400 33px,#ffeb00 34px,#d3ff2c 35px,#78ff87 36px,#4fffb0 37px,#40ffbf 42px,#4dffb2 46px,#60ff9f 48px,#8bff74 49px,#c7ff38 50px,#e5ff1a 51px,#dfff20)"></i><i style="background:linear-gradient(90deg,#ff8100,#ff9a00 4px,#ffa400 12px,#ff9f00 23px,#ffdf00 26px,#ffdf00 29px,#ffbc00 32px,#ffc700 33px,#fffa00 34px,#bbff44 35px,#58ffa7 36px,#40ffbf 40px,#48ffb7 45px,#5dffa2 48px,#d0ff2f 50px,#dfff20 51px,#dcff23)"></i><i style="background:linear-gradient(90deg,#ff8000,#ff9f00 6px,#ffa100 15px,#ffb300 18px,#ffa900 22px,#ff9f00 24px,#ffd900 27px,#ffd500 29px,#ffb600 32px,#ffe000 33px,#deff21 34px,#8cff73 35px,#54ffab 36px,#40ffbf 39px,#4fffb0 42px,#51ffae 46px,#56ffa9 48px,#baff45 50px,#d3ff2c 51px,#c4ff3b)"></i><i style="background:linear-gradient(90deg,#ff8000,#ff9f00 6px,#ff9f00 15px,#ffd100 18px,#ffb100 23px,#ffa000 24px,#ffaa00 26px,#ffc100 28px,#ffb000 31px,#ffc300 32px,#feff01 33px,#59ffa6 35px,#4fffb0 37px,#40ffbf 38px,#59ffa6 42px,#52ffad 48px,#afff50 51px,#baff45 52px,#b0ff4f)"></i><i style="background:linear-gradient(90deg,#ff8000,#ff9f00 6px,#ff9f00 15px,#ffc400 17px,#ffdf00 18px,#ffc800 23px,#ff9f00 26px,#ff9f00 31px,#ffcc00 32px,#e5ff1a 33px,#86ff79 34px,#60ff9f 35px,#40ffbf 38px,#5effa1 41px,#4effb1 48px,#9bff64 53px,#a2ff5d)"></i><i style="background:linear-gradient(90deg,#ff8000,#ff9200 3px,#ff9f00 7px,#ffa300 16px,#ffda00 18px,#ffda00 23px,#ff9f00 29px,#ff9f00 31px,#ffce00 32px,#d6ff29 33px,#69ff96 34px,#42ffbd 37px,#4affb5 39px,#60ff9f 42px,#49ffb6 48px,#78ff87 53px,#9fff60)"></i><i style="background:linear-gradient(90deg,#ff8000,#ff9200 3px,#ff9f00 5px,#ff9f00 16px,#ffb100 17px,#ffd200 18px,#ffdf00 20px,#ffde00 26px,#ffb900 31px,#ffd700 32px,#cfff30 33px,#60ff9f 34px,#40ffbf 37px,#5cffa3 44px,#47ffb8 48px,#5fffa0 51px,#6cff93 53px,#9eff61)"></i><i style="background:linear-gradient(90deg,#ff8000,#ff8400 2px,#ff9f00 4px,#ffa600 17px,#ffdf00 19px,#ffdb00 30px,#ffd600 31px,#ffe400 32px,#ccff33 33px,#65ff9a 34px,#4affb5 35px,#40ffbf 39px,#53ffac 44px,#41ffbe 47px,#6bff94 49px,#72ff8d 53px,#9eff61)"></i><i style="background:linear-gradient(90deg,#ff8600,#ff8500 2px,#ff9f00 4px,#ff9f00 17px,#ffdf00 19px,#ffe500 32px,#d5ff2a 33px,#7cff83 34px,#40ffbf 35px,#40ffbf 46px,#70ff8f 48px,#71ff8e 51px,#9fff60)"></i><i style="background:linear-gradient(90deg,#ff8c00,#ff8e00 3px,#ff9f00 7px,#ff9f00 17px,#ffd900 19px,#ffea00 26px,#fffc00 29px,#ffeb00 32px,#e5ff1a 33px,#a2ff5d 34px,#50ffaf 35px,#31ffce 38px,#40ffbf 42px,#40ffbf 45px,#36ffc9 46px,#65ff9a 49px,#78ff87 51px,#91ff6e 52px,#9fff60)"></i><i style="background:linear-gradient(90deg,#ff9000,#ffa300 17px,#ffd600 19px,#ffdf00 23px,#ffdf00 25px,#fdff02 27px,#e6ff19 29px,#f8ff07 32px,#dfff20 33px,#84ff7b 35px,#4dffb2 36px,#26ffd9 40px,#28ffd7 43px,#13ffec 46px,#53ffac 49px,#7bff84 51px,#9bff64 52px,#9fff60)"></i><i style="background:linear-gradient(90deg,#ff9200,#ff9700 8px,#ffa300 16px,#ffd800 19px,#ffe200 25px,#fff900 26px,#dfff20 29px,#dbff24 32px,#bfff40 34px,#40ffbf 38px,#40ffbf 39px,#04fffb 42px,#00efff 46px,#04fffb 47px,#9dff62 52px,#9fff60)"></i><i style="background:linear-gradient(90deg,#ff9300,#ff8900 6px,#ff9f00 12px,#ffb800 17px,#ffc900 18px,#f5ff0a 20px,#a9ff56 25px,#a4ff5b 27px,#adff52 28px,#dfff20 30px,#baff45 32px,#a9ff56 36px,#95ff6a 37px,#72ff8d 38px,#40ffbf 39px,#40ffbf 40px,#15ffea 41px,#00dfff 42px,#00dfff 47px,#00fdff 48px,#89ff76 52px,#9fff60 53px,#9fff60)"></i><i style="background:linear-gradient(90deg,#ff9500,#ff9200 4px,#ff8300 6px,#ff9f00 11px,#ffa700 14px,#ffc000 17px,#ffe600 18px,#d0ff2f 19px,#7fff80 21px,#68ff97 22px,#60ff9f 27px,#b6ff49 30px,#9eff61 33px,#b3ff4c 36px,#a9ff56 37px,#8bff74 38px,#56ffa9 39px,#1dffe2 41px,#00e3ff 42px,#00c9ff 44px,#00bbff 45px,#00dfff 47px,#00edff 49px,#16ffe9 50px,#70ff8f 53px,#7fff80 54px,#7fff80)"></i><i style="background:linear-gradient(90deg,#ff9800,#ff9800 4px,#ff8000 6px,#ff9f00 11px,#ffa500 14px,#ffb700 16px,#ffdb00 17px,#d6ff29 18px,#83ff7c 19px,#60ff9f 20px,#60ff9f 28px,#90ff6f 30px,#9bff64 31px,#85ff7a 33px,#a1ff5e 36px,#9bff64 37px,#7fff80 38px,#4cffb3 39px,#40ffbf 40px,#16ffe9 41px,#00d4ff 42px,#00c0ff 43px,#0066ff 45px,#0075ff 46px,#00cdff 48px,#00dfff 49px,#00edff 51px,#09fff6 52px,#20ffdf 54px,#17ffe8)"></i><i style="background:linear-gradient(90deg,#ff9e00,#ff9f00 4px,#ff8000 6px,#ffa800 14px,#ffb900 15px,#ffd900 16px,#e6ff19 17px,#7fff80 18px,#60ff9f 19px,#5fffa0 29px,#8cff73 31px,#77ff88 34px,#7dff82 36px,#56ffa9 38px,#38ffc7 40px,#00feff 41px,#00c3ff 42px,#009fff 43px,#0051ff 44px,#0020ff 45px,#0020ff 46px,#003bff 47px,#00a7ff 49px,#00d2ff 50px,#00dfff 52px,#00dfff)"></i><i style="background:linear-gradient(90deg,#ff9f00,#ff9800 5px,#ff8700 7px,#ffb800 14px,#f1ff0e 16px,#9cff63 17px,#60ff9f 18px,#62ff9d 30px,#85ff7a 31px,#8fff70 32px,#40ffbf 37px,#40ffbf 39px,#1affe5 40px,#00e1ff 41px,#004dff 44px,#0026ff 45px,#0020ff 48px,#0046ff 49px,#0080ff 50px,#00a9ff 51px,#00bdff 52px,#00b7ff 54px,#00abff)"></i><i style="background:linear-gradient(90deg,#ffa100,#ffb600 5px,#ffa700 8px,#ffd000 14px,#fffd00 15px,#8bff74 17px,#60ff9f 18px,#60ff9f 30px,#91ff6e 32px,#84ff7b 33px,#46ffb9 35px,#37ffc8 38px,#00f5ff 40px,#00c3ff 41px,#0084ff 43px,#002eff 45px,#0017ff 46px,#002bff 50px,#0060ff 51px,#0080ff 52px,#006bff)"></i><i style="background:linear-gradient(90deg,#ffba00,#ffd500 5px,#ffd600 10px,#ffdf00 14px,#f8ff07 15px,#76ff89 17px,#60ff9f 18px,#65ff9a 31px,#83ff7c 32px,#79ff86 33px,#40ffbf 35px,#40ffbf 36px,#08fff7 38px,#00ccff 40px,#00aaff 41px,#0090ff 43px,#0036ff 45px,#001fff 46px,#0017ff 49px,#0020ff 50px,#0060ff 52px,#0060ff)"></i><i style="background:linear-gradient(90deg,#ffda00,#ffe600 14px,#f2ff0d 15px,#69ff96 17px,#60ff9f 21px,#5affa5 33px,#40ffbf 35px,#3effc1 36px,#08fff7 37px,#00a8ff 40px,#0098ff 43px,#003bff 45px,#0017ff 47px,#0005ff 49px,#000bff 50px,#0051ff 52px,#0058ff)"></i><i style="background:linear-gradient(90deg,#ffdf00,#ffe000 9px,#ffff00 12px,#feff01 14px,#eaff15 15px,#65ff9a 17px,#60ff9f 32px,#39ffc6 35px,#23ffdc 36px,#00e2ff 37px,#00b6ff 38px,#0091ff 40px,#006fff 43px,#001bff 46px,#0000f9 49px,#0000f2 50px,#0002ff 51px,#0028ff 52px,#003fff 53px,#0049ff)"></i><i style="background:linear-gradient(90deg,#ffdf00,#ffdf00 9px,#fcff03 11px,#e2ff1d 13px,#e1ff1e 15px,#64ff9b 17px,#5dffa2 32px,#01fffe 36px,#00baff 37px,#0084ff 38px,#0061ff 39px,#0032ff 44px,#000dff 46px,#0000fc 48px,#0000df 50px,#0000df 51px,#0000fc 52px,#0022ff 53px,#003bff)"></i><i style="background:linear-gradient(90deg,#ffdf00,#ffe600 10px,#f8ff07 12px,#dfff20 14px,#dfff20 15px,#64ff9b 17px,#60ff9f 31px,#35ffca 33px,#00f9ff 35px,#00f0ff 36px,#0068ff 38px,#0039ff 39px,#0020ff 40px,#001bff 45px,#0000fe 48px,#0000e1 50px,#0000eb 52px,#0007ff 53px,#0020ff 54px,#002aff)"></i><i style="background:linear-gradient(90deg,#ffdf00,#ffdf00 10px,#fffe00 13px,#ecff13 15px,#61ff9e 17px,#5affa5 31px,#04fffb 34px,#00e0ff 35px,#00e2ff 36px,#006dff 38px,#0046ff 39px,#0020ff 41px,#001aff 45px,#0000fd 47px,#0000cf 50px,#0000ce 51px,#0000ec 52px,#0023ff 53px,#001aff 54px,#0020ff)"></i><i style="background:linear-gradient(90deg,#ffdf00,#ffe600 12px,#fff900 15px,#60ff9f 17px,#5affa5 31px,#0cfff3 34px,#00e3ff 35px,#00dfff 36px,#00c2ff 37px,#0062ff 39px,#0020ff 41px,#0012ff 43px,#0000fd 46px,#0000b4 50px,#0000b2 51px,#004dff 52px,#00efff 53px,#2effd1 54px,#00b8ff)"></i><i style="background:linear-gradient(90deg,#ffdf00,#ffdf00 14px,#fff100 15px,#60ff9f 17px,#57ffa8 28px,#48ffb7 32px,#14ffeb 34px,#00efff 35px,#00ddff 37px,#004dff 40px,#0008ff 42px,#0000fe 45px,#0000d6 47px,#00009f 49px,#00009f 50px,#005cff 51px,#7dff82 52px,#ff7500 53px,#ff5f00 54px,#ffd700)"></i><i style="background:linear-gradient(90deg,#ffdf00,#ffdf00 14px,#feff01 15px,#a1ff5e 16px,#60ff9f 17px,#5dffa2 27px,#45ffba 31px,#46ffb9 32px,#16ffe9 34px,#00f3ff 35px,#00dfff 36px,#00dfff 37px,#008aff 39px,#002dff 41px,#0009ff 42px,#0000f0 45px,#0000ab 48px,#00009f 49px,#002bff 50px,#4effb1 51px,#ff9c00 52px,#ff3000 53px,#ff2000 54px,#ff2000)"></i><i style="background:linear-gradient(90deg,#ffdf00,#ffe600 13px,#ffe900 14px,#eaff15 15px,#97ff68 16px,#60ff9f 17px,#5cffa3 28px,#31ffce 33px,#11ffee 34px,#00efff 35px,#00dfff 36px,#00dfff 37px,#00bfff 38px,#0025ff 41px,#0000fd 42px,#0000eb 43px,#0000d7 46px,#0000a1 48px,#00009f 49px,#007bff 50px,#27ffd8 51px,#67ff98 52px,#baff45 53px,#ffc300 54px,#ff3800)"></i><i style="background:linear-gradient(90deg,#ffdf00,#ffe300 10px,#fffd00 14px,#d8ff27 15px,#94ff6b 16px,#63ff9c 17px,#5dffa2 28px,#40ffbf 32px,#2fffd0 33px,#0afff5 34px,#00e6ff 35px,#00dfff 37px,#000eff 41px,#0000e4 42px,#0000df 45px,#0000b8 47px,#00009f 48px,#0000d4 49px,#0045ff 50px,#007dff 51px,#009dff 52px,#00faff 53px,#88ff77 54px,#ffdd00)"></i><i style="background:linear-gradient(90deg,#ffdf00,#ffe000 9px,#f7ff08 13px,#f2ff0d 14px,#cdff32 15px,#96ff69 16px,#6fff90 17px,#60ff9f 18px,#59ffa6 28px,#40ffbf 32px,#00ffff 34px,#00dfff 35px,#00dfff 36px,#00ceff 37px,#0022ff 40px,#0000ec 41px,#0000df 43px,#0000df 45px,#00009f 48px,#0000fc 50px,#0004ff 51px,#0023ff 52px,#0082ff 53px,#14ffeb 54px,#b4ff4b)"></i><i style="background:linear-gradient(90deg,#ffdf00,#ffe000 9px,#fffe00 11px,#e6ff19 14px,#76ff89 17px,#63ff9c 18px,#55ffaa 27px,#40ffbf 32px,#00f5ff 34px,#00dfff 35px,#00dfff 36px,#00bcff 37px,#0000fe 40px,#0000df 41px,#0000d6 45px,#00009f 48px,#0000de 51px,#0000df 52px,#0031ff 53px,#00beff 54px,#59ffa6)"></i><i style="background:linear-gradient(90deg,#ffdf00,#ffdf00 9px,#f3ff0c 11px,#d9ff26 13px,#d8ff27 14px,#79ff86 17px,#60ff9f 19px,#60ff9f 24px,#35ffca 32px,#13ffec 33px,#00f0ff 34px,#00dfff 35px,#00dfff 36px,#00baff 37px,#0031ff 39px,#0000e1 40px,#0000cb 45px,#00009f 48px,#0000a6 49px,#0000df 52px,#0000e2 53px,#0069ff 54px,#00f6ff)"></i><i style="background:linear-gradient(90deg,#ffdf00,#ffdf00 9px,#fffb00 10px,#c5ff3a 12px,#c5ff3a 14px,#79ff86 17px,#60ff9f 19px,#5effa1 24px,#40ffbf 29px,#40ffbf 31px,#0dfff2 33px,#00dfff 35px,#00dfff 36px,#00c9ff 37px,#002dff 39px,#0000df 40px,#0000d4 42px,#0000ab 47px,#00009f 49px,#0000d4 52px,#0000f4 54px,#0073ff)"></i><i style="background:linear-gradient(90deg,#ffdf00,#ffdf00 9px,#fcff03 10px,#aaff55 12px,#adff52 14px,#7aff85 17px,#60ff9f 19px,#5dffa2 24px,#40ffbf 29px,#40ffbf 31px,#0cfff3 33px,#00deff 35px,#00dfff 37px,#0091ff 38px,#0032ff 39px,#0000df 40px,#0000df 41px,#0000bc 43px,#0000ac 47px,#00009f 49px,#0000df 54px,#0000df)"></i><i style="background:linear-gradient(90deg,#ffdf00,#ffe200 9px,#fcff03 10px,#afff50 12px,#9fff60 13px,#93ff6c 15px,#60ff9f 19px,#5cffa3 24px,#3dffc2 31px,#06fff9 33px,#00ceff 35px,#00c7ff 37px,#008eff 38px,#0034ff 39px,#0000df 40px,#0000dc 41px,#0000b4 43px,#0000a1 50px,#0000df)"></i><i style="background:linear-gradient(90deg,#ffdf00,#ffdf00 8px,#feff01 10px,#9fff60 13px,#9bff64 15px,#60ff9f 19px,#5affa5 24px,#39ffc6 31px,#00f6ff 33px,#00b9ff 35px,#00afff 37px,#0079ff 38px,#002aff 39px,#0000df 40px,#0000dc 41px,#0000af 43px,#0000a9 45px,#0000ab 48px,#00009f 50px,#0000cb)"></i><i style="background:linear-gradient(90deg,#ffdf00,#ffdf00 7px,#fcff03 10px,#9aff65 13px,#8cff73 16px,#60ff9f 19px,#60ff9f 23px,#40ffbf 29px,#40ffbf 30px,#2bffd4 31px,#01fffe 32px,#009fff 35px,#0099ff 37px,#001dff 39px,#0000df 40px,#0000de 41px,#0000af 43px,#0000a7 45px,#0000b2 48px,#0000a0 51px,#0000b0)"></i><i style="background:linear-gradient(90deg,#ffdf00,#ffdf00 6px,#f7ff08 8px,#f1ff0e 9px,#8eff71 12px,#76ff89 14px,#7aff85 16px,#60ff9f 19px,#5affa5 23px,#40ffbf 29px,#40ffbf 30px,#11ffee 31px,#00e4ff 32px,#009fff 34px,#009fff 36px,#0083ff 37px,#001dff 39px,#0000df 40px,#0000df 41px,#0000b3 43px,#0000a8 45px,#0000b6 48px,#00009f 50px,#00009f)"></i><i style="background:linear-gradient(90deg,#c5ff3a,#fcff03 3px,#ffef00 5px,#fffb00 6px,#72ff8d 11px,#60ff9f 12px,#60ff9f 22px,#47ffb8 25px,#40ffbf 29px,#28ffd7 30px,#00f1ff 31px,#009fff 33px,#009bff 36px,#0058ff 38px,#002aff 39px,#0000ed 40px,#0000ae 44px,#0000ad 49px,#00009f 51px,#00009f)"></i><i style="background:linear-gradient(90deg,#71ff8e,#b3ff4c 5px,#97ff68 7px,#60ff9f 10px,#60ff9f 22px,#44ffbb 25px,#40ffbf 29px,#10ffef 30px,#00d5ff 31px,#00a5ff 32px,#009fff 36px,#0079ff 38px,#0052ff 39px,#0017ff 40px,#0000df 41px,#0000dc 42px,#0000b6 44px,#00009f 52px,#00009f)"></i><i style="background:linear-gradient(90deg,#60ff9f,#60ff9f 22px,#42ffbd 26px,#40ffbf 29px,#03fffc 30px,#00c5ff 31px,#009fff 32px,#009fff 38px,#0096ff 39px,#0055ff 40px,#0000fe 41px,#0000df 42px,#0000ab 46px,#00009f 50px,#00009f)"></i><i style="background:linear-gradient(90deg,#60ff9f,#5affa5 22px,#40ffbf 28px,#40ffbf 29px,#03fffc 30px,#00c6ff 31px,#009fff 32px,#009fff 35px,#00bcff 37px,#009fff 39px,#009dff 40px,#0038ff 41px,#0000df 42px,#0000dc 43px,#0000a6 46px,#00009f)"></i><i style="background:linear-gradient(90deg,#60ff9f,#59ffa6 21px,#40ffbf 29px,#0ffff0 30px,#00d7ff 31px,#00b3ff 32px,#00a9ff 33px,#00d6ff 35px,#00f4ff 36px,#05fffa 37px,#00faff 38px,#009fff 40px,#0064ff 41px,#0000ec 42px,#00009f 46px,#00009f)"></i><i style="background:linear-gradient(90deg,#60ff9f,#5bffa4 21px,#4dffb2 23px,#40ffbf 29px,#00f3ff 31px,#00d5ff 32px,#00d2ff 33px,#0afff5 35px,#2affd5 36px,#39ffc6 37px,#29ffd6 38px,#00f2ff 39px,#009fff 40px,#0074ff 41px,#0000f0 42px,#0000ab 45px,#00009f 47px,#00009f)"></i><i style="background:linear-gradient(90deg,#8bff74,#60ff9f 7px,#5effa1 21px,#47ffb8 23px,#4affb5 27px,#40ffbf 30px,#14ffeb 31px,#00f9ff 32px,#0dfff2 34px,#40ffbf 36px,#34ffcb 38px,#00efff 39px,#009fff 40px,#0064ff 41px,#0000df 42px,#0000d8 43px,#0000a4 45px,#00009f)"></i><i style="background:linear-gradient(90deg,#fff400,#f5ff0a 4px,#60ff9f 6px,#60ff9f 21px,#43ffbc 23px,#50ffaf 27px,#32ffcd 31px,#17ffe8 32px,#14ffeb 33px,#40ffbf 36px,#40ffbf 37px,#20ffdf 38px,#00d0ff 39px,#009fff 40px,#003eff 41px,#0000df 42px,#00009f 45px,#00009f)"></i><i style="background:linear-gradient(90deg,#ff9f00,#ff9f00 3px,#ffbf00 4px,#d4ff2b 5px,#64ff9b 6px,#60ff9f 21px,#40ffbf 23px,#4fffb0 28px,#34ffcb 31px,#1affe5 32px,#15ffea 33px,#35ffca 35px,#39ffc6 36px,#2affd5 37px,#00f6ff 38px,#00abff 39px,#0099ff 40px,#0016ff 41px,#0000df 42px,#00009f 45px,#00009f)"></i><i style="background:linear-gradient(90deg,#ff9f00,#ff9f00 3px,#ffc300 4px,#f2ff0d 5px,#97ff68 6px,#60ff9f 7px,#5effa1 21px,#41ffbe 23px,#4bffb4 27px,#34ffcb 29px,#05fffa 32px,#04fffb 34px,#11ffee 36px,#00f9ff 37px,#0076ff 40px,#0000fd 41px,#0000b5 44px,#00009f 46px,#00009f)"></i><i style="background:linear-gradient(90deg,#ff9f00,#ff9f00 3px,#ffb200 4px,#ffd700 5px,#edff12 6px,#9dff62 7px,#70ff8f 8px,#60ff9f 9px,#5bffa4 21px,#41ffbe 23px,#45ffba 27px,#00f9ff 30px,#00dbff 33px,#00dfff 36px,#009fff 39px,#006cff 40px,#0002ff 41px,#0000df 42px,#0000a2 46px,#00009f)"></i><i style="background:linear-gradient(90deg,#ff9f00,#ffa400 4px,#ffb300 5px,#ffd600 6px,#e4ff1b 7px,#76ff89 9px,#60ff9f 10px,#60ff9f 20px,#40ffbf 24px,#3dffc2 27px,#00fdff 29px,#00dfff 30px,#00cdff 36px,#009eff 39px,#0076ff 40px,#0023ff 41px,#0000eb 42px,#0000eb 43px,#00009f 47px,#00009f)"></i><i style="background:linear-gradient(90deg,#ff9f00,#ff9f00 5px,#ffae00 6px,#feff01 8px,#6aff95 10px,#60ff9f 13px,#5dffa2 20px,#40ffbf 24px,#3dffc2 27px,#00fcff 29px,#00dfff 30px,#00d1ff 35px,#00b3ff 37px,#007fff 39px,#0078ff 40px,#0015ff 42px,#0000fd 43px,#0000fa 44px,#00009f 47px,#00009f)"></i><i style="background:linear-gradient(90deg,#ff9f00,#ff9f00 8px,#fcff03 9px,#78ff87 10px,#60ff9f 11px,#57ffa8 20px,#40ffbf 24px,#3bffc4 27px,#00fdff 29px,#00dfff 30px,#00daff 34px,#00bcff 36px,#0063ff 39px,#0064ff 40px,#0039ff 42px,#0016ff 43px,#0000f4 45px,#00009f 47px,#00009f)"></i><i style="background:linear-gradient(90deg,#ff9f00,#ff9f00 8px,#ffe500 9px,#90ff6f 10px,#60ff9f 11px,#4bffb4 21px,#37ffc8 27px,#01fffe 29px,#00e5ff 30px,#00daff 34px,#0060ff 39px,#005aff 41px,#000cff 45px,#00009f 47px,#00009f)"></i><i style="background:linear-gradient(90deg,#ff9f00,#ff9f00 4px,#ffd200 6px,#fffc00 7px,#d5ff2a 9px,#60ff9f 11px,#54ffab 13px,#5fffa0 15px,#40ffbf 24px,#3affc5 26px,#0bfff4 28px,#00e5ff 30px,#00dfff 33px,#00d1ff 34px,#0060ff 38px,#005dff 41px,#0015ff 45px,#0000d1 46px,#00009f 47px,#00009f)"></i><i style="background:linear-gradient(90deg,#ff9f00,#ff9f00 4px,#feff01 6px,#b1ff4e 7px,#77ff88 8px,#71ff8e 10px,#55ffaa 11px,#60ff9f 12px,#4dffb2 14px,#4fffb0 17px,#40ffbf 23px,#00f8ff 27px,#00caff 31px,#00dfff 33px,#0076ff 36px,#0060ff 37px,#005aff 41px,#0020ff 44px,#001aff 45px,#0000d6 46px,#00009f 47px,#0000a0)"></i><i style="background:linear-gradient(90deg,#ff9f00,#ffa000 4px,#ffdb00 5px,#e2ff1d 6px,#98ff67 7px,#60ff9f 8px,#50ffaf 12px,#5bffa4 13px,#46ffb9 15px,#40ffbf 21px,#39ffc6 22px,#02fffd 24px,#00b6ff 31px,#00c4ff 33px,#0060ff 36px,#0051ff 41px,#0020ff 44px,#001bff 45px,#0000e3 46px,#0000a4 47px,#0000a6)"></i><i style="background:linear-gradient(90deg,#ff9f00,#ff9f00 3px,#ffb400 4px,#fff000 5px,#d3ff2c 6px,#60ff9f 8px,#4affb5 12px,#57ffa8 14px,#40ffbf 16px,#40ffbf 20px,#09fff6 22px,#00d1ff 25px,#00baff 30px,#00a4ff 32px,#00aaff 33px,#0068ff 35px,#0045ff 41px,#0016ff 45px,#0000ed 46px,#0000bb 47px,#00009f 49px,#0000a7 54px,#0000af)"></i><i style="background:linear-gradient(90deg,#ff9f00,#ff9f00 3px,#ffd300 4px,#ebff14 5px,#80ff7f 7px,#60ff9f 8px,#47ffb8 13px,#51ffae 15px,#37ffc8 19px,#00faff 21px,#00dfff 22px,#00cfff 29px,#009fff 32px,#009fff 33px,#0064ff 35px,#0035ff 41px,#0020ff 44px,#0000f3 46px,#0000d3 47px,#0000b0 50px,#0000b5 54px,#0000bb)"></i><i style="background:linear-gradient(90deg,#ff9f00,#ff9f00 3px,#fff500 4px,#8bff74 6px,#60ff9f 7px,#55ffaa 11px,#47ffb8 14px,#40ffbf 18px,#37ffc8 19px,#00f9ff 21px,#00dfff 22px,#00dcff 29px,#00beff 31px,#00a5ff 32px,#009fff 33px,#0069ff 35px,#0020ff 42px,#0014ff 44px,#0000fd 45px,#0000e6 46px,#0000c4 52px,#0000c9)"></i><i style="background:linear-gradient(90deg,#ff9f00,#ffa600 3px,#f0ff0f 4px,#9dff62 5px,#62ff9d 6px,#50ffaf 12px,#41ffbe 15px,#40ffbf 19px,#0ffff0 21px,#00f1ff 22px,#00dfff 23px,#00dcff 30px,#009fff 33px,#008fff 34px,#0070ff 35px,#0047ff 38px,#0020ff 41px,#0016ff 43px,#0002ff 44px,#0000df 46px,#0000da)"></i><i style="background:linear-gradient(90deg,#ff9f00,#ffa400 3px,#e7ff18 4px,#88ff77 5px,#60ff9f 6px,#51ffae 12px,#40ffbf 16px,#40ffbf 20px,#0afff5 22px,#00dfff 24px,#00dfff 30px,#009fff 33px,#0092ff 34px,#0060ff 36px,#005cff 37px,#0022ff 40px,#001eff 42px,#0000f2 44px,#0000df 45px,#0000df)"></i></div>
<div class="pn" style="left:237px;top:337px;width:56px;height:225px"><i style="background:linear-gradient(90deg,#0000df,#0000db 30px,#0000a5 35px,#00009f)"></i><i style="background:linear-gradient(90deg,#0000df,#0000dc 30px,#0000b0 34px,#0000b1 37px,#00009f 41px,#00009f)"></i><i style="background:linear-gradient(90deg,#0000df,#0000df 30px,#0000b4 35px,#0000b1 39px,#00009f 45px,#00009f)"></i><i style="background:linear-gradient(90deg,#0000df,#0000e7 5px,#0000ee 9px,#0000df 14px,#0000df 31px,#0000b5 35px,#0000b2 41px,#00009f 52px,#00009f)"></i><i style="background:linear-gradient(90deg,#0000ed,#0003ff 8px,#0000e8 13px,#0000df 17px,#0000e6 30px,#0000ed 32px,#0000bb 35px,#0000bb 41px,#00009f 49px,#00009f)"></i><i style="background:linear-gradient(90deg,#0004ff,#001eff 6px,#0000fa 13px,#0000e0 15px,#0000e5 27px,#0000ff 31px,#0000f7 33px,#0000cd 35px,#0000be 42px,#00009f 47px,#0000a4)"></i><i style="background:linear-gradient(90deg,#0017ff,#0027ff 6px,#0012ff 12px,#0000fd 14px,#0000df 17px,#0000e4 25px,#000dff 29px,#0017ff 32px,#0001ff 34px,#0000d3 38px,#0000d0 41px,#00009f 46px,#0000a6)"></i><i style="background:linear-gradient(90deg,#0020ff,#002cff 2px,#0044ff 5px,#0020ff 11px,#0000fb 16px,#0000ef 22px,#0000fe 26px,#0020ff 29px,#0019ff 35px,#0000f5 37px,#0000df 39px,#0000d6 42px,#0000a2 45px,#0000a3)"></i><i style="background:linear-gradient(90deg,#0021ff,#0056ff 4px,#004eff 7px,#0020ff 11px,#0007ff 22px,#0015ff 26px,#0038ff 32px,#0014ff 36px,#0000fe 37px,#0000f2 41px,#0000a6 45px,#0000a4)"></i><i style="background:linear-gradient(90deg,#002eff,#0060ff 4px,#005dff 7px,#0025ff 11px,#0020ff 26px,#0053ff 31px,#0037ff 35px,#001dff 37px,#0022ff 41px,#0000fe 43px,#0000d5 45px,#0000c2 48px,#00009f 51px,#0000ab)"></i><i style="background:linear-gradient(90deg,#003cff,#0060ff 3px,#005cff 8px,#0029ff 12px,#002aff 18px,#002eff 23px,#0055ff 28px,#0060ff 30px,#0060ff 33px,#0035ff 37px,#004aff 41px,#002eff 43px,#0004ff 45px,#0000e4 48px,#0000b6 51px,#0000b9)"></i><i style="background:linear-gradient(90deg,#004eff,#0060ff 3px,#0060ff 8px,#003dff 13px,#004aff 17px,#0044ff 21px,#0060ff 27px,#006bff 32px,#0049ff 37px,#0060ff 41px,#0053ff 43px,#0018ff 46px,#0005ff 48px,#0000cb 52px,#0000ca)"></i><i style="background:linear-gradient(90deg,#0060ff,#0070ff 7px,#0060ff 10px,#0063ff 24px,#007eff 31px,#0060ff 35px,#005bff 43px,#0020ff 47px,#001fff 48px,#0000fd 50px,#0000dc 53px,#0000db)"></i><i style="background:linear-gradient(90deg,#0066ff,#0086ff 7px,#0068ff 13px,#0086ff 32px,#0060ff 36px,#0063ff 42px,#0020ff 47px,#0000f6 51px,#0000df 53px,#0000df)"></i><i style="background:linear-gradient(90deg,#007cff,#009fff 7px,#0089ff 15px,#0091ff 26px,#008dff 33px,#006bff 38px,#006cff 42px,#002eff 46px,#0011ff 49px,#0000f5 51px,#0000df 53px,#0000df)"></i><i style="background:linear-gradient(90deg,#0092ff,#00abff 8px,#009fff 17px,#0099ff 34px,#007eff 39px,#0076ff 42px,#0039ff 46px,#0038ff 47px,#0001ff 50px,#0000df 52px,#0000df)"></i><i style="background:linear-gradient(90deg,#009fff,#00abff 3px,#00c5ff 8px,#00b2ff 12px,#009fff 15px,#00a3ff 23px,#009dff 37px,#0092ff 41px,#004cff 45px,#004bff 46px,#0000fc 50px,#0000df 52px,#0000df)"></i><i style="background:linear-gradient(90deg,#00a0ff,#00d3ff 6px,#00d4ff 10px,#00a9ff 15px,#00b3ff 22px,#00b2ff 29px,#00b6ff 34px,#009fff 39px,#009bff 41px,#0053ff 46px,#0009ff 49px,#0000df 52px,#0000df)"></i><i style="background:linear-gradient(90deg,#00adff,#00dfff 6px,#00daff 11px,#00b2ff 16px,#00beff 22px,#00cfff 33px,#00a7ff 41px,#0062ff 44px,#0060ff 45px,#000bff 49px,#0000f9 51px,#0000df 53px,#0000df)"></i><i style="background:linear-gradient(90deg,#00b9ff,#00dfff 5px,#00d8ff 12px,#00bcff 16px,#00d6ff 26px,#00dfff 33px,#00caff 39px,#00cbff 40px,#0075ff 44px,#0057ff 46px,#002dff 48px,#000dff 52px,#0000ea 54px,#0000ea)"></i><i style="background:linear-gradient(90deg,#00c7ff,#00dfff 5px,#00d7ff 13px,#00c7ff 17px,#00e6ff 30px,#00d8ff 38px,#00dcff 40px,#0085ff 44px,#0073ff 46px,#0043ff 49px,#0030ff 52px,#0000f9 54px,#0000fa)"></i><i style="background:linear-gradient(90deg,#00d7ff,#00ebff 7px,#00d7ff 14px,#00ceff 17px,#00dfff 22px,#00e7ff 26px,#00f5ff 30px,#00ddff 36px,#00d7ff 40px,#0087ff 45px,#0057ff 51px,#0033ff 53px,#0010ff 54px,#000aff)"></i><i style="background:linear-gradient(90deg,#00dfff,#00e3ff 3px,#00fbff 6px,#00d2ff 17px,#02fffd 30px,#00edff 33px,#00dfff 35px,#00daff 40px,#00b1ff 43px,#0089ff 47px,#0086ff 49px,#005bff 52px,#0022ff 54px,#001aff)"></i><i style="background:linear-gradient(90deg,#00ebff,#00f4ff 3px,#0cfff3 5px,#05fffa 10px,#00d4ff 16px,#04fffb 26px,#08fff7 31px,#00ebff 34px,#00dfff 36px,#00e3ff 40px,#00b9ff 43px,#00aeff 46px,#0097ff 48px,#0098ff 49px,#0045ff 53px,#0022ff 54px,#0020ff)"></i><i style="background:linear-gradient(90deg,#00ffff,#08fff7 3px,#20ffdf 6px,#1dffe2 10px,#04fffb 12px,#00dfff 14px,#00d9ff 17px,#00e0ff 19px,#03fffc 22px,#14ffeb 30px,#00faff 34px,#00e5ff 37px,#00eeff 40px,#00c8ff 43px,#00b6ff 47px,#009fff 49px,#003aff 53px,#004aff)"></i><i style="background:linear-gradient(90deg,#11ffee,#19ffe6 3px,#2bffd4 8px,#20ffdf 11px,#00faff 13px,#00e4ff 14px,#00dfff 18px,#07fff8 21px,#20ffdf 28px,#00f9ff 38px,#00fdff 40px,#00ceff 44px,#00b8ff 47px,#00adff 49px,#0067ff 52px,#0078ff 54px,#0087ff)"></i><i style="background:linear-gradient(90deg,#20ffdf,#20ffdf 4px,#3affc5 8px,#1affe5 12px,#02fffd 13px,#00dfff 15px,#00e6ff 18px,#06fff9 20px,#20ffdf 24px,#1affe5 36px,#00faff 41px,#00d2ff 45px,#00bcff 48px,#00c1ff 49px,#009fff 51px,#00a1ff)"></i><i style="background:linear-gradient(90deg,#20ffdf,#2bffd4 4px,#3effc1 8px,#1cffe3 12px,#00f4ff 14px,#00e5ff 16px,#06fff9 19px,#20ffdf 22px,#1fffe0 39px,#00f7ff 42px,#00d6ff 46px,#00d3ff 49px,#00b0ff 51px,#00dfff)"></i><i style="background:linear-gradient(90deg,#2cffd3,#39ffc6 8px,#0bfff4 13px,#00f9ff 15px,#0dfff2 18px,#20ffdf 21px,#28ffd7 27px,#21ffde 31px,#3dffc2 35px,#19ffe6 41px,#05fffa 42px,#00e0ff 46px,#00eaff 51px,#09fff6 53px,#14ffeb)"></i><i style="background:linear-gradient(90deg,#40ffbf,#33ffcc 8px,#0efff1 14px,#38ffc7 26px,#29ffd6 30px,#51ffae 35px,#32ffcd 39px,#00f8ff 44px,#00e4ff 46px,#00e8ff 47px,#02fffd 48px,#1effe1 51px,#20ffdf)"></i><i style="background:linear-gradient(90deg,#58ffa7,#45ffba 5px,#20ffdf 11px,#26ffd9 17px,#4effb1 25px,#36ffc9 30px,#60ff9f 35px,#44ffbb 39px,#17ffe8 42px,#00f7ff 44px,#00efff 45px,#00faff 46px,#35ffca 49px,#22ffdd 52px,#26ffd9)"></i><i style="background:linear-gradient(90deg,#60ff9f,#5effa1 4px,#20ffdf 11px,#25ffda 14px,#4fffb0 19px,#60ff9f 25px,#45ffba 30px,#60ff9f 34px,#55ffaa 39px,#19ffe6 44px,#17ffe8 45px,#40ffbf 48px,#2dffd2 53px,#2effd1)"></i><i style="background:linear-gradient(90deg,#7bff84,#6fff90 3px,#49ffb6 8px,#2affd5 12px,#60ff9f 17px,#5affa5 28px,#5dffa2 31px,#5effa1 40px,#39ffc6 45px,#4effb1 48px,#31ffce 53px,#34ffcb)"></i><i style="background:linear-gradient(90deg,#94ff6b,#8aff75 3px,#61ff9e 6px,#51ffae 9px,#3fffc0 12px,#60ff9f 15px,#63ff9c 32px,#70ff8f 35px,#60ff9f 41px,#55ffaa 46px,#5effa1 47px,#36ffc9 53px,#3effc1)"></i><i style="background:linear-gradient(90deg,#9fff60,#97ff68 4px,#60ff9f 8px,#54ffab 12px,#60ff9f 16px,#65ff9a 31px,#7fff80 34px,#60ff9f 42px,#58ffa7 49px,#3effc1 52px,#4bffb4)"></i><i style="background:linear-gradient(90deg,#9fff60,#9eff61 5px,#63ff9c 9px,#60ff9f 30px,#8fff70 34px,#82ff7d 37px,#60ff9f 41px,#5fffa0 49px,#48ffb7 52px,#5bffa4)"></i><i style="background:linear-gradient(90deg,#9fff60,#9fff60 6px,#63ff9c 11px,#60ff9f 30px,#9fff60 35px,#94ff6b 37px,#61ff9e 41px,#58ffa7 50px,#60ff9f)"></i><i style="background:linear-gradient(90deg,#9fff60,#9fff60 7px,#68ff97 12px,#60ff9f 28px,#69ff96 31px,#9fff60 35px,#8fff70 38px,#60ff9f 42px,#63ff9c)"></i><i style="background:linear-gradient(90deg,#9fff60,#9cff63 9px,#72ff8d 12px,#60ff9f 16px,#68ff97 30px,#9fff60 36px,#81ff7e 40px,#60ff9f 42px,#69ff96)"></i><i style="background:linear-gradient(90deg,#9fff60,#9aff65 10px,#60ff9f 15px,#64ff9b 28px,#80ff7f 32px,#9fff60 36px,#87ff78 40px,#61ff9e 43px,#6cff93)"></i><i style="background:linear-gradient(90deg,#9fff60,#9aff65 10px,#60ff9f 15px,#68ff97 28px,#9fff60 36px,#87ff78 40px,#73ff8c 43px,#81ff7e 48px,#70ff8f)"></i><i style="background:linear-gradient(90deg,#9fff60,#9bff64 10px,#60ff9f 19px,#6dff92 29px,#9bff64 34px,#99ff66 38px,#7fff80 41px,#9bff64 47px,#7aff85)"></i><i style="background:linear-gradient(90deg,#9fff60,#a4ff5b 8px,#81ff7e 16px,#63ff9c 18px,#69ff96 28px,#87ff78 31px,#9fff60 34px,#97ff68 38px,#82ff7d 40px,#9fff60 46px,#95ff6a 52px,#8dff72)"></i><i style="background:linear-gradient(90deg,#9fff60,#a6ff59 4px,#baff45 7px,#9fff60 13px,#9fff60 15px,#62ff9d 18px,#67ff98 28px,#79ff86 30px,#9fff60 32px,#99ff66 38px,#87ff78 40px,#abff54 47px,#9fff60)"></i><i style="background:linear-gradient(90deg,#9fff60,#aaff55 3px,#c8ff37 7px,#afff50 15px,#60ff9f 18px,#67ff98 29px,#b2ff4d 32px,#afff50 35px,#94ff6b 40px,#b8ff47 49px,#b3ff4c)"></i><i style="background:linear-gradient(90deg,#9fff60,#cfff30 7px,#d3ff2c 14px,#b7ff48 16px,#78ff87 19px,#60ff9f 22px,#69ff96 25px,#a6ff59 29px,#d2ff2d 32px,#caff35 35px,#a0ff5f 38px,#9fff60 42px,#beff41 47px,#d3ff2c 54px,#d1ff2e)"></i><i style="background:linear-gradient(90deg,#aaff55,#d0ff2f 6px,#dfff20 13px,#daff25 16px,#a3ff5c 20px,#9aff65 24px,#bbff44 27px,#dfff20 29px,#dbff24 36px,#abff54 40px,#c7ff38 46px,#dfff20 53px,#dfff20)"></i><i style="background:linear-gradient(90deg,#b8ff47,#d2ff2d 6px,#e1ff1e 11px,#f2ff0d 13px,#dfff20 17px,#d8ff27 25px,#e8ff17 29px,#fcff03 33px,#c7ff38 41px,#d9ff26 45px,#dfff20 51px,#e3ff1c)"></i><i style="background:linear-gradient(90deg,#cbff34,#d5ff2a 6px,#dfff20 10px,#ffff00 12px,#ffff00 14px,#dfff20 18px,#e6ff19 27px,#fff800 30px,#ffec00 34px,#fbff04 37px,#dfff20 39px,#e3ff1c 51px,#e8ff17)"></i><i style="background:linear-gradient(90deg,#dfff20,#e0ff1f 10px,#f7ff08 11px,#ffec00 13px,#f0ff0f 16px,#ecff13 19px,#fffa00 23px,#f7ff08 27px,#ffea00 30px,#ffdf00 35px,#ffe100 37px,#f6ff09 40px,#e5ff1a 50px,#e7ff18)"></i><i style="background:linear-gradient(90deg,#f9ff06,#dfff20 4px,#dfff20 9px,#ffff00 11px,#ffe400 13px,#f7ff08 16px,#f9ff06 19px,#ffe000 23px,#fff500 27px,#ffdf00 31px,#ffdf00 39px,#fdff02 45px,#e5ff1a)"></i><i style="background:linear-gradient(90deg,#ffc700,#fdff02 4px,#e7ff18 7px,#fffe00 10px,#ffd900 13px,#ffdc00 14px,#ffff00 16px,#fff800 19px,#ffdf00 21px,#ffda00 35px,#ffbf00 38px,#ffdf00 41px,#f7ff08 50px,#e5ff1a)"></i><i style="background:linear-gradient(90deg,#ff9f00,#ff9f00 1px,#ffd300 4px,#ffe100 8px,#ffc200 14px,#ffee00 16px,#ffe800 19px,#ffc400 23px,#ffdf00 28px,#ffd800 35px,#ffa000 38px,#ffdf00 43px,#fff300 49px,#ebff14 53px,#ecff13)"></i><i style="background:linear-gradient(90deg,#ff9f00,#ffaa00 12px,#ff9f00 14px,#ffd300 16px,#ffdf00 18px,#ffda00 20px,#ffb000 23px,#ffbf00 26px,#ffdc00 29px,#ffdb00 35px,#ffa300 38px,#ffa700 41px,#ffdd00 45px,#ffe200 49px,#faff05 52px,#f8ff07)"></i><i style="background:linear-gradient(90deg,#ff9f00,#ff9f00 14px,#ffd600 17px,#ffc600 20px,#ff9f00 23px,#ff9f00 25px,#ffdb00 29px,#ffdf00 35px,#ffaf00 39px,#ffa100 42px,#ffc900 46px,#ffea00 51px,#fffc00 54px,#fff400)"></i><i style="background:linear-gradient(90deg,#ff9c00,#ffa400 15px,#ffbb00 18px,#ff9f00 23px,#ffa300 26px,#ffdd00 29px,#ffdf00 36px,#ffb800 39px,#ffb200 41px,#ff9f00 42px,#ffbd00 48px,#ffdb00 50px,#ffea00 54px,#ffe100)"></i><i style="background:linear-gradient(90deg,#ff8400,#ff9f00 4px,#ffa000 22px,#ffb400 26px,#ffdf00 29px,#ffde00 37px,#ffb800 40px,#ffc000 41px,#ff9f00 44px,#ffa600 48px,#ffd900 51px,#ffdf00)"></i><i style="background:linear-gradient(90deg,#ff7200,#ff9f00 5px,#ffa600 22px,#ffdf00 28px,#ffdf00 37px,#ffb900 40px,#ffd100 43px,#ffa000 47px,#ffa100 49px,#ffd200 52px,#ffd300)"></i><i style="background:linear-gradient(90deg,#ff6500,#ff6f00 2px,#ff9700 4px,#ff9f00 12px,#ff9f00 21px,#ffcd00 25px,#ffdf00 28px,#ffd800 38px,#ffb900 40px,#ffbe00 41px,#ffef00 43px,#ffa400 46px,#ffa000 50px,#ffc400 53px,#ffc600)"></i><i style="background:linear-gradient(90deg,#ff6000,#ff6e00 2px,#ffaa00 4px,#ffae00 5px,#ff9f00 6px,#ff9f00 21px,#ffaa00 22px,#ffd400 24px,#ffdf00 32px,#ffd800 38px,#ffba00 41px,#f8ff07 43px,#fff000 44px,#ffc000 45px,#ff9f00 46px,#ffa700 52px,#ffb900)"></i><i style="background:linear-gradient(90deg,#ff6000,#ff6000 1px,#ff7300 2px,#ffc400 4px,#ffca00 5px,#ff9f00 7px,#ff9f00 21px,#ffa900 22px,#ffdf00 24px,#ffdf00 37px,#ffbd00 41px,#ffdd00 42px,#eaff15 43px,#efff10 44px,#ffd200 45px,#ffa500 46px,#ffa600 54px,#ffac00)"></i><i style="background:linear-gradient(90deg,#ff6000,#ff6000 1px,#ff7700 2px,#ffce00 4px,#ffd300 5px,#ff9f00 7px,#ff9f00 21px,#ffdf00 24px,#ffd800 38px,#ffc300 41px,#ffdd00 42px,#e4ff1b 43px,#c0ff3f 44px,#ffff00 45px,#ffc700 46px,#ffa400 47px,#ff9f00)"></i><i style="background:linear-gradient(90deg,#ff6000,#ff6000 1px,#ff7a00 2px,#ffce00 4px,#ffcc00 5px,#ff9f00 7px,#ffa200 19px,#ffaf00 21px,#ffdf00 24px,#ffdd00 38px,#ffcd00 41px,#ffdc00 42px,#e1ff1e 43px,#a1ff5e 44px,#b0ff4f 45px,#f5ff0a 46px,#ffb000 48px,#ff9f00 49px,#ff9f00)"></i><i style="background:linear-gradient(90deg,#ff6000,#ff6000 1px,#ff7a00 2px,#ffca00 4px,#ff9f00 7px,#ff9f00 16px,#ffb800 19px,#ffc400 21px,#ffde00 23px,#ffdf00 42px,#f3ff0c 43px,#c1ff3e 44px,#9fff60 45px,#a8ff57 46px,#d9ff26 47px,#ffe900 48px,#ffbb00 49px,#ff9f00 50px,#ff9f00)"></i><i style="background:linear-gradient(90deg,#ff6000,#ff6000 1px,#ff7600 2px,#ffc800 4px,#ff9f00 7px,#ff9f00 14px,#ffd100 17px,#ffcb00 20px,#ffdf00 24px,#ffdf00 42px,#fff400 43px,#cfff30 45px,#9fff60 47px,#fff800 49px,#ffc200 50px,#ff9f00 51px,#ff9f00)"></i><i style="background:linear-gradient(90deg,#ff6000,#ff6d00 2px,#ffa500 3px,#ffcd00 4px,#ffa100 8px,#ffa400 12px,#fff300 16px,#fff200 17px,#ffd900 19px,#ffdf00 42px,#faff05 45px,#b8ff47 48px,#fff400 50px,#ff9f00 52px,#ff9f00)"></i><i style="background:linear-gradient(90deg,#ff6000,#ff6000 2px,#ffd600 4px,#ffd900 5px,#ffbd00 9px,#ffcc00 12px,#fff700 14px,#ebff14 16px,#fffd00 17px,#ffe300 18px,#ffe500 45px,#f4ff0b 47px,#dcff23 48px,#e3ff1c 49px,#fdff02 50px,#ffb600 52px,#ff9f00 53px,#ff9f00)"></i><i style="background:linear-gradient(90deg,#ff6000,#ff6000 2px,#ffdf00 4px,#fff500 5px,#ffe000 10px,#f7ff08 13px,#dfff20 14px,#ecff13 17px,#feff01 18px,#ffdf00 21px,#ffe100 47px,#fff700 48px,#ffeb00 50px,#ffa400 53px,#ff9f00)"></i><i style="background:linear-gradient(90deg,#ffaa00,#ff8d00 1px,#ff6000 2px,#ff9600 3px,#ffe400 4px,#e8ff17 5px,#fdff02 10px,#dfff20 13px,#dfff20 14px,#c1ff3e 16px,#e0ff1f 19px,#fffe00 20px,#ffe700 21px,#ffdf00 29px,#ffda00 48px,#ffc100 51px,#ffa300 53px,#ff9f00)"></i><i style="background:linear-gradient(90deg,#ffe100,#ffc700 1px,#ff9e00 2px,#ff9f00 3px,#ffd500 4px,#eaff15 5px,#dfff20 7px,#dfff20 13px,#adff52 16px,#c5ff3a 19px,#fff500 21px,#ffe200 22px,#ffda00 48px,#ff9f00 53px,#ff9f00)"></i><i style="background:linear-gradient(90deg,#fff600,#ffc600 2px,#ffcc00 3px,#ffec00 4px,#ebff14 5px,#d2ff2d 6px,#dfff20 10px,#dfff20 12px,#a7ff58 16px,#acff53 18px,#d0ff2f 20px,#f8ff07 21px,#ffe100 23px,#ffde00 48px,#ffad00 53px,#ffa700)"></i><i style="background:linear-gradient(90deg,#fff100,#ffd900 2px,#f1ff0e 4px,#b6ff49 6px,#b4ff4b 7px,#d9ff26 10px,#abff54 17px,#b1ff4e 19px,#c1ff3e 20px,#fffb00 22px,#ffe900 24px,#ffe700 28px,#ffdf00 44px,#ffd800 50px,#ffbc00)"></i><i style="background:linear-gradient(90deg,#ffe900,#ffe300 2px,#fffe00 3px,#aeff51 5px,#91ff6e 7px,#c2ff3d 10px,#a4ff5b 19px,#c1ff3e 21px,#e6ff19 22px,#fcff03 23px,#fffa00 25px,#ffec00 28px,#ffdf00 30px,#ffd800 53px,#ffd300)"></i><i style="background:linear-gradient(90deg,#fffb00,#ffee00 1px,#fff800 2px,#eaff15 3px,#89ff76 5px,#75ff8a 6px,#73ff8c 7px,#a9ff56 10px,#b1ff4e 16px,#8bff74 19px,#91ff6e 21px,#d4ff2b 23px,#f6ff09 25px,#f3ff0c 26px,#ffff00 27px,#ffdf00 29px,#ffdf00)"></i><i style="background:linear-gradient(90deg,#c4ff3b,#dbff24 1px,#d5ff2a 2px,#b8ff47 3px,#60ff9f 5px,#4fffb0 6px,#62ff9d 8px,#8aff75 10px,#99ff66 16px,#4fffb0 20px,#4dffb2 21px,#67ff98 22px,#c3ff3c 24px,#e6ff19 25px,#e4ff1b 26px,#faff05 27px,#ffdf00 29px,#ffe000 49px,#fff100 51px,#f5ff0a 54px,#dbff24)"></i><i style="background:linear-gradient(90deg,#52ffad,#7bff84 1px,#83ff7c 2px,#40ffbf 5px,#43ffbc 8px,#67ff98 11px,#68ff97 16px,#40ffbf 18px,#49ffb6 22px,#dfff20 25px,#e5ff1a 26px,#fcff03 27px,#ffdf00 29px,#ffdf00 48px,#fffc00 49px,#c6ff39 53px,#87ff78)"></i><i style="background:linear-gradient(90deg,#27ffd8,#40ffbf 1px,#40ffbf 17px,#1affe5 19px,#1fffe0 20px,#40ffbf 21px,#42ffbd 22px,#bbff44 25px,#c9ff36 26px,#fff100 28px,#ffdf00 29px,#ffdf00 47px,#f1ff0e 48px,#c1ff3e 49px,#91ff6e 51px,#8dff72 53px,#79ff86 54px,#56ffa9)"></i><i style="background:linear-gradient(90deg,#0077ff,#00caff 1px,#00fdff 2px,#21ffde 4px,#17ffe8 9px,#00f9ff 11px,#00daff 13px,#00d7ff 14px,#00e9ff 16px,#00d4ff 19px,#00f0ff 20px,#38ffc7 21px,#55ffaa 23px,#a9ff56 26px,#fffd00 28px,#ffdf00 29px,#ffe300 47px,#a7ff58 48px,#56ffa9 49px,#28ffd7 50px,#1effe1 51px,#52ffad 53px,#51ffae 54px,#3dffc2)"></i><i style="background:linear-gradient(90deg,#0000df,#0036ff 1px,#0072ff 2px,#00b4ff 4px,#00c8ff 6px,#00b2ff 8px,#0048ff 12px,#0038ff 13px,#0047ff 14px,#0082ff 16px,#0093ff 19px,#00c1ff 20px,#24ffdb 21px,#40ffbf 22px,#66ff99 25px,#f0ff0f 28px,#ffdf00 29px,#ffdf00 46px,#fff800 47px,#6bff94 48px,#00efff 49px,#009fff 50px,#00b9ff 51px,#00e8ff 52px,#12ffed 53px,#29ffd6 54px,#2affd5)"></i><i style="background:linear-gradient(90deg,#00009f,#0000bc 1px,#0000f6 2px,#003bff 4px,#004eff 6px,#0044ff 7px,#0009ff 9px,#0000b4 12px,#0000ab 13px,#0000e8 14px,#0024ff 15px,#0049ff 16px,#0082ff 19px,#00b6ff 20px,#1affe5 21px,#40ffbf 22px,#4bffb4 25px,#ebff14 28px,#ffe000 29px,#ffdf00 46px,#fffc00 47px,#70ff8f 48px,#00e6ff 49px,#009fff 50px,#009fff 52px,#00f6ff 54px,#09fff6)"></i><i style="background:linear-gradient(90deg,#00009f,#00009f 2px,#0000bf 4px,#0000b7 6px,#0000a3 7px,#00009f 12px,#0000c3 13px,#0010ff 14px,#004dff 15px,#0073ff 16px,#008eff 19px,#00b9ff 20px,#1dffe2 21px,#40ffbf 22px,#47ffb8 25px,#8cff73 26px,#edff12 28px,#fff300 29px,#fff100 31px,#ffdf00 35px,#ffdf00 46px,#fff800 47px,#2dffd2 49px,#00ffff 50px,#009fff 52px,#009fff 53px,#00ccff)"></i><i style="background:linear-gradient(90deg,#00009f,#0000a5 8px,#0000b6 12px,#000cff 13px,#0054ff 14px,#008bff 15px,#00acff 16px,#00b2ff 17px,#00a6ff 19px,#00c9ff 20px,#2bffd4 21px,#40ffbf 22px,#40ffbf 24px,#5fffa0 25px,#a4ff5b 26px,#f6ff09 28px,#fff500 31px,#ffdf00 33px,#ffdf00 46px,#fff600 47px,#64ff9b 49px,#2bffd4 51px,#00edff 52px,#00a1ff 53px,#009fff)"></i><i style="background:linear-gradient(90deg,#00009f,#0000a6 6px,#0000d4 11px,#0001ff 12px,#0055ff 13px,#0099ff 14px,#00caff 15px,#00e3ff 16px,#00e1ff 17px,#00c2ff 19px,#00dfff 20px,#3fffc0 21px,#40ffbf 24px,#b8ff47 26px,#e0ff1f 27px,#f9ff06 28px,#efff10 29px,#fff500 31px,#ffdf00 33px,#ffdf00 46px,#fff300 47px,#9dff62 49px,#8dff72 50px,#8fff70 51px,#6cff93 52px,#09fff6 54px,#00faff)"></i><i style="background:linear-gradient(90deg,#00009f,#0000a3 5px,#0000de 10px,#0000df 11px,#0038ff 12px,#008fff 13px,#00cfff 14px,#00f9ff 15px,#0dfff2 16px,#07fff8 17px,#00e1ff 19px,#00fcff 20px,#40ffbf 21px,#40ffbf 24px,#c2ff3d 26px,#e5ff1a 27px,#e8ff17 29px,#fff500 31px,#ffdf00 33px,#ffdf00 46px,#ffea00 47px,#eeff11 48px,#e2ff1d 49px,#f7ff08 50px,#ffeb00 51px,#ffec00 52px,#f5ff0a 53px,#dbff24 54px,#d7ff28)"></i><i style="background:linear-gradient(90deg,#00009f,#0000a2 5px,#0000b2 6px,#0000e2 7px,#004bff 8px,#0074ff 9px,#006bff 11px,#00e7ff 14px,#0ffff0 15px,#22ffdd 16px,#0afff5 19px,#40ffbf 21px,#40ffbf 24px,#87ff78 25px,#bbff44 26px,#daff25 27px,#e3ff1c 29px,#fffa00 31px,#ffdf00 33px,#ffdf00 47px,#ffe900 48px,#ffe300 49px,#ffb900 50px,#ff7f00 51px,#ff6000 52px,#ff6000)"></i><i style="background:linear-gradient(90deg,#00009f,#00009f 5px,#002fff 6px,#00d4ff 7px,#2effd1 8px,#32ffcd 9px,#00ebff 10px,#00dcff 11px,#03fffc 14px,#2effd1 17px,#40ffbf 21px,#40ffbf 24px,#a3ff5c 26px,#dfff20 28px,#edff12 30px,#fff400 32px,#ffdf00 34px,#ffdf00 49px,#ff9200 52px,#ff8800 54px,#ff8800)"></i><i style="background:linear-gradient(90deg,#0000a3,#00009f 3px,#0000e8 4px,#00a1ff 5px,#64ff9b 6px,#fff600 7px,#ffbc00 8px,#ffea00 9px,#92ff6d 10px,#30ffcf 11px,#1affe5 14px,#28ffd7 16px,#40ffbf 18px,#40ffbf 24px,#dfff20 28px,#f4ff0b 29px,#fffc00 32px,#ffdf00 35px,#ffdf00 50px,#ffc200 53px,#ffc700)"></i><i style="background:linear-gradient(90deg,#0000bc,#0000b9 1px,#0000f4 2px,#0052ff 3px,#00dcff 4px,#99ff66 5px,#ff9400 6px,#df0000 7px,#df0000 8px,#ff2b00 9px,#ffda00 10px,#63ff9c 11px,#40ffbf 12px,#37ffc8 16px,#40ffbf 24px,#4fffb0 25px,#fdff02 29px,#fff300 30px,#ffe900 34px,#ffdf00 37px,#ffdf00)"></i><i style="background:linear-gradient(90deg,#0000d2,#0000d1 1px,#0048ff 2px,#00dcff 3px,#7fff80 4px,#d7ff28 5px,#fffa00 6px,#ffcb00 7px,#ff6000 8px,#df0000 9px,#ff4900 10px,#e4ff1b 11px,#40ffbf 12px,#40ffbf 25px,#5fffa0 26px,#f1ff0e 29px,#ffdf00 30px,#ffdf00 52px,#ffcc00)"></i><i style="background:linear-gradient(90deg,#0000df,#0000e1 1px,#0080ff 2px,#01fffe 3px,#42ffbd 4px,#42ffbd 5px,#2cffd3 6px,#31ffce 7px,#83ff7c 8px,#ffa500 9px,#ff0900 10px,#ffb100 11px,#79ff86 12px,#40ffbf 13px,#40ffbf 25px,#49ffb6 26px,#faff05 29px,#ffd200 30px,#ffdf00 38px,#ffdf00 51px,#ffbc00)"></i><i style="background:linear-gradient(90deg,#0000f0,#0015ff 1px,#00a0ff 2px,#00f2ff 3px,#02fffd 4px,#00c8ff 6px,#00c4ff 7px,#00fdff 8px,#a9ff56 9px,#ff7000 10px,#ffad00 11px,#97ff68 12px,#40ffbf 13px,#40ffbf 25px,#4fffb0 26px,#deff21 28px,#ffdd00 29px,#ffbc00 30px,#ffcd00 33px,#ffdf00 38px,#ffd900 51px,#ffb600 54px,#ffb300)"></i><i style="background:linear-gradient(90deg,#0018ff,#0051ff 1px,#00b4ff 2px,#00e1ff 3px,#00d8ff 4px,#009fff 6px,#00a0ff 7px,#00c9ff 8px,#4bffb4 9px,#fffe00 10px,#f5ff0a 11px,#71ff8e 12px,#40ffbf 13px,#40ffbf 25px,#6dff92 26px,#fff800 28px,#ffb900 29px,#ffb100 30px,#ffdf00 37px,#ffda00 49px,#ffae00)"></i><i style="background:linear-gradient(90deg,#003eff,#00abff 2px,#00b7ff 3px,#00a7ff 6px,#00b9ff 8px,#00daff 9px,#52ffad 10px,#80ff7f 11px,#41ffbe 12px,#40ffbf 24px,#52ffad 25px,#dfff20 27px,#ffd200 28px,#ffb800 29px,#ffdf00 36px,#ffde00 47px,#ffaa00)"></i><i style="background:linear-gradient(90deg,#0062ff,#00beff 4px,#00e3ff 7px,#00ecff 8px,#00e2ff 9px,#00faff 10px,#37ffc8 11px,#40ffbf 15px,#42ffbd 24px,#fffd00 27px,#ffca00 28px,#ffc100 30px,#ffdf00 33px,#ffdf00 46px,#ffae00 50px,#ffa300)"></i><i style="background:linear-gradient(90deg,#006cff,#00eaff 4px,#02fffd 5px,#1dffe2 7px,#09fff6 9px,#13ffec 10px,#35ffca 11px,#40ffbf 13px,#42ffbd 20px,#53ffac 22px,#4cffb3 23px,#72ff8d 24px,#e4ff1b 26px,#ffe900 27px,#ffcd00 28px,#ffc300 30px,#ffdf00 32px,#ffdf00 46px,#ffa200 50px,#ff9f00)"></i><i style="background:linear-gradient(90deg,#0093ff,#00f4ff 3px,#2bffd4 5px,#3dffc2 6px,#25ffda 9px,#27ffd8 10px,#40ffbf 11px,#47ffb8 20px,#70ff8f 22px,#69ff96 23px,#d7ff28 25px,#fcff03 26px,#ffc800 28px,#ffbb00 30px,#ffdf00 33px,#ffdc00 47px,#ffa200 52px,#ffa500)"></i><i style="background:linear-gradient(90deg,#00b0ff,#00f2ff 2px,#29ffd6 4px,#40ffbf 6px,#40ffbf 8px,#30ffcf 10px,#40ffbf 11px,#40ffbf 19px,#4fffb0 20px,#96ff69 22px,#9aff65 23px,#f2ff0d 25px,#ffe700 27px,#ffb400 29px,#ffaa00 30px,#ffdf00 33px,#ffd900 49px,#ffb300 53px,#ffb700)"></i><i style="background:linear-gradient(90deg,#00c0ff,#06fff9 2px,#50ffaf 6px,#34ffcb 10px,#40ffbf 14px,#40ffbf 19px,#56ffa9 20px,#baff45 23px,#e5ff1a 24px,#fffe00 25px,#ffde00 28px,#ff9f00 30px,#ffa700 31px,#ffcc00 32px,#ffde00 33px,#ffd700 45px,#ffda00 48px,#ffdf00 50px,#ffc300 53px,#ffc700)"></i><i style="background:linear-gradient(90deg,#00c4ff,#00eaff 1px,#0efff1 2px,#29ffd6 4px,#55ffaa 6px,#5bffa4 7px,#40ffbf 9px,#40ffbf 19px,#9fff60 22px,#b3ff4c 23px,#e2ff1d 24px,#fbff04 25px,#ffeb00 28px,#ffb200 30px,#ffbb00 31px,#ffda00 32px,#ffe800 33px,#ffdf00 37px,#ffdd00 44px,#ffbf00 47px,#ffdf00 50px,#ffce00 54px,#ffd300)"></i><i style="background:linear-gradient(90deg,#00bfff,#00e9ff 1px,#0efff1 2px,#27ffd8 4px,#60ff9f 7px,#5fffa0 8px,#40ffbf 10px,#42ffbd 19px,#9fff60 22px,#a5ff5a 23px,#e1ff1e 25px,#fff800 29px,#ffe400 30px,#ffe000 31px,#fff700 32px,#fffd00 33px,#ffdf00 35px,#ffde00 44px,#ffb700 47px,#ffc300 49px,#ffdf00 51px,#ffdb00)"></i><i style="background:linear-gradient(90deg,#00d2ff,#04fffb 2px,#3fffc0 5px,#64ff9b 7px,#66ff99 9px,#42ffbd 13px,#5fffa0 19px,#9fff60 22px,#9fff60 23px,#ceff31 26px,#faff05 31px,#e5ff1a 32px,#fff900 34px,#ffe400 35px,#ffde00 44px,#ffa900 48px,#ffdf00 52px,#ffdf00)"></i><i style="background:linear-gradient(90deg,#00dfff,#00dfff 1px,#0efff1 3px,#70ff8f 7px,#7fff80 9px,#61ff9e 15px,#7bff84 19px,#9fff60 22px,#a9ff56 24px,#dfff20 31px,#e8ff17 33px,#fbff04 34px,#ffdf00 36px,#ffde00 44px,#ffb900 47px,#ffa200 48px,#ffdf00 53px,#ffdf00)"></i><i style="background:linear-gradient(90deg,#00f3ff,#00ffff 2px,#71ff8e 6px,#9aff65 9px,#74ff8b 15px,#7dff82 18px,#a0ff5f 21px,#a5ff5a 24px,#dfff20 31px,#e6ff19 33px,#fff700 35px,#ffdf00 37px,#ffdc00 44px,#ffbc00 47px,#ffa600 48px,#ff9f00 49px,#ffdc00 54px,#ffda00)"></i><i style="background:linear-gradient(90deg,#1fffe0,#21ffde 2px,#8aff75 6px,#9fff60 10px,#9eff61 12px,#80ff7f 16px,#8cff73 18px,#aeff51 21px,#9fff60 23px,#dfff20 30px,#ebff14 33px,#fff800 35px,#ffdf00 37px,#ffdb00 44px,#ffbe00 47px,#ff9f00 49px,#ffad00 51px,#ffcd00 54px,#ffca00)"></i><i style="background:linear-gradient(90deg,#49ffb6,#4bffb4 2px,#7cff83 4px,#9fff60 9px,#9fff60 13px,#8bff74 16px,#8bff74 17px,#b9ff46 21px,#b5ff4a 24px,#dfff20 30px,#fffd00 34px,#ffdf00 37px,#ffda00 44px,#ffbd00 47px,#ff9f00 49px,#ffae00 52px,#ffb900)"></i><i style="background:linear-gradient(90deg,#60ff9f,#6bff94 2px,#9fff60 8px,#9dff62 15px,#a2ff5d 17px,#c4ff3b 21px,#e2ff1d 30px,#fff900 33px,#ffdf00 36px,#ffd900 44px,#ffbc00 47px,#ff9f00 49px,#ffa700)"></i><i style="background:linear-gradient(90deg,#67ff98,#68ff97 1px,#8dff72 4px,#adff52 11px,#9fff60 16px,#ceff31 20px,#dfff20 24px,#dfff20 29px,#fff600 32px,#ffdf00 34px,#ffd800 44px,#ffba00 47px,#ff9f00 49px,#ff9f00)"></i><i style="background:linear-gradient(90deg,#79ff86,#9fff60 7px,#b9ff46 11px,#b1ff4e 16px,#dfff20 24px,#e5ff1a 29px,#fffb00 31px,#ffdf00 33px,#ffda00 43px,#ffb900 47px,#ff9f00 49px,#ff9f00)"></i><i style="background:linear-gradient(90deg,#8bff74,#a5ff5a 8px,#c3ff3c 10px,#dfff20 28px,#fff700 31px,#ffdf00 33px,#ffd900 42px,#ffb800 47px,#ff9f00 49px,#ff9f00)"></i><i style="background:linear-gradient(90deg,#9fff60,#9fff60 7px,#d6ff29 10px,#e3ff1c 25px,#f1ff0e 27px,#e5ff1a 28px,#fff600 31px,#ffdf00 33px,#ffdd00 40px,#ffc400 45px,#ff9f00 49px,#ff9f00)"></i><i style="background:linear-gradient(90deg,#9fff60,#9fff60 7px,#dfff20 10px,#dfff20 24px,#ffff00 26px,#fff500 27px,#fbff04 30px,#ffdf00 33px,#ffdb00 39px,#ffc100 42px,#ffc800 45px,#ff9f00 49px,#ff9f00)"></i><i style="background:linear-gradient(90deg,#9fff60,#9fff60 7px,#dfff20 10px,#dfff20 24px,#fff800 26px,#ffe200 27px,#fff900 29px,#ffdf00 34px,#ffd700 39px,#ffcc00 41px,#ffe600 44px,#ffd000 46px,#ff9f00 48px,#ff9f00)"></i><i style="background:linear-gradient(90deg,#9fff60,#9fff60 7px,#deff21 10px,#dfff20 24px,#fff900 26px,#ffe300 27px,#ffef00 30px,#ffdf00 36px,#ffe200 41px,#fffd00 43px,#fbff04 45px,#fff200 46px,#ffa400 49px,#ff9f00)"></i><i style="background:linear-gradient(90deg,#9fff60,#9fff60 7px,#d8ff27 10px,#dfff20 24px,#fffd00 26px,#ffdf00 28px,#ffea00 30px,#ffdf00 38px,#ffef00 41px,#fcff03 42px,#cdff32 44px,#c6ff39 45px,#f6ff09 47px,#ffbd00 50px,#ffa200 53px,#ffa900)"></i><i style="background:linear-gradient(90deg,#aaff55,#a9ff56 7px,#dfff20 13px,#e6ff19 25px,#faff05 26px,#ffdf00 28px,#ffdf00 40px,#f2ff0d 42px,#9fff60 45px,#a3ff5c 46px,#f5ff0a 48px,#ffc300 51px,#ffb700 54px,#ffbb00)"></i><i style="background:linear-gradient(90deg,#bbff44,#c5ff3a 9px,#b9ff46 12px,#dfff20 15px,#dfff20 25px,#fff800 27px,#ffe000 28px,#ffe300 41px,#fbff04 42px,#b8ff47 44px,#a4ff5b 45px,#b3ff4c 46px,#eeff11 48px,#fff900 49px,#ffe300 50px,#ffce00)"></i><i style="background:linear-gradient(90deg,#c7ff38,#dfff20 8px,#c5ff3a 10px,#a6ff59 12px,#bfff40 14px,#ddff22 16px,#e6ff19 26px,#fcff03 27px,#ffdf00 29px,#ffe100 41px,#fffd00 42px,#c2ff3d 44px,#b1ff4e 45px,#fdff02 48px,#ffdf00 50px,#ffdf00)"></i><i style="background:linear-gradient(90deg,#d0ff2f,#dfff20 5px,#dfff20 9px,#a6ff59 12px,#9fff60 13px,#cfff30 16px,#dfff20 23px,#dfff20 26px,#fff400 28px,#ffdf00 29px,#ffe600 41px,#fffd00 42px,#b7ff48 45px,#e3ff1c 47px,#fdff02 48px,#ffdf00 50px,#ffdf00)"></i><i style="background:linear-gradient(90deg,#d9ff26,#dfff20 9px,#a7ff58 12px,#9fff60 14px,#ccff33 17px,#dfff20 21px,#e7ff18 27px,#feff01 28px,#ffe500 29px,#ffdf00 40px,#fffe00 42px,#baff45 45px,#bdff42 46px,#f3ff0c 48px,#ffe400 50px,#ffdf00)"></i><i style="background:linear-gradient(90deg,#dfff20,#dfff20 9px,#9fff60 13px,#aaff55 15px,#dfff20 20px,#dfff20 27px,#fff100 29px,#ffdf00 30px,#ffe200 40px,#fffb00 42px,#bfff40 45px,#beff41 46px,#fffc00 49px,#ffdf00 51px,#ffdf00)"></i><i style="background:linear-gradient(90deg,#dfff20,#dfff20 9px,#a1ff5e 13px,#a1ff5e 15px,#dfff20 20px,#dfff20 27px,#fffa00 29px,#ffdf00 30px,#ffdf00 39px,#f7ff08 43px,#caff35 46px,#d1ff2e 47px,#f8ff07 49px,#ffdf00 51px,#ffdf00)"></i><i style="background:linear-gradient(90deg,#dfff20,#dfff20 9px,#9fff60 14px,#a7ff58 16px,#dfff20 19px,#dfff20 27px,#ffff00 29px,#ffe400 30px,#ffdf00 39px,#ffff00 42px,#dfff20 47px,#fff700 50px,#ffe100 51px,#ffdf00)"></i><i style="background:linear-gradient(90deg,#dfff20,#dcff23 9px,#9fff60 14px,#aaff55 16px,#dfff20 19px,#e6ff19 27px,#fffc00 29px,#ffe500 30px,#ffdf00 39px,#fdff02 42px,#dfff20 46px,#e3ff1c 48px,#fffa00 50px,#ffe400 51px,#ffdf00)"></i><i style="background:linear-gradient(90deg,#dfff20,#d8ff27 9px,#9fff60 14px,#a2ff5d 15px,#dfff20 18px,#e4ff1b 23px,#fff800 29px,#ffed00 30px,#ffee00 32px,#ffdf00 35px,#ffdf00 39px,#fdff02 42px,#dfff20 45px,#e6ff19 48px,#fffc00 50px,#ffdf00 52px,#ffdf00)"></i><i style="background:linear-gradient(90deg,#dfff20,#dfff20 8px,#9fff60 13px,#9fff60 14px,#deff21 17px,#e9ff16 24px,#fff600 29px,#fffa00 32px,#ffdf00 35px,#ffe000 40px,#fff800 42px,#e1ff1e 44px,#e9ff16 48px,#ffff00 50px,#ffdf00 52px,#ffdf00)"></i><i style="background:linear-gradient(90deg,#dfff20,#dfff20 8px,#a2ff5d 12px,#aaff55 14px,#d7ff28 16px,#dfff20 24px,#e9ff16 26px,#ffff00 28px,#fffa00 33px,#ffdf00 35px,#ffe300 41px,#fbff04 43px,#e5ff1a 44px,#e1ff1e 46px,#feff01 50px,#ffe100 52px,#ffdf00)"></i><i style="background:linear-gradient(90deg,#dfff20,#dcff23 9px,#adff52 11px,#9fff60 12px,#a1ff5e 13px,#dfff20 16px,#e6ff19 27px,#f5ff0a 30px,#f3ff0c 32px,#ffff00 33px,#ffdf00 35px,#ffe700 42px,#f4ff0b 44px,#f0ff0f 46px,#fff500 51px,#ffdf00 53px,#ffdf00)"></i><i style="background:linear-gradient(90deg,#dfff20,#e1ff1e 9px,#d2ff2d 10px,#afff50 11px,#9fff60 12px,#b1ff4e 13px,#d8ff27 14px,#e7ff18 15px,#dfff20 23px,#e3ff1c 28px,#f1ff0e 32px,#fff100 34px,#ffe000 35px,#ffdf00 42px,#fcff03 45px,#fff300 51px,#ffdf00 54px,#ffdf00)"></i><i style="background:linear-gradient(90deg,#dfff20,#e3ff1c 10px,#d1ff2e 11px,#d0ff2f 12px,#fffd00 14px,#dfff20 16px,#e3ff1c 30px,#fffe00 33px,#ffdf00 35px,#ffe100 43px,#fff300 46px,#ffef00 51px,#ffdf00 54px,#ffdf00)"></i><i style="background:linear-gradient(90deg,#dfff20,#e2ff1d 9px,#eeff11 11px,#fffe00 12px,#ffe000 13px,#ffdf00 14px,#f4ff0b 15px,#dfff20 16px,#e6ff19 31px,#fff900 33px,#ffdf00 35px,#ffe800 47px,#ffe900 51px,#ffdf00)"></i><i style="background:linear-gradient(90deg,#dfff20,#e2ff1d 9px,#fff800 11px,#ffb400 13px,#ffd800 14px,#e9ff16 15px,#dbff24 16px,#e3ff1c 31px,#fff500 33px,#ffdf00 34px,#ffe600 48px,#ffdf00)"></i><i style="background:linear-gradient(90deg,#dfff20,#e0ff1f 9px,#ffff00 10px,#ffe100 11px,#ffab00 12px,#ffa200 13px,#ffe600 14px,#dfff20 15px,#ceff31 16px,#deff21 19px,#e1ff1e 31px,#fff200 33px,#ffdf00 34px,#ffdf00)"></i><i style="background:linear-gradient(90deg,#dfff20,#dfff20 9px,#f8ff07 10px,#ffb400 12px,#ffae00 13px,#fff000 14px,#daff25 15px,#c5ff3a 16px,#dfff20 18px,#dfff20 30px,#e0ff1f 31px,#fff200 33px,#ffdf00 34px,#ffdf00)"></i><i style="background:linear-gradient(90deg,#dfff20,#e1ff1e 10px,#fff500 12px,#ffe700 13px,#fcff03 14px,#d6ff29 15px,#c2ff3d 16px,#c8ff37 17px,#dfff20 18px,#d9ff26 21px,#e1ff1e 31px,#fff500 33px,#ffe100 34px,#ffdf00)"></i><i style="background:linear-gradient(90deg,#dfff20,#dfff20 10px,#ccff33 11px,#d9ff26 14px,#c0ff3f 16px,#dfff20 18px,#d6ff29 21px,#dfff20 30px,#dfff20 31px,#fffa00 33px,#ffdf00 35px,#ffdf00)"></i><i style="background:linear-gradient(90deg,#dfff20,#dfff20 10px,#97ff68 12px,#91ff6e 13px,#b2ff4d 15px,#b7ff48 16px,#deff21 18px,#cfff30 20px,#dfff20 25px,#dfff20 31px,#fbff04 33px,#ffdf00 35px,#ffd400 43px,#ffd300 46px,#ffdf00 48px,#ffdf00)"></i><i style="background:linear-gradient(90deg,#dfff20,#deff21 10px,#c6ff39 11px,#62ff9d 13px,#67ff98 14px,#d6ff29 17px,#c8ff37 20px,#dfff20 24px,#dfff20 32px,#fffc00 34px,#ffe600 35px,#ffd900 40px,#ffb500 45px,#ffde00 48px,#ffdf00)"></i><i style="background:linear-gradient(90deg,#dfff20,#dcff23 10px,#c9ff36 11px,#6cff93 13px,#6fff90 14px,#b9ff46 16px,#d1ff2e 17px,#bdff42 19px,#dfff20 25px,#dfff20 33px,#fff300 35px,#ffdf00 36px,#ffdf00 39px,#ffad00 43px,#ffa000 45px,#ffdf00 49px,#ffdf00)"></i><i style="background:linear-gradient(90deg,#dfff20,#dfff20 10px,#cfff30 11px,#8bff74 13px,#91ff6e 14px,#bdff42 16px,#c0ff3f 17px,#aeff51 19px,#deff21 26px,#e4ff1b 34px,#feff01 35px,#ffe400 36px,#ffdf00 39px,#ffa000 43px,#ffa400 45px,#ffdf00 49px,#ffdf00)"></i><i style="background:linear-gradient(90deg,#dfff20,#dfff20 10px,#d7ff28 11px,#aaff55 13px,#b7ff48 16px,#9fff60 18px,#b8ff47 21px,#bcff43 24px,#dfff20 29px,#dfff20 34px,#f2ff0d 35px,#ffdf00 37px,#ffdf00 39px,#ffa600 42px,#ffa100 44px,#ffdf00 49px,#ffdf00)"></i><i style="background:linear-gradient(90deg,#d5ff2a,#dfff20 3px,#dfff20 11px,#b8ff47 14px,#9fff60 18px,#bcff43 20px,#adff52 24px,#dfff20 29px,#dfff20 34px,#fff500 36px,#ffdf00 37px,#ffdf00 39px,#ff9f00 43px,#ffda00 48px,#ffdd00)"></i><i style="background:linear-gradient(90deg,#c5ff3a,#dbff24 1px,#dfff20 12px,#a4ff5b 16px,#9fff60 17px,#c8ff37 21px,#c6ff39 25px,#dfff20 29px,#e4ff1b 35px,#fff900 36px,#ffdf00 37px,#ffcf00 40px,#ff9f00 43px,#ffa200 44px,#ffd400 47px,#ffdc00 50px,#ffd400 54px,#ffd900)"></i><i style="background:linear-gradient(90deg,#baff45,#dcff23 3px,#c9ff36 6px,#dfff20 10px,#dfff20 12px,#a9ff56 16px,#d2ff2d 21px,#e2ff1d 35px,#fffc00 36px,#ffdf00 37px,#ff9f00 44px,#ffd900 48px,#ffd100 54px,#ffdb00)"></i><i style="background:linear-gradient(90deg,#b0ff4f,#c6ff39 2px,#b7ff48 6px,#dfff20 9px,#dfff20 12px,#bbff44 15px,#bdff42 17px,#dfff20 21px,#e4ff1b 35px,#fffb00 36px,#ffdf00 37px,#ffbb00 40px,#ffab00 43px,#ff9f00 44px,#ffa300 45px,#ffd300 48px,#ffd700 52px,#ffdf00)"></i><i style="background:linear-gradient(90deg,#a6ff59,#b7ff48 3px,#abff54 6px,#b8ff47 7px,#d4ff2b 8px,#dfff20 10px,#d5ff2a 13px,#c7ff38 16px,#dfff20 20px,#d1ff2e 27px,#dfff20 33px,#ebff14 35px,#fff700 36px,#ffb200 40px,#ff9f00 45px,#ffdb00 50px,#ffdf00)"></i><i style="background:linear-gradient(90deg,#9bff64,#b7ff48 3px,#a9ff56 6px,#b7ff48 7px,#d7ff28 8px,#dfff20 12px,#d3ff2c 16px,#deff21 20px,#c1ff3e 26px,#deff21 33px,#dfff20 34px,#fff100 36px,#ffa800 40px,#ffa500 47px,#ffdf00 51px,#ffdf00)"></i><i style="background:linear-gradient(90deg,#8dff72,#b7ff48 2px,#b5ff4a 6px,#c0ff3f 7px,#dcff23 8px,#d8ff27 20px,#afff50 25px,#d1ff2e 28px,#e5ff1a 34px,#fbff04 35px,#ff9f00 41px,#ffa700 48px,#ffdd00 51px,#ffdf00)"></i><i style="background:linear-gradient(90deg,#7dff82,#b9ff46 2px,#c5ff3a 4px,#caff35 7px,#dfff20 8px,#d9ff26 19px,#9fff60 24px,#d2ff2d 27px,#dfff20 33px,#feff01 35px,#ffc400 39px,#ff9f00 41px,#ff9f00 48px,#ffda00 51px,#ffdf00)"></i><i style="background:linear-gradient(90deg,#6bff94,#b1ff4e 2px,#caff35 4px,#d2ff2d 7px,#dfff20 9px,#deff21 18px,#9fff60 23px,#bdff42 25px,#deff21 27px,#e1ff1e 33px,#fdff02 35px,#ffdf00 37px,#ffdf00 38px,#ffa200 41px,#ff9f00 48px,#ffd900 51px,#ffdf00)"></i><i style="background:linear-gradient(90deg,#60ff9f,#70ff8f 1px,#b3ff4c 3px,#ceff31 5px,#dfff20 10px,#dcff23 18px,#a3ff5c 22px,#9fff60 23px,#dbff24 26px,#e5ff1a 33px,#fff700 36px,#ffd300 39px,#ffa300 41px,#ff9f00 48px,#ffdc00 51px,#ffdf00)"></i><i style="background:linear-gradient(90deg,#62ff9d,#60ff9f 1px,#7aff85 2px,#c0ff3f 4px,#ddff22 7px,#dbff24 18px,#9fff60 22px,#a1ff5e 23px,#deff21 26px,#ecff13 34px,#fffd00 36px,#ffd700 39px,#ffa800 41px,#ffab00 43px,#ff9f00 45px,#ff9f00 47px,#ffdf00 51px,#ffdf00)"></i><i style="background:linear-gradient(90deg,#88ff77,#91ff6e 2px,#cbff34 4px,#dfff20 6px,#dbff24 18px,#9fff60 22px,#a2ff5d 23px,#dbff24 26px,#ebff14 32px,#ffff00 36px,#ffb600 41px,#ffcf00 43px,#ff9f00 45px,#ffb900 48px,#ffdd00 50px,#ffdf00)"></i><i style="background:linear-gradient(90deg,#b7ff48,#c6ff39 2px,#dbff24 3px,#e6ff19 5px,#f9ff06 6px,#f9ff06 10px,#dfff20 14px,#ddff22 18px,#9fff60 22px,#9fff60 23px,#dfff20 27px,#fffc00 36px,#ffc300 40px,#ffc000 41px,#ffe200 42px,#fff200 43px,#ffaf00 46px,#ffdf00 50px,#ffdf00)"></i><i style="background:linear-gradient(90deg,#dfff20,#dfff20 2px,#fffc00 3px,#ffc800 4px,#ffc000 5px,#fff000 7px,#ffed00 9px,#f3ff0c 12px,#dfff20 14px,#dfff20 18px,#b5ff4a 21px,#a0ff5f 23px,#c5ff3a 26px,#dfff20 28px,#fff700 36px,#ffc500 40px,#ffd500 41px,#fffc00 42px,#f4ff0b 43px,#ffdf00 45px,#ffd300 47px,#ffdf00 50px,#ffdf00)"></i><i style="background:linear-gradient(90deg,#ffd600,#ffc700 1px,#ff4600 4px,#ff7200 5px,#ffb500 6px,#ffdf00 7px,#fff200 11px,#feff01 12px,#dfff20 14px,#dfff20 18px,#acff53 23px,#9fff60 24px,#daff25 28px,#efff10 31px,#fdff02 34px,#fff500 36px,#ffe100 37px,#ffcd00 40px,#ffee00 41px,#e9ff16 42px,#e2ff1d 43px,#fffd00 45px,#ffdf00 51px,#ffdf00)"></i><i style="background:linear-gradient(90deg,#ff5500,#ff4500 1px,#f60000 3px,#fa0000 4px,#ffc700 6px,#ffd500 8px,#ffd700 11px,#fffe00 13px,#e1ff1e 15px,#deff21 19px,#c9ff36 22px,#a2ff5d 24px,#c5ff3a 27px,#dfff20 29px,#e1ff1e 30px,#fff900 32px,#fff200 36px,#ffe000 37px,#ffd700 40px,#f4ff0b 41px,#ccff33 42px,#e6ff19 48px,#f5ff0a 49px,#ffdf00 51px,#ffdf00)"></i><i style="background:linear-gradient(90deg,#df0000,#df0000 3px,#ff1400 4px,#ffc500 6px,#ffc000 11px,#fffe00 14px,#e4ff1b 16px,#d0ff2f 22px,#aaff55 24px,#a6ff59 25px,#e8ff17 30px,#feff01 31px,#ffe900 33px,#ffee00 36px,#ffdf00 39px,#ffe200 40px,#d6ff29 41px,#a7ff58 42px,#b9ff46 45px,#b2ff4d 47px,#fffd00 50px,#ffdf00 52px,#ffdf00)"></i><i style="background:linear-gradient(90deg,#df0000,#df0000 3px,#ff1c00 4px,#ffb400 6px,#ffb600 10px,#ffdb00 13px,#f9ff06 15px,#dfff20 19px,#d4ff2b 22px,#a7ff58 25px,#fff900 31px,#ffe100 33px,#ffe400 37px,#ffdf00 40px,#d8ff27 41px,#a4ff5b 42px,#a9ff56 47px,#ffff00 50px,#ffdf00 53px,#ffdf00)"></i><i style="background:linear-gradient(90deg,#df0000,#df0000 3px,#ff0e00 4px,#ff9500 6px,#ffc700 12px,#fffa00 15px,#deff21 20px,#c6ff39 23px,#a7ff58 25px,#f5ff0a 30px,#ffdf00 33px,#ffdf00 40px,#f5ff0a 41px,#caff35 42px,#afff50 44px,#b7ff48 46px,#faff05 49px,#ffe200 52px,#ffdf00)"></i><i style="background:linear-gradient(90deg,#df0000,#df0000 3px,#f40000 4px,#ff7400 6px,#ff9f00 7px,#ffb100 10px,#fdff02 16px,#dfff20 19px,#d5ff2a 22px,#a8ff57 25px,#caff35 28px,#feff01 30px,#ffdf00 32px,#ffdf00 40px,#faff05 42px,#deff21 44px,#e5ff1a 46px,#fff600 48px,#ffdf00 51px,#ffdf00)"></i><i style="background:linear-gradient(90deg,#df0000,#df0000 4px,#ff2300 5px,#ff9f00 7px,#ffa900 9px,#ffdf00 13px,#ffeb00 15px,#f6ff09 17px,#dfff20 19px,#cbff34 23px,#abff54 25px,#b4ff4b 27px,#edff12 29px,#fff600 30px,#ffdf00 32px,#ffe600 43px,#ffee00 45px,#ffdf00 48px,#ffdf00)"></i><i style="background:linear-gradient(90deg,#df0000,#df0000 4px,#ff2300 5px,#ff6a00 6px,#ff9f00 7px,#ffb100 9px,#ffdf00 13px,#ffe800 15px,#f8ff07 17px,#dfff20 19px,#d3ff2c 23px,#b1ff4e 26px,#b8ff47 27px,#f1ff0e 29px,#ffdf00 31px,#ffe200 43px,#ffe300 46px,#fff800 49px,#ffec00)"></i><i style="background:linear-gradient(90deg,#ef0000,#df0000 3px,#f40000 4px,#ff8a00 6px,#ffd400 11px,#ffdf00 13px,#ffea00 16px,#f3ff0c 18px,#dfff20 20px,#d5ff2a 24px,#c6ff39 27px,#f5ff0a 29px,#ffdf00 31px,#fffa00 39px,#eeff11 42px,#efff10 46px,#ebff14 49px,#fffb00 53px,#fdff02)"></i><i style="background:linear-gradient(90deg,#ff1a00,#f90000 2px,#ef0000 3px,#ff2700 4px,#ff7000 5px,#ff9f00 6px,#ffd500 10px,#ffe900 17px,#faff05 19px,#dfff20 24px,#e0ff1f 28px,#fff300 30px,#ffdf00 31px,#faff05 38px,#ceff31 41px,#cbff34 48px,#f6ff09 52px,#e7ff18)"></i><i style="background:linear-gradient(90deg,#ff4700,#ff1d00 2px,#ff2c00 3px,#ff9c00 5px,#ffbc00 7px,#ffdd00 10px,#ffe100 18px,#ffff00 23px,#e9ff16 26px,#f8ff07 28px,#ffdf00 31px,#ffee00 33px,#f4ff0b 36px,#e2ff1d 38px,#baff45 40px,#b1ff4e 47px,#ccff33 49px,#e8ff17 51px,#dfff20)"></i><i style="background:linear-gradient(90deg,#ff6000,#ff4a00 2px,#ff5c00 3px,#ff9f00 5px,#ffd500 8px,#ffdf00 12px,#ffbe00 14px,#ffbb00 15px,#ffdf00 18px,#ffd800 23px,#ffde00 26px,#ffc300 29px,#ffdf00 32px,#f3ff0c 34px,#e2ff1d 35px,#d7ff28 37px,#a0ff5f 40px,#a6ff59 47px,#adff52 48px,#d7ff28 50px,#e2ff1d 52px,#d8ff27)"></i><i style="background:linear-gradient(90deg,#ff6c00,#ff6000 1px,#ff7b00 3px,#ffd300 8px,#ffd900 12px,#ffa500 14px,#ffa100 16px,#ffdb00 19px,#ffdf00 20px,#ffb200 23px,#ff9f00 28px,#ffbd00 30px,#fdff02 33px,#daff25 35px,#ddff22 36px,#9fff60 40px,#a3ff5c 47px,#d7ff28 51px,#dfff20 53px,#cbff34)"></i><i style="background:linear-gradient(90deg,#ff7e00,#ff7000 2px,#ffd100 9px,#ffd400 11px,#ff8f00 14px,#ff7e00 16px,#ffdf00 20px,#ffc700 22px,#ff9f00 24px,#ffab00 27px,#ffe300 30px,#fffe00 31px,#f6ff09 32px,#afff50 34px,#a5ff5a 35px,#adff52 37px,#9fff60 43px,#a6ff59 47px,#dbff24 52px,#bdff42)"></i><i style="background:linear-gradient(90deg,#ff8c00,#ff8300 2px,#ffa900 5px,#ffa300 6px,#ffc600 10px,#ff6500 15px,#ff5f00 16px,#ff6c00 17px,#ffdf00 20px,#ffd100 22px,#ffb100 24px,#ffb800 26px,#f9ff06 30px,#d9ff26 32px,#7eff81 34px,#73ff8c 35px,#8aff75 37px,#9fff60 44px,#b7ff48 50px,#cfff30 52px,#adff52)"></i><i style="background:linear-gradient(90deg,#ff9900,#ff9600 2px,#ffb700 6px,#ff9c00 10px,#ff3300 16px,#ff3900 17px,#ffd200 20px,#ffdf00 21px,#ffc300 25px,#fff500 29px,#d4ff2b 31px,#cbff34 32px,#60ff9f 35px,#6bff94 37px,#9eff61 42px,#a3ff5c 49px,#bfff40 51px,#b3ff4c 53px,#9fff60)"></i><i style="background:linear-gradient(90deg,#ff9f00,#ffc900 7px,#ff9d00 9px,#ff4200 12px,#ff2b00 14px,#fe0000 16px,#ff0900 17px,#ff3700 18px,#ffbe00 20px,#ffdf00 21px,#ffd300 25px,#ffe600 28px,#fcff03 29px,#c8ff37 31px,#c5ff3a 32px,#5dffa2 35px,#5affa5 38px,#9bff64 43px,#a1ff5e 49px,#b0ff4f 50px,#adff52 52px,#98ff67)"></i><i style="background:linear-gradient(90deg,#ffa500,#ffcc00 5px,#ffdf00 7px,#ffd200 8px,#ff6c00 10px,#ff4b00 11px,#ff3f00 14px,#ff1b00 15px,#ec0000 16px,#df0000 17px,#ff0b00 18px,#ffb700 20px,#ffdf00 21px,#ffe700 28px,#fcff03 29px,#caff35 31px,#adff52 33px,#63ff9c 35px,#4cffb3 39px,#89ff76 43px,#9fff60 51px,#9aff65 53px,#7fff80)"></i><i style="background:linear-gradient(90deg,#ffb700,#ffca00 5px,#ffdf00 7px,#ffd300 8px,#ffa400 9px,#ff8a00 10px,#ff8e00 13px,#ff7f00 14px,#ff5900 15px,#ff1500 16px,#ee0000 17px,#ff1600 18px,#ffc400 20px,#ffe000 21px,#ffdf00 27px,#fff900 29px,#bdff42 32px,#b9ff46 33px,#66ff99 35px,#45ffba 37px,#40ffbf 40px,#74ff8b 43px,#8aff75 50px,#94ff6b 52px,#6cff93 54px,#69ff96)"></i><i style="background:linear-gradient(90deg,#ffc800,#ffce00 5px,#ffdf00 7px,#ffba00 9px,#ffb500 10px,#ffcd00 12px,#ffce00 13px,#ffbc00 14px,#ff5d00 16px,#ff3c00 17px,#ff6000 18px,#ffec00 20px,#ffdf00 26px,#fff900 29px,#f4ff0b 30px,#8eff71 34px,#61ff9e 35px,#35ffca 37px,#27ffd8 38px,#2affd5 39px,#3fffc0 40px,#53ffac 42px,#69ff96 45px,#66ff99 48px,#83ff7c 50px,#84ff7b 51px,#54ffab 54px,#54ffab)"></i><i style="background:linear-gradient(90deg,#ffd800,#ffd200 5px,#ffdf00 7px,#ffcb00 9px,#ffdf00 12px,#ffdf00 14px,#ffcb00 15px,#ff9b00 16px,#ff9200 17px,#ffab00 18px,#ffdb00 19px,#fffa00 20px,#ffe700 26px,#f2ff0d 30px,#82ff7d 34px,#58ffa7 35px,#0dfff2 38px,#0afff5 39px,#44ffbb 41px,#60ff9f 45px,#58ffa7 49px,#64ff9b 51px,#40ffbf 54px,#40ffbf)"></i><i style="background:linear-gradient(90deg,#ffdf00,#ffd500 5px,#ffdf00 7px,#ffd400 9px,#ffe200 12px,#ffd700 17px,#f4ff0b 19px,#fff700 26px,#e5ff1a 30px,#acff53 32px,#9fff60 33px,#36ffc9 35px,#1affe5 37px,#00fcff 38px,#00f1ff 39px,#11ffee 40px,#4affb5 42px,#53ffac 43px,#3cffc3 45px,#22ffdd 47px,#34ffcb 50px,#45ffba 51px,#40ffbf)"></i><i style="background:linear-gradient(90deg,#ffdf00,#ffdf00 7px,#ffd400 9px,#ffe800 13px,#ffea00 15px,#f6ff09 17px,#e6ff19 20px,#f3ff0c 26px,#dfff20 30px,#7dff82 33px,#37ffc8 34px,#0ffff0 35px,#00f7ff 38px,#00e2ff 39px,#01fffe 40px,#32ffcd 42px,#34ffcb 43px,#00f5ff 46px,#00f3ff 48px,#04fffb 49px,#3effc1 51px,#3affc5 52px,#17ffe8 54px,#11ffee)"></i><i style="background:linear-gradient(90deg,#ffdf00,#ffdf00 7px,#ffcf00 9px,#ffdf00 10px,#f7ff08 16px,#dfff20 18px,#dfff20 29px,#d1ff2e 30px,#99ff66 32px,#45ffba 33px,#00f8ff 34px,#00e1ff 37px,#00e8ff 38px,#00dfff 39px,#0bfff4 41px,#18ffe7 42px,#00f9ff 44px,#00dfff 45px,#00ddff 48px,#07fff8 50px,#1fffe0 51px,#00f9ff 53px,#00daff)"></i><i style="background:linear-gradient(90deg,#ffdf00,#ffdf00 7px,#ffcf00 9px,#ffdf00 11px,#ffeb00 13px,#fffd00 14px,#dfff20 17px,#deff21 29px,#9fff60 31px,#65ff9a 32px,#0afff5 33px,#00d4ff 35px,#00d8ff 37px,#00e3ff 38px,#00e3ff 40px,#00f7ff 42px,#00caff 45px,#00a1ff 46px,#0096ff 47px,#009fff 48px,#00edff 51px,#00a8ff)"></i><i style="background:linear-gradient(90deg,#ffdf00,#ffdf00 7px,#ffe600 12px,#f7ff08 14px,#dfff20 17px,#dfff20 28px,#ccff33 29px,#92ff6d 31px,#37ffc8 32px,#00e5ff 33px,#00d1ff 36px,#00ebff 39px,#00dfff 41px,#00dfff 43px,#005cff 46px,#0058ff 47px,#006bff 48px,#00baff 50px,#00b1ff 52px,#009fff 53px,#009fff)"></i><i style="background:linear-gradient(90deg,#ffdf00,#ffdf00 3px,#fff300 5px,#ffdf00 8px,#ffe700 11px,#fdff02 13px,#dfff20 16px,#dcff23 28px,#9fff60 30px,#73ff8c 31px,#21ffde 32px,#00e8ff 33px,#00e2ff 36px,#00f5ff 38px,#00dfff 40px,#00d5ff 42px,#00b5ff 43px,#004eff 45px,#0026ff 46px,#0034ff 47px,#0083ff 49px,#009fff 50px,#009cff)"></i><i style="background:linear-gradient(90deg,#ffea00,#ffdf00 3px,#fffb00 4px,#f4ff0b 5px,#fff600 8px,#fbff04 12px,#e0ff1f 15px,#dfff20 27px,#d2ff2d 28px,#9fff60 30px,#27ffd8 32px,#00feff 33px,#00dfff 35px,#00e2ff 36px,#00fdff 37px,#00efff 39px,#00b0ff 42px,#0061ff 44px,#002dff 45px,#0020ff 46px,#0029ff 47px,#0088ff 49px,#009eff 50px,#0097ff)"></i><i style="background:linear-gradient(90deg,#fff200,#ffe000 3px,#fbff04 4px,#e1ff1e 5px,#eeff11 9px,#dfff20 16px,#dfff20 27px,#9fff60 30px,#38ffc7 32px,#0ffff0 34px,#00ffff 35px,#00e5ff 36px,#00f4ff 38px,#00bfff 40px,#009bff 41px,#008eff 42px,#004aff 44px,#000aff 47px,#0033ff 48px,#0074ff 49px,#0090ff 50px,#0094ff)"></i><i style="background:linear-gradient(90deg,#fff700,#ffe500 3px,#fdff02 4px,#dfff20 5px,#dcff23 27px,#a9ff56 29px,#9fff60 30px,#4affb5 32px,#1affe5 35px,#00f8ff 36px,#00dfff 37px,#00d9ff 38px,#006fff 41px,#004fff 44px,#003aff 45px,#0015ff 46px,#0000f1 47px,#0004ff 48px,#004fff 49px,#0083ff 50px,#0087ff 54px,#008fff)"></i><i style="background:linear-gradient(90deg,#fffc00,#ffee00 3px,#ffff00 4px,#dfff20 6px,#dfff20 26px,#baff45 28px,#a1ff5e 29px,#9dff62 30px,#6fff90 31px,#56ffa9 32px,#41ffbe 34px,#2bffd4 35px,#05fffa 36px,#00dfff 37px,#00d7ff 38px,#005aff 41px,#0038ff 44px,#0000fe 46px,#0000db 47px,#0000c9 48px,#0016ff 49px,#0068ff 50px,#0085ff)"></i><i style="background:linear-gradient(90deg,#fbff04,#ffff00 4px,#dfff20 7px,#dfff20 26px,#8eff71 30px,#6bff94 31px,#50ffaf 34px,#38ffc7 35px,#11ffee 36px,#00dfff 37px,#00ddff 38px,#0015ff 41px,#0004ff 44px,#0000da 46px,#0000a3 48px,#0000ca 49px,#0022ff 50px,#0062ff 51px,#0076ff)"></i><i style="background:linear-gradient(90deg,#efff10,#f5ff0a 5px,#dfff20 8px,#d8ff27 26px,#a6ff59 28px,#9fff60 29px,#66ff99 31px,#5cffa3 34px,#46ffb9 35px,#20ffdf 36px,#00edff 37px,#00dfff 38px,#00a0ff 39px,#0000f1 41px,#0000c4 45px,#00009f 49px,#0000ec 50px,#0038ff 51px,#0060ff 52px,#0064ff)"></i><i style="background:linear-gradient(90deg,#dfff20,#e8ff17 6px,#dfff20 10px,#f4ff0b 13px,#dfff20 19px,#dfff20 25px,#b8ff47 27px,#9fff60 28px,#9aff65 29px,#72ff8d 30px,#60ff9f 31px,#64ff9b 34px,#52ffad 35px,#04fffb 37px,#00bcff 39px,#0000f7 41px,#0000d0 43px,#00009f 49px,#0000e2 50px,#006aff 51px,#00c5ff 52px,#00b2ff 53px,#0077ff 54px,#0060ff)"></i><i style="background:linear-gradient(90deg,#dfff20,#e2ff1d 10px,#ffff00 12px,#fff500 13px,#eaff15 16px,#dfff20 23px,#dfff20 25px,#91ff6e 29px,#6cff93 30px,#5effa1 31px,#67ff98 34px,#42ffbd 36px,#1bffe4 37px,#00e6ff 38px,#00ddff 39px,#0007ff 41px,#0000cd 43px,#0000a0 49px,#0000ae 50px,#0086ff 51px,#38ffc7 52px,#6cff93 53px,#03fffc)"></i><i style="background:linear-gradient(90deg,#dfff20,#dfff20 10px,#fffa00 12px,#ffe300 13px,#ffe500 14px,#f3ff0c 16px,#dfff20 20px,#dfff20 25px,#9fff60 28px,#92ff6d 29px,#6fff90 30px,#5effa1 32px,#60ff9f 35px,#2effd1 37px,#00fdff 38px,#00dfff 39px,#0090ff 40px,#001aff 41px,#0000df 42px,#0000b6 45px,#00009f 50px,#00b5ff 51px,#bdff42 52px,#ffe500 53px,#e4ff1b 54px,#b4ff4b)"></i><i style="background:linear-gradient(90deg,#dfff20,#e6ff19 11px,#fbff04 12px,#ffdf00 14px,#ffe700 15px,#fffe00 16px,#e2ff1d 19px,#dfff20 25px,#9fff60 28px,#9eff61 29px,#7aff85 30px,#5fffa0 32px,#5fffa0 35px,#54ffab 36px,#3affc5 37px,#0efff1 38px,#00dfff 39px,#00a7ff 40px,#002dff 41px,#0000df 42px,#0000b3 45px,#00009f 49px,#0000bb 50px,#07fff8 51px,#ff9a00 52px,#ff4c00 53px,#ffa700)"></i><i style="background:linear-gradient(90deg,#dfff20,#e1ff1e 11px,#fffb00 13px,#ffe200 15px,#faff05 17px,#dfff20 21px,#dfff20 25px,#a2ff5d 28px,#9fff60 29px,#62ff9d 32px,#51ffae 36px,#3cffc3 37px,#15ffea 38px,#00dfff 39px,#00b5ff 40px,#003cff 41px,#0000df 42px,#0000b1 45px,#00009f 49px,#0012ff 50px,#56ffa9 51px,#ff5400 52px,#ff2000 53px,#ff2000)"></i><i style="background:linear-gradient(90deg,#dfff20,#e0ff1f 11px,#fff500 14px,#ffe800 16px,#faff05 18px,#dfff20 22px,#dfff20 25px,#9fff60 29px,#9fff60 30px,#54ffab 33px,#44ffbb 36px,#33ffcc 37px,#0ffff0 38px,#00dfff 39px,#00bbff 40px,#0045ff 41px,#0000df 42px,#0000a9 46px,#00009f 49px,#0042ff 50px,#46ffb9 51px,#ff6800 52px,#ff3300 53px,#ff2000 54px,#ff2000)"></i><i style="background:linear-gradient(90deg,#dfff20,#e3ff1c 11px,#fff400 15px,#ffe700 17px,#f6ff09 20px,#dfff20 22px,#dfff20 25px,#a1ff5e 29px,#9fff60 30px,#8dff72 31px,#4fffb0 33px,#1affe5 37px,#00fcff 38px,#00b6ff 40px,#0049ff 41px,#0000df 42px,#0000a0 47px,#00009f 48px,#0000be 49px,#003fff 50px,#05fffa 51px,#fff800 52px,#ffd500 53px,#ffda00 54px,#fff400)"></i><i style="background:linear-gradient(90deg,#dfff20,#e6ff19 11px,#fffb00 15px,#ffe100 17px,#fffb00 20px,#dfff20 22px,#d6ff29 26px,#9eff61 29px,#9aff65 31px,#4bffb4 33px,#0ffff0 36px,#00ffff 37px,#00dfff 39px,#00abff 40px,#0048ff 41px,#0000e2 42px,#0000a2 47px,#00009f 48px,#0000b8 49px,#0011ff 50px,#0094ff 51px,#3bffc4 52px,#68ff97 53px,#47ffb8 54px,#0ffff0)"></i><i style="background:linear-gradient(90deg,#dfff20,#e1ff1e 10px,#fff800 16px,#ffdf00 18px,#fff700 20px,#dfff20 22px,#dfff20 25px,#d5ff2a 26px,#98ff67 29px,#8cff73 30px,#90ff6f 31px,#21ffde 34px,#08fff7 35px,#00dfff 38px,#00dfff 39px,#009aff 40px,#0044ff 41px,#0000ec 42px,#00009f 48px,#0000a1 49px,#0000d0 50px,#000fff 51px,#0058ff 52px,#007dff 53px,#0047ff 54px,#0000fc)"></i><i style="background:linear-gradient(90deg,#dfff20,#e4ff1b 10px,#fff800 17px,#ffed00 19px,#fffe00 20px,#dfff20 22px,#dfff20 25px,#d2ff2d 26px,#7cff83 30px,#7dff82 31px,#15ffea 34px,#00f8ff 35px,#00dfff 37px,#00dfff 38px,#00c9ff 39px,#0000f5 42px,#0000df 43px,#0000a1 48px,#00009f)"></i><i style="background:linear-gradient(90deg,#dfff20,#e8ff17 15px,#ffff00 19px,#dfff20 22px,#dfff20 25px,#ceff31 26px,#67ff98 30px,#67ff98 31px,#08fff7 34px,#00dfff 36px,#00dfff 38px,#007dff 40px,#0000fd 42px,#0000df 43px,#0000d2 45px,#00009f 49px,#00009f)"></i><i style="background:linear-gradient(90deg,#dfff20,#e1ff1e 17px,#e5ff1a 20px,#dfff20 25px,#cfff30 26px,#70ff8f 29px,#56ffa9 31px,#00faff 34px,#00e4ff 35px,#00d3ff 38px,#0079ff 40px,#0007ff 42px,#0000df 43px,#0000d6 45px,#00009f 49px,#00009f)"></i><i style="background:linear-gradient(90deg,#dfff20,#e2ff1d 22px,#dfff20 25px,#d5ff2a 26px,#6bff94 29px,#48ffb7 31px,#09fff6 33px,#00dfff 35px,#00dfff 37px,#00cdff 38px,#0079ff 40px,#000aff 42px,#0000df 43px,#0000d5 45px,#00009f 49px,#00009f)"></i><i style="background:linear-gradient(90deg,#cfff30,#dfff20 1px,#dfff20 16px,#faff05 22px,#dfff20 26px,#99ff66 28px,#6dff92 29px,#60ff9f 30px,#00feff 33px,#00e7ff 34px,#00dfff 37px,#00a2ff 39px,#0000fe 42px,#0000df 43px,#0000c3 46px,#00009f 49px,#00009f)"></i><i style="background:linear-gradient(90deg,#a8ff57,#dfff20 2px,#dfff20 16px,#fffe00 19px,#ffe300 21px,#f6ff09 24px,#d7ff28 27px,#7bff84 29px,#00fbff 33px,#00e4ff 34px,#00daff 37px,#0092ff 39px,#0023ff 41px,#0000df 42px,#0000d2 44px,#00009f 49px,#00009f)"></i><i style="background:linear-gradient(90deg,#88ff77,#beff41 3px,#ddff22 12px,#c8ff37 16px,#ebff14 19px,#fffe00 20px,#fff000 21px,#eeff11 24px,#dfff20 27px,#bfff40 28px,#60ff9f 30px,#4effb1 31px,#01fffe 33px,#00e6ff 34px,#00dfff 36px,#00caff 37px,#0074ff 39px,#0000fa 41px,#0000df 42px,#0000a0 48px,#00009f)"></i><i style="background:linear-gradient(90deg,#70ff8f,#ddff22 10px,#b4ff4b 14px,#b5ff4a 17px,#d9ff26 21px,#d0ff2f 24px,#d7ff28 26px,#bcff43 28px,#67ff98 30px,#5fffa0 31px,#0cfff3 33px,#00dfff 35px,#00dfff 36px,#0089ff 38px,#0017ff 40px,#0000df 41px,#0000dc 42px,#0000b2 45px,#00009f 49px,#00009f)"></i><i style="background:linear-gradient(90deg,#5bffa4,#6aff95 3px,#99ff66 5px,#b0ff4f 7px,#d4ff2b 9px,#beff41 11px,#9fff60 14px,#afff50 21px,#aaff55 23px,#c2ff3d 26px,#abff54 28px,#6aff95 30px,#60ff9f 31px,#18ffe7 33px,#00f7ff 34px,#00dfff 35px,#00dfff 36px,#00b7ff 37px,#0000fa 40px,#0000df 41px,#0000a6 46px,#00009f)"></i><i style="background:linear-gradient(90deg,#40ffbf,#40ffbf 2px,#8cff73 5px,#b9ff46 9px,#9fff60 13px,#9fff60 24px,#acff53 26px,#9cff63 28px,#65ff9a 30px,#60ff9f 31px,#04fffb 34px,#00c5ff 37px,#0000fa 40px,#0000a1 46px,#00009f)"></i><i style="background:linear-gradient(90deg,#40ffbf,#4bffb4 3px,#72ff8d 5px,#9fff60 11px,#9fff60 27px,#6dff92 29px,#60ff9f 31px,#0ffff0 34px,#00f6ff 35px,#00dfff 36px,#00deff 37px,#0017ff 40px,#0000f9 41px,#0000d2 43px,#00009f 46px,#00009f)"></i><i style="background:linear-gradient(90deg,#4affb5,#60ff9f 6px,#60ff9f 7px,#9bff64 11px,#98ff67 22px,#9bff64 26px,#63ff9c 29px,#55ffaa 31px,#01fffe 35px,#00dfff 37px,#00c0ff 38px,#0040ff 40px,#000dff 41px,#0001ff 42px,#0000a6 45px,#00009f)"></i><i style="background:linear-gradient(90deg,#59ffa6,#60ff9f 4px,#6fff90 6px,#60ff9f 7px,#78ff87 9px,#9fff60 12px,#9aff65 21px,#8aff75 24px,#87ff78 26px,#60ff9f 29px,#60ff9f 30px,#29ffd6 32px,#03fffc 35px,#00dfff 37px,#00deff 38px,#0027ff 41px,#001bff 42px,#0000ed 43px,#0000a6 45px,#00009f)"></i><i style="background:linear-gradient(90deg,#60ff9f,#65ff9a 1px,#97ff68 3px,#d3ff2c 5px,#b3ff4c 6px,#7eff81 7px,#60ff9f 8px,#9cff63 12px,#9fff60 20px,#6aff95 27px,#60ff9f 29px,#15ffea 32px,#00fcff 35px,#00dfff 37px,#00dfff 38px,#00c5ff 39px,#0043ff 41px,#0000fd 43px,#0000b2 45px,#00009f 46px,#00009f)"></i><i style="background:linear-gradient(90deg,#dbff24,#fff600 3px,#ffcb00 5px,#fff400 6px,#60ff9f 8px,#7aff85 10px,#9bff64 12px,#9dff62 20px,#57ffa8 29px,#12ffed 31px,#00faff 33px,#00daff 39px,#003aff 42px,#002bff 43px,#0000fd 44px,#0000b3 46px,#00009f 47px,#00009f)"></i><i style="background:linear-gradient(90deg,#ffb400,#ff9f00 3px,#ff9f00 5px,#ffd200 6px,#ccff33 7px,#71ff8e 8px,#69ff96 9px,#9bff64 12px,#9cff63 20px,#60ff9f 26px,#60ff9f 28px,#46ffb9 29px,#02fffd 31px,#00e2ff 36px,#00dfff 39px,#0064ff 42px,#0059ff 43px,#0015ff 45px,#0000e9 46px,#0000ba 47px,#0000aa 48px,#0000a2 52px,#00009f)"></i><i style="background:linear-gradient(90deg,#ff9f00,#ff9e00 5px,#ffd700 6px,#d2ff2d 7px,#7dff82 8px,#6eff91 9px,#86ff79 11px,#9dff62 12px,#9cff63 20px,#71ff8e 24px,#60ff9f 25px,#60ff9f 28px,#14ffeb 30px,#00faff 31px,#00dfff 35px,#00dfff 39px,#00a8ff 41px,#0060ff 43px,#0060ff 44px,#004dff 45px,#0000fd 47px,#0000cc 48px,#0000a0 53px,#00009f)"></i><i style="background:linear-gradient(90deg,#ff8e00,#ff8e00 4px,#ffa200 5px,#ffec00 6px,#c5ff3a 7px,#75ff8a 8px,#70ff8f 9px,#86ff79 11px,#9eff61 12px,#9cff63 20px,#73ff8c 24px,#60ff9f 25px,#59ffa6 28px,#14ffeb 30px,#00fbff 31px,#00dfff 35px,#00dcff 39px,#0060ff 44px,#0053ff 46px,#0000fb 48px,#0000c9 49px,#0000a1 53px,#00009f)"></i><i style="background:linear-gradient(90deg,#ff7f00,#ff7a00 3px,#ff8a00 4px,#f3ff0c 6px,#6fff90 8px,#9fff60 13px,#98ff67 21px,#73ff8c 24px,#60ff9f 25px,#50ffaf 28px,#04fffb 31px,#00dfff 35px,#00d9ff 38px,#00abff 41px,#0069ff 44px,#0060ff 46px,#0047ff 47px,#001cff 48px,#0000e5 49px,#0000ac 52px,#00009f)"></i><i style="background:linear-gradient(90deg,#ff7200,#ff6a00 2px,#ff7900 3px,#ffea00 5px,#d5ff2a 6px,#95ff6a 7px,#75ff8a 8px,#93ff6c 16px,#88ff77 22px,#4fffb0 27px,#39ffc6 29px,#0cfff3 31px,#00f2ff 33px,#00e1ff 34px,#00dfff 36px,#00a3ff 41px,#0060ff 45px,#0053ff 47px,#0001ff 49px,#0000d7 50px,#00009f 54px,#00009f)"></i><i style="background:linear-gradient(90deg,#ff6500,#ff6000 2px,#feff01 5px,#88ff77 7px,#7aff85 14px,#79ff86 22px,#4cffb3 27px,#38ffc7 29px,#05fffa 32px,#00e2ff 34px,#00d7ff 36px,#00b2ff 39px,#0060ff 45px,#005dff 47px,#0012ff 49px,#0000e4 50px,#0000dd 51px,#00009f 54px,#00009f)"></i><i style="background:linear-gradient(90deg,#ff6000,#ff6c00 2px,#ffd300 4px,#f4ff0b 5px,#8bff74 7px,#7eff81 11px,#61ff9e 15px,#6dff92 22px,#59ffa6 26px,#3affc5 29px,#07fff8 32px,#00e1ff 34px,#00d0ff 36px,#00a8ff 39px,#0060ff 46px,#0060ff 47px,#004eff 48px,#0000fa 50px,#0000b5 53px,#0000a8)"></i><i style="background:linear-gradient(90deg,#ff6000,#ff6000 1px,#ff7d00 2px,#ffe200 4px,#f1ff0e 5px,#9cff63 7px,#96ff69 9px,#60ff9f 14px,#60ff9f 25px,#3affc5 28px,#3affc5 29px,#04fffb 32px,#00dfff 34px,#00dfff 35px,#00adff 38px,#006fff 45px,#0058ff 48px,#0014ff 50px,#0000f9 51px,#0000c2 54px,#0000c1)"></i><i style="background:linear-gradient(90deg,#ff6000,#ff6000 1px,#ffed00 4px,#e8ff17 5px,#bbff44 6px,#9fff60 7px,#8bff74 10px,#60ff9f 14px,#5effa1 25px,#30ffcf 28px,#1dffe2 30px,#00fdff 32px,#00dfff 34px,#00dfff 35px,#00b1ff 38px,#0085ff 44px,#0060ff 47px,#005cff 48px,#0021ff 50px,#0000fe 52px,#0000da 54px,#0000d8)"></i><i style="background:linear-gradient(90deg,#ff6000,#ff6000 1px,#ffc900 3px,#fff200 4px,#e4ff1b 5px,#b6ff49 6px,#9fff60 7px,#7fff80 11px,#60ff9f 14px,#60ff9f 24px,#43ffbc 26px,#21ffde 28px,#00feff 31px,#00e2ff 33px,#00dbff 35px,#00b8ff 38px,#008bff 44px,#0060ff 47px,#005aff 48px,#0027ff 50px,#001eff 51px,#0002ff 52px,#0000df 54px,#0000df)"></i><i style="background:linear-gradient(90deg,#ff6000,#ff6000 1px,#ffca00 3px,#fff200 4px,#e4ff1b 5px,#b4ff4b 6px,#9fff60 7px,#60ff9f 13px,#5cffa3 24px,#07fff8 28px,#00d4ff 35px,#0087ff 44px,#0060ff 47px,#003aff 49px,#0000f5 52px,#0000df 53px,#0000df)"></i><i style="background:linear-gradient(90deg,#ff6000,#ff6000 1px,#ffc600 3px,#ffee00 4px,#e6ff19 5px,#b4ff4b 6px,#9fff60 7px,#60ff9f 13px,#52ffad 23px,#4affb5 24px,#12ffed 26px,#00f4ff 27px,#00e0ff 28px,#00dfff 34px,#00c4ff 36px,#0090ff 42px,#0060ff 46px,#0060ff 47px,#0003ff 51px,#0000df 53px,#0000df)"></i><i style="background:linear-gradient(90deg,#ff6000,#ff6000 1px,#ffeb00 4px,#e8ff17 5px,#b7ff48 6px,#9fff60 7px,#7eff81 10px,#60ff9f 13px,#59ffa6 19px,#33ffcc 24px,#11ffee 25px,#00f7ff 26px,#00dfff 28px,#00d8ff 34px,#00b6ff 37px,#0068ff 44px,#005bff 47px,#0024ff 49px,#0000f5 51px,#0000df 52px,#0000df)"></i><i style="background:linear-gradient(90deg,#ff6000,#ff6000 1px,#ff8100 2px,#ffe900 4px,#eaff15 5px,#bdff42 6px,#9fff60 7px,#9fff60 8px,#63ff9c 12px,#57ffa8 20px,#37ffc8 24px,#00fbff 26px,#00dfff 28px,#00dfff 33px,#00a7ff 37px,#0061ff 42px,#0060ff 46px,#003aff 48px,#000bff 50px,#0000df 52px,#0000df)"></i></div>
<div class="pn" style="left:428px;top:341px;width:55px;height:223px"><i style="background:linear-gradient(90deg,#009fff,#009cff 16px,#0058ff 20px,#0020ff 22px,#0020ff 38px,#0000fb 40px,#0000e4 41px,#0000fe 42px,#00d9ff 44px,#20ffdf 45px,#27ffd8 46px,#93ff6c 50px,#dfff20 52px,#dfff20)"></i><i style="background:linear-gradient(90deg,#009fff,#009eff 16px,#005cff 20px,#0022ff 22px,#0020ff 38px,#0000fd 40px,#0000e7 41px,#0000e9 42px,#005bff 43px,#00c0ff 44px,#14ffeb 45px,#37ffc8 47px,#8cff73 50px,#dfff20 52px,#dfff20)"></i><i style="background:linear-gradient(90deg,#009fff,#009fff 16px,#0060ff 20px,#0028ff 22px,#0020ff 30px,#001bff 38px,#0000fa 40px,#0000e6 41px,#0000e8 42px,#0055ff 43px,#00b7ff 44px,#0afff5 45px,#39ffc6 48px,#70ff8f 50px,#c8ff37 52px,#dfff20)"></i><i style="background:linear-gradient(90deg,#009fff,#00a5ff 7px,#00adff 11px,#0095ff 17px,#004bff 21px,#0020ff 23px,#0020ff 37px,#0005ff 39px,#0000e1 41px,#0000f9 42px,#00b9ff 44px,#01fffe 45px,#30ffcf 49px,#7fff80 52px,#9bff64)"></i><i style="background:linear-gradient(90deg,#009fff,#00a4ff 5px,#00bcff 10px,#009bff 17px,#005bff 21px,#0020ff 23px,#0019ff 37px,#0000fc 39px,#0000df 41px,#0012ff 42px,#00beff 44px,#00ffff 45px,#03fffc 47px,#33ffcc 51px,#5affa5)"></i><i style="background:linear-gradient(90deg,#009fff,#00a4ff 3px,#00caff 8px,#00b0ff 17px,#0075ff 21px,#002aff 23px,#0020ff 26px,#0020ff 36px,#0000f5 39px,#0000df 41px,#002bff 42px,#00c5ff 44px,#00efff 45px,#08fff7 49px,#20ffdf 51px,#22ffdd)"></i><i style="background:linear-gradient(90deg,#00a4ff,#00dcff 8px,#00c3ff 17px,#008dff 21px,#0038ff 23px,#0020ff 24px,#0020ff 36px,#0003ff 38px,#0000e0 40px,#0000f2 41px,#0087ff 43px,#00c9ff 44px,#00e8ff 46px,#03fffc 49px,#18ffe7 52px,#1effe1)"></i><i style="background:linear-gradient(90deg,#00bdff,#00dfff 5px,#00daff 15px,#0093ff 21px,#0020ff 24px,#0020ff 36px,#0003ff 38px,#0000df 40px,#0006ff 41px,#0096ff 43px,#00ceff 44px,#00cdff 46px,#08fff7 50px,#12ffed)"></i><i style="background:linear-gradient(90deg,#00daff,#00dfff 14px,#0091ff 21px,#0021ff 24px,#001eff 37px,#0000f7 39px,#0000ec 40px,#0016ff 41px,#006cff 43px,#0081ff 44px,#0081ff 45px,#00f7ff 50px,#08fff7)"></i><i style="background:linear-gradient(90deg,#00dfff,#00dfff 14px,#009fff 20px,#006cff 22px,#0024ff 24px,#0028ff 34px,#0030ff 37px,#0008ff 39px,#0000fe 40px,#002bff 42px,#0028ff 44px,#003dff 45px,#00c2ff 49px,#00f3ff 51px,#00ffff)"></i><i style="background:linear-gradient(90deg,#00dfff,#00ddff 14px,#00a0ff 19px,#009fff 20px,#0024ff 24px,#0028ff 32px,#0045ff 36px,#003fff 37px,#0016ff 39px,#0012ff 41px,#0002ff 42px,#0000e2 43px,#0000e2 44px,#0017ff 45px,#007cff 48px,#00e3ff 52px,#00f5ff 53px,#00f7ff)"></i><i style="background:linear-gradient(90deg,#00dfff,#00daff 14px,#0092ff 20px,#0021ff 24px,#0027ff 31px,#0045ff 35px,#0055ff 36px,#0038ff 38px,#0006ff 41px,#0000df 43px,#0000f8 44px,#0048ff 46px,#0074ff 48px,#009cff 51px,#00daff 53px,#00eeff)"></i><i style="background:linear-gradient(90deg,#00e8ff,#00f0ff 3px,#00dfff 8px,#00dfff 13px,#00a0ff 18px,#009eff 19px,#0020ff 24px,#0027ff 31px,#0050ff 35px,#0060ff 36px,#003eff 38px,#0009ff 41px,#0000df 43px,#0004ff 44px,#0047ff 46px,#009cff 52px,#00e4ff)"></i><i style="background:linear-gradient(90deg,#00faff,#00faff 3px,#00dfff 6px,#00dfff 13px,#0091ff 19px,#002dff 23px,#0020ff 25px,#0023ff 31px,#0059ff 35px,#006bff 36px,#004cff 38px,#002dff 40px,#0000f4 42px,#0000df 43px,#0007ff 44px,#0040ff 46px,#0076ff 51px,#0091ff 52px,#00dfff)"></i><i style="background:linear-gradient(90deg,#0afff5,#13ffec 2px,#00f4ff 4px,#00dfff 6px,#00ddff 13px,#00a4ff 17px,#009fff 18px,#0026ff 23px,#0024ff 29px,#0039ff 32px,#007dff 36px,#0077ff 37px,#004aff 39px,#003fff 40px,#0000fa 42px,#0000df 43px,#0003ff 44px,#0037ff 46px,#006cff 51px,#0088ff 52px,#00b3ff 53px,#00caff)"></i><i style="background:linear-gradient(90deg,#17ffe8,#20ffdf 2px,#00f8ff 4px,#00dfff 6px,#00dbff 13px,#00a3ff 17px,#009fff 18px,#0025ff 23px,#0025ff 27px,#0057ff 33px,#008bff 36px,#008eff 37px,#0030ff 41px,#0004ff 42px,#0000df 43px,#0000fd 44px,#003aff 46px,#0050ff 49px,#0061ff 51px,#00a8ff)"></i><i style="background:linear-gradient(90deg,#20ffdf,#16ffe9 3px,#00f1ff 5px,#00dfff 11px,#00dbff 13px,#008fff 19px,#0034ff 23px,#002aff 25px,#0059ff 32px,#009fff 37px,#0041ff 41px,#000cff 42px,#0000df 43px,#0000fb 44px,#0036ff 46px,#0060ff 51px,#006dff 53px,#0082ff)"></i><i style="background:linear-gradient(90deg,#26ffd9,#38ffc7 2px,#1dffe2 4px,#00fcff 6px,#00dfff 10px,#00dcff 13px,#009fff 18px,#0088ff 20px,#0038ff 24px,#0054ff 29px,#0063ff 32px,#009eff 36px,#00a5ff 37px,#0043ff 41px,#0011ff 42px,#0000e6 43px,#0000fe 44px,#0031ff 46px,#0060ff 53px,#0060ff)"></i><i style="background:linear-gradient(90deg,#40ffbf,#50ffaf 2px,#4dffb2 3px,#0ffff0 6px,#00eaff 9px,#00ddff 13px,#00a0ff 18px,#0088ff 21px,#004dff 25px,#006cff 30px,#00a7ff 34px,#00b5ff 37px,#006fff 40px,#004cff 41px,#0019ff 42px,#0000f1 43px,#0006ff 44px,#0036ff 47px,#0055ff)"></i><i style="background:linear-gradient(90deg,#5affa5,#6cff93 3px,#24ffdb 6px,#00f6ff 9px,#00dfff 12px,#00d1ff 14px,#009fff 19px,#008bff 22px,#0060ff 26px,#0061ff 27px,#00b8ff 32px,#00c7ff 35px,#00c3ff 37px,#007eff 40px,#001cff 42px,#0000fd 43px,#0030ff 47px,#0040ff 51px,#0041ff)"></i><i style="background:linear-gradient(90deg,#75ff8a,#89ff76 3px,#40ffbf 6px,#38ffc7 7px,#08fff7 9px,#00dfff 12px,#00c9ff 15px,#009fff 20px,#00a9ff 26px,#00dfff 32px,#00d8ff 36px,#00b0ff 38px,#0084ff 40px,#001eff 42px,#000dff 43px,#003aff 50px,#002eff)"></i><i style="background:linear-gradient(90deg,#91ff6e,#9fff60 3px,#50ffaf 6px,#1bffe4 9px,#02fffd 10px,#00dfff 12px,#00dbff 17px,#00c8ff 20px,#00fdff 25px,#09fff6 27px,#00fbff 29px,#00dfff 31px,#00dfff 36px,#009dff 39px,#0086ff 40px,#0024ff 42px,#0024ff 47px,#002fff 51px,#0020ff)"></i><i style="background:linear-gradient(90deg,#9fff60,#a4ff5b 3px,#7aff85 5px,#44ffbb 7px,#3bffc4 8px,#0afff5 10px,#00dfff 12px,#02fffd 16px,#07fff8 21px,#3effc1 24px,#40ffbf 26px,#36ffc9 27px,#02fffd 29px,#00eeff 30px,#00e8ff 35px,#00e1ff 36px,#0082ff 40px,#0026ff 42px,#0020ff 53px,#0019ff)"></i><i style="background:linear-gradient(90deg,#a7ff58,#b1ff4e 3px,#a8ff57 4px,#4effb1 7px,#45ffba 8px,#00f7ff 11px,#00e1ff 12px,#00e3ff 13px,#06fff9 15px,#34ffcb 19px,#48ffb7 26px,#06fff9 29px,#00f5ff 31px,#00efff 35px,#00d2ff 37px,#0092ff 40px,#003eff 42px,#0020ff 46px,#001eff 52px,#000aff)"></i><i style="background:linear-gradient(90deg,#b4ff4b,#b7ff48 4px,#57ffa8 7px,#33ffcc 9px,#05fffa 11px,#00f9ff 13px,#2cffd3 18px,#3dffc2 20px,#45ffba 24px,#4effb1 26px,#06fff9 29px,#00f0ff 36px,#00adff 40px,#005fff 42px,#003fff 44px,#001dff 48px,#0007ff 53px,#0000fd)"></i><i style="background:linear-gradient(90deg,#c2ff3d,#c3ff3c 4px,#5dffa2 7px,#11ffee 11px,#0efff1 13px,#45ffba 23px,#59ffa6 25px,#07fff8 29px,#00feff 36px,#00cdff 40px,#0065ff 43px,#0014ff 49px,#0000f8 53px,#0000f2)"></i><i style="background:linear-gradient(90deg,#d1ff2e,#c9ff36 4px,#5dffa2 7px,#1bffe4 11px,#28ffd7 19px,#5effa1 24px,#45ffba 26px,#1affe5 28px,#09fff6 32px,#10ffef 36px,#00f9ff 38px,#00dfff 40px,#006bff 44px,#0052ff 46px,#0000fc 50px,#0000e7)"></i><i style="background:linear-gradient(90deg,#dfff20,#daff25 3px,#caff35 4px,#5affa5 7px,#20ffdf 11px,#20ffdf 19px,#5dffa2 23px,#5effa1 24px,#20ffdf 28px,#13ffec 33px,#20ffdf 36px,#02fffd 38px,#00e0ff 41px,#006aff 45px,#0050ff 47px,#0000f5 50px,#0000e2 51px,#0000df)"></i><i style="background:linear-gradient(90deg,#e6ff19,#dfff20 3px,#a2ff5d 5px,#5fffa0 7px,#29ffd6 10px,#2cffd3 15px,#24ffdb 19px,#60ff9f 23px,#21ffde 28px,#20ffdf 36px,#00f9ff 40px,#00f5ff 41px,#0065ff 46px,#005fff 47px,#0000fc 50px,#0000df 51px,#0000df)"></i><i style="background:linear-gradient(90deg,#f8ff07,#ecff13 2px,#daff25 3px,#6bff94 6px,#31ffce 10px,#37ffc8 14px,#20ffdf 18px,#60ff9f 23px,#28ffd7 29px,#19ffe6 37px,#02fffd 41px,#0076ff 46px,#004fff 48px,#0008ff 50px,#0000e1 51px,#0000df)"></i><i style="background:linear-gradient(90deg,#fff600,#f8ff07 2px,#76ff89 6px,#3dffc2 10px,#3dffc2 14px,#21ffde 17px,#22ffdd 18px,#5dffa2 22px,#57ffa8 24px,#27ffd8 33px,#0afff5 41px,#00b8ff 44px,#007fff 46px,#005aff 48px,#0011ff 50px,#0000e8 51px,#0000df)"></i><i style="background:linear-gradient(90deg,#ffe800,#faff05 2px,#9fff60 5px,#96ff69 6px,#4effb1 9px,#43ffbc 14px,#20ffdf 17px,#5dffa2 22px,#49ffb6 29px,#20ffdf 36px,#17ffe8 40px,#0dfff2 41px,#00d5ff 43px,#0083ff 46px,#005fff 48px,#0016ff 50px,#0000ec 51px,#0000df 53px,#0000df)"></i><i style="background:linear-gradient(90deg,#ffdf00,#ffff00 2px,#b9ff46 5px,#acff53 6px,#5affa5 9px,#50ffaf 13px,#20ffdf 17px,#60ff9f 23px,#5bffa4 29px,#20ffdf 35px,#1effe1 40px,#00f4ff 42px,#0085ff 46px,#0081ff 47px,#0017ff 50px,#0000ec 51px,#0000df 53px,#0000df)"></i><i style="background:linear-gradient(90deg,#ffdf00,#fff900 2px,#daff25 5px,#69ff96 9px,#4fffb0 14px,#26ffd9 17px,#60ff9f 23px,#65ff9a 28px,#20ffdf 35px,#1fffe0 41px,#00ffff 42px,#008eff 46px,#0085ff 47px,#0014ff 50px,#0000e6 51px,#0000df)"></i><i style="background:linear-gradient(90deg,#ffe000,#fffd00 2px,#dfff20 5px,#70ff8f 9px,#60ff9f 11px,#5effa1 14px,#33ffcc 17px,#74ff8b 24px,#77ff88 28px,#24ffdb 35px,#20ffdf 41px,#0dfff2 42px,#00cfff 44px,#009bff 46px,#008cff 47px,#000eff 50px,#0000df 51px,#0000df)"></i><i style="background:linear-gradient(90deg,#ffe200,#fffc00 2px,#dfff20 5px,#81ff7e 9px,#6aff95 12px,#6fff90 14px,#41ffbe 17px,#85ff7a 24px,#83ff7c 29px,#35ffca 35px,#1bffe4 42px,#00f8ff 43px,#009fff 46px,#0090ff 47px,#0015ff 50px,#0000f7 51px,#0000f5)"></i><i style="background:linear-gradient(90deg,#ffe100,#faff05 3px,#d8ff27 6px,#97ff68 9px,#76ff89 15px,#4effb1 18px,#91ff6e 23px,#93ff6c 29px,#48ffb7 35px,#20ffdf 42px,#0afff5 43px,#00bdff 46px,#00b7ff 47px,#0033ff 50px,#0020ff 51px,#0019ff)"></i><i style="background:linear-gradient(90deg,#ffdf00,#f7ff08 4px,#a6ff59 10px,#8aff75 15px,#5bffa4 18px,#9dff62 23px,#9fff60 29px,#5cffa3 35px,#16ffe9 43px,#03fffc 44px,#00e4ff 46px,#00e5ff 47px,#0054ff 50px,#0041ff)"></i><i style="background:linear-gradient(90deg,#ffdf00,#fffb00 4px,#bfff40 10px,#9bff64 15px,#60ff9f 18px,#9fff60 23px,#99ff66 29px,#13ffec 44px,#0afff5 46px,#12ffed 47px,#00e3ff 48px,#0064ff 50px,#0060ff)"></i><i style="background:linear-gradient(90deg,#ffdf00,#ffe400 3px,#fffe00 5px,#e2ff1d 7px,#c1ff3e 13px,#6dff92 18px,#95ff6a 23px,#7dff82 32px,#6aff95 36px,#25ffda 41px,#20ffdf 47px,#00eaff 48px,#008eff 50px,#0088ff 53px,#0080ff)"></i><i style="background:linear-gradient(90deg,#ffdf00,#ffe700 4px,#fbff04 6px,#dfff20 9px,#d3ff2c 12px,#abff54 14px,#8aff75 15px,#7fff80 20px,#80ff7f 35px,#49ffb6 40px,#2cffd3 44px,#2dffd2 47px,#03fffc 48px,#00beff 50px,#00bcff 53px,#00b5ff)"></i><i style="background:linear-gradient(90deg,#ffdf00,#ffe200 4px,#f8ff07 7px,#dcff23 12px,#a0ff5f 14px,#75ff8a 15px,#83ff7c 17px,#8fff70 18px,#72ff8d 24px,#89ff76 36px,#3affc5 46px,#39ffc6 47px,#00f6ff 49px,#00dfff 50px,#00e5ff 53px,#00dfff)"></i><i style="background:linear-gradient(90deg,#ffdf00,#ffe000 4px,#ffff00 7px,#dfff20 12px,#c3ff3c 13px,#62ff9d 15px,#6dff92 16px,#9fff60 18px,#60ff9f 23px,#71ff8e 28px,#96ff69 36px,#77ff88 42px,#42ffbd 47px,#0bfff4 49px,#02fffd 51px,#00feff)"></i><i style="background:linear-gradient(90deg,#ffdf00,#ffe200 4px,#feff01 8px,#ecff13 12px,#d1ff2e 13px,#6bff94 15px,#9aff65 18px,#5effa1 23px,#69ff96 28px,#88ff77 33px,#9fff60 36px,#92ff6d 42px,#38ffc7 48px,#11ffee 50px,#1effe1 53px,#19ffe6)"></i><i style="background:linear-gradient(90deg,#ffdf00,#ffea00 5px,#fffc00 12px,#e0ff1f 13px,#7bff84 15px,#8cff73 18px,#53ffac 24px,#7aff85 32px,#9aff65 34px,#9bff64 43px,#37ffc8 49px,#31ffce 51px,#31ffce)"></i><i style="background:linear-gradient(90deg,#ffdf00,#ffec00 12px,#e5ff1a 13px,#afff50 14px,#88ff77 15px,#7aff85 19px,#50ffaf 23px,#59ffa6 27px,#6fff90 32px,#9fff60 35px,#96ff69 44px,#53ffac 49px,#40ffbf 52px,#40ffbf)"></i><i style="background:linear-gradient(90deg,#ffdf00,#ffdf00 11px,#fff600 12px,#e1ff1e 13px,#acff53 14px,#81ff7e 16px,#59ffa6 21px,#45ffba 24px,#6aff95 32px,#9fff60 35px,#97ff68 44px,#4fffb0 50px,#43ffbc 53px,#41ffbe)"></i><i style="background:linear-gradient(90deg,#ffdf00,#ffdf00 10px,#f7ff08 12px,#a0ff5f 14px,#71ff8e 17px,#40ffbf 24px,#6bff94 32px,#9fff60 35px,#97ff68 44px,#61ff9e 50px,#4bffb4 53px,#48ffb7)"></i><i style="background:linear-gradient(90deg,#ffdf00,#ffe000 9px,#fff800 11px,#f1ff0e 12px,#8eff71 15px,#63ff9c 17px,#40ffbf 23px,#60ff9f 31px,#9fff60 35px,#94ff6b 45px,#87ff78 49px,#57ffa8 52px,#51ffae)"></i><i style="background:linear-gradient(90deg,#ffdf00,#ffe300 8px,#fffa00 11px,#f4ff0b 12px,#a0ff5f 15px,#64ff9b 17px,#54ffab 21px,#71ff8e 25px,#71ff8e 30px,#b2ff4d 34px,#acff53 37px,#9dff62 42px,#9bff64 49px,#60ff9f 52px,#5cffa3)"></i><i style="background:linear-gradient(90deg,#ffdf00,#ffe100 7px,#fdff02 12px,#dbff24 14px,#8aff75 17px,#82ff7d 21px,#94ff6b 25px,#93ff6c 30px,#d3ff2c 34px,#ceff31 38px,#a3ff5c 41px,#a2ff5d 46px,#beff41 49px,#66ff99)"></i><i style="background:linear-gradient(90deg,#ffdf00,#ffe400 7px,#fff400 12px,#f5ff0a 14px,#b5ff4a 17px,#b8ff47 21px,#c2ff3d 23px,#9fff60 28px,#baff45 31px,#dbff24 33px,#fffd00 37px,#f4ff0b 39px,#c0ff3f 42px,#baff45 44px,#eaff15 49px,#98ff67)"></i><i style="background:linear-gradient(90deg,#ffdf00,#ffe300 7px,#fff200 10px,#ffe100 13px,#fbff04 15px,#dfff20 17px,#dfff20 22px,#b0ff4f 27px,#f5ff0a 33px,#fff400 37px,#ffdf00 39px,#f8ff07 41px,#e0ff1f 43px,#f5ff0a 46px,#ffee00 49px,#f4ff0b 51px,#c7ff38)"></i><i style="background:linear-gradient(90deg,#ffdf00,#ffdf00 7px,#ffee00 10px,#ffe200 13px,#feff01 15px,#e7ff18 17px,#edff12 23px,#d5ff2a 27px,#fffd00 32px,#ffdf00 41px,#fffa00 43px,#ffdf00 48px,#f6ff09 51px,#e4ff1b 52px,#dfff20)"></i><i style="background:linear-gradient(90deg,#ffdf00,#ffe500 10px,#ffe200 13px,#feff01 16px,#fdff02 21px,#fbff04 29px,#ffe600 34px,#ffe500 49px,#fdff02 51px,#edff12)"></i><i style="background:linear-gradient(90deg,#ffdf00,#ffe100 13px,#fffd00 19px,#ffe900 26px,#ffdf00 46px,#ffe400 49px,#fbff04 52px,#fcff03)"></i><i style="background:linear-gradient(90deg,#ffdf00,#ffe500 15px,#fff600 20px,#ffdf00 25px,#ffe300 49px,#fffa00 52px,#fff500)"></i><i style="background:linear-gradient(90deg,#ffce00,#ffea00 17px,#fff300 20px,#ffdf00 24px,#ffe300 49px,#ffed00 53px,#ffe800)"></i><i style="background:linear-gradient(90deg,#ffb400,#ffbc00 5px,#ffde00 8px,#ffe700 17px,#fff100 20px,#ffdf00 24px,#ffe400 50px,#ffdf00)"></i><i style="background:linear-gradient(90deg,#ff9f00,#ffa900 5px,#ffdd00 8px,#ffe600 17px,#ffee00 20px,#ffdf00 23px,#ffdf00 53px,#ffe700)"></i><i style="background:linear-gradient(90deg,#ff8d00,#ff9e00 5px,#ffd200 9px,#ffe900 20px,#ffdf00 26px,#ffe700 36px,#ffe300 45px,#ffea00 50px,#ffef00 53px,#fff700)"></i><i style="background:linear-gradient(90deg,#ff7700,#ff8900 4px,#ffa700 7px,#ffca00 10px,#ffdf00 16px,#ffdf00 35px,#fff000 39px,#fff200 45px,#fffc00 50px,#f7ff08)"></i><i style="background:linear-gradient(90deg,#ff6700,#ff7900 4px,#ff9700 7px,#ffc000 10px,#ffdf00 16px,#ffe500 36px,#fffd00 39px,#f9ff06 45px,#efff10 50px,#e6ff19)"></i><i style="background:linear-gradient(90deg,#ff6000,#ff6e00 5px,#ffbc00 11px,#ffdf00 19px,#ffdf00 36px,#f7ff08 39px,#dfff20 48px,#dfff20)"></i><i style="background:linear-gradient(90deg,#ff5e00,#ff6800 5px,#ffae00 11px,#ffd500 17px,#ffdf00 22px,#ffe400 37px,#f1ff0e 39px,#dfff20 40px,#e9ff16)"></i><i style="background:linear-gradient(90deg,#ff5500,#ff5600 5px,#ff9b00 10px,#ffac00 15px,#ffdb00 18px,#ffdf00 33px,#fff800 38px,#e1ff1e 40px,#e9ff16 48px,#f5ff0a)"></i><i style="background:linear-gradient(90deg,#ff4b00,#ff3a00 4px,#ff6300 8px,#ff9400 11px,#ffa200 15px,#ffdf00 19px,#ffe600 34px,#feff01 37px,#dfff20 41px,#e8ff17 47px,#fffd00)"></i><i style="background:linear-gradient(90deg,#ff3f00,#ff2300 4px,#ff3e00 7px,#ff7e00 11px,#ffb200 16px,#ffdf00 19px,#ffdf00 30px,#ffe700 32px,#ffdf00 33px,#f8ff07 36px,#e3ff1c 39px,#e0ff1f 46px,#fff900 51px,#fff000)"></i><i style="background:linear-gradient(90deg,#ff3100,#ff2000 3px,#ff4300 8px,#ff9d00 14px,#ffd000 18px,#ffdf00 19px,#ffdf00 27px,#f8ff07 29px,#d9ff26 31px,#edff12 33px,#feff01 34px,#fffd00 35px,#dfff20 37px,#e9ff16 43px,#f5ff0a 49px,#ffe700 52px,#ffe200)"></i><i style="background:linear-gradient(90deg,#ff2100,#ff2000 4px,#ff6600 11px,#ff9f00 14px,#ffbb00 16px,#f9ff06 19px,#efff10 25px,#a6ff59 30px,#a8ff57 32px,#deff21 35px,#dfff20 41px,#feff01 45px,#feff01 49px,#ffdf00)"></i><i style="background:linear-gradient(90deg,#ff2000,#ff2000 4px,#ff6e00 11px,#ff9f00 14px,#f6ff09 17px,#bbff44 19px,#6bff94 30px,#6dff92 31px,#d6ff29 36px,#dfff20 40px,#e7ff18 42px,#fffe00 44px,#fff600 49px,#ffd100 53px,#ffd100)"></i><i style="background:linear-gradient(90deg,#ff2000,#ff2700 4px,#ff6000 9px,#ff8700 12px,#ffab00 14px,#ffe800 15px,#ddff22 16px,#abff54 17px,#88ff77 18px,#5fffa0 22px,#2affd5 25px,#42ffbd 30px,#9aff65 34px,#d3ff2c 36px,#dfff20 38px,#e1ff1e 42px,#fffe00 44px,#ffef00 47px,#ffe000 50px,#ffc200 53px,#ffc200)"></i><i style="background:linear-gradient(90deg,#ff2000,#ff2000 3px,#ff5900 7px,#ff6f00 10px,#ff9f00 13px,#ffcd00 14px,#deff21 15px,#92ff6d 16px,#5affa5 17px,#20ffdf 24px,#4affb5 30px,#9cff63 34px,#daff25 36px,#f0ff0f 43px,#fff400 45px,#ffe200 47px,#ffb100 53px,#ffb400)"></i><i style="background:linear-gradient(90deg,#ff2000,#ff2300 2px,#ff5a00 6px,#ff7800 10px,#ff9f00 13px,#fffb00 14px,#4affb5 16px,#20ffdf 24px,#4dffb2 30px,#dfff20 36px,#f7ff08 42px,#fffe00 44px,#ffa200 53px,#ffa800)"></i><i style="background:linear-gradient(90deg,#ff2300,#ff6600 7px,#ff8600 9px,#ff8e00 11px,#ffbd00 13px,#deff21 14px,#7cff83 15px,#3effc1 16px,#23ffdc 25px,#4cffb3 30px,#d0ff2f 35px,#feff01 40px,#fff500 44px,#ffb500 50px,#ff9f00 52px,#ff9f00)"></i><i style="background:linear-gradient(90deg,#ff3700,#ff6000 6px,#ff9d00 8px,#ffc100 12px,#fff100 13px,#56ffa9 15px,#38ffc7 16px,#1dffe2 25px,#46ffb9 30px,#ddff22 35px,#fffe00 39px,#ffec00 42px,#ffdf00 46px,#ffa200 51px,#ff9f00)"></i><i style="background:linear-gradient(90deg,#ff4a00,#ff6300 6px,#ff9800 7px,#ffd400 9px,#fff500 11px,#fff600 12px,#d6ff29 13px,#41ffbe 15px,#29ffd6 18px,#15ffea 23px,#02fffd 24px,#00f5ff 25px,#22ffdd 27px,#3effc1 29px,#40ffbf 30px,#caff35 34px,#dfff20 35px,#fffb00 39px,#ffdf00 41px,#ffdd00 46px,#ffa500 50px,#ff9f00)"></i><i style="background:linear-gradient(90deg,#ff5d00,#ff6000 6px,#ffce00 8px,#fff300 9px,#d0ff2f 11px,#cdff32 12px,#a7ff58 13px,#36ffc9 15px,#20ffdf 20px,#20ffdf 21px,#00f3ff 23px,#00d6ff 25px,#0dfff2 27px,#3bffc4 29px,#40ffbf 30px,#5affa5 31px,#d1ff2e 34px,#ffff00 39px,#ffdf00 43px,#ffd500 46px,#ffa000 50px,#ff9f00)"></i><i style="background:linear-gradient(90deg,#ff6f00,#ff7f00 3px,#ffa300 6px,#ffdc00 8px,#ffed00 9px,#d8ff27 10px,#9cff63 11px,#7aff85 13px,#30ffcf 15px,#18ffe7 20px,#04fffb 21px,#00c5ff 24px,#00bcff 25px,#00d2ff 26px,#00f7ff 27px,#33ffcc 29px,#52ffad 31px,#d6ff29 34px,#fff800 41px,#ffe600 45px,#ffb100 48px,#ff9f00 51px,#ff9f00)"></i><i style="background:linear-gradient(90deg,#ffd100,#fff400 4px,#f8ff07 6px,#d7ff28 9px,#c5ff3a 10px,#9bff64 11px,#60ff9f 12px,#20ffdf 16px,#20ffdf 18px,#00fdff 20px,#00aeff 24px,#00a6ff 25px,#00bdff 26px,#0afff5 28px,#3fffc0 30px,#4affb5 31px,#d6ff29 34px,#f6ff09 40px,#fffd00 44px,#ffad00 49px,#ff9f00 53px,#ff9f00)"></i><i style="background:linear-gradient(90deg,#d4ff2b,#93ff6c 5px,#93ff6c 9px,#88ff77 10px,#69ff96 11px,#38ffc7 12px,#3fffc0 13px,#00f9ff 19px,#00a9ff 23px,#009fff 25px,#00d5ff 27px,#00faff 28px,#3bffc4 30px,#44ffbb 31px,#d4ff2b 34px,#ebff14 38px,#efff10 44px,#fffc00 45px,#ffb900 49px,#ff9f00)"></i><i style="background:linear-gradient(90deg,#85ff7a,#33ffcc 4px,#41ffbe 10px,#2dffd2 11px,#01fffe 12px,#0efff1 14px,#00f3ff 18px,#00a8ff 22px,#009dff 25px,#00f2ff 28px,#14ffeb 29px,#37ffc8 30px,#40ffbf 31px,#ceff31 34px,#e4ff1b 36px,#dfff20 44px,#fff500 46px,#ffc700 49px,#ffa200)"></i><i style="background:linear-gradient(90deg,#3dffc2,#21ffde 1px,#40ffbf 8px,#01fffe 10px,#00caff 12px,#00e6ff 15px,#00deff 18px,#009fff 22px,#0094ff 25px,#00f3ff 28px,#12ffed 29px,#33ffcc 30px,#40ffbf 31px,#c6ff39 34px,#dfff20 35px,#d6ff29 42px,#d6ff29 44px,#fffe00 46px,#ffd100 50px,#ffb600)"></i><i style="background:linear-gradient(90deg,#20ffdf,#11ffee 3px,#3fffc0 7px,#40ffbf 8px,#02fffd 10px,#00a8ff 12px,#009fff 13px,#00c7ff 16px,#00c6ff 18px,#009fff 21px,#008fff 25px,#00f1ff 28px,#11ffee 29px,#32ffcd 30px,#40ffbf 31px,#8fff70 33px,#dfff20 35px,#d9ff26 41px,#c3ff3c 43px,#c4ff3b 44px,#fffb00 47px,#ffdf00 50px,#ffce00)"></i><i style="background:linear-gradient(90deg,#15ffea,#00f6ff 2px,#05fffa 4px,#3effc1 7px,#40ffbf 8px,#00fdff 10px,#0099ff 12px,#00a4ff 16px,#00aaff 18px,#0085ff 24px,#008cff 25px,#00efff 28px,#0dfff2 29px,#58ffa7 32px,#dfff20 35px,#dfff20 40px,#b7ff48 43px,#b4ff4b 44px,#faff05 48px,#ffdf00)"></i><i style="background:linear-gradient(90deg,#00fcff,#00dfff 2px,#00f7ff 4px,#40ffbf 7px,#40ffbf 8px,#00f6ff 10px,#0085ff 12px,#007cff 14px,#009eff 17px,#0095ff 20px,#007bff 24px,#008aff 25px,#00eaff 28px,#06fff9 29px,#40ffbf 31px,#4cffb3 32px,#d5ff2a 35px,#dfff20 38px,#d5ff2a 41px,#a6ff59 44px,#f4ff0b 50px,#fff700)"></i><i style="background:linear-gradient(90deg,#00e3ff,#00cdff 2px,#00f3ff 4px,#2effd1 6px,#40ffbf 7px,#3cffc3 8px,#18ffe7 9px,#00ecff 10px,#0071ff 12px,#0059ff 14px,#0066ff 16px,#0082ff 18px,#0071ff 24px,#00e2ff 28px,#00f8ff 29px,#37ffc8 31px,#40ffbf 32px,#ccff33 35px,#dfff20 36px,#dfff20 40px,#a1ff5e 44px,#abff54 46px,#e0ff1f 51px,#ecff13)"></i><i style="background:linear-gradient(90deg,#00caff,#00bbff 1px,#00dbff 3px,#00faff 4px,#3cffc3 6px,#40ffbf 7px,#0dfff2 9px,#00eeff 10px,#00c5ff 11px,#0087ff 12px,#0044ff 14px,#0030ff 15px,#0037ff 16px,#0060ff 18px,#0069ff 23px,#0065ff 24px,#00abff 26px,#01fffe 30px,#5cffa3 33px,#c3ff3c 35px,#dfff20 36px,#dfff20 40px,#9fff60 45px,#dfff20 52px,#dfff20)"></i><i style="background:linear-gradient(90deg,#00b1ff,#00b6ff 1px,#00edff 3px,#0efff1 4px,#2fffd0 5px,#40ffbf 6px,#37ffc8 7px,#0cfff3 9px,#00fbff 10px,#00a2ff 13px,#0039ff 15px,#0020ff 16px,#0023ff 17px,#0047ff 19px,#0066ff 24px,#00adff 26px,#00ebff 30px,#11ffee 31px,#40ffbf 32px,#50ffaf 33px,#bbff44 35px,#dfff20 36px,#dfff20 40px,#a3ff5c 45px,#a3ff5c 47px,#dfff20 52px,#dfff20)"></i><i style="background:linear-gradient(90deg,#00adff,#02fffd 3px,#3effc1 5px,#40ffbf 6px,#18ffe7 8px,#00feff 11px,#00d7ff 13px,#005cff 15px,#0031ff 16px,#0020ff 17px,#006bff 24px,#00afff 26px,#00dfff 30px,#03fffc 31px,#37ffc8 32px,#48ffb7 33px,#b5ff4a 35px,#dfff20 36px,#dfff20 40px,#9fff60 47px,#dcff23 52px,#dfff20)"></i><i style="background:linear-gradient(90deg,#00c4ff,#00fdff 2px,#40ffbf 5px,#41ffbe 6px,#1dffe2 8px,#0cfff3 12px,#00fbff 13px,#00ceff 14px,#0055ff 16px,#0030ff 17px,#0020ff 18px,#0050ff 22px,#006cff 24px,#0096ff 25px,#00bbff 27px,#00caff 29px,#04fffb 31px,#38ffc7 32px,#48ffb7 33px,#dfff20 36px,#dfff20 40px,#9fff60 48px,#dfff20 53px,#dfff20)"></i><i style="background:linear-gradient(90deg,#00e7ff,#00fbff 1px,#43ffbc 6px,#26ffd9 9px,#25ffda 12px,#02fffd 14px,#0087ff 16px,#0035ff 18px,#0020ff 19px,#0039ff 21px,#0069ff 24px,#0096ff 25px,#00beff 27px,#00d1ff 29px,#00e9ff 30px,#11ffee 31px,#46ffb9 32px,#52ffad 33px,#dfff20 36px,#d8ff27 41px,#9fff60 48px,#dfff20 53px,#dfff20)"></i><i style="background:linear-gradient(90deg,#04fffb,#1fffe0 4px,#4affb5 7px,#39ffc6 10px,#31ffce 12px,#11ffee 14px,#00f7ff 15px,#008cff 17px,#0037ff 19px,#0020ff 20px,#005cff 23px,#0065ff 24px,#0097ff 25px,#00c7ff 27px,#00e5ff 29px,#01fffe 30px,#54ffab 32px,#62ff9d 33px,#dfff20 36px,#dbff24 41px,#adff52 47px,#9fff60 48px,#b4ff4b 50px,#dfff20 53px,#dfff20)"></i><i style="background:linear-gradient(90deg,#1effe1,#16ffe9 4px,#4cffb3 7px,#4effb1 9px,#25ffda 14px,#09fff6 15px,#00f4ff 16px,#0063ff 19px,#0020ff 20px,#002cff 21px,#0052ff 22px,#0088ff 23px,#00a5ff 24px,#00d6ff 25px,#00eeff 26px,#04fffb 29px,#51ffae 31px,#5cffa3 32px,#dfff20 36px,#d7ff28 42px,#b0ff4f 47px,#a1ff5e 48px,#a1ff5e 49px,#dfff20 53px,#dfff20)"></i><i style="background:linear-gradient(90deg,#3dffc2,#19ffe6 3px,#22ffdd 5px,#5bffa4 8px,#5effa1 9px,#23ffdc 15px,#00fdff 17px,#00ceff 18px,#008eff 19px,#0038ff 20px,#0048ff 21px,#00d5ff 23px,#00f7ff 24px,#2fffd0 26px,#43ffbc 29px,#63ff9c 31px,#6fff90 32px,#dfff20 36px,#d6ff29 43px,#b2ff4d 47px,#a2ff5d 48px,#a1ff5e 49px,#d8ff27 52px,#dfff20)"></i><i style="background:linear-gradient(90deg,#43ffbc,#2effd1 4px,#5dffa2 8px,#57ffa8 10px,#20ffdf 16px,#20ffdf 17px,#00edff 18px,#0066ff 20px,#0071ff 21px,#00c9ff 22px,#23ffdc 23px,#5dffa2 25px,#7bff84 30px,#7bff84 31px,#baff45 34px,#d6ff29 35px,#dfff20 39px,#daff25 43px,#b2ff4d 47px,#a1ff5e 48px,#a2ff5d 49px,#daff25 52px,#dfff20)"></i><i style="background:linear-gradient(90deg,#5dffa2,#43ffbc 2px,#60ff9f 9px,#21ffde 16px,#20ffdf 17px,#00f7ff 18px,#0088ff 20px,#009bff 21px,#00f7ff 22px,#3dffc2 23px,#8dff72 27px,#93ff6c 29px,#98ff67 31px,#deff21 35px,#ddff22 43px,#a0ff5f 48px,#a4ff5b 49px,#ddff22 52px,#dfff20)"></i><i style="background:linear-gradient(90deg,#76ff89,#5dffa2 3px,#60ff9f 9px,#20ffdf 16px,#20ffdf 17px,#00f8ff 18px,#00a3ff 20px,#00b4ff 21px,#08fff7 22px,#49ffb6 23px,#91ff6e 26px,#c2ff3d 33px,#dfff20 35px,#deff21 43px,#9fff60 48px,#b9ff46 50px,#dfff20 52px,#dfff20)"></i><i style="background:linear-gradient(90deg,#90ff6f,#71ff8e 7px,#20ffdf 15px,#14ffeb 17px,#00f5ff 18px,#00a6ff 20px,#00d0ff 21px,#1effe1 22px,#50ffaf 23px,#a3ff5c 26px,#b1ff4e 27px,#b0ff4f 30px,#dfff20 35px,#dcff23 43px,#9fff60 48px,#b9ff46 50px,#dfff20 52px,#dfff20)"></i><i style="background:linear-gradient(90deg,#9fff60,#95ff6a 3px,#68ff97 9px,#29ffd6 13px,#1bffe4 16px,#08fff7 17px,#00edff 18px,#00cbff 19px,#00b8ff 20px,#00eeff 21px,#2fffd0 22px,#aeff51 26px,#c0ff3f 27px,#baff45 31px,#dfff20 35px,#d9ff26 43px,#a1ff5e 48px,#a3ff5c 49px,#dfff20 52px,#dfff20)"></i><i style="background:linear-gradient(90deg,#a9ff56,#9dff62 5px,#7aff85 9px,#32ffcd 12px,#20ffdf 14px,#00fdff 17px,#00d4ff 19px,#00d2ff 20px,#09fff6 21px,#3cffc3 22px,#b5ff4a 26px,#c9ff36 27px,#c2ff3d 32px,#dfff20 36px,#ddff22 42px,#a0ff5f 49px,#dfff20 52px,#dfff20)"></i><i style="background:linear-gradient(90deg,#b7ff48,#b5ff4a 3px,#a2ff5d 7px,#87ff78 9px,#2effd1 12px,#00fdff 17px,#00e3ff 19px,#00efff 20px,#20ffdf 21px,#47ffb8 22px,#99ff66 25px,#cdff32 27px,#c8ff37 33px,#dfff20 36px,#c5ff3a 45px,#9fff60 49px,#dfff20 52px,#dfff20)"></i><i style="background:linear-gradient(90deg,#c5ff3a,#c6ff39 2px,#a0ff5f 8px,#28ffd7 12px,#00faff 19px,#12ffed 20px,#50ffaf 22px,#74ff8b 24px,#cbff34 27px,#daff25 28px,#c7ff38 32px,#deff21 36px,#b9ff46 43px,#b5ff4a 47px,#9fff60 49px,#dfff20 52px,#dfff20)"></i><i style="background:linear-gradient(90deg,#d2ff2d,#d8ff27 1px,#beff41 4px,#b0ff4f 8px,#20ffdf 12px,#1bffe4 19px,#60ff9f 23px,#6eff91 24px,#d9ff26 28px,#cfff30 33px,#dfff20 35px,#c2ff3d 38px,#b0ff4f 40px,#aeff51 47px,#9fff60 49px,#dfff20 52px,#dfff20)"></i><i style="background:linear-gradient(90deg,#dfff20,#c6ff39 5px,#b5ff4a 8px,#41ffbe 11px,#26ffd9 12px,#24ffdb 19px,#68ff97 23px,#6fff90 24px,#dfff20 29px,#d5ff2a 33px,#dfff20 35px,#c4ff3b 37px,#9fff60 39px,#a2ff5d 48px,#9fff60 49px,#dfff20 52px,#dfff20)"></i><i style="background:linear-gradient(90deg,#e1ff1e,#cdff32 7px,#b8ff47 8px,#43ffbc 11px,#2effd1 12px,#20ffdf 18px,#6bff94 22px,#74ff8b 24px,#d9ff26 29px,#dfff20 35px,#abff54 39px,#9fff60 48px,#a3ff5c 49px,#dfff20 52px,#dfff20)"></i><i style="background:linear-gradient(90deg,#f0ff0f,#e4ff1b 3px,#d9ff26 7px,#6fff90 10px,#46ffb9 11px,#30ffcf 13px,#20ffdf 18px,#7cff83 22px,#86ff79 25px,#dfff20 30px,#d8ff27 36px,#c2ff3d 40px,#a0ff5f 48px,#d8ff27 51px,#dfff20)"></i><i style="background:linear-gradient(90deg,#ffff00,#eeff11 4px,#daff25 7px,#75ff8a 10px,#4dffb2 11px,#36ffc9 13px,#23ffdc 18px,#7dff82 21px,#90ff6f 22px,#8cff73 25px,#b8ff47 28px,#dfff20 30px,#d0ff2f 42px,#b4ff4b 48px,#dcff23 51px,#dfff20)"></i><i style="background:linear-gradient(90deg,#fff100,#ffe800 1px,#fdff02 3px,#d9ff26 7px,#55ffaa 11px,#40ffbf 12px,#20ffdf 17px,#28ffd7 18px,#86ff79 21px,#9fff60 23px,#9bff64 26px,#dfff20 30px,#deff21 43px,#c9ff36 48px,#dfff20 53px,#dfff20)"></i><i style="background:linear-gradient(90deg,#ffe300,#ffdf00 1px,#fffd00 3px,#dcff23 7px,#69ff96 11px,#48ffb7 12px,#20ffdf 17px,#2affd5 18px,#60ff9f 20px,#a5ff5a 25px,#b1ff4e 27px,#d7ff28 29px,#e8ff17 37px,#f9ff06 40px,#dfff20 44px,#dfff20)"></i><i style="background:linear-gradient(90deg,#ffdf00,#ffea00 2px,#f6ff09 4px,#dfff20 6px,#dfff20 7px,#9eff61 10px,#64ff9b 12px,#28ffd7 17px,#2effd1 18px,#4fffb0 20px,#67ff98 23px,#b2ff4d 26px,#dfff20 29px,#dfff20 32px,#d1ff2e 34px,#fff900 39px,#fff000 40px,#edff12 43px,#dfff20 51px,#dfff20)"></i><i style="background:linear-gradient(90deg,#ffdf00,#ffe700 2px,#faff05 4px,#dfff20 7px,#c6ff39 9px,#69ff96 13px,#42ffbd 16px,#32ffcd 17px,#3cffc3 21px,#48ffb7 23px,#7eff81 25px,#c7ff38 27px,#dfff20 29px,#c7ff38 33px,#dfff20 35px,#ecff13 37px,#fff300 39px,#ffe200 40px,#ffe300 41px,#f8ff07 43px,#d5ff2a 50px,#d6ff29)"></i><i style="background:linear-gradient(90deg,#ffdf00,#ffe300 2px,#feff01 4px,#dfff20 7px,#d3ff2c 9px,#7cff83 13px,#79ff86 14px,#3cffc3 17px,#23ffdc 22px,#41ffbe 24px,#caff35 28px,#c5ff3a 33px,#dfff20 35px,#eaff15 37px,#fff500 39px,#ffe300 40px,#ffe100 41px,#fdff02 43px,#dfff20 46px,#c5ff3a 51px,#caff35)"></i><i style="background:linear-gradient(90deg,#ffdf00,#ffe000 2px,#fffd00 4px,#dfff20 8px,#caff35 10px,#91ff6e 13px,#8eff71 14px,#47ffb8 17px,#20ffdf 23px,#29ffd6 24px,#91ff6e 27px,#beff41 30px,#eaff15 37px,#fff400 39px,#ffe200 40px,#fff100 43px,#f3ff0c 45px,#b6ff49 50px,#bcff43)"></i><i style="background:linear-gradient(90deg,#ffdf00,#ffdf00 2px,#f9ff06 5px,#dfff20 9px,#9bff64 14px,#4cffb3 17px,#22ffdd 23px,#30ffcf 25px,#74ff8b 27px,#b8ff47 30px,#dfff20 35px,#ebff14 37px,#fff200 39px,#ffdf00 40px,#ffda00 44px,#ffea00 46px,#fbff04 47px,#a6ff59 50px,#a7ff58 52px,#acff53)"></i><i style="background:linear-gradient(90deg,#ffdf00,#ffe800 3px,#fcff03 5px,#dfff20 8px,#d2ff2d 10px,#9aff65 14px,#4bffb4 17px,#27ffd8 24px,#36ffc9 26px,#b2ff4d 30px,#daff25 33px,#eeff11 37px,#fdff02 38px,#ffbd00 43px,#ffb900 45px,#ffc600 46px,#f5ff0a 48px,#afff50 50px,#9fff60)"></i><i style="background:linear-gradient(90deg,#ffdf00,#ffe300 3px,#ffff00 5px,#dfff20 8px,#d2ff2d 10px,#a0ff5f 13px,#99ff66 14px,#49ffb6 17px,#2fffd0 25px,#40ffbf 27px,#58ffa7 28px,#a8ff57 30px,#d9ff26 33px,#f2ff0d 37px,#ffeb00 39px,#ffa100 45px,#ffa200 46px,#ffed00 48px,#e8ff17 49px,#c3ff3c 50px,#b1ff4e)"></i><i style="background:linear-gradient(90deg,#ffdf00,#ffdf00 3px,#fffc00 5px,#dfff20 8px,#d1ff2e 10px,#99ff66 14px,#48ffb7 17px,#33ffcc 25px,#4affb5 28px,#97ff68 30px,#dfff20 34px,#e9ff16 36px,#fff700 38px,#ff9f00 46px,#ffa600 47px,#fff500 49px,#daff25 50px,#caff35)"></i><i style="background:linear-gradient(90deg,#ffdf00,#ffe800 4px,#f6ff09 6px,#c2ff3d 11px,#9bff64 14px,#48ffb7 17px,#38ffc7 26px,#40ffbf 28px,#afff50 32px,#dfff20 34px,#edff12 36px,#fff400 38px,#ff9f00 47px,#ffb100 48px,#f2ff0d 50px,#dfff20 51px,#dfff20)"></i><i style="background:linear-gradient(90deg,#ffdf00,#ffe500 4px,#f7ff08 6px,#b3ff4c 12px,#9eff61 14px,#4cffb3 17px,#3fffc0 28px,#40ffbf 29px,#dcff23 34px,#f0ff0f 36px,#fff200 38px,#ffdf00 40px,#ffc500 45px,#ff9f00 48px,#ffeb00 50px,#f2ff0d 51px,#f2ff0d)"></i><i style="background:linear-gradient(90deg,#ffdf00,#ffe300 4px,#f6ff09 6px,#aeff51 13px,#b0ff4f 14px,#5bffa4 17px,#4bffb4 19px,#40ffbf 29px,#48ffb7 30px,#dbff24 34px,#feff01 37px,#ffdf00 40px,#ffd000 45px,#ffa300 48px,#ffab00 49px,#fff500 51px,#fff500)"></i><i style="background:linear-gradient(90deg,#ffdf00,#ffe600 4px,#fffd00 5px,#caff35 7px,#b1ff4e 10px,#c6ff39 14px,#56ffa9 18px,#40ffbf 26px,#40ffbf 30px,#81ff7e 32px,#d9ff26 34px,#fbff04 37px,#ffdf00 41px,#ffd700 45px,#ff9f00 49px,#ffde00 51px,#ffe100)"></i><i style="background:linear-gradient(90deg,#ffdf00,#ffdf00 3px,#fff400 4px,#baff45 6px,#91ff6e 7px,#93ff6c 9px,#bcff43 12px,#d3ff2c 13px,#dbff24 14px,#5effa1 18px,#40ffbf 26px,#40ffbf 30px,#52ffad 31px,#ceff31 34px,#fffd00 38px,#ffdf00 42px,#ffd800 45px,#ff9f00 49px,#ffd100 51px,#ffdf00 53px,#ffdf00)"></i><i style="background:linear-gradient(90deg,#ffdf00,#ffdf00 3px,#edff12 4px,#82ff7d 6px,#60ff9f 7px,#aeff51 11px,#ddff22 13px,#dfff20 14px,#66ff99 18px,#40ffbf 26px,#40ffbf 30px,#4fffb0 31px,#bfff40 34px,#fdff02 39px,#ffdf00 42px,#ffd300 45px,#ff9f00 49px,#ffdf00 52px,#ffdf00)"></i><i style="background:linear-gradient(90deg,#ffdf00,#ffdf00 2px,#fff300 3px,#98ff67 5px,#67ff98 6px,#60ff9f 7px,#dfff20 13px,#dbff24 14px,#6bff94 18px,#40ffbf 26px,#40ffbf 30px,#4cffb3 31px,#a9ff56 34px,#fbff04 40px,#ffdf00 42px,#ffce00 45px,#ffa200 48px,#ffa200 49px,#ffdf00 52px,#ffdf00)"></i><i style="background:linear-gradient(90deg,#ffe600,#fff500 2px,#e3ff1c 3px,#81ff7e 5px,#60ff9f 6px,#67ff98 7px,#dfff20 13px,#d5ff2a 14px,#6dff92 18px,#41ffbe 25px,#40ffbf 30px,#4affb5 31px,#93ff6c 34px,#c9ff36 38px,#fff900 41px,#ffdf00 42px,#ffca00 45px,#ffa400 48px,#ffbf00 50px,#ffdf00 52px,#ffdf00)"></i><i style="background:linear-gradient(90deg,#fff900,#f4ff0b 2px,#75ff8a 5px,#60ff9f 6px,#a8ff57 10px,#d4ff2b 12px,#dfff20 13px,#b3ff4c 15px,#6aff95 18px,#40ffbf 26px,#44ffbb 31px,#9bff64 35px,#a5ff5a 37px,#e2ff1d 40px,#ffff00 41px,#ffdf00 42px,#ffb100 48px,#ffde00 52px,#ffdf00)"></i><i style="background:linear-gradient(90deg,#f3ff0c,#e2ff1d 2px,#73ff8c 5px,#61ff9e 6px,#7eff81 8px,#d4ff2b 12px,#dfff20 13px,#66ff99 18px,#40ffbf 27px,#40ffbf 31px,#9bff64 36px,#a5ff5a 38px,#fdff02 41px,#ffdf00 42px,#ffc300 48px,#ffdf00 53px,#ffdf00)"></i><i style="background:linear-gradient(90deg,#e3ff1c,#e0ff1f 2px,#8cff73 6px,#a0ff5f 10px,#d2ff2d 12px,#dfff20 13px,#75ff8a 17px,#63ff9c 18px,#4bffb4 24px,#40ffbf 29px,#40ffbf 31px,#9fff60 37px,#9fff60 38px,#d8ff27 40px,#feff01 41px,#ffdf00 42px,#ffdb00 50px,#ffdf00)"></i><i style="background:linear-gradient(90deg,#dfff20,#eeff11 2px,#b9ff46 6px,#9eff61 10px,#aaff55 11px,#dfff20 13px,#73ff8c 17px,#60ff9f 19px,#51ffae 23px,#40ffbf 27px,#40ffbf 31px,#9cff63 37px,#9fff60 38px,#fffa00 41px,#ffdf00 42px,#ffdf00)"></i><i style="background:linear-gradient(90deg,#edff12,#faff05 2px,#d2ff2d 8px,#a3ff5c 10px,#a1ff5e 11px,#caff35 13px,#c2ff3d 14px,#75ff8a 17px,#60ff9f 19px,#40ffbf 27px,#40ffbf 31px,#7cff83 34px,#a5ff5a 38px,#e9ff16 40px,#fff000 41px,#ffe600 42px,#ffed00 45px,#ffdf00 49px,#ffdf00)"></i><i style="background:linear-gradient(90deg,#f9ff06,#fcff03 5px,#d0ff2f 9px,#aeff51 10px,#9bff64 11px,#9dff62 12px,#afff50 13px,#adff52 14px,#65ff9a 18px,#40ffbf 26px,#43ffbc 31px,#8fff70 33px,#b8ff47 36px,#b0ff4f 37px,#daff25 39px,#f7ff08 40px,#fff100 41px,#fff900 45px,#ffdf00 49px,#ffdf00)"></i><i style="background:linear-gradient(90deg,#fffa00,#fff200 4px,#f7ff08 7px,#ddff22 9px,#97ff68 11px,#8aff75 12px,#96ff69 14px,#58ffa7 19px,#40ffbf 27px,#40ffbf 30px,#b0ff4f 32px,#e8ff17 34px,#eeff11 35px,#d8ff27 37px,#e8ff17 39px,#feff01 41px,#f9ff06 45px,#ffef00 47px,#ffdf00 48px,#ffdf00)"></i><i style="background:linear-gradient(90deg,#ffee00,#ffe400 3px,#fdff02 8px,#f3ff0c 9px,#98ff67 11px,#76ff89 12px,#7aff85 15px,#51ffae 20px,#40ffbf 26px,#40ffbf 29px,#71ff8e 30px,#f1ff0e 32px,#ffdf00 33px,#ffdf00 34px,#f3ff0c 36px,#dcff23 38px,#f0ff0f 43px,#f7ff08 46px,#ffdf00 48px,#ffdf00)"></i><i style="background:linear-gradient(90deg,#ffe300,#ffe900 4px,#fff100 8px,#fffa00 9px,#75ff8a 12px,#60ff9f 13px,#6aff95 15px,#40ffbf 23px,#40ffbf 28px,#58ffa7 29px,#e5ff1a 31px,#fffb00 32px,#edff12 35px,#beff41 38px,#cdff32 40px,#e5ff1a 42px,#f2ff0d 46px,#fff700 47px,#ffdf00 48px,#ffe500 53px,#ffdf00)"></i><i style="background:linear-gradient(90deg,#ffdf00,#ffeb00 9px,#e5ff1a 10px,#79ff86 12px,#60ff9f 13px,#3cffc3 24px,#40ffbf 28px,#c1ff3e 30px,#eaff15 31px,#f2ff0d 34px,#deff21 36px,#a4ff5b 38px,#9fff60 39px,#d6ff29 42px,#e4ff1b 45px,#fff100 47px,#ffdf00 48px,#fff500 53px,#ffed00)"></i><i style="background:linear-gradient(90deg,#ffdf00,#ffdf00 9px,#fbff04 10px,#7eff81 12px,#60ff9f 13px,#40ffbf 21px,#40ffbf 27px,#4cffb3 28px,#d3ff2c 30px,#fdff02 33px,#f8ff07 36px,#b7ff48 39px,#beff41 41px,#eeff11 45px,#fffc00 46px,#ffdf00 48px,#faff05 52px,#fffd00)"></i><i style="background:linear-gradient(90deg,#ffdf00,#ffdf00 9px,#ffef00 10px,#caff35 11px,#88ff77 12px,#60ff9f 13px,#40ffbf 18px,#40ffbf 27px,#59ffa6 28px,#d4ff2b 30px,#fffc00 34px,#fff100 37px,#fcff03 38px,#dfff20 40px,#ebff14 43px,#fffc00 45px,#ffdf00 48px,#fbff04 51px,#e9ff16 53px,#f0ff0f)"></i><i style="background:linear-gradient(90deg,#ffdf00,#ffdf00 10px,#dbff24 11px,#60ff9f 13px,#3cffc3 17px,#40ffbf 27px,#54ffab 28px,#beff41 30px,#dfff20 31px,#ffff00 35px,#ffe100 38px,#fffa00 42px,#ffdf00 48px,#fbff04 51px,#dfff20 53px,#dfff20)"></i><i style="background:linear-gradient(90deg,#ffdf00,#ffdf00 10px,#ecff13 11px,#66ff99 13px,#32ffcd 17px,#40ffbf 28px,#dcff23 32px,#fff700 37px,#ffdf00 39px,#ffe100 48px,#fffe00 51px,#e3ff1c)"></i><i style="background:linear-gradient(90deg,#ffdf00,#ffdf00 10px,#fcff03 11px,#77ff88 13px,#25ffda 17px,#40ffbf 22px,#41ffbe 29px,#dfff20 34px,#eeff11 36px,#fff400 38px,#ffdf00 40px,#ffe200 48px,#f5ff0a 53px,#f4ff0b)"></i><i style="background:linear-gradient(90deg,#ffdf00,#ffdf00 10px,#fff200 11px,#8aff75 13px,#60ff9f 14px,#23ffdc 17px,#40ffbf 22px,#40ffbf 30px,#51ffae 31px,#dfff20 35px,#f0ff0f 37px,#ffff00 38px,#ffe100 40px,#ffe100 48px,#fffb00 53px,#fff900)"></i><i style="background:linear-gradient(90deg,#ffdf00,#ffdf00 10px,#ffe700 11px,#dbff24 12px,#60ff9f 14px,#47ffb8 16px,#32ffcd 17px,#40ffbf 25px,#40ffbf 31px,#4effb1 32px,#c6ff39 35px,#ddff22 36px,#fffb00 39px,#ffe100 41px,#ffe400 49px,#ffec00 53px,#ffe800)"></i><i style="background:linear-gradient(90deg,#ffdf00,#ffe900 9px,#fff100 11px,#daff25 12px,#68ff97 14px,#3cffc3 18px,#40ffbf 25px,#1dffe2 27px,#3cffc3 32px,#cdff32 36px,#d1ff2e 37px,#f7ff08 39px,#ffdf00 43px,#ffdf00)"></i><i style="background:linear-gradient(90deg,#ffdf00,#ffea00 8px,#f8ff07 11px,#6dff92 14px,#57ffa8 17px,#40ffbf 19px,#40ffbf 23px,#36ffc9 24px,#00fdff 26px,#00f5ff 28px,#16ffe9 30px,#33ffcc 32px,#bcff43 36px,#fffc00 41px,#ffdf00 44px,#ffdf00)"></i><i style="background:linear-gradient(90deg,#ffdf00,#ffea00 7px,#f7ff08 10px,#b9ff46 12px,#69ff96 14px,#62ff9d 15px,#75ff8a 17px,#65ff9a 18px,#3bffc4 19px,#2effd1 20px,#2dffd2 22px,#07fff8 24px,#00c3ff 27px,#00e2ff 29px,#00feff 30px,#2bffd4 32px,#b6ff49 36px,#fffc00 42px,#ffdf00 45px,#ffdf00)"></i><i style="background:linear-gradient(90deg,#ffdf00,#ffe900 6px,#feff01 8px,#e2ff1d 10px,#60ff9f 14px,#7aff85 16px,#8dff72 17px,#8aff75 18px,#45ffba 19px,#1fffe0 20px,#00ffff 23px,#00d4ff 25px,#00aeff 26px,#009fff 27px,#00aeff 28px,#00eeff 30px,#17ffe8 31px,#25ffda 32px,#99ff66 35px,#b4ff4b 36px,#fffd00 43px,#ffdf00 45px,#ffdf00)"></i><i style="background:linear-gradient(90deg,#ffdf00,#ffe700 5px,#fffe00 7px,#e4ff1b 9px,#70ff8f 13px,#60ff9f 14px,#7eff81 16px,#9fff60 18px,#2cffd3 20px,#11ffee 21px,#00fbff 23px,#00d4ff 25px,#009fff 27px,#00acff 28px,#00f6ff 30px,#1fffe0 31px,#2effd1 32px,#9cff63 35px,#f9ff06 43px,#ffdf00 45px,#ffdf00)"></i><i style="background:linear-gradient(90deg,#ffdf00,#ffe400 4px,#fffb00 6px,#e7ff18 8px,#77ff88 12px,#60ff9f 13px,#60ff9f 14px,#9fff60 18px,#80ff7f 19px,#4fffb0 20px,#1dffe2 22px,#02fffd 24px,#00e6ff 25px,#0093ff 27px,#00a5ff 28px,#03fffc 30px,#9cff63 35px,#f8ff07 43px,#ffdf00 45px,#ffdf00)"></i><i style="background:linear-gradient(90deg,#ffdf00,#ffdf00 3px,#fff900 5px,#cfff30 8px,#65ff9a 12px,#67ff98 14px,#9fff60 18px,#9cff63 19px,#4fffb0 21px,#0bfff4 24px,#00e5ff 25px,#0087ff 27px,#00a4ff 28px,#00d8ff 29px,#10ffef 30px,#8cff73 34px,#a0ff5f 35px,#b0ff4f 38px,#e9ff16 42px,#fffd00 43px,#ffe000 44px,#ffdf00)"></i><i style="background:linear-gradient(90deg,#ffdd00,#ffdf00 3px,#f6ff09 5px,#dfff20 7px,#6dff92 11px,#60ff9f 12px,#91ff6e 17px,#9fff60 19px,#2affd5 23px,#07fff8 24px,#00d6ff 25px,#0098ff 26px,#007bff 27px,#00e1ff 29px,#1dffe2 30px,#31ffce 31px,#91ff6e 34px,#a6ff59 35px,#aeff51 38px,#dfff20 41px,#f7ff08 42px,#ffdf00 44px,#ffdf00)"></i><i style="background:linear-gradient(90deg,#ffca00,#ffdd00 3px,#fff600 4px,#d2ff2d 7px,#61ff9e 11px,#73ff8c 14px,#9fff60 19px,#94ff6b 20px,#21ffde 23px,#00f1ff 24px,#0071ff 26px,#007aff 27px,#00eeff 29px,#29ffd6 30px,#37ffc8 31px,#8fff70 34px,#b3ff4c 36px,#b6ff49 38px,#fff700 42px,#ffe000 43px,#ffdf00)"></i><i style="background:linear-gradient(90deg,#ffb600,#ffc000 2px,#fff300 4px,#dfff20 6px,#72ff8d 10px,#60ff9f 11px,#83ff7c 15px,#9fff60 19px,#8bff74 20px,#04fffb 23px,#0087ff 25px,#0064ff 26px,#008bff 27px,#00ffff 29px,#37ffc8 30px,#3dffc2 31px,#b0ff4f 36px,#c3ff3c 37px,#c0ff3f 38px,#fdff02 41px,#ffdf00 43px,#ffdf00)"></i><i style="background:linear-gradient(90deg,#ffa400,#ffb100 2px,#fff300 4px,#dfff20 6px,#6eff91 10px,#60ff9f 11px,#9fff60 18px,#98ff67 19px,#45ffba 21px,#10ffef 22px,#00d6ff 23px,#0060ff 25px,#0076ff 26px,#00e2ff 28px,#16ffe9 29px,#40ffbf 30px,#40ffbf 31px,#caff35 37px,#deff21 39px,#fff600 41px,#ffe200 42px,#ffdf00)"></i><i style="background:linear-gradient(90deg,#ff9f00,#ff9f00 1px,#ffb200 2px,#fff600 4px,#dfff20 6px,#6fff90 10px,#60ff9f 11px,#8bff74 15px,#9fff60 17px,#98ff67 18px,#57ffa8 20px,#29ffd6 21px,#00efff 22px,#006cff 24px,#007aff 25px,#00e8ff 27px,#17ffe8 28px,#3cffc3 29px,#4bffb4 30px,#4affb5 31px,#9aff65 35px,#d8ff27 37px,#ebff14 39px,#feff01 40px,#ffdf00 42px,#ffdf00)"></i><i style="background:linear-gradient(90deg,#ffae00,#ffae00 1px,#fffb00 4px,#e4ff1b 5px,#deff21 6px,#5cffa3 11px,#6cff93 13px,#9fff60 16px,#9cff63 17px,#3cffc3 20px,#0cfff3 21px,#0094ff 23px,#0096ff 24px,#00f3ff 26px,#43ffbc 28px,#5dffa2 29px,#61ff9e 31px,#a8ff57 35px,#dfff20 37px,#fff700 40px,#ffdf00 42px,#ffdf00)"></i><i style="background:linear-gradient(90deg,#ffbd00,#fbff04 4px,#e1ff1e 5px,#deff21 6px,#5bffa4 11px,#55ffaa 12px,#9fff60 16px,#51ffae 19px,#00f2ff 21px,#00c3ff 22px,#00bdff 23px,#02fffd 25px,#64ff9b 28px,#77ff88 31px,#c1ff3e 35px,#ddff22 36px,#efff10 38px,#fff200 40px,#ffdf00 42px,#ffdf00)"></i><i style="background:linear-gradient(90deg,#ffcc00,#fff800 3px,#e0ff1f 5px,#dfff20 6px,#4fffb0 12px,#76ff89 14px,#92ff6d 15px,#9fff60 16px,#4affb5 19px,#1dffe2 20px,#00f4ff 21px,#00eaff 22px,#00faff 23px,#7aff85 28px,#7eff81 30px,#daff25 35px,#fff900 39px,#ffdf00 42px,#ffdf00)"></i><i style="background:linear-gradient(90deg,#ffdd00,#feff01 3px,#e1ff1e 5px,#d1ff2e 7px,#6fff90 11px,#48ffb7 12px,#52ffad 13px,#8fff70 15px,#9fff60 16px,#4effb1 19px,#25ffda 20px,#13ffec 21px,#29ffd6 23px,#7aff85 27px,#8cff73 29px,#9cff63 31px,#d6ff29 34px,#fffe00 38px,#ffdf00 42px,#ffdf00)"></i><i style="background:linear-gradient(90deg,#ffdd00,#f9ff06 3px,#dfff20 6px,#ddff22 7px,#9eff61 10px,#51ffae 12px,#43ffbc 13px,#89ff76 15px,#9fff60 16px,#3cffc3 20px,#32ffcd 21px,#6eff91 25px,#9fff60 29px,#acff53 31px,#dfff20 34px,#fff900 38px,#ffdf00 43px,#ffdf00)"></i><i style="background:linear-gradient(90deg,#ffc800,#fcff03 4px,#e7ff18 8px,#b5ff4a 10px,#40ffbf 13px,#9fff60 16px,#77ff88 18px,#40ffbf 20px,#5fffa0 23px,#83ff7c 26px,#acff53 31px,#dfff20 34px,#ffff00 37px,#ffdf00 43px,#ffdf00)"></i><i style="background:linear-gradient(90deg,#ffb100,#ffc900 2px,#fffc00 6px,#fdff02 8px,#efff10 9px,#aaff55 11px,#49ffb6 13px,#58ffa7 14px,#96ff69 16px,#9eff61 17px,#40ffbf 21px,#bfff40 30px,#efff10 34px,#fff800 38px,#ffdf00 44px,#ffdf00)"></i><i style="background:linear-gradient(90deg,#ff9f00,#ffab00 2px,#ffe700 6px,#fff800 9px,#e8ff17 10px,#93ff6c 12px,#5effa1 13px,#55ffaa 14px,#9fff60 17px,#8dff72 19px,#4fffb0 22px,#73ff8c 24px,#c1ff3e 28px,#f6ff09 33px,#ffe900 41px,#ffdf00 47px,#ffdf00)"></i><i style="background:linear-gradient(90deg,#ffb200,#ffb200 2px,#ffe300 8px,#ffe600 9px,#fbff04 10px,#79ff86 13px,#59ffa6 14px,#95ff6a 17px,#9dff62 19px,#70ff8f 22px,#6dff92 23px,#cdff32 27px,#f9ff06 30px,#fff200 36px,#ffdf00 46px,#ffdf00)"></i><i style="background:linear-gradient(90deg,#ffc900,#ffca00 2px,#ffe800 5px,#ffdf00 9px,#fff500 10px,#e8ff17 11px,#60ff9f 14px,#79ff86 16px,#9eff61 18px,#98ff67 21px,#8cff73 23px,#9aff65 24px,#e7ff18 27px,#fff800 29px,#ffdf00 34px,#ffe400 40px,#ffdf00)"></i><i style="background:linear-gradient(90deg,#ffdc00,#ffe000 2px,#fff700 3px,#fbff04 6px,#ffec00 9px,#fff500 10px,#edff12 11px,#7fff80 14px,#71ff8e 15px,#a5ff5a 20px,#b6ff49 24px,#fffc00 27px,#ffdf00 30px,#ffdf00)"></i><i style="background:linear-gradient(90deg,#ffdf00,#ffe800 2px,#faff05 3px,#e2ff1d 4px,#e1ff1e 6px,#f8ff07 10px,#a0ff5f 14px,#94ff6b 15px,#a8ff57 20px,#d9ff26 24px,#fffe00 26px,#ffdf00 30px,#ffdf00)"></i><i style="background:linear-gradient(90deg,#fff400,#faff05 2px,#c9ff36 6px,#daff25 10px,#b5ff4a 15px,#b1ff4e 20px,#deff21 23px,#fff900 26px,#ffdf00 30px,#ffdf00)"></i><i style="background:linear-gradient(90deg,#fcff03,#cbff34 5px,#b9ff46 10px,#c4ff3b 13px,#d5ff2a 15px,#bfff40 19px,#e0ff1f 22px,#fffb00 25px,#ffdf00 29px,#ffdf00)"></i><i style="background:linear-gradient(90deg,#f4ff0b,#c4ff3b 4px,#afff50 8px,#9fff60 10px,#ddff22 14px,#d5ff2a 18px,#d7ff28 20px,#fffb00 23px,#ffdf00 30px,#ffdf00)"></i><i style="background:linear-gradient(90deg,#edff12,#d6ff29 2px,#b7ff48 5px,#a1ff5e 10px,#dfff20 17px,#e8ff17 20px,#fff200 22px,#ffe200 26px,#ffd700 44px,#ffd900 52px,#ffd100)"></i><i style="background:linear-gradient(90deg,#e4ff1b,#e2ff1d 1px,#b6ff49 4px,#9fff60 9px,#afff50 14px,#ddff22 18px,#eaff15 20px,#ffff00 21px,#ffdf00 23px,#ffde00 42px,#ffca00 46px,#ffca00 53px,#ffc500)"></i><i style="background:linear-gradient(90deg,#d4ff2b,#d8ff27 1px,#a3ff5c 6px,#92ff6d 13px,#a7ff58 15px,#dfff20 19px,#fdff02 21px,#ffdf00 23px,#ffdc00 42px,#ffbe00 46px,#ffbf00 53px,#ffba00)"></i><i style="background:linear-gradient(90deg,#bdff42,#c7ff38 1px,#9fff60 7px,#78ff87 13px,#91ff6e 15px,#deff21 19px,#e5ff1a 20px,#fbff04 21px,#ffdf00 23px,#ffdc00 42px,#ffb100 47px,#ffb100)"></i><i style="background:linear-gradient(90deg,#9fff60,#b2ff4d 2px,#94ff6b 8px,#63ff9c 13px,#63ff9c 14px,#ddff22 19px,#faff05 21px,#ffdf00 23px,#ffdf00 42px,#ffa000 49px,#ffa800)"></i><i style="background:linear-gradient(90deg,#9aff65,#9fff60 6px,#72ff8d 10px,#60ff9f 14px,#81ff7e 16px,#dfff20 19px,#fbff04 21px,#ffe500 23px,#ffdc00 43px,#ff9f00 49px,#ffa000)"></i><i style="background:linear-gradient(90deg,#87ff78,#9eff61 3px,#85ff7a 7px,#68ff97 10px,#60ff9f 14px,#83ff7c 16px,#d6ff29 19px,#e9ff16 21px,#fff900 23px,#ffdf00 29px,#ffda00 44px,#ff9f00 49px,#ff9f00)"></i><i style="background:linear-gradient(90deg,#75ff8a,#8eff71 3px,#73ff8c 7px,#61ff9e 11px,#63ff9c 14px,#9aff65 17px,#c3ff3c 19px,#fffd00 25px,#ffdf00 29px,#ffdf00 44px,#ff9f00 49px,#ff9a00)"></i><i style="background:linear-gradient(90deg,#64ff9b,#7dff82 3px,#60ff9f 8px,#63ff9c 13px,#97ff68 17px,#b2ff4d 19px,#e0ff1f 23px,#efff10 25px,#fff700 27px,#ffdf00 30px,#ffd800 41px,#ffc400 45px,#ff8d00 52px,#ff8d00)"></i><i style="background:linear-gradient(90deg,#60ff9f,#6aff95 4px,#60ff9f 7px,#75ff8a 10px,#6cff93 13px,#93ff6c 17px,#afff50 20px,#dbff24 23px,#fffa00 28px,#ffdf00 32px,#ffd800 39px,#ffbb00 44px,#ff9700 47px,#ff9300 48px,#ff9f00 49px,#ff7a00 53px,#ff7d00)"></i><i style="background:linear-gradient(90deg,#60ff9f,#62ff9d 7px,#92ff6d 10px,#82ff7d 15px,#afff50 20px,#deff21 24px,#fffb00 29px,#ffdf00 32px,#ffd800 38px,#ffa100 44px,#ff7b00 47px,#ff8900 50px,#ff6800 53px,#ff6b00)"></i><i style="background:linear-gradient(90deg,#60ff9f,#60ff9f 7px,#abff54 10px,#92ff6d 15px,#adff52 20px,#dfff20 26px,#fff800 30px,#ffdf00 32px,#ffda00 37px,#ff9800 43px,#ff6800 46px,#ff7600 51px,#ff6000 53px,#ff6000)"></i><i style="background:linear-gradient(90deg,#60ff9f,#60ff9f 7px,#9aff65 9px,#baff45 10px,#9cff63 14px,#a8ff57 20px,#f3ff0c 29px,#ffed00 31px,#ffdf00 33px,#ffdf00 36px,#ffa400 40px,#ff9100 42px,#ff6000 46px,#ff6d00 51px,#ff6000)"></i><i style="background:linear-gradient(90deg,#60ff9f,#60ff9f 7px,#6aff95 8px,#beff41 10px,#c6ff39 11px,#a7ff58 13px,#a3ff5c 20px,#d3ff2c 26px,#fffe00 30px,#ffdf00 32px,#ffdf00 36px,#ffa600 39px,#ff6000 45px,#ff6000)"></i><i style="background:linear-gradient(90deg,#5cffa3,#60ff9f 8px,#b6ff49 10px,#d3ff2c 11px,#a7ff58 14px,#a1ff5e 21px,#d1ff2e 26px,#fffc00 30px,#ffdf00 32px,#ffdd00 36px,#ffa000 39px,#ff6000 45px,#ff6000)"></i><i style="background:linear-gradient(90deg,#4cffb3,#60ff9f 5px,#60ff9f 8px,#73ff8c 9px,#d4ff2b 11px,#d0ff2f 12px,#afff50 14px,#9fff60 20px,#aaff55 23px,#fff700 30px,#ffdf00 32px,#ffd900 36px,#ff9f00 39px,#ff6100 44px,#ff6000)"></i><i style="background:linear-gradient(90deg,#3dffc2,#5fffa0 4px,#64ff9b 9px,#c2ff3d 11px,#dfff20 12px,#aeff51 15px,#9fff60 21px,#abff54 23px,#feff01 29px,#ffdf00 31px,#ffdf00 35px,#ff9f00 39px,#ff8b00 41px,#ff6200 44px,#ff6000)"></i><i style="background:linear-gradient(90deg,#32ffcd,#3fffc0 2px,#5dffa2 4px,#65ff9a 9px,#83ff7c 10px,#dfff20 12px,#abff54 16px,#a2ff5d 22px,#dfff20 26px,#fff700 29px,#ffdf00 31px,#ffdf00 35px,#ffa100 39px,#ff8f00 41px,#ff6000 45px,#ff6000)"></i><i style="background:linear-gradient(90deg,#28ffd7,#35ffca 2px,#5affa5 4px,#6eff91 9px,#80ff7f 10px,#cfff30 12px,#dfff20 13px,#b0ff4f 16px,#9fff60 21px,#fffe00 28px,#ffdf00 30px,#ffdb00 35px,#ff9f00 40px,#ff6200 45px,#ff6000)"></i><i style="background:linear-gradient(90deg,#20ffdf,#2dffd2 2px,#63ff9c 5px,#86ff79 10px,#dfff20 13px,#a5ff5a 18px,#a4ff5b 21px,#f8ff07 27px,#ffdf00 30px,#ffdf00 34px,#ff6e00 45px,#ff6000)"></i><i style="background:linear-gradient(90deg,#20ffdf,#24ffdb 2px,#35ffca 3px,#69ff96 5px,#95ff6a 10px,#dbff24 13px,#dcff23 14px,#bcff43 16px,#afff50 21px,#dcff23 24px,#fffc00 27px,#ffdf00 29px,#ffd700 35px,#ffa500 42px,#ff7900 45px,#ff6400)"></i><i style="background:linear-gradient(90deg,#20ffdf,#20ffdf 2px,#2effd1 3px,#74ff8b 5px,#9eff61 8px,#b3ff4c 11px,#e0ff1f 14px,#bcff43 20px,#dfff20 24px,#fcff03 26px,#ffdf00 29px,#ffd600 36px,#ffc700 41px,#ff8400 45px,#ff7600 53px,#ff7500)"></i><i style="background:linear-gradient(90deg,#20ffdf,#20ffdf 2px,#32ffcd 3px,#7fff80 5px,#96ff69 6px,#a0ff5f 10px,#f2ff0d 14px,#c7ff38 19px,#d3ff2c 22px,#fff800 26px,#ffdf00 28px,#ffd600 41px,#ff8400 46px,#ff8700)"></i><i style="background:linear-gradient(90deg,#20ffdf,#20ffdf 2px,#35ffca 3px,#79ff86 5px,#88ff77 6px,#8bff74 8px,#b1ff4e 11px,#fffb00 14px,#ebff14 17px,#d1ff2e 19px,#dfff20 23px,#fffe00 25px,#ffe200 27px,#ffdf00 41px,#ff8a00 46px,#ff9b00)"></i><i style="background:linear-gradient(90deg,#20ffdf,#20ffdf 2px,#70ff8f 5px,#91ff6e 8px,#bdff42 11px,#f3ff0c 13px,#ffe900 14px,#fff500 16px,#edff12 18px,#dbff24 20px,#e2ff1d 23px,#fff600 25px,#ffdf00 27px,#ffdf00 41px,#ff9400 46px,#ff9f00)"></i><i style="background:linear-gradient(90deg,#20ffdf,#20ffdf 2px,#66ff99 5px,#69ff96 6px,#a3ff5c 8px,#e4ff1b 12px,#fffe00 13px,#ffdf00 14px,#ffec00 16px,#f2ff0d 18px,#dfff20 19px,#e6ff19 23px,#fcff03 24px,#ffe200 26px,#ffdf00 41px,#ff9d00 47px,#ff9f00)"></i><i style="background:linear-gradient(90deg,#20ffdf,#20ffdf 2px,#75ff8a 6px,#b7ff48 8px,#f2ff0d 12px,#ffdf00 14px,#ffeb00 16px,#f6ff09 18px,#e2ff1d 19px,#f1ff0e 23px,#ffe900 25px,#ffdf00 28px,#ffdf00 41px,#ff9f00 47px,#ff9f00)"></i><i style="background:linear-gradient(90deg,#20ffdf,#20ffdf 2px,#7cff83 6px,#a7ff58 7px,#d4ff2b 9px,#fdff02 12px,#ffdf00 14px,#f8ff07 18px,#e5ff1a 19px,#e2ff1d 20px,#fffd00 23px,#ffdf00 26px,#ffd900 41px,#ff9f00 47px,#ff9f00)"></i><i style="background:linear-gradient(90deg,#20ffdf,#20ffdf 2px,#7eff81 6px,#c8ff37 8px,#fff900 12px,#ffe400 13px,#ffe200 15px,#f9ff06 18px,#e5ff1a 19px,#e3ff1c 20px,#fff300 22px,#ffdf00 28px,#ffdd00 40px,#ff9f00 47px,#ff9f00)"></i><i style="background:linear-gradient(90deg,#20ffdf,#20ffdf 2px,#79ff86 6px,#c6ff39 8px,#fff600 12px,#ffe000 13px,#ffed00 16px,#f7ff08 18px,#e5ff1a 19px,#e4ff1b 20px,#feff01 21px,#ffe700 22px,#ffdf00 39px,#ff9f00 47px,#ff9f00 51px,#ffa900 53px,#ffa200)"></i><i style="background:linear-gradient(90deg,#20ffdf,#20ffdf 2px,#6eff91 6px,#bdff42 8px,#fffa00 12px,#ffe100 13px,#ffec00 16px,#fcff03 18px,#eaff15 19px,#e8ff17 20px,#fdff02 21px,#ffdf00 23px,#ffdf00 34px,#fff600 36px,#ffa300 46px,#ff9f00 47px,#ffde00 50px,#ffeb00 52px,#ffd800)"></i><i style="background:linear-gradient(90deg,#20ffdf,#20ffdf 2px,#59ffa6 5px,#5bffa4 6px,#a3ff5c 8px,#f8ff07 12px,#ffe700 13px,#ffe300 15px,#fffc00 18px,#f4ff0b 20px,#fffc00 21px,#ffdf00 23px,#ffe200 34px,#fcff03 35px,#e7ff18 36px,#e5ff1a 37px,#fdff02 38px,#ffd900 39px,#ffb100 44px,#fff800 47px,#d6ff29 49px,#d2ff2d 51px,#dfff20 53px,#f2ff0d)"></i><i style="background:linear-gradient(90deg,#20ffdf,#29ffd6 3px,#52ffad 7px,#a9ff56 10px,#e2ff1d 12px,#fff400 13px,#ffdf00 14px,#ffff00 20px,#ffdf00 23px,#ffe300 34px,#edff12 35px,#caff35 36px,#bcff43 37px,#d0ff2f 38px,#f6ff09 39px,#ffd000 41px,#ffcc00 42px,#fff400 44px,#c7ff38 46px,#8aff75 48px,#84ff7b 50px,#abff54 53px,#c2ff3d)"></i><i style="background:linear-gradient(90deg,#20ffdf,#27ffd8 7px,#58ffa7 9px,#98ff67 11px,#f7ff08 13px,#ffdf00 14px,#fff200 20px,#ffdf00 26px,#ffdf00 34px,#e8ff17 35px,#b7ff48 36px,#99ff66 37px,#9cff63 38px,#ddff22 40px,#efff10 41px,#f0ff0f 42px,#c1ff3e 44px,#39ffc6 48px,#47ffb8 50px,#98ff67)"></i><i style="background:linear-gradient(90deg,#20ffdf,#20ffdf 9px,#66ff99 11px,#dfff20 13px,#ffdf00 14px,#ffdf00 34px,#f4ff0b 35px,#b3ff4c 36px,#82ff7d 37px,#67ff98 38px,#a3ff5c 41px,#a3ff5c 42px,#76ff89 44px,#2fffd0 46px,#20ffdf 47px,#22ffdd 48px,#5affa5 51px,#60ff9f 53px,#74ff8b)"></i><i style="background:linear-gradient(90deg,#20ffdf,#20ffdf 10px,#39ffc6 11px,#cbff34 13px,#ffdf00 14px,#ffdf00 34px,#ffec00 35px,#ccff33 36px,#4dffb2 38px,#2effd1 39px,#4dffb2 41px,#3effc1 43px,#26ffd9 44px,#21ffde 48px,#59ffa6 51px,#60ff9f)"></i><i style="background:linear-gradient(90deg,#20ffdf,#20ffdf 11px,#61ff9e 12px,#beff41 13px,#ffdf00 14px,#ffdf00 35px,#e9ff16 36px,#65ff9a 38px,#30ffcf 39px,#1fffe0 40px,#14ffeb 47px,#57ffa8 51px,#60ff9f)"></i><i style="background:linear-gradient(90deg,#20ffdf,#20ffdf 11px,#54ffab 12px,#baff45 13px,#ffdf00 14px,#ffdf00 35px,#fffe00 36px,#6cff93 38px,#2effd1 39px,#09fff6 40px,#0dfff2 47px,#54ffab 51px,#56ffa9)"></i><i style="background:linear-gradient(90deg,#20ffdf,#20ffdf 11px,#58ffa7 12px,#c2ff3d 13px,#ffdf00 14px,#ffdf00 35px,#fff400 36px,#65ff9a 38px,#20ffdf 39px,#00f4ff 40px,#00f8ff 46px,#09fff6 47px,#48ffb7 50px,#49ffb6)"></i><i style="background:linear-gradient(90deg,#20ffdf,#20ffdf 11px,#6cff93 12px,#d5ff2a 13px,#ffdf00 14px,#ffdf00 35px,#fff700 36px,#08fff7 39px,#00e4ff 40px,#00e9ff 46px,#03fffc 47px,#34ffcb 49px,#43ffbc 51px,#39ffc6)"></i><i style="background:linear-gradient(90deg,#2affd5,#29ffd6 4px,#20ffdf 10px,#30ffcf 11px,#efff10 13px,#ffdf00 14px,#ffdf00 35px,#f7ff08 36px,#41ffbe 38px,#00f4ff 39px,#00dfff 40px,#00e2ff 46px,#00f8ff 47px,#2dffd2 49px,#2dffd2 53px,#26ffd9)"></i><i style="background:linear-gradient(90deg,#36ffc9,#20ffdf 10px,#57ffa8 11px,#fff500 13px,#ffdf00 14px,#ffdf00 35px,#e1ff1e 36px,#3dffc2 38px,#00f8ff 39px,#00eeff 41px,#00e9ff 46px,#00f9ff 47px,#20ffdf 49px,#20ffdf)"></i><i style="background:linear-gradient(90deg,#3fffc0,#20ffdf 9px,#30ffcf 10px,#cdff32 12px,#ffdf00 13px,#ffdb00 35px,#daff25 36px,#14ffeb 39px,#07fff8 41px,#00f5ff 46px,#11ffee 48px,#20ffdf 49px,#20ffdf)"></i><i style="background:linear-gradient(90deg,#4affb5,#30ffcf 7px,#20ffdf 9px,#51ffae 10px,#e6ff19 12px,#ffdf00 13px,#ffd700 33px,#ffce00 34px,#ffd900 35px,#e5ff1a 36px,#39ffc6 39px,#22ffdd 41px,#1effe1 44px,#04fffb 46px,#20ffdf 50px,#20ffdf)"></i><i style="background:linear-gradient(90deg,#58ffa7,#3fffc0 6px,#20ffdf 9px,#f4ff0b 12px,#ffdf00 13px,#ffdb00 30px,#ffb600 34px,#ffce00 35px,#fdff02 36px,#68ff97 39px,#4bffb4 40px,#38ffc7 44px,#12ffed 46px,#20ffdf 53px,#19ffe6)"></i><i style="background:linear-gradient(90deg,#60ff9f,#5dffa2 4px,#31ffce 7px,#34ffcb 8px,#4dffb2 9px,#faff05 12px,#ffdf00 13px,#ffdf00 29px,#ff9f00 34px,#ffbc00 35px,#ffe800 36px,#f0ff0f 37px,#77ff88 40px,#57ffa8 44px,#1fffe0 46px,#20ffdf 51px,#00fcff 53px,#00ebff)"></i><i style="background:linear-gradient(90deg,#bbff44,#81ff7e 2px,#6fff90 4px,#7dff82 6px,#91ff6e 8px,#fff800 12px,#ffdf00 13px,#ffdf00 29px,#ff9f00 34px,#ffb100 35px,#fff700 37px,#a6ff59 40px,#9bff64 42px,#4cffb3 45px,#26ffd9 46px,#1affe5 49px,#00faff 51px,#00c6ff)"></i><i style="background:linear-gradient(90deg,#ffd700,#fffa00 1px,#d2ff2d 3px,#c6ff39 5px,#ffff00 11px,#ffdf00 13px,#ffda00 23px,#ffce00 28px,#ffc000 31px,#ffa000 34px,#ffa200 35px,#fff000 38px,#edff12 39px,#b5ff4a 41px,#b3ff4c 42px,#6bff94 45px,#47ffb8 46px,#15ffea 49px,#00f6ff 50px,#00abff)"></i><i style="background:linear-gradient(90deg,#ff6d00,#ffb500 2px,#ffe100 4px,#ffea00 7px,#ffe500 12px,#ffd700 20px,#ffb300 26px,#ffb700 31px,#ff9f00 35px,#ffcb00 38px,#fff600 40px,#f2ff0d 42px,#bbff44 44px,#6bff94 46px,#1bffe4 49px,#00f2ff 50px,#00cbff 51px,#009fff)"></i><i style="background:linear-gradient(90deg,#ff6000,#ff6000 2px,#ff7000 3px,#ffa400 5px,#ffc500 9px,#ffdf00 12px,#ffd900 19px,#ffa100 24px,#ffa700 28px,#ffab00 32px,#ff9f00 36px,#ffca00 41px,#ffca00 42px,#f1ff0e 44px,#93ff6c 46px,#51ffae 48px,#00f4ff 50px,#00c0ff 51px,#009fff 53px,#009fff)"></i><i style="background:linear-gradient(90deg,#ff6000,#ff6000 3px,#ff9f00 7px,#ffdf00 12px,#ffd700 19px,#ffa300 22px,#ffa600 30px,#ff9f00 42px,#ffe600 44px,#eeff11 45px,#67ff98 48px,#2cffd3 49px,#00f3ff 50px,#00b7ff 51px,#009fff 53px,#009fff)"></i><i style="background:linear-gradient(90deg,#ff6000,#ff6000 3px,#ff9900 6px,#ffb200 8px,#ffdf00 11px,#ffd700 19px,#ffa400 22px,#ff9f00 42px,#ffec00 44px,#e9ff16 45px,#74ff8b 48px,#29ffd6 49px,#00e5ff 50px,#00adff 51px,#009fff)"></i><i style="background:linear-gradient(90deg,#ff6000,#ff6000 3px,#ff9c00 6px,#ffc900 9px,#ffdf00 11px,#ffd700 19px,#ffa500 22px,#ffa000 42px,#fff600 44px,#b1ff4e 46px,#9fff60 47px,#61ff9e 48px,#14ffeb 49px,#00c4ff 50px,#009fff 51px,#009fff)"></i></div>
<div class="cb" style="left:126.90px;top:62.30px;width:5.10px;height:226.30px;background:linear-gradient(180deg,#800000 0%,#ff0000 12.5%,#ffff00 37.5%,#00ffff 62.5%,#0000ff 87.5%,#000080 100%)"></div>
<div class="tk" style="left:130.00px;top:138.80px"></div>
<div class="tk" style="left:130.00px;top:215.90px"></div>
<div class="cb" style="left:317.50px;top:66.00px;width:5.10px;height:226.10px;background:linear-gradient(180deg,#800000 0%,#ff0000 12.5%,#ffff00 37.5%,#00ffff 62.5%,#0000ff 87.5%,#000080 100%)"></div>
<div class="tk" style="left:320.60px;top:142.50px"></div>
<div class="tk" style="left:320.60px;top:219.50px"></div>
<div class="cb" style="left:508.50px;top:72.20px;width:5.30px;height:224.30px;background:linear-gradient(180deg,#800000 0%,#ff0000 12.5%,#ffff00 37.5%,#00ffff 62.5%,#0000ff 87.5%,#000080 100%)"></div>
<div class="tk" style="left:511.80px;top:148.30px"></div>
<div class="tk" style="left:511.80px;top:225.00px"></div>
<div class="cb" style="left:127.40px;top:337.10px;width:5.20px;height:227.20px;background:linear-gradient(180deg,#800000 0%,#ff0000 12.5%,#ffff00 37.5%,#00ffff 62.5%,#0000ff 87.5%,#000080 100%)"></div>
<div class="tk" style="left:130.60px;top:413.40px"></div>
<div class="tk" style="left:130.60px;top:491.10px"></div>
<div class="cb" style="left:318.50px;top:337.20px;width:5.00px;height:227.80px;background:linear-gradient(180deg,#800000 0%,#ff0000 12.5%,#ffff00 37.5%,#00ffff 62.5%,#0000ff 87.5%,#000080 100%)"></div>
<div class="tk" style="left:321.50px;top:414.20px"></div>
<div class="tk" style="left:321.50px;top:491.40px"></div>
<div class="cb" style="left:509.80px;top:339.50px;width:5.50px;height:225.00px;background:linear-gradient(180deg,#800000 0%,#ff0000 12.5%,#ffff00 37.5%,#00ffff 62.5%,#0000ff 87.5%,#000080 100%)"></div>
<div class="tk" style="left:513.30px;top:417.20px"></div>
<div class="tk" style="left:513.30px;top:493.80px"></div>
<span class="t" style="left:79.00px;top:14.50px;font-size:12px;line-height:12px;font-weight:700;color:#111;transform:translateX(-50%)">Sensor 1</span>
<span class="t" style="left:265.00px;top:14.50px;font-size:12px;line-height:12px;font-weight:700;color:#111;transform:translateX(-50%)">Sensor 2</span>
<span class="t" style="left:448.50px;top:14.00px;font-size:12px;line-height:12px;font-weight:700;color:#111;transform:translateX(-50%)">Vertical gradient</span>
<span class="t" style="left:7.80px;top:26.68px;font-size:13px;line-height:13px;font-weight:700;color:#111;transform:translateX(-50%)">a</span>
<span class="t" style="left:192.70px;top:27.00px;font-size:13px;line-height:13px;font-weight:700;color:#111;transform:translateX(-50%)">b</span>
<span class="t" style="left:389.00px;top:26.88px;font-size:13px;line-height:13px;font-weight:700;color:#111;transform:translateX(-50%)">c</span>
<span class="t" style="left:8.30px;top:328.40px;font-size:13px;line-height:13px;font-weight:700;color:#111;transform:translateX(-50%)">d</span>
<span class="t" style="left:192.40px;top:326.88px;font-size:13px;line-height:13px;font-weight:700;color:#111;transform:translateX(-50%)">e</span>
<span class="t" style="left:389.10px;top:327.80px;font-size:13px;line-height:13px;font-weight:700;color:#111;transform:translateX(-50%)">f</span>
<span class="t" style="left:42.60px;top:278.10px;font-size:8.2px;line-height:8.2px;font-weight:400;color:#262626;transform:translateX(-100%)">0</span>
<span class="t" style="left:42.60px;top:252.23px;font-size:8.2px;line-height:8.2px;font-weight:400;color:#262626;transform:translateX(-100%)">5</span>
<span class="t" style="left:42.60px;top:226.35px;font-size:8.2px;line-height:8.2px;font-weight:400;color:#262626;transform:translateX(-100%)">10</span>
<span class="t" style="left:42.60px;top:200.48px;font-size:8.2px;line-height:8.2px;font-weight:400;color:#262626;transform:translateX(-100%)">15</span>
<span class="t" style="left:42.60px;top:174.60px;font-size:8.2px;line-height:8.2px;font-weight:400;color:#262626;transform:translateX(-100%)">20</span>
<span class="t" style="left:42.60px;top:148.73px;font-size:8.2px;line-height:8.2px;font-weight:400;color:#262626;transform:translateX(-100%)">25</span>
<span class="t" style="left:42.60px;top:122.85px;font-size:8.2px;line-height:8.2px;font-weight:400;color:#262626;transform:translateX(-100%)">30</span>
<span class="t" style="left:42.60px;top:96.98px;font-size:8.2px;line-height:8.2px;font-weight:400;color:#262626;transform:translateX(-100%)">35</span>
<span class="t" style="left:42.60px;top:71.10px;font-size:8.2px;line-height:8.2px;font-weight:400;color:#262626;transform:translateX(-100%)">40</span>
<span class="t" style="left:233.60px;top:281.60px;font-size:8.2px;line-height:8.2px;font-weight:400;color:#262626;transform:translateX(-100%)">0</span>
<span class="t" style="left:233.60px;top:255.73px;font-size:8.2px;line-height:8.2px;font-weight:400;color:#262626;transform:translateX(-100%)">5</span>
<span class="t" style="left:233.60px;top:229.85px;font-size:8.2px;line-height:8.2px;font-weight:400;color:#262626;transform:translateX(-100%)">10</span>
<span class="t" style="left:233.60px;top:203.98px;font-size:8.2px;line-height:8.2px;font-weight:400;color:#262626;transform:translateX(-100%)">15</span>
<span class="t" style="left:233.60px;top:178.10px;font-size:8.2px;line-height:8.2px;font-weight:400;color:#262626;transform:translateX(-100%)">20</span>
<span class="t" style="left:233.60px;top:152.23px;font-size:8.2px;line-height:8.2px;font-weight:400;color:#262626;transform:translateX(-100%)">25</span>
<span class="t" style="left:233.60px;top:126.35px;font-size:8.2px;line-height:8.2px;font-weight:400;color:#262626;transform:translateX(-100%)">30</span>
<span class="t" style="left:233.60px;top:100.48px;font-size:8.2px;line-height:8.2px;font-weight:400;color:#262626;transform:translateX(-100%)">35</span>
<span class="t" style="left:233.60px;top:74.60px;font-size:8.2px;line-height:8.2px;font-weight:400;color:#262626;transform:translateX(-100%)">40</span>
<span class="t" style="left:424.40px;top:285.80px;font-size:8.2px;line-height:8.2px;font-weight:400;color:#262626;transform:translateX(-100%)">0</span>
<span class="t" style="left:424.40px;top:259.92px;font-size:8.2px;line-height:8.2px;font-weight:400;color:#262626;transform:translateX(-100%)">5</span>
<span class="t" style="left:424.40px;top:234.05px;font-size:8.2px;line-height:8.2px;font-weight:400;color:#262626;transform:translateX(-100%)">10</span>
<span class="t" style="left:424.40px;top:208.18px;font-size:8.2px;line-height:8.2px;font-weight:400;color:#262626;transform:translateX(-100%)">15</span>
<span class="t" style="left:424.40px;top:182.30px;font-size:8.2px;line-height:8.2px;font-weight:400;color:#262626;transform:translateX(-100%)">20</span>
<span class="t" style="left:424.40px;top:156.43px;font-size:8.2px;line-height:8.2px;font-weight:400;color:#262626;transform:translateX(-100%)">25</span>
<span class="t" style="left:424.40px;top:130.55px;font-size:8.2px;line-height:8.2px;font-weight:400;color:#262626;transform:translateX(-100%)">30</span>
<span class="t" style="left:424.40px;top:104.68px;font-size:8.2px;line-height:8.2px;font-weight:400;color:#262626;transform:translateX(-100%)">35</span>
<span class="t" style="left:424.40px;top:78.80px;font-size:8.2px;line-height:8.2px;font-weight:400;color:#262626;transform:translateX(-100%)">40</span>
<span class="t" style="left:42.60px;top:553.60px;font-size:8.2px;line-height:8.2px;font-weight:400;color:#262626;transform:translateX(-100%)">0</span>
<span class="t" style="left:42.60px;top:527.72px;font-size:8.2px;line-height:8.2px;font-weight:400;color:#262626;transform:translateX(-100%)">5</span>
<span class="t" style="left:42.60px;top:501.85px;font-size:8.2px;line-height:8.2px;font-weight:400;color:#262626;transform:translateX(-100%)">10</span>
<span class="t" style="left:42.60px;top:475.97px;font-size:8.2px;line-height:8.2px;font-weight:400;color:#262626;transform:translateX(-100%)">15</span>
<span class="t" style="left:42.60px;top:450.10px;font-size:8.2px;line-height:8.2px;font-weight:400;color:#262626;transform:translateX(-100%)">20</span>
<span class="t" style="left:42.60px;top:424.22px;font-size:8.2px;line-height:8.2px;font-weight:400;color:#262626;transform:translateX(-100%)">25</span>
<span class="t" style="left:42.60px;top:398.35px;font-size:8.2px;line-height:8.2px;font-weight:400;color:#262626;transform:translateX(-100%)">30</span>
<span class="t" style="left:42.60px;top:372.47px;font-size:8.2px;line-height:8.2px;font-weight:400;color:#262626;transform:translateX(-100%)">35</span>
<span class="t" style="left:42.60px;top:346.60px;font-size:8.2px;line-height:8.2px;font-weight:400;color:#262626;transform:translateX(-100%)">40</span>
<span class="t" style="left:233.60px;top:553.50px;font-size:8.2px;line-height:8.2px;font-weight:400;color:#262626;transform:translateX(-100%)">0</span>
<span class="t" style="left:233.60px;top:527.62px;font-size:8.2px;line-height:8.2px;font-weight:400;color:#262626;transform:translateX(-100%)">5</span>
<span class="t" style="left:233.60px;top:501.75px;font-size:8.2px;line-height:8.2px;font-weight:400;color:#262626;transform:translateX(-100%)">10</span>
<span class="t" style="left:233.60px;top:475.88px;font-size:8.2px;line-height:8.2px;font-weight:400;color:#262626;transform:translateX(-100%)">15</span>
<span class="t" style="left:233.60px;top:450.00px;font-size:8.2px;line-height:8.2px;font-weight:400;color:#262626;transform:translateX(-100%)">20</span>
<span class="t" style="left:233.60px;top:424.12px;font-size:8.2px;line-height:8.2px;font-weight:400;color:#262626;transform:translateX(-100%)">25</span>
<span class="t" style="left:233.60px;top:398.25px;font-size:8.2px;line-height:8.2px;font-weight:400;color:#262626;transform:translateX(-100%)">30</span>
<span class="t" style="left:233.60px;top:372.38px;font-size:8.2px;line-height:8.2px;font-weight:400;color:#262626;transform:translateX(-100%)">35</span>
<span class="t" style="left:233.60px;top:346.50px;font-size:8.2px;line-height:8.2px;font-weight:400;color:#262626;transform:translateX(-100%)">40</span>
<span class="t" style="left:424.60px;top:554.50px;font-size:8.2px;line-height:8.2px;font-weight:400;color:#262626;transform:translateX(-100%)">0</span>
<span class="t" style="left:424.60px;top:528.62px;font-size:8.2px;line-height:8.2px;font-weight:400;color:#262626;transform:translateX(-100%)">5</span>
<span class="t" style="left:424.60px;top:502.75px;font-size:8.2px;line-height:8.2px;font-weight:400;color:#262626;transform:translateX(-100%)">10</span>
<span class="t" style="left:424.60px;top:476.88px;font-size:8.2px;line-height:8.2px;font-weight:400;color:#262626;transform:translateX(-100%)">15</span>
<span class="t" style="left:424.60px;top:451.00px;font-size:8.2px;line-height:8.2px;font-weight:400;color:#262626;transform:translateX(-100%)">20</span>
<span class="t" style="left:424.60px;top:425.12px;font-size:8.2px;line-height:8.2px;font-weight:400;color:#262626;transform:translateX(-100%)">25</span>
<span class="t" style="left:424.60px;top:399.25px;font-size:8.2px;line-height:8.2px;font-weight:400;color:#262626;transform:translateX(-100%)">30</span>
<span class="t" style="left:424.60px;top:373.38px;font-size:8.2px;line-height:8.2px;font-weight:400;color:#262626;transform:translateX(-100%)">35</span>
<span class="t" style="left:424.60px;top:347.50px;font-size:8.2px;line-height:8.2px;font-weight:400;color:#262626;transform:translateX(-100%)">40</span>
<span class="t" style="left:49.50px;top:290.10px;font-size:8.2px;line-height:8.2px;font-weight:400;color:#262626;transform:translateX(-50%)">0</span>
<span class="t" style="left:77.00px;top:290.10px;font-size:8.2px;line-height:8.2px;font-weight:400;color:#262626;transform:translateX(-50%)">5</span>
<span class="t" style="left:105.00px;top:290.10px;font-size:8.2px;line-height:8.2px;font-weight:400;color:#262626;transform:translateX(-50%)">10</span>
<span class="t" style="left:240.70px;top:292.80px;font-size:8.2px;line-height:8.2px;font-weight:400;color:#262626;transform:translateX(-50%)">0</span>
<span class="t" style="left:268.70px;top:292.80px;font-size:8.2px;line-height:8.2px;font-weight:400;color:#262626;transform:translateX(-50%)">5</span>
<span class="t" style="left:296.20px;top:292.80px;font-size:8.2px;line-height:8.2px;font-weight:400;color:#262626;transform:translateX(-50%)">10</span>
<span class="t" style="left:430.50px;top:297.30px;font-size:8.2px;line-height:8.2px;font-weight:400;color:#262626;transform:translateX(-50%)">0</span>
<span class="t" style="left:457.80px;top:297.30px;font-size:8.2px;line-height:8.2px;font-weight:400;color:#262626;transform:translateX(-50%)">5</span>
<span class="t" style="left:485.90px;top:297.30px;font-size:8.2px;line-height:8.2px;font-weight:400;color:#262626;transform:translateX(-50%)">10</span>
<span class="t" style="left:49.60px;top:565.10px;font-size:8.2px;line-height:8.2px;font-weight:400;color:#262626;transform:translateX(-50%)">0</span>
<span class="t" style="left:77.10px;top:565.10px;font-size:8.2px;line-height:8.2px;font-weight:400;color:#262626;transform:translateX(-50%)">5</span>
<span class="t" style="left:104.30px;top:565.10px;font-size:8.2px;line-height:8.2px;font-weight:400;color:#262626;transform:translateX(-50%)">10</span>
<span class="t" style="left:241.10px;top:565.50px;font-size:8.2px;line-height:8.2px;font-weight:400;color:#262626;transform:translateX(-50%)">0</span>
<span class="t" style="left:268.70px;top:565.50px;font-size:8.2px;line-height:8.2px;font-weight:400;color:#262626;transform:translateX(-50%)">5</span>
<span class="t" style="left:296.40px;top:565.50px;font-size:8.2px;line-height:8.2px;font-weight:400;color:#262626;transform:translateX(-50%)">10</span>
<span class="t" style="left:432.20px;top:566.60px;font-size:8.2px;line-height:8.2px;font-weight:400;color:#262626;transform:translateX(-50%)">0</span>
<span class="t" style="left:460.00px;top:566.60px;font-size:8.2px;line-height:8.2px;font-weight:400;color:#262626;transform:translateX(-50%)">5</span>
<span class="t" style="left:487.10px;top:566.60px;font-size:8.2px;line-height:8.2px;font-weight:400;color:#262626;transform:translateX(-50%)">10</span>
<span class="t" style="left:81.70px;top:304.59px;font-size:8.2px;line-height:8.2px;font-weight:400;color:#262626;transform:translateX(-50%)">m</span>
<span class="t" style="left:273.00px;top:307.79px;font-size:8.2px;line-height:8.2px;font-weight:400;color:#262626;transform:translateX(-50%)">m</span>
<span class="t" style="left:462.60px;top:311.89px;font-size:8.2px;line-height:8.2px;font-weight:400;color:#262626;transform:translateX(-50%)">m</span>
<span class="t" style="left:81.40px;top:580.19px;font-size:8.2px;line-height:8.2px;font-weight:400;color:#262626;transform:translateX(-50%)">m</span>
<span class="t" style="left:273.10px;top:579.89px;font-size:8.2px;line-height:8.2px;font-weight:400;color:#262626;transform:translateX(-50%)">m</span>
<span class="t" style="left:464.20px;top:580.59px;font-size:8.2px;line-height:8.2px;font-weight:400;color:#262626;transform:translateX(-50%)">m</span>
<span class="t" style="left:24.50px;top:192.20px;font-size:8.2px;line-height:8.2px;font-weight:400;color:#262626;transform:translate(-50%,-50%) rotate(-90deg) translateY(0.71px)">m</span>
<span class="t" style="left:215.70px;top:196.10px;font-size:8.2px;line-height:8.2px;font-weight:400;color:#262626;transform:translate(-50%,-50%) rotate(-90deg) translateY(0.71px)">m</span>
<span class="t" style="left:405.00px;top:200.20px;font-size:8.2px;line-height:8.2px;font-weight:400;color:#262626;transform:translate(-50%,-50%) rotate(-90deg) translateY(0.71px)">m</span>
<span class="t" style="left:24.40px;top:468.20px;font-size:8.2px;line-height:8.2px;font-weight:400;color:#262626;transform:translate(-50%,-50%) rotate(-90deg) translateY(0.71px)">m</span>
<span class="t" style="left:215.60px;top:468.30px;font-size:8.2px;line-height:8.2px;font-weight:400;color:#262626;transform:translate(-50%,-50%) rotate(-90deg) translateY(0.71px)">m</span>
<span class="t" style="left:405.30px;top:469.70px;font-size:8.2px;line-height:8.2px;font-weight:400;color:#262626;transform:translate(-50%,-50%) rotate(-90deg) translateY(0.71px)">m</span>
<span class="t" style="left:144.20px;top:54.70px;font-size:8.2px;line-height:8.2px;font-weight:400;color:#262626;transform:translateX(-50%)">100</span>
<span class="t" style="left:144.70px;top:133.10px;font-size:8.2px;line-height:8.2px;font-weight:400;color:#262626;transform:translateX(-50%)">50</span>
<span class="t" style="left:140.20px;top:208.20px;font-size:8.2px;line-height:8.2px;font-weight:400;color:#262626;transform:translateX(-50%)">0</span>
<span class="t" style="left:147.30px;top:281.20px;font-size:8.2px;line-height:8.2px;font-weight:400;color:#262626;transform:translateX(-50%)">50</span>
<div class="mn" style="left:135.00px;top:283.40px"></div>
<span class="t" style="left:335.90px;top:58.10px;font-size:8.2px;line-height:8.2px;font-weight:400;color:#262626;transform:translateX(-50%)">100</span>
<span class="t" style="left:335.60px;top:136.70px;font-size:8.2px;line-height:8.2px;font-weight:400;color:#262626;transform:translateX(-50%)">50</span>
<span class="t" style="left:331.20px;top:212.00px;font-size:8.2px;line-height:8.2px;font-weight:400;color:#262626;transform:translateX(-50%)">0</span>
<span class="t" style="left:338.10px;top:284.70px;font-size:8.2px;line-height:8.2px;font-weight:400;color:#262626;transform:translateX(-50%)">50</span>
<div class="mn" style="left:325.80px;top:286.90px"></div>
<span class="t" style="left:524.80px;top:62.40px;font-size:8.2px;line-height:8.2px;font-weight:400;color:#262626;transform:translateX(-50%)">100</span>
<span class="t" style="left:525.30px;top:140.30px;font-size:8.2px;line-height:8.2px;font-weight:400;color:#262626;transform:translateX(-50%)">50</span>
<span class="t" style="left:521.40px;top:216.10px;font-size:8.2px;line-height:8.2px;font-weight:400;color:#262626;transform:translateX(-50%)">0</span>
<span class="t" style="left:528.50px;top:288.80px;font-size:8.2px;line-height:8.2px;font-weight:400;color:#262626;transform:translateX(-50%)">50</span>
<div class="mn" style="left:516.20px;top:291.00px"></div>
<span class="t" style="left:144.10px;top:330.60px;font-size:8.2px;line-height:8.2px;font-weight:400;color:#262626;transform:translateX(-50%)">100</span>
<span class="t" style="left:144.80px;top:409.00px;font-size:8.2px;line-height:8.2px;font-weight:400;color:#262626;transform:translateX(-50%)">50</span>
<span class="t" style="left:140.50px;top:484.40px;font-size:8.2px;line-height:8.2px;font-weight:400;color:#262626;transform:translateX(-50%)">0</span>
<span class="t" style="left:147.40px;top:557.00px;font-size:8.2px;line-height:8.2px;font-weight:400;color:#262626;transform:translateX(-50%)">50</span>
<div class="mn" style="left:135.10px;top:559.20px"></div>
<span class="t" style="left:335.50px;top:330.50px;font-size:8.2px;line-height:8.2px;font-weight:400;color:#262626;transform:translateX(-50%)">100</span>
<span class="t" style="left:336.30px;top:409.10px;font-size:8.2px;line-height:8.2px;font-weight:400;color:#262626;transform:translateX(-50%)">50</span>
<span class="t" style="left:332.10px;top:484.20px;font-size:8.2px;line-height:8.2px;font-weight:400;color:#262626;transform:translateX(-50%)">0</span>
<span class="t" style="left:338.80px;top:557.30px;font-size:8.2px;line-height:8.2px;font-weight:400;color:#262626;transform:translateX(-50%)">50</span>
<div class="mn" style="left:326.50px;top:559.50px"></div>
<span class="t" style="left:527.00px;top:331.00px;font-size:8.2px;line-height:8.2px;font-weight:400;color:#262626;transform:translateX(-50%)">100</span>
<span class="t" style="left:527.80px;top:409.40px;font-size:8.2px;line-height:8.2px;font-weight:400;color:#262626;transform:translateX(-50%)">50</span>
<span class="t" style="left:523.60px;top:485.10px;font-size:8.2px;line-height:8.2px;font-weight:400;color:#262626;transform:translateX(-50%)">0</span>
<span class="t" style="left:530.00px;top:558.20px;font-size:8.2px;line-height:8.2px;font-weight:400;color:#262626;transform:translateX(-50%)">50</span>
<div class="mn" style="left:517.70px;top:560.40px"></div>
<span class="t" style="left:155.60px;top:177.50px;font-size:8.2px;line-height:8.2px;font-weight:400;color:#262626;transform:translate(-50%,-50%) rotate(-90deg) translateY(0.00px)">nT</span>
<span class="t" style="left:346.00px;top:182.00px;font-size:8.2px;line-height:8.2px;font-weight:400;color:#262626;transform:translate(-50%,-50%) rotate(-90deg) translateY(0.00px)">nT</span>
<span class="t" style="left:537.70px;top:180.60px;font-size:8.2px;line-height:8.2px;font-weight:400;color:#262626;transform:translate(-50%,-50%) rotate(-90deg) translateY(0.00px)">nT/m</span>
<span class="t" style="left:156.40px;top:453.80px;font-size:8.2px;line-height:8.2px;font-weight:400;color:#262626;transform:translate(-50%,-50%) rotate(-90deg) translateY(0.00px)">nT</span>
<span class="t" style="left:347.70px;top:453.60px;font-size:8.2px;line-height:8.2px;font-weight:400;color:#262626;transform:translate(-50%,-50%) rotate(-90deg) translateY(0.00px)">nT</span>
<span class="t" style="left:540.10px;top:449.40px;font-size:8.2px;line-height:8.2px;font-weight:400;color:#262626;transform:translate(-50%,-50%) rotate(-90deg) translateY(0.00px)">nT/m</span>
<div style="position:absolute;left:428px;top:340.6px;width:55.5px;height:1px;background:#222"></div>
<svg class="na" width="550" height="594" viewBox="0 0 550 594" style="position:absolute;left:0;top:0">
<g stroke="#000" stroke-width="2.6" fill="none" stroke-linecap="round" stroke-linejoin="miter">
<path d="M533.2 29.0 L531.6 15.2 L542.6 26.8 L541.6 13.6"/>
<path d="M535.5 9 L539.6 37.2" stroke-width="1.5"/>
</g>
<path d="M534.8 4.2 L532.8 9.2 L538.3 8.6 Z" fill="#000"/>
</svg>
</body></html>
